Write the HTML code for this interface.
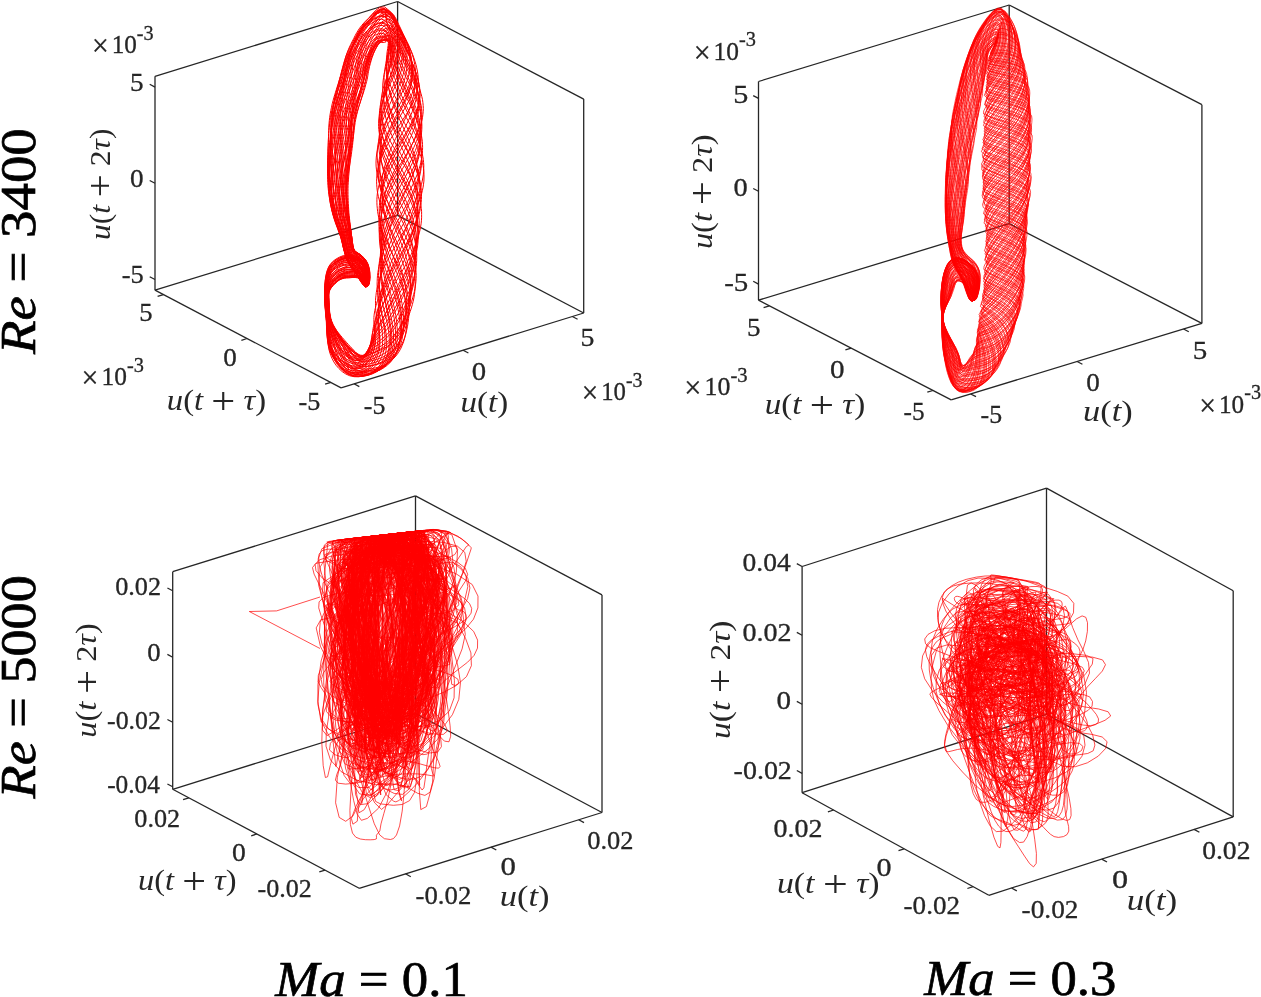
<!DOCTYPE html>
<html><head><meta charset="utf-8"><style>
html,body{margin:0;padding:0;background:#fff;}
svg{display:block;}
text{font-family:"Liberation Serif",serif;fill:#262626;}
.big text{fill:#000;stroke:#000;stroke-width:0.7px;}
.tk text{stroke:#262626;stroke-width:0.3px;}
</style></head><body>
<svg width="1261" height="997" viewBox="0 0 1261 997">
<rect width="1261" height="997" fill="#fff"/>
<g id="axes"><line x1="155.0" y1="76.3" x2="397.6" y2="1.5" stroke="#262626" stroke-width="1.3"/><line x1="397.6" y1="1.5" x2="583.7" y2="99.1" stroke="#262626" stroke-width="1.3"/><line x1="397.6" y1="1.5" x2="397.6" y2="215.4" stroke="#262626" stroke-width="1.3"/><line x1="155.0" y1="76.3" x2="155.0" y2="290.2" stroke="#262626" stroke-width="1.3"/><line x1="583.7" y1="99.1" x2="583.7" y2="313.0" stroke="#262626" stroke-width="1.3"/><line x1="155.0" y1="290.2" x2="397.6" y2="215.4" stroke="#262626" stroke-width="1.3"/><line x1="397.6" y1="215.4" x2="583.7" y2="313.0" stroke="#262626" stroke-width="1.3"/><line x1="155.0" y1="290.2" x2="341.1" y2="387.8" stroke="#262626" stroke-width="1.3"/><line x1="341.1" y1="387.8" x2="583.7" y2="313.0" stroke="#262626" stroke-width="1.3"/><line x1="155.0" y1="279.5" x2="149.7" y2="276.7" stroke="#262626" stroke-width="1.3"/><line x1="155.0" y1="183.3" x2="149.7" y2="180.5" stroke="#262626" stroke-width="1.3"/><line x1="155.0" y1="87.1" x2="149.7" y2="84.3" stroke="#262626" stroke-width="1.3"/><line x1="163.4" y1="294.6" x2="157.6" y2="296.4" stroke="#262626" stroke-width="1.3"/><line x1="247.1" y1="338.5" x2="241.4" y2="340.3" stroke="#262626" stroke-width="1.3"/><line x1="330.9" y1="382.4" x2="325.1" y2="384.2" stroke="#262626" stroke-width="1.3"/><line x1="354.0" y1="383.8" x2="359.3" y2="386.6" stroke="#262626" stroke-width="1.3"/><line x1="463.1" y1="350.2" x2="468.4" y2="353.0" stroke="#262626" stroke-width="1.3"/><line x1="572.3" y1="316.5" x2="577.6" y2="319.3" stroke="#262626" stroke-width="1.3"/><line x1="758.5" y1="81.5" x2="1009.2" y2="5.0" stroke="#262626" stroke-width="1.3"/><line x1="1009.2" y1="5.0" x2="1201.9" y2="104.7" stroke="#262626" stroke-width="1.3"/><line x1="1009.2" y1="5.0" x2="1009.2" y2="223.7" stroke="#262626" stroke-width="1.3"/><line x1="758.5" y1="81.5" x2="758.5" y2="300.2" stroke="#262626" stroke-width="1.3"/><line x1="1201.9" y1="104.7" x2="1201.9" y2="323.4" stroke="#262626" stroke-width="1.3"/><line x1="758.5" y1="300.2" x2="1009.2" y2="223.7" stroke="#262626" stroke-width="1.3"/><line x1="1009.2" y1="223.7" x2="1201.9" y2="323.4" stroke="#262626" stroke-width="1.3"/><line x1="758.5" y1="300.2" x2="951.2" y2="399.9" stroke="#262626" stroke-width="1.3"/><line x1="951.2" y1="399.9" x2="1201.9" y2="323.4" stroke="#262626" stroke-width="1.3"/><line x1="758.5" y1="284.1" x2="753.2" y2="281.3" stroke="#262626" stroke-width="1.3"/><line x1="758.5" y1="191.3" x2="753.2" y2="188.5" stroke="#262626" stroke-width="1.3"/><line x1="758.5" y1="98.4" x2="753.2" y2="95.6" stroke="#262626" stroke-width="1.3"/><line x1="769.4" y1="305.8" x2="763.6" y2="307.6" stroke="#262626" stroke-width="1.3"/><line x1="851.2" y1="348.2" x2="845.4" y2="349.9" stroke="#262626" stroke-width="1.3"/><line x1="933.0" y1="390.5" x2="927.3" y2="392.2" stroke="#262626" stroke-width="1.3"/><line x1="970.6" y1="394.0" x2="976.0" y2="396.7" stroke="#262626" stroke-width="1.3"/><line x1="1077.1" y1="361.5" x2="1082.4" y2="364.3" stroke="#262626" stroke-width="1.3"/><line x1="1183.5" y1="329.0" x2="1188.8" y2="331.8" stroke="#262626" stroke-width="1.3"/><line x1="172.7" y1="571.7" x2="415.5" y2="495.9" stroke="#262626" stroke-width="1.3"/><line x1="415.5" y1="495.9" x2="602.0" y2="594.9" stroke="#262626" stroke-width="1.3"/><line x1="415.5" y1="495.9" x2="415.5" y2="713.5" stroke="#262626" stroke-width="1.3"/><line x1="172.7" y1="571.7" x2="172.7" y2="789.3" stroke="#262626" stroke-width="1.3"/><line x1="602.0" y1="594.9" x2="602.0" y2="812.5" stroke="#262626" stroke-width="1.3"/><line x1="172.7" y1="789.3" x2="415.5" y2="713.5" stroke="#262626" stroke-width="1.3"/><line x1="415.5" y1="713.5" x2="602.0" y2="812.5" stroke="#262626" stroke-width="1.3"/><line x1="172.7" y1="789.3" x2="359.2" y2="888.3" stroke="#262626" stroke-width="1.3"/><line x1="359.2" y1="888.3" x2="602.0" y2="812.5" stroke="#262626" stroke-width="1.3"/><line x1="172.7" y1="786.8" x2="167.4" y2="784.0" stroke="#262626" stroke-width="1.3"/><line x1="172.7" y1="722.3" x2="167.4" y2="719.5" stroke="#262626" stroke-width="1.3"/><line x1="172.7" y1="657.2" x2="167.4" y2="654.4" stroke="#262626" stroke-width="1.3"/><line x1="172.7" y1="590.8" x2="167.4" y2="588.0" stroke="#262626" stroke-width="1.3"/><line x1="188.8" y1="797.9" x2="183.1" y2="799.7" stroke="#262626" stroke-width="1.3"/><line x1="256.9" y1="834.0" x2="251.2" y2="835.8" stroke="#262626" stroke-width="1.3"/><line x1="325.0" y1="870.1" x2="319.3" y2="871.9" stroke="#262626" stroke-width="1.3"/><line x1="405.5" y1="873.8" x2="410.8" y2="876.7" stroke="#262626" stroke-width="1.3"/><line x1="491.0" y1="847.1" x2="496.3" y2="850.0" stroke="#262626" stroke-width="1.3"/><line x1="578.7" y1="819.8" x2="584.0" y2="822.6" stroke="#262626" stroke-width="1.3"/><line x1="802.1" y1="566.5" x2="1046.5" y2="488.1" stroke="#262626" stroke-width="1.3"/><line x1="1046.5" y1="488.1" x2="1233.2" y2="590.7" stroke="#262626" stroke-width="1.3"/><line x1="1046.5" y1="488.1" x2="1046.5" y2="714.3" stroke="#262626" stroke-width="1.3"/><line x1="802.1" y1="566.5" x2="802.1" y2="792.7" stroke="#262626" stroke-width="1.3"/><line x1="1233.2" y1="590.7" x2="1233.2" y2="816.9" stroke="#262626" stroke-width="1.3"/><line x1="802.1" y1="792.7" x2="1046.5" y2="714.3" stroke="#262626" stroke-width="1.3"/><line x1="1046.5" y1="714.3" x2="1233.2" y2="816.9" stroke="#262626" stroke-width="1.3"/><line x1="802.1" y1="792.7" x2="988.8" y2="895.3" stroke="#262626" stroke-width="1.3"/><line x1="988.8" y1="895.3" x2="1233.2" y2="816.9" stroke="#262626" stroke-width="1.3"/><line x1="802.1" y1="773.4" x2="796.8" y2="770.5" stroke="#262626" stroke-width="1.3"/><line x1="802.1" y1="704.3" x2="796.8" y2="701.4" stroke="#262626" stroke-width="1.3"/><line x1="802.1" y1="635.3" x2="796.8" y2="632.4" stroke="#262626" stroke-width="1.3"/><line x1="802.1" y1="566.5" x2="796.8" y2="563.6" stroke="#262626" stroke-width="1.3"/><line x1="833.7" y1="810.0" x2="827.9" y2="811.9" stroke="#262626" stroke-width="1.3"/><line x1="904.2" y1="848.8" x2="898.5" y2="850.7" stroke="#262626" stroke-width="1.3"/><line x1="973.1" y1="886.7" x2="967.4" y2="888.5" stroke="#262626" stroke-width="1.3"/><line x1="1011.5" y1="888.0" x2="1016.8" y2="890.9" stroke="#262626" stroke-width="1.3"/><line x1="1101.7" y1="859.1" x2="1107.0" y2="862.0" stroke="#262626" stroke-width="1.3"/><line x1="1194.1" y1="829.4" x2="1199.4" y2="832.3" stroke="#262626" stroke-width="1.3"/></g>
<g id="traj"><path d="M384.6 8.4l-4.4.6-4 2.8-3.6 3.9-3.4 4-3.2 3.7-2.8 3.6-2.4 3.5-1.9 3.4-1.6 3.2-1.4 3.2-1.2 2.9-1.1 2.9-1.1 2.8-1 2.9-.9 3-.9 3.3-.8 3.5-.8 3.7-.7 3.7-.6 3.6-.6 3.5-.5 3.2-.5 3.1-.5 2.9-.4 2.8-.5 2.8-.4 2.9-.5 2.9-.4 3-.5 3-.4 3.1-.4 3.1-.3 3.1-.2 3.1-.1 3.2 0 3 0 3.1.1 3.1.2 3.1.2 3 .1 3.1.1 3 .1 3 .1 3 .1 3.1.1 3 0 3 0 3.1.1 3 0 3.1.1 3 0 3 .1 3.1 0 3 .2 3.1.1 3 .2 3.1.2 3 .3 3.1.3 3.1.4 3 .4 3.1.4 3 .5 3.1.5 3 .6 3 .6 3 .5 2.9.7 2.9.6 2.8.6 2.9.6 2.8.6 3 .6 3 .5 3.2.6 3.3.6 3.3.8 2.8 1.1 2.1 1.5 1.3 1.8 1.1 2 1.3 2.2 1.6 2.2 2.2 2 2.7 1.6 3.3 1.2 3.9.7 4.5.2 4.4-.3 3.9-.6 3-1 1.6-1.2-.2-1.5-1.5-1.8-2.2-1.8-2.2-2-1.6-2.1-1-2.2-.5-2.3-.2-2.3 0-2.2 0-2.3 0-2.4.3-2.3.5-2.5 1-2.4 1.6-2.3 1.8-2 2.1-1.6 2-1.2 1.9-.8 2-.5 2-.3 2.1 0 2.2 0 2.5 0 2.7.1 2.9.1 3 .1 3.1.3 3.2.4 3.2.5 3.1.6 3.1.9 3 .9 2.9 1 2.9 1 2.9 1 2.9 1 2.8.9 2.8 1 2.8 1 2.8 1 2.9 1.2 2.9 1.4 3 1.5 3 1.8 3 2.1 2.9 2.5 2.4 2.8 2 3.2 1.4 3.5.7 3.9.2 4-.3 4.2-.8 4.2-1.2 4-1.6 3.8-2 3.3-2.4 3-2.8 2.6-3.1 2.2-3.3 1.9-3.6 1.4-3.8 1.2-3.9.8-3.9.5-4 .4-4 .1-3.9-.1-3.9-.1-3.7-.3-3.6-.4-3.5-.5-3.5-.6-3.3-.6-3.3-.7-3.3-.8-3.1-.9-3.1-.9-3.1-.9-3.1-1-3-1.1-3.1-1-3-1-3-1.1-3-1-3-1-3-.9-3-1-3-.8-3.1-.8-3-.7-3.1-.6-3-.6-3.1-.4-3.1-.4-3-.3-3.1-.2-3-.1-3.1 0-3.1.1-3 .2-3.1.3-3 .4-3.1.5-3 .6-3.1.8-3 .8-3 1-3.1 1.1-3 1.1-3 1.3-3.1 1.3-3 1.4-3 1.5-3.1 1.6-3 1.5-3 1.7-3.1 1.6-3 1.7-3.1 1.7-3.1 1.6-3 1.7-3.1 1.6-3.1 1.6-3 1.5-3.1 1.4-3.1 1.4-3 1.2-3.1 1.2-3 1.1-3 .9-3 .9-3 .7-3 .6-3 .4-2.9.3-3 .1-2.9 0-3-.2-2.9-.4-3-.5-3-.6-3.1-.8-3-1-3.1-1-3.2-1.2-3.1-1.3-3.2-1.3-3.2-1.4-3.2-1.5-3.2-1.4-3.2-1.5-3.1-1.4-3-1.4-3.1-1.4-2.9-1.3-3-1.2-2.9-1.3-3-1.3-2.9-1.5-2.7-1.6-2.3-1.7-1.7-1.8-1.1-1.5-.7-1.4-.2-1.3.1-1.4 1.8-1.4 1.2-1.4 1.5-1.4 1.3-1 1.1-.8.8-.7 1-1 1.3-1 1.7-1.2 2.1-1.2 2.5-1.2 2.7-1.1 2.9-1.1 3-1 2.9-.8 2.8-.7 2.6-.5 2.1-.5 2-.4 1.9-.5 2-.5 2.2-.8 2.5-.8 2.8-1 3.1-1.1 3.1-1.1 3.3-1.1 3.2-1.1 3.1-1.1 2.9-1 2.9-1 2.7-1 2.7-.8 2.6-.8 2.7-.7 2.7-.7 2.8-.6 2.8-.5 2.9-.5 2.9-.6 2.9-.5 3-.6 3-.6 3.1-.7 3-.6 3-.7 3.1-.7 3-.7 3.1-.6 3-.7 3.1-.6 3-.6 3-.6 3.1-.5 3-.4 3.1-.4 3-.4 3.1-.3 3-.1 3.1-.2 3 0 3.1 0 3 .1 3 .1 3 .2 3.1.3 3 .4 2.9.4 3 .6 3 .6 3 .6 3 .7 3 .7 2.9.6 3 .5 2.9.5 2.8.4 2.9.6 3 .8 3.3 1.2 3.5 1.4 3.3 1.4 2.9 1.5 2.5 1.6 2.3 1.6 2.4 1.7 2.7 1.7 3.3 1.8 3.8 1.7 3.7 1.7 3 1.5 1.8 1.1-.1.7-2.2.2-3.9-.5-4.8-1.1-4.9-1.9-4.3-2.6-3.4-3.1-2.6-3.6-1.7-3.8-.9-3.8 0-3.9.6-3.6 1.3-3.3 1.7-2.9 2.1-2.3 2.2-1.9 2.6-1.5 2.9-1.2 3.3-.8 3.7-.6 4.1-.4 4.2-.2 4.3 0 4.2.1 4.1.1 3.8.2 3.5.3 3.2.2 2.9.3 2.8.3 2.7.3 2.8.2 2.9.3 3 .3 3 .3 3.1.5 3.1.6 3 .7 3 .9 3 1.2 2.9 1.4 2.8 1.7 2.8 2.1 2.8 2.4 2.7 2.7 2.5 3 2.3 3.2 1.8 3.3 1.3 3.4.6 3.3-.2 3.3-1.1 3.1-1.7 2.8-2.4 2.4-2.9 1.9-3.3 1.5-3.4 1-3.5.8-3.3.4-3.3.3-3.1.1-3 .1-2.8-.1-2.7 0-2.6.1-2.5 0-2.4.1-2.4.2-2.3.3-2.3.4-2.4.4-2.4.5-2.5.6-2.5.7-2.6.8-2.6.9-2.7.9-2.7 1.1-2.8 1.1-2.8 1.2-2.9 1.3-2.9 1.3-2.9 1.4-3 1.5-3 1.5-3 1.5-3 1.6-3 1.7-3.1 1.6-3 1.6-3 1.7-3.1 1.6-3 1.6-3.1 1.5-3 1.6-3.1 1.4-3 1.4-3 1.4-3.1 1.3-3 1.2-3 1.2-3.1 1-3 1-3.1.8-3 .8-3 .6-3.1.5-3 .4-3.1.2-3 .1-3.1 0-3-.2-3.1-.3-3.1-.5-3-.6-3.1-.8-3.1-.9-3-1-3.1-1.1-3.1-1.3-3-1.4-3.1-1.4-3-1.6-3-1.6-3.1-1.7-3-1.7-3-1.7-3-1.8-3.1-1.8-3-1.7-3-1.8-3.1-1.6-3-1.7-3.1-1.5-3.1-1.5-3.1-1.3-3.1-1.3-3.1-1.1-3.2-1-3.1-.8-3.2-.8-3.1-.5-3.2-.4-3.1-.3-3.1-.1-3 0-3 .2-2.9.3-2.9.4-2.8.5-2.7.5-2.7.7-2.7.7-2.7.7-2.8.8-3 .9-3 .9-3.2.9-3.3.8-3.2.7-2.9.5-2.7.1-2.2-.3-2.2-.6-2.3-.7-2.9-1.1-3.4-1.9-3.5-2.7-2.7-3.1-.8-3.2.6-3.2 1.5-3 2-2.9 2.2-2.7 2.5-2.3 2.6-2 2.9-1.8 2.8-1.7 2.8-1.6 2.7-1.5 2.6-1.4 2.6-1.4 2.6-1.4 2.8-1.2 3-1.3 3.2-1.2 3.5-1.1 3.6-1.1 3.5-1.1 3.5-1.1 3.2-.9 3-1 2.8-.9 2.7-.9 2.7-.9 2.6-.9 2.8-.9 2.8-.8 3-.9 3.1-.8 3.2-.8 3.2-.6 3.3-.6 3.3-.5 3.2-.3 3.2-.3 3.3-.2 3.1-.2 3.2-.2 3.1-.2 3.1-.2 3-.2 3.1-.2 3-.1 3-.2 3-.1 3-.1 3 0 3 0 3.1.1 3 .1 3.1.1 3 .2 3.1.2 3 .3 3.1.3 3 .4 3 .4 3 .5 3.1.6 3 .6 3 .7 3 .8 3 .8 3.1.9 3 1 3 1 3 1.1 3.1 1.1 3 1 2.9 1.1 3 .9 2.9.9 2.9.7 2.9.7 2.9.9 3 1.1 3.1 1.5 3.1 1.7 2.7 1.9 2.3 1.9 2.1 2 2 2 2.3 2 2.7 1.9 3.4 1.6 3.9 1.3 3.8 1 3.3.5 2.3 0 .8-.4-1.1-.8-2.5-1.2-3.2-1.7-3-2.1-2.3-2.4-1.5-2.6-.7-2.7-.2-2.7.2-2.7.5-2.5.6-2.5.8-2.4 1.2-2.4 1.5-2.2 2-2.2 2.3-1.9 2.5-1.4 2.3-1.1 2.3-.7 2.1-.4 2-.2 2 0 2 .1 2.2.2 2.4.1 2.7.2 2.9.2 3.1.3 3.2.5 3.3.7 3.2 1.1 3.1 1.3 2.9 1.6 2.9 1.7 2.6 1.9 2.6 2 2.4 2 2.4 2 2.3 2 2.3 1.9 2.1 1.9 2.1 1.9 2 1.7 1.9 1.7 1.7 1.6 1.7 1.6 1.3 1.4 1.1 1.4.7 1.4.1 1.4-.2 1.5-.6 1.6-.7 1.8-.9 2.1-.9 2.3-.8 2.5-.9 2.6-1 2.7-1.2 2.7-1.3 2.7-1.6 2.6-1.9 2.6-2.1 2.5-2.4 2.3-2.7 2.2-2.8 2-3.1 1.9-3.2 1.7-3.4 1.6-3.4 1.5-3.4 1.4-3.4 1.2-3.5 1.1-3.4 1-3.4.9-3.4.7-3.3.5-3.3.4-3.3.3-3.2.1-3.2 0-3.2-.1-3.1-.3-3.1-.5-3.1-.6-3.1-.7-3.1-.8-3-1-3.1-1-3-1.1-3-1.3-3.1-1.2-3-1.4-3-1.4-3.1-1.4-3-1.5-3.1-1.5-3-1.5-3.1-1.5-3-1.5-3.1-1.6-3-1.5-3.1-1.4-3-1.5-3.1-1.4-3-1.3-3.1-1.2-3-1.2-3.1-1.1-3-1-3-.9-3.1-.8-3-.6-3-.6-3-.3-3.1-.3-3-.1-3 0-3 .2-3 .4-3 .4-3.1.6-3 .8-3 .8-3.1 1-3 1.1-3.1 1.2-3.1 1.4-3 1.4-3.1 1.4-3.1 1.6-3.1 1.6-3.1 1.6-3.1 1.7-3 1.7-3.1 1.7-3 1.6-3.1 1.6-3 1.6-3 1.5-3 1.4-3 1.2-3 1.2-2.9 1-3 .8-3.1.7-3 .5-3.1.3-3.2.1-3.2 0-3.2-.3-3.3-.3-3.3-.5-3.3-.6-3.2-.8-3.1-.7-3-.9-3-1.1-3-1.3-3.1-1.6-3.5-2-3.9-2.4-4.3-2.4-4.3-2.4-4.2-2.6-3.6-3.5-2.5-4-2-3.7 1.6-3.2 3.3-2.7 3.9-2.4 3.6-2.2 3.1-1.9 2.9-1.7 2.9-1.5 2.9-1.2 3-1.2 3-1 2.9-.9 3.1-.8 3-.8 3-.6 3.1-.6 3.1-.4 3-.4 3-.3 2.9-.2 2.8-.3 2.9-.3 2.8-.4 3-.4 3-.5 3.1-.5 3.1-.5 3.2-.5 3.1-.5 3-.5 3-.4 2.9-.3 2.9-.3 2.8-.3 2.8-.1 2.8-.1 2.8 0 2.9 0 2.9.1 2.9 0 2.9 0 3 0 3-.1 3-.1 3.1-.1 3-.2 3.1-.2 3-.2 3.1-.3 3-.3 3.1-.3 3-.3 3-.2 3.1-.3 3-.2 3-.2 3.1-.2 3.1-.1 3 0 3.1 0 3.1.1 3.1.1 3.1.1 3 .2 3.1.2 3 .2 3 .3 2.9.3 2.9.3 2.8.3 2.9.4 2.8.4 2.9.3 2.9.4 3.1.4 3.2.3 3.3.4 3.3.7 2.8.9 2.1 1.3 1.4 1.7 1.3 1.8 1.5 2 1.9 1.9 2.3 1.8 2.7 1.5 3.4 1.1 4 .7 4.4.3 4.4 0 3.8-.1 2.8-.5 1.1-.8-.7-1-2.1-1.3-3-1.6-3.1-1.9-2.6-2.2-2-2.5-1.4-2.6-.9-2.8-.5-2.9-.3-2.9 0-2.9.4-2.8.9-2.7 1.2-2.5 1.7-2.2 2-1.8 2.2-1.4 2.5-1.1 2.7-.8 2.9-.4 3.1-.3 3.2-.1 3.3 0 3.4.1 3.4.1 3.3.1 3.1.2 3.1.2 3 .3 2.9.3 2.9.3 2.9.3 3.1.4 3 .3 3.1.4 3.1.3 3.1.5 3.1.5 3.1.6 3.1.8 3.1 1.1 3.2 1.3 3.2 1.7 3.3 2 3.4 2.5 3.2 2.9 2.9 3.3 2.5 3.7 1.9 4 1.1 4.4.3 4.4-.5 4.5-1.1 4.3-1.8 4-2.3 3.5-2.8 3-3.2 2.5-3.4 1.9-3.6 1.5-3.8 1-3.9.7-3.9.4-3.9.1-3.9-.2-3.8-.2-3.7-.5-3.5-.5-3.5-.5-3.3-.6-3.3-.6-3.1-.6-3.1-.6-3-.6-3-.6-2.9-.6-3-.5-2.9-.5-2.9-.5-2.9-.4-2.9-.4-2.9-.3-2.9-.3-3-.1-2.9-.1-3 0-3 .1-3 .1-3 .3-3 .3-3.1.4-3 .6-3.1.6-3 .6-3.1.8-3.1.8-3 .9-3.1.9-3 1-3.1 1.1-3 1.1-3.1 1.2-3 1.3-3.1 1.3-3 1.3-3 1.4-3.1 1.4-3 1.4-3.1 1.4-3 1.5-3 1.4-3.1 1.4-3 1.4-3.1 1.4-3 1.3-3.1 1.3-3 1.2-3.1 1.1-3.1 1.1-3.1.9-3 .9-3.1.8-3.1.7-3 .5-3.1.5-3.1.3-3 .2-3 0-3.1 0-3-.2-3-.3-3-.4-3-.5-3-.7-3-.7-3-.9-3-.9-3-1.1-3-1.1-3-1.2-3-1.3-3.1-1.3-3.1-1.4-3-1.4-3.1-1.4-3.2-1.4-3.1-1.4-3.1-1.4-3-1.3-3.1-1.2-3-1.2-2.9-1.1-2.9-1-2.9-.9-2.8-.7-2.9-.7-2.9-.6-3-.4-3.1-.4-3.1-.4-2.8-.5-2.3-.7-1.5-.8-.6-.8-.1-.8.1-.6 0-.5-.2-.7-.2-1.3-.1-1.6.1-1.6.3-1.5.3-1.3.5-1.2.9-1.3 1.3-1.5 1.8-1.4 2.1-1.5 2.4-1.5 2.6-1.4 2.7-1.4 2.7-1.2 2.8-1.2 2.6-1.1 2.6-.9 2.3-.9 2.4-.9 2.3-.8 2.4-1 2.6-1 2.7-1.2 2.8-1.2 3-1.2 3-1.3 2.9-1.2 3-1.3 2.9-1.2 2.9-1.2 2.8-1.1 2.9-1.1 2.8-1 2.9-1 2.9-.9 3-.8 3-.7 3-.6 3-.6 3.1-.6 3-.6 3.1-.6 3-.7 3.1-.6 3-.6 3-.6 3-.6 3.1-.6 3-.5 3-.5 3-.5 3.1-.4 3-.4 3.1-.3 3-.2 3.1-.2 3-.1 3.1-.1 3 .1 3 0 3 .2 3 .2 3.1.3 3 .4 3 .5 3 .6 3 .6 3.1.8 3 .8 3.1 1 3 1 3.1 1 3 .9 3 .9 2.9.8 2.7.6 2.7.5 2.7.7 3.1.9 3.7 1.2 4.3 1.4 4.1 1.5 3.2 1.4 2.6 1.6 2.2 1.7 2.2 1.9 2.4 2.1 3.1 2.2 3.5 2.2 3.4 2.1 2.8 1.9 1.5 1.4-.3.9-2.5.4-4.1-.4-5-1.1-5-2-4.3-2.7-3.3-3.2-2.4-3.7-1.5-3.8-.6-3.8.3-3.8.9-3.5 1.5-3.2 1.9-2.7 2.2-2.3 2.4-1.9 2.7-1.4 3-1.2 3.4-.8 3.6-.6 3.8-.3 3.9-.2 3.9 0 3.8.2 3.7.1 3.4.3 3.3.2 3 .3 3 .3 2.9.4 2.8.5 2.9.5 2.9.6 3 .8 2.9 1 2.9 1 2.9 1.3 2.8 1.4 2.7 1.6 2.6 1.7 2.5 2 2.5 2.1 2.3 2.4 2.2 2.4 2 2.7 1.9 2.7 1.5 2.6 1.1 2.6.6 2.4 0 2.2-.7 2-1.4 1.8-1.9 1.5-2.4 1.2-2.6 1-2.7.8-2.7.7-2.5.7-2.3.7-2.2.7-2 .8-1.9.8-1.9 1-1.8 1-1.9 1.1-1.9 1.2-2 1.3-2 1.3-2.2 1.3-2.3 1.5-2.4 1.4-2.4 1.5-2.6 1.6-2.7 1.6-2.8 1.5-2.8 1.7-2.8 1.6-3 1.6-2.9 1.6-3 1.7-3 1.6-3 1.5-3.1 1.6-3 1.5-3.1 1.4-3 1.4-3.1 1.3-3.1 1.2-3 1.1-3.1 1-3 .9-3 .8-3.1.7-3 .6-3 .5-3.1.4-3 .2-3 .2-3.1 0-3-.1-3-.2-3.1-.3-3-.5-3.1-.6-3-.6-3-.9-3.1-.9-3.1-1-3-1.1-3.1-1.2-3-1.4-3.1-1.4-3-1.4-3.1-1.6-3-1.6-3.1-1.6-3-1.6-3.1-1.7-3-1.7-3-1.6-3-1.6-3.1-1.6-3-1.5-3-1.5-3-1.4-3.1-1.3-3-1.2-3-1.1-3.1-1-3-.8-3.1-.7-3.1-.6-3-.4-3.2-.2-3.1-.1-3.1.1-3.2.2-3.2.4-3.1.5-3.2.6-3.1.8-3.1.9-3.1 1-3 1.1-3 1.2-3 1.1-3 1.3-2.9 1.2-2.9 1.2-2.9 1.1-2.8 1.1-2.9 1-2.9 1-3 .8-3.1.8-3.1.7-3.1.6-3.2.6-3.2.4-3.1.2-3.2-.3-3.2-.7-3.6-1.2-4-1.5-4.6-1.7-5-2.1-5.1-3.4-4.5-4.5-4.1-4.4-.3-4.1 2-3.8 3.2-3.8 3.6-3.6 3.6-3.2 3.6-2.6 3.5-2.2 3.5-1.8 3.3-1.5 3.1-1.5 2.8-1.3 2.7-1.3 2.7-1.2 2.8-1.1 2.9-1.2 3.3-1.1 3.7-1 3.9-1 4-1 4-.8 3.7-.8 3.4-.6 3.1-.6 2.8-.6 2.7-.5 2.7-.5 2.6-.5 2.8-.6 2.9-.5 3.1-.5 3.2-.5 3.2-.4 3.3-.3 3.3-.2 3.3-.1 3.2 0 3.2.1 3.2.1 3.2.2 3.1.1 3.1.1 3 .2 3.1.1 3 .1 3 .1 3 .1 3.1.2 3 .1 3 .2 3 .2 3.1.2 3 .2 3.1.2 3 .3 3.1.3 3 .3 3.1.4 3 .5 3.1.4 3 .6 3.1.5 3 .6 3 .7 3.1.7 3 .7 3 .8 3 .8 3 .8 2.9.8 2.9.9 2.9.8 2.9.8 2.9.7 3 .7 3.1.6 3.2.7 3.2.9 2.9 1.1 2.3 1.6 1.8 1.8 1.5 2.1 1.5 2.1 1.7 2.2 2.1 2.1 2.5 1.8 3.2 1.4 3.8.9 4.2.4 4.3 0 3.8-.4 2.9-.8 1.4-1.2-.3-1.4-1.6-1.7-2.2-1.9-2.3-2-1.6-2.2-.9-2.2-.3-2.3 0-2.3.1-2.2.2-2.3.2-2.2.3-2.3.6-2.3 1.1-2.4 1.7-2.3 1.9-2 2.1-1.7 2-1.1 1.9-.8 1.7-.5 1.8-.2 1.9-.1 1.9.1 2.2.1 2.5 0 2.7.1 3 .2 3.2.3 3.2.4 3.3.6 3.2.8 3.1 1.1 3 1.2 2.8 1.4 2.8 1.4 2.8 1.4 2.6 1.4 2.7 1.3 2.6 1.4 2.6 1.3 2.5 1.3 2.6 1.4 2.5 1.4 2.6 1.5 2.6 1.7 2.6 1.8 2.3 2 2 2.2 1.6 2.5 1 2.7.5 3 0 3.2-.4 3.4-.6 3.5-1 3.5-1.2 3.4-1.5 3.3-1.8 3-2.1 2.8-2.4 2.5-2.7 2.3-3 2-3.2 1.7-3.4 1.5-3.5 1.2-3.7 1-3.7.8-3.8.6-3.7.5-3.7.4-3.6.2-3.6.2-3.5 0-3.4-.1-3.4-.2-3.3-.3-3.3-.5-3.2-.5-3.2-.6-3.1-.7-3.1-.8-3.1-.8-3.1-.9-3-1-3.1-1.1-3-1-3-1.1-3.1-1.2-3-1.1-3-1.1-3.1-1.1-3-1.1-3-1.1-3.1-1-3.1-1-3-.9-3.1-.9-3-.9-3.1-.7-3-.7-3.1-.7-3.1-.5-3-.5-3.1-.3-3-.3-3.1-.1-3-.1-3 .1-3.1.2-3 .4-3 .4-3.1.6-3 .7-3 .8-3 .9-3.1 1.1-3 1.1-3 1.3-3.1 1.3-3 1.5-3 1.5-3.1 1.5-3 1.7-3.1 1.6-3.1 1.7-3 1.7-3.1 1.7-3.1 1.7-3 1.7-3.1 1.7-3 1.6-3.1 1.6-3 1.4-3 1.5-3 1.3-3 1.1-3 1.1-2.9.9-3 .8-2.9.6-3 .4-2.9.3-3 0-3.1-.1-3-.3-3.1-.5-3.2-.7-3.2-.8-3.2-1-3.3-1.1-3.3-1.2-3.3-1.3-3.3-1.4-3.2-1.4-3.2-1.4-3-1.4-2.9-1.5-2.9-1.6-3-1.6-3-1.9-3.1-2.2-3.1-2.3-2.9-2.4-2.4-2-1.9-2.1-1.3-2.3-.5-2.4.4-2.2 1.7-2.1 2.4-1.7 2.5-1.5 2.1-1.1 1.7-1.1 1.7-1.1 1.8-1.2 2.2-1.2 2.4-1.1 2.6-1.1 2.9-1 2.9-.9 3.1-.9 3-.7 2.9-.6 2.7-.5 2.4-.3 2.3-.3 2.2-.4 2.2-.4 2.4-.5 2.6-.7 2.8-.8 3.1-.8 3.2-.9 3.2-.9 3.2-.9 3.1-.9 3-.8 2.9-.8 2.8-.7 2.7-.7 2.7-.6 2.7-.5 2.7-.4 2.7-.4 2.9-.4 2.8-.3 2.9-.3 2.9-.4 3-.4 3-.4 3-.5 3.1-.5 3-.5 3.1-.6 3-.5 3.1-.5 3-.6 3.1-.5 3-.6 3-.4 3.1-.5 3-.4 3.1-.4 3-.3 3.1-.2 3-.2 3.1-.1 3.1 0 3 0 3.1 0 3 .2 3 .2 3 .2 3 .3 3 .4 3 .4 2.9.5 2.9.5 2.9.5 3 .5 2.9.5 3 .5 3 .4 3.1.4 3 .6 2.9.8 2.9 1.2 2.7 1.5 2.6 1.5 2.4 1.7 2.3 1.7 2.3 1.6 2.6 1.6 2.9 1.4 3.6 1.4 4.1 1.3 3.9 1.1 3.3.9 2.1.6.3.3-1.8-.3-3.3-.7-4.3-1.2-4.4-1.8-3.8-2.5-3.1-2.9-2.3-3.3-1.6-3.6-.9-3.6-.2-3.6.4-3.5 1-3.2 1.4-2.9 1.8-2.4 2-2 2.4-1.5 2.6-1.3 3.1-.9 3.5-.6 3.9-.4 4-.3 4.2 0 4.2 0 4 .1 3.8.2 3.5.2 3.2.2 3 .3 2.8.2 2.8.2 2.7.2 2.9.1 3 .1 3.1.1 3.2.2 3.1.2 3.2.4 3.2.6 3.1.7 3.1 1.1 3.1 1.4 3 1.7 3.1 2.2 3.2 2.6 3 3 2.8 3.3 2.4 3.6 1.9 3.9 1.2 4 .3 4-.6 4-1.4 3.8-2.1 3.3-2.8 2.8-3.2 2.3-3.6 1.6-3.8 1.2-3.8.7-3.9.3-3.7.1-3.7-.2-3.5-.4-3.4-.4-3.2-.5-3-.6-2.9-.5-2.8-.5-2.7-.4-2.6-.4-2.6-.3-2.5-.2-2.6-.1-2.5 0-2.6 0-2.6.2-2.7.3-2.6.3-2.8.5-2.7.6-2.8.7-2.9.8-2.9.9-2.9 1.1-2.9 1.1-3 1.2-3 1.4-3 1.4-3 1.5-3.1 1.6-3 1.6-3.1 1.7-3 1.7-3.1 1.7-3 1.8-3.1 1.8-3 1.7-3.1 1.8-3 1.8-3 1.7-3.1 1.7-3 1.7-3 1.7-3.1 1.5-3 1.6-3.1 1.4-3 1.3-3 1.3-3.1 1.1-3 1.1-3.1.9-3 .7-3.1.7-3.1.4-3 .4-3.1.1-3.1 0-3.1-.1-3-.3-3.1-.5-3.1-.6-3-.7-3.1-.9-3.1-1.1-3-1.1-3-1.3-3.1-1.4-3-1.4-3-1.6-3-1.6-3-1.7-3.1-1.7-3-1.7-3-1.7-3-1.7-3.1-1.7-3-1.7-3.1-1.6-3.1-1.6-3.1-1.5-3.2-1.3-3.1-1.3-3.1-1.2-3.2-1.1-3.1-.9-3-.8-3.1-.6-2.9-.6-3-.3-2.8-.3-2.8-.1-2.8-.1-2.7.1-2.7.2-2.7.3-2.9.4-3 .5-3.1.5-3.2.6-3.2.5-2.9.3-2.3.1-1.7-.2-1.2-.5-1-.5-1.4-.6-1.8-1-2.2-1.7-2.7-2.3-.9-2.6.1-2.6.7-2.5 1.1-2.4 1.5-2.2 1.7-2 2.2-1.9 2.3-1.7 2.6-1.7 2.6-1.6 2.6-1.6 2.6-1.5 2.6-1.4 2.6-1.4 2.7-1.3 2.7-1.2 3-1.2 3.1-1.2 3.1-1.2 3.2-1.2 3.2-1.1 3.1-1.2 3-1.1 2.8-1.1 2.8-1.2 2.7-1.1 2.6-1.1 2.8-1.1 2.8-1 2.9-1.1 3.1-1 3.1-1 3.1-.8 3.2-.8 3.2-.7 3.3-.5 3.2-.5 3.2-.5 3.1-.4 3.2-.4 3.1-.4 3.1-.4 3-.4 3.1-.4 3-.4 3-.3 3-.3 3-.2 3-.2 3-.1 3.1-.1 3-.1 3.1.1 3 0 3.1.1 3 .2 3.1.3 3 .3 3 .3 3 .5 3 .5 3 .5 3 .7 3 .7 3.1.8 3 .9 3 1 3.1 1.1 3.1 1.2 3 1.2 3.1 1.1 3 1.2 3 1 2.8.9 2.8.7 2.7.7 2.8.8 3.1 1.1 3.5 1.4 4 1.6 3.6 1.7 2.9 1.7 2.3 1.8 2.1 1.9 2.1 2 2.5 2.1 3.1 2.1 3.6 1.9 3.6 1.7 3 1.2 1.8.8.2.3-1.8-.2-3.4-.9-4-1.4-3.9-2.1-3.2-2.6-2.2-2.9-1.4-3.1-.7-3.2 0-3.2.4-3 .9-2.9 1.2-2.7 1.6-2.5 1.9-2.3 2.2-2 2.6-1.7 2.7-1.3 2.8-1 2.8-.6 2.7-.4 2.8-.1 2.7 0 2.6.1 2.7.2 2.7.2 2.9.2 2.9.2 3 .4 3.2.5 3.1.6 3.1.9 3.1 1.2 2.9 1.4 2.8 1.6 2.7 1.7 2.7 1.9 2.5 2 2.4 2 2.4 2.1 2.2 2.1 2.1 2.1 2 2.1 1.9 2.1 1.8 2.1 1.6 2 1.3 1.8 1.1 1.7.6 1.6.2 1.4-.4 1.2-.9 1.2-1.2 1.1-1.4 1.2-1.6 1.3-1.5 1.4-1.4 1.5-1.4 1.7-1.3 1.9-1.2 1.9-1.4 2-1.4 2.1-1.6 2.1-1.7 2.1-2 2-2.1 2.1-2.4 1.9-2.5 2-2.7 1.8-2.8 1.8-2.9 1.7-3.1 1.7-3.1 1.6-3.1 1.5-3.1 1.4-3.2 1.4-3.2 1.2-3.2 1.2-3.2 1.1-3.2.9-3.1.9-3.2.7-3.1.6-3.1.5-3.1.4-3.1.2-3.1.1-3.1 0-3-.1-3.1-.3-3-.4-3-.5-3.1-.6-3-.7-3-.7-3.1-.9-3-.9-3-1.1-3.1-1-3-1.2-3.1-1.2-3-1.3-3.1-1.3-3-1.3-3.1-1.4-3-1.4-3.1-1.4-3-1.4-3.1-1.4-3-1.4-3.1-1.4-3-1.4-3.1-1.2-3-1.3-3-1.1-3.1-1.1-3-1-3-.9-3-.8-3-.7-3-.6-3.1-.5-3-.3-3-.2-3-.1-3.1.1-3 .2-3.1.3-3 .5-3.1.6-3.1.7-3.1.8-3.1 1-3.1 1-3.1 1.2-3.1 1.3-3.1 1.3-3.1 1.4-3.1 1.4-3.1 1.4-3 1.5-3 1.5-3 1.4-3 1.4-3 1.3-3 1.2-3 1.2-3 1-3 .8-3.1.7-3.1.6-3.1.4-3.2.2-3.2.1-3.2 0-3.2-.1-3.2-.2-3.1-.3-3-.6-3-.8-3.2-1.1-3.6-1.7-4-2-4.6-2.3-5-2.3-5-2.6-4.7-3.9-3.6-4.6-3.5-4.3 1.1-3.7 3.2-3.4 4.1-3.1 4-2.9 3.7-2.5 3.5-2.1 3.3-1.8 3.3-1.5 3.2-1.2 3.1-1.1 3-1.1 3-.9 2.9-.9 2.9-.8 3.1-.7 3.2-.7 3.4-.6 3.5-.5 3.4-.5 3.4-.4 3.2-.5 3.1-.4 3.1-.4 2.9-.4 2.9-.4 3-.5 2.9-.4 3-.4 3-.5 3.1-.4 3-.3 3-.3 3-.2 3-.1 3 0 3 .1 3 .1 3 .1 3 .2 3 .1 3 .1 3.1 0 3 .1 3 0 3 0 3.1-.1 3 0 3.1-.1 3 0 3.1-.1 3-.1 3 0 3.1-.1 3 0 3 0 3.1.1 3.1.1 3 .2 3.1.2 3.1.2 3.1.3 3 .3 3.1.4 3 .4 3 .4 3 .5 3 .4 2.9.5 2.9.5 2.8.5 2.8.5 2.9.5 2.9.5 3.1.5 3.2.4 3.3.6 3.3.7 2.8 1.1 2.1 1.4 1.2 1.7 1.1 2 1.3 2.2 1.7 2.1 2.2 1.9 2.7 1.6 3.4 1.1 4 .6 4.4.2 4.5-.2 3.9-.6 3-.8 1.4-1.2-.3-1.4-1.6-1.6-2.4-1.8-2.5-1.9-1.9-2.1-1.3-2.3-.8-2.4-.4-2.4-.2-2.5-.1-2.4 0-2.6.2-2.5.6-2.5 1.1-2.4 1.6-2.3 1.8-2 2.1-1.5 2.2-1.2 2.2-.8 2.2-.5 2.4-.2 2.5-.1 2.6 0 2.8 0 2.9.1 3 .1 3.1.2 3.1.2 3.2.3 3 .5 3.1.5 3 .6 3 .7 3 .7 3 .7 3 .8 2.9.7 3 .7 2.9.8 2.9.9 3 1 3 1.2 3.1 1.4 3.2 1.7 3.2 2 3.2 2.5 3 2.7 2.5 3.2 2.1 3.6 1.4 4 .6 4.2.1 4.4-.6 4.4-1.1 4.3-1.6 3.9-2.1 3.6-2.5 3.1-2.8 2.7-3.2 2.2-3.4 1.8-3.7 1.4-3.8 1-3.9.7-4 .4-4 .1-4-.1-3.9-.2-3.8-.4-3.7-.4-3.6-.5-3.5-.7-3.4-.6-3.3-.7-3.2-.8-3.2-.8-3.1-.9-3-.8-3.1-.9-3-.9-3-.9-3-.9-2.9-.8-3-.8-3-.8-3-.8-3-.6-3-.6-3-.5-3-.5-3.1-.3-3-.3-3.1-.1-3-.1-3.1 0-3.1.1-3 .2-3.1.3-3 .4-3.1.5-3.1.6-3 .7-3.1.8-3 .9-3 .9-3.1 1.1-3 1.2-3.1 1.2-3 1.4-3 1.4-3.1 1.4-3 1.6-3 1.5-3.1 1.6-3 1.7-3.1 1.6-3 1.7-3.1 1.6-3 1.6-3.1 1.6-3.1 1.6-3 1.5-3.1 1.4-3.1 1.3-3 1.3-3.1 1.1-3.1 1.1-3 .9-3.1.8-3 .7-3 .6-3 .4-3 .3-3 .2-3 0-3-.1-2.9-.3-3-.4-2.9-.6-3-.7-3-.9-3-1-3-1.1-3.1-1.2-3.1-1.3-3.1-1.3-3.1-1.5-3.1-1.4-3.2-1.5-3.1-1.5-3.2-1.5-3.1-1.5-3-1.4-3.1-1.3-2.9-1.3-3-1.2-2.9-1.1-3-1-3-.9-3-1.1-2.8-1.1-2.5-1.2-1.9-1.4-1.1-1.4-.5-1.1 0-1 .1-.9.3-.9.3-1.3.7-1.4 1-1.4.8-1.1.7-.9.6-.9.9-1 1.3-1.1 1.7-1.3 2.1-1.3 2.4-1.2 2.7-1.3 2.8-1.1 3-1.1 2.8-.9 2.8-.8 2.5-.6 2.2-.6 2-.6 2-.6 2.1-.6 2.3-.9 2.5-.9 2.8-1.1 3.1-1.1 3.1-1.2 3.1-1.2 3.2-1.2 3-1.1 2.9-1.2 2.9-1 2.7-1 2.8-1 2.7-.9 2.7-.8 2.8-.7 2.8-.7 2.9-.6 2.9-.6 2.9-.6 3-.6 3-.6 3.1-.7 3-.7 3-.7 3.1-.7 3-.7 3-.7 3.1-.7 3-.7 3.1-.6 3-.6 3-.5 3.1-.5 3-.4 3.1-.4 3-.3 3.1-.3 3-.1 3-.1 3.1-.1 3 .1 3 .1 3 .2 3.1.3 3 .3 3 .5 3 .5 3 .7 3 .7 3.1.8 3 .8 3 .8 3 .7 2.9.6 2.8.5 2.7.5 2.8.5 3.1.9 3.6 1.1 4 1.3 3.9 1.4 3.2 1.4 2.6 1.5 2.3 1.6 2.3 1.8 2.6 1.9 3.1 2.1 3.6 2.1 3.5 2.1 2.8 1.8 1.5 1.6-.4 1-2.5.4-4.3-.2-5.2-1.1-5.3-1.9-4.6-2.7-3.7-3.3-2.7-3.7-1.8-4-.9-4.1.1-3.9.8-3.8 1.5-3.3 2-2.9 2.2-2.4 2.4-1.8 2.7-1.4 3.1-1.1 3.4-.8 4-.5 4.2-.4 4.3-.2 4.4 0 4.3.1 4.1.2 3.8.3 3.5.2 3.1.3 2.9.3 2.8.3 2.7.3 2.8.4 2.9.3 2.9.4 3.1.5 3 .7 3 .8 3 1 2.9 1.2 2.8 1.4 2.8 1.6 2.7 2 2.6 2.2 2.5 2.5 2.5 2.8 2.2 2.9 2 3.1 1.5 3.1.9 3.1.3 2.9-.5 2.8-1.3 2.6-1.9 2.2-2.5 1.8-2.9 1.5-3.2 1.1-3.2.8-3.1.6-3 .5-2.8.3-2.7.3-2.5.4-2.5.3-2.3.4-2.2.4-2.2.5-2.1.6-2.2.7-2.2.7-2.3.9-2.3.9-2.4.9-2.5 1.1-2.5 1.1-2.6 1.1-2.7 1.3-2.8 1.2-2.8 1.4-2.8 1.3-2.9 1.4-2.9 1.5-3 1.4-2.9 1.5-3 1.5-3 1.5-3.1 1.5-3 1.5-3 1.5-3.1 1.4-3 1.4-3.1 1.3-3 1.3-3.1 1.2-3 1.2-3 1.1-3.1.9-3 1-3 .8-3.1.8-3 .6-3 .6-3.1.4-3 .4-3.1.3-3 .1-3 0-3.1 0-3-.2-3.1-.4-3-.4-3.1-.6-3.1-.6-3-.8-3.1-.9-3-1-3.1-1.1-3-1.1-3.1-1.3-3.1-1.3-3-1.4-3-1.4-3.1-1.5-3-1.5-3-1.5-3.1-1.5-3-1.5-3-1.5-3.1-1.4-3-1.5-3-1.3-3.1-1.3-3-1.2-3.1-1.1-3.1-1-3.1-.9-3.1-.8-3.1-.6-3.2-.5-3.1-.4-3.2-.3-3.1-.1-3.2 0-3.1.1-3.1.3-3 .4-3 .5-3 .5-2.9.7-2.9.7-2.8.7-2.8.8-2.8.7-2.8.8-2.8.8-2.9.8-3 .8-3.1.8-3.2.7-3.2.7-3.2.5-3 .2-2.9-.2-2.8-.6-2.9-1-3.3-1.1-3.8-1.4-4.2-2.6-4-3.5-3.9-3.8-1-3.7.9-3.6 2.1-3.6 2.7-3.5 2.8-3.1 3.1-2.6 3.2-2.2 3.1-1.8 3.1-1.7 3-1.6 2.8-1.5 2.6-1.4 2.5-1.4 2.7-1.3 2.8-1.3 3.2-1.3 3.5-1.2 3.8-1.2 4-1.1 3.9-1 3.7-1 3.4-.8 3-.8 2.8-.8 2.7-.7 2.6-.7 2.6-.7 2.7-.7 2.9-.7 3-.7 3.2-.6 3.2-.6 3.3-.5 3.4-.4 3.3-.3 3.3-.1 3.3-.1 3.2-.1 3.2 0 3.2 0 3.1 0 3.1 0 3 0 3.1 0 3 0 3 .1 3 0 3 .1 3 .1 3 .2 3.1.1 3 .3 3.1.2 3 .3 3.1.3 3 .4 3.1.4 3 .4 3 .5 3.1.6 3 .6 3 .7 3 .7 3.1.8 3 .8 3 .9 3 .9 3 1 3 1 3 1 3 1 2.9.9 2.9.9 3 .8 3 .7 2.9.7 3.1.9 2.9 1.1 2.9 1.5 2.5 1.8 2.3 1.9 2 2.1 1.9 2 2.1 2.1 2.4 1.9 2.9 1.6 3.5 1.4 4 1 4 .6 3.5.1 2.6-.3 1-.6-.9-1-2.2-1.4-2.8-1.8-2.7-2.1-2.1-2.3-1.3-2.4-.7-2.6-.1-2.6.1-2.5.3-2.5.5-2.4.6-2.4 1-2.3 1.3-2.4 1.9-2.2 2.2-1.9 2.3-1.5 2.2-1.1 2.1-.8 2.1-.4 2-.2 2 0 2.1.1 2.3.1 2.4.1 2.8.1 2.9.2 3.1.3 3.2.5 3.3.7 3.2.9 3.1 1.2 2.9 1.3 2.9 1.6 2.7 1.6 2.7 1.7 2.5 1.7 2.6 1.7 2.4 1.7 2.4 1.7 2.4 1.6 2.3 1.7 2.2 1.6 2.2 1.7 2.2 1.6 2 1.7 1.8 1.7 1.5 1.9 1.1 1.9.5 2 0 2.2-.3 2.3-.6 2.6-.8 2.7-.9 2.8-1.1 2.9-1.1 2.9-1.4 2.8-1.6 2.8-1.8 2.6-2.1 2.5-2.3 2.4-2.6 2.2-2.8 1.9-3.1 1.8-3.2 1.7-3.3 1.4-3.5 1.4-3.5 1.1-3.5 1.1-3.6.9-3.5.8-3.4.7-3.5.6-3.4.4-3.3.3-3.4.2-3.2.1-3.3-.1-3.2-.2-3.1-.4-3.2-.4-3.1-.6-3.1-.7-3-.9-3.1-.9-3-1-3.1-1.1-3-1.2-3.1-1.3-3-1.3-3-1.3-3.1-1.4-3-1.4-3.1-1.4-3-1.5-3.1-1.4-3-1.4-3.1-1.4-3-1.4-3.1-1.4-3-1.3-3.1-1.3-3.1-1.2-3-1.2-3.1-1-3-1-3-.8-3.1-.8-3-.6-3.1-.5-3-.3-3-.2-3-.1-3 .1-3 .2-3.1.5-3 .5-3 .7-3 .9-3 1-3.1 1.1-3 1.3-3.1 1.4-3 1.5-3.1 1.6-3 1.8-3.1 1.7-3.1 1.9-3.1 1.9-3.1 1.9-3 2-3.1 2-3 1.9-3.1 2-3 1.9-3 1.8-3 1.7-3 1.6-2.9 1.5-3 1.3-3 1.1-2.9 1-3 .8-3 .5-3.1.4-3.1.1-3.2 0-3.2-.3-3.3-.5-3.4-.7-3.3-.8-3.4-1-3.3-1.1-3.3-1.1-3.1-1.3-3-1.3-2.8-1.5-2.9-1.7-3.2-2.1-3.5-2.3-3.9-2.7-4.1-2.7-4.1-2.5-3.6-2.7-2.9-3.4-1.7-3.6 1.2-3.1 1.7-2.7 2.9-2.4 3.4-2 3-1.8 2.5-1.6 2.4-1.4 2.5-1.3 2.6-1.3 2.8-1.1 2.8-1 2.9-1 3-.9 3.1-.7 3-.7 3-.6 2.9-.5 2.8-.3 2.7-.3 2.6-.3 2.6-.3 2.7-.4 2.7-.5 3-.6 3-.6 3.1-.7 3.2-.7 3.1-.6 3.2-.7 3-.6 2.9-.6 2.9-.5 2.8-.4 2.8-.4 2.7-.3 2.8-.2 2.8-.2 2.8-.1 2.9-.1 2.9-.1 2.9-.1 3-.2 3-.2 3-.3 3.1-.3 3-.3 3.1-.3 3-.4 3.1-.3 3-.4 3.1-.4 3-.4 3-.3 3.1-.4 3-.3 3-.2 3.1-.2 3.1-.2 3-.1 3.1 0 3.1 0 3.1.1 3 .1 3.1.2 3 .2 3 .2 3 .3 3 .3 2.9.4 2.9.4 2.8.4 2.9.4 2.9.4 2.9.5 3.1.4 3.1.3 3.2.4 3.2.7 2.9.9 2.4 1.2 1.9 1.6 1.8 1.7 1.9 1.9 2 1.8 2.3 1.7 2.7 1.5 3.2 1.2 3.8 1 4.3.7 4.2.4 3.6.3 2.5 0 .8-.4-1.1-.7-2.7-1-3.5-1.4-3.7-1.9-3.1-2.3-2.5-2.6-1.8-3-1.3-3.1-.7-3.2-.3-3.3.2-3.1.6-3.1 1-2.7 1.5-2.5 1.8-2.1 2.1-1.7 2.4-1.4 2.8-1 3.1-.7 3.3-.4 3.6-.3 3.7-.1 3.8 0 3.8.1 3.6.1 3.4.2 3.2.2 3 .2 2.9.2 2.8.3 2.9.1 2.9.2 3 .1 3.1.1 3.1.1 3.2.2 3.2.2 3.2.4 3.2.5 3.2.8 3.2 1.1 3.3 1.4 3.3 1.8 3.4 2.3 3.4 2.8 3.2 3.2 3 3.6 2.4 4 1.8 4.3.9 4.5.1 4.7-.8 4.5-1.5 4.3-2.2 3.8-2.8 3.2-3.3 2.6-3.6 2-3.8 1.4-4 .9-4.1.6-4 .1-4-.1-4-.3-3.8-.6-3.6-.6-3.5-.8-3.4-.7-3.2-.8-3.1-.8-3-.7-2.9-.7-2.9-.7-2.8-.6-2.8-.5-2.7-.5-2.8-.4-2.8-.3-2.8-.3-2.8-.1-2.8-.1-2.9.1-2.9.1-2.9.2-2.9.4-3 .5-3 .6-3 .7-3 .8-3 .9-3.1 1-3 1.1-3.1 1.2-3 1.2-3.1 1.4-3.1 1.3-3 1.5-3.1 1.5-3 1.5-3.1 1.5-3 1.6-3.1 1.7-3 1.6-3 1.7-3.1 1.6-3 1.6-3 1.7-3.1 1.6-3 1.5-3.1 1.5-3 1.5-3.1 1.3-3 1.3-3.1 1.2-3 1.1-3.1 1-3.1.9-3 .8-3.1.6-3.1.5-3.1.3-3 .3-3.1 0-3.1 0-3-.2-3.1-.3-3-.5-3.1-.6-3-.7-3-.8-3-.9-3-1-3-1.1-3-1.2-3-1.3-3-1.3-3-1.3-3-1.4-3.1-1.5-3-1.4-3.1-1.4-3.1-1.5-3.1-1.4-3.1-1.3-3.1-1.4-3.1-1.2-3.1-1.2-3-1.1-3.1-1-2.9-.9-2.9-.8-2.9-.7-2.8-.6-2.8-.4-2.8-.4-2.9-.3-2.9-.1-3.1 0-3.2-.1-3.1 0-2.8-.2-2.3-.3-1.6-.6-.8-.7-.5-.6-.5-.6-.8-.8-1-1.1.5-1.5-.5-1.9-.1-1.9.2-1.9.4-1.6.7-1.6 1.1-1.6 1.6-1.6 1.9-1.6 2.3-1.6 2.4-1.5 2.6-1.5 2.6-1.5 2.7-1.4 2.7-1.3 2.6-1.1 2.6-1.1 2.5-1.1 2.6-1 2.7-1 2.7-1.1 2.8-1.2 2.8-1.1 2.9-1.3 2.9-1.2 2.9-1.2 2.8-1.3 2.9-1.2 2.8-1.2 2.9-1.2 2.8-1.1 2.9-1.1 3-1.1 3-1 3-.8 3.1-.8 3.1-.7 3.1-.6 3.1-.6 3.1-.5 3.1-.6 3.1-.6 3-.5 3.1-.6 3-.5 3-.6 3.1-.5 3-.4 3-.5 3-.4 3-.3 3.1-.3 3-.2 3.1-.2 3-.1 3.1-.1 3 0 3.1.1 3 .1 3 .2 3 .3 3 .3 3 .5 3 .5 3 .6 3.1.7 3 .7 3 .9 3.1 1 3.1 1.1 3.1 1.1 3 1.1 3.1 1 2.9 1 2.9.8 2.7.7 2.7.6 2.7.7 3.1 1 3.7 1.3 4.3 1.4 4.1 1.5 3.2 1.6 2.5 1.6 2.1 1.8 2.2 1.9 2.4 2.2 3 2.2 3.5 2.2 3.5 2.1 2.7 1.7 1.6 1.3-.2.8-2.3.1-3.9-.4-4.8-1.3-4.7-2-3.9-2.7-3-3.1-2.1-3.5-1.2-3.6-.4-3.7.4-3.5.9-3.3 1.5-3.1 1.8-2.6 2.1-2.3 2.4-1.9 2.7-1.5 2.9-1.2 3.2-.9 3.4-.6 3.4-.3 3.6-.2 3.4 0 3.5.2 3.3.2 3.2.2 3.1.2 3 .3 2.9.3 3 .5 3 .5 2.9.7 3 .8 2.9 1 2.9 1.2 2.9 1.4 2.7 1.5 2.7 1.7 2.6 1.7 2.5 2 2.4 2 2.3 2.2 2.2 2.3 2 2.4 1.9 2.4 1.7 2.4 1.4 2.4 1 2.2.6 2.1-.1 1.8-.6 1.6-1.2 1.5-1.8 1.2-2 1.1-2.3 1-2.3.9-2.2 1-2 1-1.9 1.1-1.8 1.1-1.7 1.2-1.7 1.4-1.6 1.4-1.8 1.5-1.8 1.5-1.9 1.5-2 1.6-2.2 1.7-2.3 1.6-2.5 1.6-2.5 1.7-2.7 1.7-2.8 1.6-2.8 1.7-2.9 1.6-2.9 1.6-3 1.6-3.1 1.6-3 1.5-3.1 1.4-3 1.4-3.1 1.4-3.1 1.2-3.1 1.2-3.1 1.1-3 1-3.1.9-3.1.8-3 .6-3.1.6-3 .4-3 .4-3.1.2-3 0-3 0-3.1-.1-3-.3-3-.3-3.1-.5-3-.6-3-.7-3.1-.7-3-.9-3.1-1-3-1.1-3.1-1.2-3-1.2-3.1-1.3-3-1.4-3.1-1.5-3-1.5-3.1-1.5-3-1.6-3.1-1.6-3-1.5-3.1-1.6-3-1.6-3-1.5-3.1-1.5-3-1.4-3-1.4-3-1.2-3-1.2-3-1.1-3.1-.9-3-.9-3-.7-3.1-.6-3-.4-3.1-.3-3.1-.2-3 0-3.1.2-3.2.3-3.1.5-3.1.6-3.2.8-3.1.9-3.2 1-3.1 1.1-3.1 1.2-3.1 1.3-3 1.3-3 1.4-3 1.4-3 1.3-3 1.4-2.9 1.3-3 1.2-2.9 1.1-3 1.1-2.9.9-3.1.7-3.1.7-3.1.5-3.1.5-3.2.4-3.2.2-3.1.1-3.1-.2-3.2-.6-3.4-1.1-3.9-1.6-4.5-1.9-5.1-2-5.4-2.4-5.2-3.9-4.5-4.7-1.6-4.3.3-3.9 2.4-3.6 3.6-3.5 3.7-3.3 3.6-2.9 3.5-2.4 3.4-2 3.4-1.7 3.2-1.5 3.1-1.3 2.9-1.2 2.8-1.2 2.8-1 2.8-1.1 3-.9 3.3-1 3.5-.9 3.7-.8 3.8-.8 3.7-.6 3.6-.7 3.2-.5 3.1-.6 2.9-.5 2.7-.5 2.8-.5 2.8-.5 2.8-.5 3-.5 3.1-.4 3.1-.5 3.1-.3 3.2-.3 3.2-.2 3.1 0 3.2 0 3.1.1 3.1.1 3.1.2 3.1.1 3.1.2 3 .1 3 .1 3.1 0 3 .1 3 .1 3 .1 3.1.1 3 .1 3.1.1 3 .1 3 .1 3.1.2 3 .2 3.1.2 3 .2 3.1.3 3 .4 3.1.4 3 .4 3.1.5 3.1.5 3 .6 3.1.6 3 .6 3 .7 2.9.7 3 .7 2.9.7 2.8.7 2.9.7 2.9.6 2.9.7 3 .6 3.2.6 3.3.6 3.2.8 2.9 1.2 2.1 1.5 1.4 1.9 1 2.1 1.3 2.2 1.6 2.2 2.1 2.1 2.7 1.7 3.2 1.2 4 .7 4.4.2 4.4-.3 4-.7 3-1 1.6-1.4 0-1.6-1.4-1.8-2-1.9-2-2-1.5-2.1-.7-2.2-.3-2.1 0-2.2.1-2.2.1-2.1 0-2.2.2-2.3.5-2.3 1-2.5 1.5-2.3 1.9-2 2-1.7 1.9-1.2 1.7-.8 1.8-.5 1.7-.3 1.8 0 2 0 2.3.1 2.5 0 2.8.1 3 .1 3.1.3 3.3.4 3.2.5 3.2.8 3.1 1 3 1.1 2.9 1.1 2.8 1.2 2.8 1.2 2.8 1.1 2.8 1.1 2.7 1.1 2.7 1.1 2.7 1.1 2.8 1.2 2.8 1.3 2.8 1.5 3 1.6 2.8 1.9 2.7 2.3 2.4 2.5 2 2.9 1.3 3.3.8 3.6.2 3.8-.2 4-.6 4.1-1 4-1.4 3.8-1.7 3.4-2.2 3.2-2.5 2.8-2.8 2.4-3.2 2.1-3.4 1.7-3.6 1.4-3.8 1.1-3.9.8-4 .5-4 .4-3.9.1-3.9.1-3.8-.1-3.7-.2-3.6-.4-3.5-.4-3.4-.5-3.4-.6-3.2-.7-3.3-.8-3.1-.9-3.2-.9-3.1-.9-3-1-3.1-1.1-3-1.1-3.1-1.1-3-1-3-1.1-3-1.1-3-1-3.1-1-3-.9-3-.9-3.1-.8-3-.8-3.1-.7-3.1-.6-3-.5-3.1-.4-3-.4-3.1-.3-3.1-.1-3-.1-3.1 0-3 .1-3.1.2-3 .4-3.1.4-3 .6-3 .6-3.1.8-3 .9-3 .9-3.1 1.1-3 1.1-3 1.3-3.1 1.3-3 1.4-3 1.4-3.1 1.5-3 1.5-3.1 1.5-3 1.6-3.1 1.5-3 1.6-3.1 1.5-3.1 1.5-3 1.5-3.1 1.4-3.1 1.4-3 1.3-3 1.2-3.1 1.2-3 1-3 .9-3 .9-3 .7-3 .5-2.9.5-3 .3-2.9.1-3 0-3-.2-3-.3-3-.4-3-.6-3.1-.8-3.1-.9-3.2-1-3.2-1-3.2-1.2-3.2-1.3-3.2-1.3-3.2-1.3-3.2-1.4-3.1-1.3-3.1-1.3-3-1.3-2.9-1.2-3-1.3-2.9-1.4-3-1.6-2.8-1.7-2.6-2-2.2-1.9-1.7-1.7-1.2-1.6-.7-1.8-.2-1.7 2.4-1.6 1.7-1.6 1.9-1.4 1.8-1 1.4-.7 1.1-.8 1.1-.8 1.5-1 1.8-1.1 2.2-1.2 2.5-1 2.8-1.1 2.9-.9 3.1-.8 3-.8 2.9-.5 2.5-.5 2.2-.3 2-.3 1.8-.3 2-.4 2.1-.6 2.5-.8 2.8-.8 3.1-1 3.2-1 3.3-1.1 3.2-1 3.2-1 3-1 2.8-.9 2.7-.9 2.7-.7 2.6-.8 2.6-.6 2.6-.6 2.7-.5 2.8-.5 2.8-.5 2.9-.5 3-.5 2.9-.6 3-.6 3-.6 3.1-.7 3-.7 3.1-.6 3-.7 3.1-.7 3-.7 3.1-.7 3-.7 3-.6 3.1-.6 3-.5 3.1-.5 3-.4 3.1-.3 3-.3 3.1-.1 3-.2 3.1 0 3 0 3.1.1 3 .1 3 .2 3 .3 3 .4 2.9.4 3 .5 3 .6 2.9.6 3 .5 3 .6 2.9.5 3 .4 2.9.4 2.9.5 3 .8 3.1 1.2 3.3 1.4 3.1 1.4 2.8 1.6 2.4 1.5 2.3 1.6 2.5 1.6 2.8 1.7 3.4 1.6 3.9 1.6 3.7 1.6 3.1 1.3 1.8 1.1 0 .6-2.1 0-3.8-.5-4.6-1.1-4.9-1.9-4.2-2.5-3.4-3.1-2.5-3.5-1.7-3.8-.9-3.8-.1-3.8.6-3.6 1.2-3.3 1.7-2.9 2-2.4 2.2-1.9 2.5-1.5 2.9-1.1 3.3-.9 3.7-.6 4-.4 4.2-.2 4.3 0 4.2 0 4.1.2 3.9.2 3.4.2 3.2.3 2.9.3 2.8.3 2.8.2 2.7.2 2.9.3 3 .2 3 .3 3.1.4 3.2.5 3 .7 3.1.8 3 1.1 2.9 1.3 2.9 1.6 2.9 2 2.8 2.3 2.8 2.6 2.7 3 2.5 3.2 2 3.4 1.5 3.4.8 3.6 0 3.5-.8 3.3-1.6 3.1-2.2 2.8-2.8 2.3-3.2 1.8-3.3 1.3-3.5 1-3.4.7-3.3.4-3.3.3-3.1.1-3.1 0-2.9 0-2.8 0-2.7 0-2.6 0-2.6 0-2.5.1-2.5.2-2.5.2-2.5.3-2.6.4-2.6.5-2.6.5-2.7.6-2.7.7-2.7.7-2.8.9-2.9.8-2.8 1-2.9 1.1-3 1.1-2.9 1.1-3 1.3-3 1.3-3 1.3-3 1.4-3 1.4-3.1 1.4-3 1.5-3.1 1.4-3 1.5-3.1 1.4-3 1.4-3.1 1.5-3 1.3-3 1.4-3.1 1.3-3 1.3-3.1 1.2-3 1.2-3 1.1-3.1 1-3 1-3 .9-3.1.7-3 .7-3.1.6-3 .4-3.1.4-3 .2-3.1 0-3.1 0-3-.2-3.1-.3-3.1-.5-3-.6-3.1-.7-3.1-.8-3-1-3.1-1.1-3-1.2-3.1-1.2-3-1.4-3-1.4-3.1-1.5-3-1.6-3-1.6-3-1.6-3.1-1.6-3-1.7-3-1.6-3.1-1.6-3.1-1.5-3-1.5-3.1-1.4-3.2-1.4-3.1-1.2-3.1-1.2-3.2-1-3.1-.9-3.2-.8-3.1-.6-3.1-.5-3-.3-3-.3-3 0-2.9 0-2.8.1-2.7.3-2.7.4-2.7.4-2.7.5-2.8.6-2.8.7-3 .8-3.2.8-3.3.8-3.2.7-2.9.4-2.5.2-1.9-.2-1.7-.4-1.7-.6-2.2-.8-2.8-1.5-3-2.3-3.1-2.8-1-2.9.2-3.1 1.1-2.9 1.5-2.8 1.9-2.5 2.3-2.3 2.4-2 2.7-1.8 2.8-1.7 2.7-1.6 2.6-1.6 2.6-1.5 2.6-1.4 2.6-1.4 2.7-1.3 3-1.3 3.1-1.2 3.4-1.2 3.5-1.1 3.5-1.2 3.4-1 3.2-1.1 3-1 2.8-1 2.7-.9 2.6-.9 2.7-1 2.7-.9 2.9-.9 3-.9 3-.9 3.2-.8 3.2-.7 3.3-.6 3.3-.5 3.2-.4 3.2-.3 3.3-.3 3.1-.2 3.2-.2 3.1-.3 3.1-.2 3-.2 3.1-.2 3-.2 3-.2 3-.1 3-.1 3-.1 3 0 3.1 0 3 .1 3.1.1 3 .2 3.1.2 3 .3 3.1.3 3 .3 3 .5 3 .4 3 .6 3.1.6 3 .7 3 .7 3 .8 3 .9 3.1 1 3 1 3 1.1 3.1 1.1 3 1.1 3 1 2.9 1 2.9.8 2.9.8 2.8.7 2.9.8 3 1.1 3.3 1.4 3.3 1.7 3 1.8 2.5 1.9 2.1 1.9 2.1 2 2.3 1.9 2.6 1.9 3.3 1.8 3.8 1.5 3.8 1.1 3.2.8 2.1.3.6-.1-1.4-.6-2.8-1.1-3.5-1.6-3.4-2.1-2.6-2.5-1.8-2.7-1.1-2.8-.4-2.9.1-2.9.4-2.8.7-2.6 1-2.6 1.3-2.4 1.6-2.3 2.1-2.1 2.4-1.8 2.5-1.4 2.6-1 2.5-.7 2.4-.4 2.3-.2 2.4 0 2.3.2 2.5.1 2.5.2 2.8.1 2.9.3 3.1.3 3.2.5 3.2.7 3.1.9 3.1 1.3 2.9 1.4 2.9 1.7 2.7 1.8 2.6 1.9 2.5 1.9 2.4 2 2.3 2 2.3 2 2.2 2 2 1.9 2 2 1.9 1.9 1.7 1.7 1.5 1.7 1.3 1.7.9 1.5.4 1.4 0 1.4-.6 1.4-.8 1.5-1.1 1.6-1.2 1.7-1.1 2-1.2 2.1-1.1 2.2-1.1 2.3-1.2 2.4-1.4 2.4-1.5 2.5-1.8 2.4-1.9 2.3-2.2 2.3-2.5 2.1-2.6 2.1-2.8 1.9-3 1.9-3.2 1.8-3.2 1.6-3.2 1.6-3.3 1.5-3.4 1.3-3.3 1.3-3.3 1.1-3.3 1-3.3.9-3.3.8-3.2.6-3.2.5-3.2.4-3.2.2-3.1.1-3.1-.1-3.1-.2-3.1-.4-3.1-.5-3-.7-3.1-.7-3-.9-3-1-3.1-1.1-3-1.2-3-1.3-3.1-1.3-3-1.4-3-1.5-3.1-1.5-3-1.6-3.1-1.6-3-1.6-3.1-1.7-3-1.6-3.1-1.7-3.1-1.6-3-1.6-3.1-1.6-3-1.5-3.1-1.5-3-1.4-3-1.3-3.1-1.2-3-1.1-3-.9-3-.9-3.1-.7-3-.5-3-.4-3-.3-3-.1-3 .1-3 .2-3 .4-3.1.6-3 .7-3.1.8-3 1-3.1 1.2-3.1 1.2-3.1 1.4-3.1 1.5-3.1 1.6-3.1 1.7-3.1 1.8-3.1 1.8-3.1 1.8-3 1.9-3.1 1.8-3 1.9-3 1.7-3 1.7-3 1.7-3 1.4-3 1.4-3 1.2-3 1.1-3 .8-3.1.7-3.1.4-3.2.3-3.2 0-3.3-.1-3.3-.2-3.3-.5-3.2-.5-3.2-.6-3.1-.8-2.9-1-3-1.2-3.2-1.6-3.6-2-4.2-2.4-4.7-2.6-4.9-2.5-4.8-2.7-4.2-4-3-4.4-.8-3.9 1.4-3.4 3.3-2.9 3.9-2.7 3.8-2.5 3.3-2.1 3.2-1.9 3-1.6 3.1-1.3 3-1.2 3-1 3-1 3-.9 3-.8 3-.7 3.1-.6 3.1-.6 3.1-.4 3.2-.4 3.1-.4 3.1-.3 3-.4 2.9-.4 3-.4 3-.5 3-.4 3.1-.5 3-.5 3.1-.5 3-.5 3-.4 3-.4 2.9-.3 2.9-.2 2.9-.1 2.9-.1 2.9 0 2.9.1 2.9 0 3 .1 2.9.1 3 0 3 0 3-.1 3.1-.1 3-.1 3.1-.1 3-.2 3.1-.2 3-.2 3.1-.2 3-.2 3-.2 3.1-.1 3-.2 3-.1 3.1 0 3.1 0 3 0 3.1.1 3.1.2 3.1.1 3.1.3 3 .2 3.1.3 3 .4 2.9.3 3 .4 2.9.4 2.9.4 2.8.4 2.8.4 2.9.4 2.9.5 3.1.4 3.2.4 3.3.5 3.3.6 2.8 1 2.1 1.4 1.3 1.7 1.2 1.9 1.4 2 1.8 2.1 2.2 1.8 2.8 1.5 3.3 1.1 4 .7 4.5.2 4.4 0 3.9-.4 2.8-.6 1.3-1-.5-1.2-1.9-1.4-2.7-1.7-2.8-1.9-2.4-2.2-1.6-2.3-1.2-2.6-.7-2.6-.4-2.7-.2-2.7 0-2.8.3-2.7.8-2.6 1.1-2.4 1.6-2.3 2-1.9 2.2-1.5 2.3-1 2.5-.8 2.6-.5 2.8-.3 2.9-.1 3 0 3.2.1 3.2.1 3.2.1 3.1.2 3.1.2 3 .3 3 .3 3 .4 3 .4 3 .5 3 .4 3.1.5 3 .4 3.1.5 3.1.6 3 .6 3.1.8 3.1.9 3.1 1.3 3.2 1.5 3.4 1.9 3.4 2.3 3.2 2.7 3.1 3.2 2.6 3.6 2 3.9 1.3 4.3.5 4.5-.2 4.6-.8 4.5-1.5 4.3-2.1 3.8-2.5 3.3-2.9 2.8-3.3 2.2-3.6 1.8-3.7 1.3-3.9.9-4 .6-4 .2-4.1 0-3.9-.2-3.9-.4-3.8-.5-3.6-.6-3.6-.7-3.4-.7-3.3-.7-3.2-.8-3.1-.8-3.1-.7-3-.8-3-.8-2.9-.7-3-.8-2.9-.7-2.9-.6-3-.6-2.9-.6-3-.4-2.9-.5-3-.3-3-.2-3-.1-3-.1-3 .1-3.1.1-3 .3-3.1.3-3 .5-3.1.5-3.1.6-3 .8-3.1.7-3 .9-3.1 1-3 1-3.1 1.2-3 1.1-3.1 1.3-3 1.3-3.1 1.4-3 1.5-3 1.5-3.1 1.5-3 1.5-3.1 1.6-3 1.6-3 1.6-3.1 1.6-3 1.5-3.1 1.5-3 1.5-3.1 1.4-3.1 1.3-3 1.3-3.1 1.2-3.1 1-3.1 1-3 .9-3.1.7-3 .7-3.1.5-3.1.3-3 .3-3 .1-3 0-3-.2-3-.3-3-.4-3-.5-3-.7-2.9-.8-3-.9-3-1-3-1.1-3-1.2-3.1-1.2-3-1.4-3.1-1.4-3.1-1.4-3.1-1.4-3.1-1.5-3.1-1.4-3.1-1.4-3.1-1.4-3.1-1.3-3-1.3-2.9-1.1-2.9-1.1-2.9-.9-2.9-.9-3-.7-3-.7-3-.6-3.1-.6-2.8-.7-2.4-.9-1.6-1-.8-1-.2-.9.1-.8 0-.6-.1-.8-.6-1.3.2-1.6.5-1.6.5-1.4.5-1.2.6-1.2 1-1.2 1.3-1.3 1.8-1.4 2.1-1.5 2.4-1.4 2.7-1.3 2.7-1.3 2.8-1.2 2.8-1.1 2.7-.9 2.5-.9 2.4-.8 2.2-.7 2.3-.8 2.3-.8 2.5-1 2.7-1.1 2.8-1.1 3-1.2 3-1.2 3-1.2 3.1-1.2 2.9-1.2 2.9-1.1 2.9-1.1 2.8-1.1 2.8-.9 2.8-1 2.9-.8 2.9-.7 2.9-.7 3-.6 3-.6 3-.6 3-.6 3.1-.6 3-.6 3-.6 3.1-.7 3-.6 3-.6 3.1-.6 3-.6 3-.6 3-.5 3.1-.4 3-.5 3.1-.3 3-.3 3.1-.3 3-.2 3.1-.1 3 0 3 0 3 .1 3.1.1 3 .3 3 .3 3 .4 3 .4 3 .6 3.1.7 3 .8 3.1.8 3 .9 3.1.9 3 .9 2.9.8 2.9.7 2.8.6 2.7.5 2.7.6 3.1.9 3.7 1.2 4.2 1.3 4 1.4 3.3 1.5 2.6 1.5 2.2 1.6 2.3 1.8 2.5 2.1 3.1 2.1 3.5 2.3 3.5 2.1 2.7 1.9 1.5 1.5-.4 1-2.5.4-4.3-.3-5.1-1.1-5.2-1.9-4.4-2.7-3.6-3.3-2.6-3.7-1.6-3.9-.8-4 .2-3.9.9-3.6 1.5-3.3 2-2.8 2.2-2.3 2.4-1.9 2.7-1.4 3.1-1.1 3.4-.8 3.8-.6 4-.3 4.2-.2 4.1 0 4.1.1 3.9.2 3.6.3 3.4.2 3 .3 3 .3 2.8.4 2.8.4 2.9.4 2.8.5 3 .7 3 .7 2.9.9 3 1.1 2.8 1.3 2.8 1.4 2.7 1.7 2.6 1.9 2.5 2.1 2.4 2.3 2.3 2.6 2.2 2.7 1.9 2.9 1.6 2.9 1.2 2.8.6 2.6 0 2.5-.8 2.2-1.4 2-2.1 1.6-2.6 1.3-2.8.9-3 .8-3 .5-2.8.5-2.6.4-2.4.4-2.3.5-2.1.6-2 .6-1.9.8-1.8.8-1.9.9-1.9 1.1-2 1.1-2.1 1.2-2.1 1.3-2.3 1.3-2.4 1.4-2.4 1.5-2.6 1.5-2.7 1.6-2.7 1.6-2.8 1.6-2.8 1.7-2.9 1.7-3 1.6-2.9 1.8-3 1.6-3 1.7-3.1 1.7-3 1.6-3 1.6-3.1 1.5-3 1.4-3.1 1.4-3 1.3-3.1 1.2-3 1.1-3.1.9-3 .9-3 .8-3.1.7-3 .5-3 .4-3.1.3-3 .2-3 .1-3.1 0-3-.2-3-.3-3.1-.4-3-.6-3.1-.7-3-.8-3.1-.9-3-1-3.1-1.1-3.1-1.3-3-1.3-3.1-1.4-3-1.5-3.1-1.5-3-1.6-3.1-1.6-3-1.7-3.1-1.6-3-1.7-3-1.6-3-1.6-3.1-1.6-3-1.5-3-1.4-3-1.4-3.1-1.3-3-1.2-3-1-3.1-1-3.1-.8-3.1-.7-3.1-.5-3.1-.4-3.1-.2-3.2-.1-3.1.1-3.2.2-3.1.3-3.2.5-3.1.6-3.1.7-3 .8-3.1.9-3 1-2.9 1-2.9 1-2.9 1-2.9 1-2.8 1-2.9.9-2.9.9-2.9.9-3 .7-3 .8-3.1.6-3.2.7-3.2.5-3.2.3-3.1-.1-3.1-.6-3.2-1-3.6-1.3-4-1.4-4.5-1.9-4.7-3-4.3-4.1-3.8-4.1-.6-3.9 1.5-3.8 2.8-3.7 3.2-3.5 3.2-3.1 3.3-2.7 3.4-2.2 3.3-1.8 3.2-1.7 3-1.5 2.8-1.4 2.7-1.4 2.6-1.3 2.6-1.3 2.9-1.2 3.2-1.2 3.7-1.2 3.8-1.1 4-1.1 4-.9 3.8-.9 3.3-.8 3.1-.7 2.8-.7 2.7-.6 2.6-.6 2.6-.7 2.7-.6 2.9-.6 3.1-.6 3.1-.6 3.3-.5 3.3-.4 3.4-.3 3.3-.2 3.3-.1 3.2 0 3.3.1 3.1.1 3.2 0 3.1.1 3.1.1 3 .1 3 .1 3.1.1 3 .1 3 .1 3 .2 3 .2 3 .2 3.1.2 3 .3 3.1.2 3 .4 3.1.3 3 .4 3.1.5 3 .5 3 .5 3.1.6 3 .6 3.1.7 3 .7 3 .8 3.1.8 3 .9 3 .9 3 .9 2.9.9 2.9 1 2.9.9 3 .9 2.9.8 3 .8 3 .6 3.2.8 3.1.9 2.9 1.2 2.5 1.5 1.9 1.9 1.7 2 1.6 2.2 1.7 2.2 2 2.1 2.5 1.9 3.1 1.5 3.7 1 4.2.6 4.2 0 3.8-.4 2.8-.7 1.5-1.2-.4-1.4-1.6-1.7-2.2-1.9-2.2-2.1-1.5-2.2-.8-2.2-.3-2.2.1-2.3.3-2.2.2-2.2.2-2.1.4-2.3.7-2.3 1.1-2.3 1.6-2.3 2-2.1 2.1-1.6 2-1.2 1.7-.8 1.7-.4 1.6-.3 1.7 0 1.8 0 2 .1 2.4.1 2.7.1 2.9.2 3.2.2 3.3.5 3.3.6 3.2 1 3.1 1.1 3 1.4 2.8 1.5 2.8 1.5 2.7 1.6 2.6 1.5 2.6 1.6 2.5 1.4 2.5 1.5 2.4 1.4 2.5 1.4 2.4 1.4 2.5 1.5 2.4 1.6 2.3 1.6 2.2 1.9 1.9 2 1.4 2.2.9 2.4.3 2.7 0 2.8-.4 3.1-.6 3.3-.9 3.3-1.1 3.3-1.3 3.1-1.6 3-1.9 2.8-2.2 2.6-2.5 2.3-2.8 2.2-3 1.8-3.2 1.6-3.4 1.4-3.6 1.2-3.6 1-3.7.8-3.6.7-3.7.6-3.6.4-3.5.4-3.5.2-3.5.1-3.3-.1-3.4-.1-3.3-.2-3.2-.4-3.2-.4-3.1-.5-3.2-.6-3.1-.7-3-.8-3.1-.8-3.1-.9-3-1-3-1-3.1-1-3-1-3-1.1-3.1-1.1-3-1-3.1-1.1-3-1-3.1-1-3-1-3.1-.9-3-.9-3.1-.9-3-.8-3.1-.8-3-.7-3.1-.6-3.1-.6-3-.4-3-.4-3.1-.3-3-.2-3.1-.1-3 0-3 .2-3.1.2-3 .3-3 .5-3 .6-3.1.7-3 .7-3 .9-3 1-3.1 1.1-3 1.2-3.1 1.2-3 1.3-3.1 1.4-3 1.4-3.1 1.5-3.1 1.5-3 1.5-3.1 1.5-3.1 1.6-3 1.5-3.1 1.5-3 1.5-3 1.4-3 1.4-3 1.3-3 1.2-3 1.1-3 1-2.9.8-3 .7-3 .5-3 .4-3 .2-3 0-3.1-.1-3.1-.3-3.2-.5-3.2-.6-3.3-.8-3.3-.9-3.3-1-3.3-1.1-3.2-1.2-3.2-1.2-3.1-1.3-2.9-1.3-2.9-1.4-3-1.6-3-1.9-3.3-2.1-3.3-2.4-3.4-2.4-3-2.2-2.5-2.2-2-2.7-1-2.9.5-2.5 2-2.2 2.9-1.9 3-1.5 2.5-1.3 2-1.1 2-1.2 2-1.1 2.3-1.1 2.5-1.1 2.7-1 2.9-.9 3-.9 3.1-.7 3.1-.7 3-.5 2.7-.3 2.6-.3 2.3-.3 2.2-.2 2.2-.3 2.4-.4 2.6-.6 2.9-.7 3.1-.7 3.1-.8 3.3-.9 3.3-.8 3.1-.8 3-.7 2.9-.7 2.8-.6 2.7-.6 2.7-.5 2.6-.5 2.7-.4 2.7-.3 2.8-.3 2.9-.2 2.8-.3 3-.3 2.9-.4 3-.4 3-.4 3-.5 3.1-.5 3.1-.5 3-.5 3.1-.6 3-.5 3.1-.6 3-.5 3-.5 3.1-.5 3-.5 3-.3 3.1-.4 3.1-.2 3-.2 3.1-.2 3.1 0 3-.1 3.1.1 3 .1 3.1.1 3 .2 3 .3 2.9.3 3 .3 2.9.5 2.9.4 2.9.5 2.9.4 3 .5 3 .4 3 .4 3.1.4 3.1.5 2.9.9 2.7 1.2 2.5 1.5 2.3 1.6 2.2 1.7 2.2 1.8 2.3 1.6 2.6 1.6 3 1.3 3.7 1.3 4.1 1 4.1.9 3.4.7 2.2.4.5 0-1.6-.3-3-.9-4-1.3-4.2-1.8-3.6-2.4-2.8-2.9-2.1-3.2-1.4-3.3-.8-3.5-.2-3.4.3-3.4.9-3.1 1.3-2.8 1.7-2.4 2-2.1 2.2-1.6 2.6-1.3 3-.9 3.3-.7 3.6-.4 3.8-.2 4-.1 3.9 0 3.9.1 3.7.2 3.4.2 3.2.2 3 .2 2.9.3 2.8.2 2.8.2 2.9.2 3 .2 3 .2 3.2.3 3.1.3 3.2.4 3.1.6 3.1.7 3.1 1 3.1 1.3 3 1.7 3.2 2 3.1 2.5 3.1 2.8 2.9 3.2 2.5 3.5 2.1 3.7 1.3 4 .5 4.1-.3 4.1-1.1 3.9-1.8 3.6-2.5 3.1-3 2.6-3.3 2-3.6 1.5-3.7 1.1-3.7.7-3.8.3-3.7.1-3.6-.1-3.5-.3-3.3-.4-3.3-.5-3.1-.5-3-.5-2.9-.5-2.9-.4-2.7-.4-2.7-.4-2.7-.2-2.7-.3-2.7-.1-2.7-.1-2.8 0-2.7.1-2.8.1-2.8.3-2.8.3-2.9.5-2.9.5-2.9.7-2.9.7-3 .9-3 1-3 1-3 1.2-3 1.2-3.1 1.3-3 1.4-3.1 1.4-3.1 1.5-3 1.5-3.1 1.6-3 1.6-3.1 1.6-3 1.6-3 1.7-3.1 1.7-3 1.7-3.1 1.6-3 1.7-3 1.6-3.1 1.5-3 1.6-3.1 1.4-3 1.4-3 1.3-3.1 1.3-3 1.1-3.1 1-3.1.9-3 .7-3.1.6-3.1.5-3.1.3-3 .1-3.1.1-3.1-.2-3.1-.3-3-.5-3.1-.6-3-.7-3.1-.9-3-1-3-1.2-3.1-1.3-3-1.3-3-1.5-3-1.5-3-1.6-3-1.7-3-1.7-3.1-1.7-3-1.8-3-1.7-3.1-1.7-3.1-1.7-3.1-1.6-3.2-1.6-3.1-1.5-3.1-1.3-3.1-1.3-3.1-1.2-3.1-1-3-.9-2.9-.8-2.9-.6-2.8-.5-2.8-.3-2.7-.2-2.7-.1-2.7 0-2.8.2-3 .3-3.1.4-3.2.5-3.2.4-2.8.2-2.2.1-1.4-.2-.7-.3-.4-.4-.7-.4-1.1-.6-1.6-1.3-3.2-1.9-.9-2.3-.1-2.4.5-2.3.7-2.1 1.2-2 1.5-1.8 1.9-1.8 2.2-1.7 2.4-1.7 2.5-1.6 2.6-1.5 2.6-1.5 2.6-1.5 2.6-1.3 2.7-1.3 2.7-1.2 2.8-1.1 2.9-1.1 3-1.2 3-1.1 3.1-1.2 3-1.1 2.9-1.2 2.9-1.2 2.8-1.1 2.7-1.2 2.8-1.1 2.7-1.1 2.9-1.1 2.9-1.1 3-1 3-1 3.1-.9 3.1-.8 3.2-.7 3.2-.6 3.2-.5 3.1-.5 3.2-.5 3.1-.4 3.1-.5 3.1-.4 3-.5 3-.4 3.1-.4 3-.4 3-.3 3-.3 3-.3 3-.2 3.1-.1 3-.1 3.1-.1 3 0 3.1.1 3 .1 3.1.2 3 .2 3 .3 3 .4 3 .4 3 .5 3 .6 3 .7 3.1.8 3 .8 3 1 3.1 1 3.1 1.1 3 1.1 3.1 1.2 3 1.1 3 1 2.9.8 2.7.7 2.7.7 2.7.7 3.1 1.1 3.7 1.3 4 1.6 3.8 1.6 3 1.6 2.4 1.8 2.1 1.8 2.1 2 2.5 2.1 3.1 2.1 3.6 2.1 3.5 1.7 2.9 1.4 1.7 1 .1.5-2-.1-3.6-.7-4.3-1.4-4.2-2-3.5-2.6-2.5-3-1.7-3.3-.9-3.3-.2-3.4.4-3.3.9-3 1.3-2.9 1.7-2.5 2-2.3 2.3-1.9 2.6-1.7 2.8-1.2 2.9-1 3-.6 3.1-.4 3-.1 3 0 3 .2 2.9.2 3 .2 2.9.2 3 .2 3 .4 3 .4 3.1.6 3.1.9 3 1 2.9 1.3 2.9 1.4 2.7 1.6 2.7 1.8 2.6 1.8 2.5 2 2.4 2 2.2 2.1 2.2 2.2 2.1 2.2 1.9 2.3 1.8 2.2 1.6 2.2 1.3 2 1 1.9.5 1.7.1 1.5-.5 1.4-1.1 1.2-1.5 1.1-1.7 1.1-1.8 1-1.9 1.2-1.7 1.3-1.6 1.4-1.5 1.5-1.4 1.6-1.4 1.7-1.5 1.8-1.6 1.9-1.7 1.9-1.8 1.9-2 1.9-2.1 1.9-2.4 1.9-2.5 1.8-2.6 1.9-2.8 1.8-2.9 1.7-2.9 1.8-3 1.6-3.1 1.6-3.1 1.6-3.1 1.5-3.2 1.4-3.1 1.3-3.1 1.3-3.2 1.1-3.1 1.1-3.1.9-3.1.9-3.1.7-3.1.5-3.1.5-3.1.3-3 .2-3.1 0-3 0-3.1-.2-3-.4-3-.4-3-.6-3.1-.6-3-.8-3-.8-3.1-1-3-1-3.1-1.1-3-1.3-3-1.2-3.1-1.4-3-1.4-3.1-1.5-3.1-1.5-3-1.6-3.1-1.5-3-1.6-3.1-1.6-3-1.6-3.1-1.6-3-1.5-3-1.5-3.1-1.4-3-1.4-3-1.2-3-1.2-3-1.1-3-.9-3.1-.9-3-.7-3-.6-3-.4-3-.3-3.1-.1-3 0-3.1.1-3.1.3-3 .5-3.1.6-3.1.7-3.2.9-3.1 1-3.1 1.2-3.2 1.2-3.1 1.4-3.1 1.4-3.1 1.5-3 1.5-3.1 1.5-3 1.6-3 1.5-3 1.5-3 1.4-3 1.4-2.9 1.2-3 1.1-3 .9-3.1.8-3.1.7-3.1.5-3.2.3-3.2.2-3.2.1-3.1 0-3.2-.1-3-.3-3.1-.6-3.2-1-3.5-1.5-4.1-1.9-4.7-2.2-5.2-2.2-5.3-2.7-5-3.9-4-4.8-2.6-4.4.8-3.8 2.9-3.5 4-3.3 4.1-3.1 3.7-2.7 3.5-2.2 3.4-1.9 3.4-1.5 3.3-1.3 3.1-1.2 3-1.1 2.8-1 2.9-.9 2.9-.9 3.1-.8 3.2-.8 3.5-.7 3.5-.6 3.6-.6 3.5-.5 3.4-.5 3.2-.4 3-.5 3-.4 2.8-.5 2.9-.4 2.9-.5 2.9-.5 3-.4 3.1-.4 3-.4 3.1-.3 3.1-.2 3-.2 3.1 0 3.1 0 3 .1 3 .2 3.1.1 3 .1 3 .1 3.1.1 3 0 3 0 3.1.1 3 0 3-.1 3.1 0 3 0 3.1 0 3 0 3 0 3.1 0 3 .1 3.1 0 3 .2 3.1.1 3 .3 3.1.2 3.1.4 3 .3 3.1.4 3.1.5 3 .4 3 .5 3 .6 3 .5 2.9.6 2.9.6 2.8.6 2.9.6 2.8.5 3 .6 3 .5 3.2.5 3.3.6 3.2.8 2.9 1 2.1 1.5 1.4 1.8 1.1 2 1.3 2.2 1.7 2.1 2.2 2 2.7 1.6 3.3 1.2 3.9.7 4.4.2 4.5-.2 3.9-.5 2.9-.9 1.5-1.2-.2-1.4-1.6-1.7-2.3-1.8-2.4-2-1.8-2.1-1.1-2.3-.6-2.3-.3-2.3 0-2.4-.1-2.4 0-2.4.3-2.4.6-2.5 1-2.4 1.6-2.3 1.9-2 2.1-1.6 2.1-1.1 2-.8 2.1-.5 2.1-.3 2.3-.1 2.4 0 2.6.1 2.7.1 3 .1 3 .1 3.2.3 3.1.3 3.2.5 3.1.6 3 .8 3 .8 3 .9 2.9.9 2.9.9 2.9.8 2.9.9 2.9.9 2.8.9 2.9 1 2.9 1.2 3 1.3 3.1 1.6 3.2 1.9 3.1 2.2 2.9 2.6 2.6 2.9 2.1 3.4 1.4 3.8.8 4 .1 4.3-.3 4.3-.9 4.3-1.3 4.2-1.7 3.7-2.2 3.4-2.6 2.9-2.9 2.5-3.2 2.1-3.6 1.7-3.7 1.3-3.9 1-4 .6-4 .4-4 .1-4.1 0-3.9-.2-3.8-.4-3.8-.4-3.6-.6-3.5-.6-3.4-.7-3.3-.8-3.3-.8-3.2-.9-3.1-1-3.1-1-3-1-3.1-1.1-3-1.1-3-1-3-1.1-3-1-3-1.1-3-.9-3-.9-3-.9-3-.7-3.1-.7-3-.6-3.1-.5-3-.4-3.1-.3-3.1-.2-3-.1-3.1 0-3 .1-3.1.2-3.1.3-3 .4-3.1.5-3 .7-3.1.8-3 .9-3 .9-3.1 1.1-3 1.3-3.1 1.3-3 1.3-3 1.5-3.1 1.6-3 1.6-3 1.7-3.1 1.7-3 1.7-3.1 1.8-3 1.7-3.1 1.8-3 1.7-3.1 1.7-3.1 1.7-3 1.6-3.1 1.5-3.1 1.4-3 1.4-3.1 1.2-3 1.2-3.1 1-3 .9-3 .8-3 .6-3 .5-3 .3-3 .2-2.9 0-2.9-.1-3-.3-3-.4-2.9-.6-3-.8-3-.9-3.1-1-3.1-1.2-3.1-1.2-3.1-1.3-3.1-1.5-3.2-1.4-3.2-1.5-3.2-1.5-3.2-1.6-3.1-1.4-3.1-1.5-3-1.3-3-1.3-3-1.3-2.9-1.1-3-1.2-2.9-1.2-2.9-1.3-2.7-1.5-2.1-1.6-1.4-1.6-.9-1.4-.4-1.2-.1-1.2.2-1.2-.8-1.6 1-1.6 1.3-1.5 1.3-1.2 1.1-1 1-1 1.1-1 1.5-1.2 1.8-1.2 2.2-1.2 2.5-1.2 2.7-1.2 2.9-1.1 3-.9 2.9-.9 2.8-.7 2.6-.6 2.3-.5 2.1-.5 2-.5 2.2-.5 2.2-.7 2.6-.9 2.9-1 3-1 3.1-1.1 3.2-1 3.2-1.1 3.1-1.1 2.9-1 2.9-.9 2.7-.9 2.7-.9 2.7-.8 2.8-.7 2.7-.6 2.8-.6 2.8-.5 2.9-.5 3-.5 2.9-.6 3-.6 3-.6 3.1-.6 3-.6 3-.7 3.1-.7 3-.6 3.1-.7 3-.7 3.1-.6 3-.6 3-.5 3.1-.6 3-.4 3.1-.4 3-.4 3.1-.2 3-.2 3.1-.2 3 0 3 0 3.1 0 3 .2 3 .2 3 .3 3 .3 3 .5 3 .6 3 .6 3 .7 3 .7 3 .7 3 .6 2.9.6 2.9.4 2.8.4 2.8.5 3 .9 3.5 1.1 3.8 1.3 3.8 1.3 3.1 1.5 2.6 1.4 2.3 1.6 2.3 1.6 2.7 1.9 3.2 1.9 3.7 2 3.6 2 2.8 1.8 1.6 1.5-.4 1-2.5.4-4.3-.3-5.2-1-5.3-1.8-4.7-2.7-3.8-3.3-2.9-3.8-1.9-4-1-4.1-.1-4 .8-3.9 1.5-3.4 1.9-3 2.2-2.3 2.4-1.8 2.6-1.4 3.1-1.1 3.5-.8 4-.6 4.4-.3 4.5-.2 4.6 0 4.5.1 4.4.2 3.9.2 3.5.3 3.2.3 2.9.2 2.7.3 2.7.3 2.8.2 2.8.2 3 .2 3 .4 3.1.4 3.1.6 3.1.8 3 1 2.9 1.2 2.9 1.6 2.8 1.8 2.7 2.2 2.7 2.6 2.6 2.8 2.4 3.2 2.1 3.2 1.6 3.4 1.1 3.3.4 3.3-.4 3.1-1.3 2.9-2 2.5-2.6 2.1-3.1 1.7-3.3 1.1-3.5.8-3.4.5-3.3.3-3.2.2-2.9.1-2.8.1-2.6 0-2.5.1-2.3.2-2.3.2-2.2.4-2.2.4-2.2.5-2.2.6-2.3.7-2.3.8-2.4.9-2.5.9-2.6 1.1-2.6 1.1-2.7 1.1-2.7 1.3-2.8 1.3-2.8 1.3-2.9 1.5-2.9 1.4-3 1.5-3 1.6-3 1.5-3 1.6-3 1.6-3 1.5-3.1 1.6-3 1.5-3.1 1.4-3 1.5-3 1.3-3.1 1.4-3 1.2-3.1 1.2-3 1.1-3 1.1-3.1.9-3 .9-3 .8-3.1.7-3 .6-3.1.4-3 .4-3 .3-3.1.2-3 0-3.1-.1-3-.2-3.1-.3-3.1-.4-3-.5-3.1-.7-3-.7-3.1-.9-3.1-.9-3-1.1-3.1-1.1-3-1.2-3.1-1.2-3-1.3-3.1-1.4-3-1.3-3-1.4-3-1.5-3.1-1.4-3-1.4-3-1.3-3.1-1.4-3-1.2-3.1-1.3-3-1.1-3.1-1.1-3.1-1-3.1-.9-3.1-.8-3.1-.7-3.1-.6-3.2-.5-3.1-.3-3.2-.3-3.1-.1-3.1 0-3 .1-3 .2-3 .2-3 .4-2.9.4-2.8.5-2.8.5-2.8.5-2.8.6-2.8.6-2.9.6-2.9.6-3.1.7-3.1.6-3.3.6-3.2.5-3 .2-2.7-.3-2.6-.6-2.4-.8-2.8-1-3.2-1.3-3.5-2.1-3.5-3.1-3.6-3.4-1.2-3.5.5-3.5 1.7-3.4 2.1-3.3 2.5-3 2.8-2.6 2.9-2.2 3-1.9 3-1.7 2.8-1.7 2.7-1.6 2.6-1.5 2.5-1.5 2.6-1.4 2.8-1.4 3.1-1.3 3.4-1.3 3.7-1.3 3.9-1.2 3.8-1.2 3.7-1.1 3.4-1 3-.9 2.8-.9 2.6-.8 2.6-.8 2.5-.8 2.7-.9 2.9-.8 3-.8 3.1-.7 3.3-.7 3.3-.6 3.4-.5 3.4-.4 3.3-.3 3.3-.2 3.3-.1 3.2-.1 3.2-.1 3.1-.1 3.1 0 3-.1 3.1-.1 3 0 3 0 3 .1 3 0 3 .1 3 .2 3.1.2 3 .2 3.1.3 3 .3 3.1.3 3 .4 3.1.5 3 .5 3 .5 3 .6 3.1.7 3 .7 3 .7 3 .9 3 .9 3.1.9 3 1 3 1.1 3 1.1 3 1.1 3 1.1 3 1 2.9 1 3 .9 2.9.7 2.9.7 2.9.9 3 1.2 3.1 1.5 2.8 1.8 2.6 1.9 2.1 2 2 2 2.1 2 2.3 2 2.8 1.8 3.4 1.5 3.9 1.2 3.9.8 3.4.3 2.5-.1.8-.5-.9-.9-2.4-1.4-3-1.7-2.9-2.1-2.2-2.3-1.4-2.6-.7-2.6-.2-2.6.1-2.6.4-2.6.5-2.4.7-2.5 1.1-2.3 1.4-2.3 1.9-2.2 2.2-1.9 2.4-1.5 2.3-1.1 2.2-.7 2.1-.5 2.1-.2 2 0 2.2.1 2.3.2 2.5.1 2.7.1 2.9.2 3.2.3 3.2.5 3.2.7 3.2.9 3.1 1.2 2.9 1.4 2.9 1.5 2.7 1.7 2.6 1.7 2.6 1.8 2.5 1.8 2.4 1.7 2.4 1.8 2.3 1.7 2.2 1.7 2.2 1.7 2.2 1.8 2 1.7 1.9 1.7 1.6 1.7 1.4 1.8.8 1.8.4 1.8-.2 2-.5 2.1-.8 2.2-.9 2.4-1.1 2.6-1.2 2.5-1.2 2.7-1.4 2.5-1.5 2.6-1.8 2.4-2 2.4-2.2 2.2-2.4 2.1-2.6 2-2.9 1.8-3 1.6-3.2 1.5-3.2 1.4-3.4 1.3-3.4 1.2-3.4 1-3.4 1-3.3.9-3.4.7-3.3.7-3.4.5-3.2.4-3.3.3-3.2.2-3.2 0-3.1 0-3.2-.2-3.1-.3-3.1-.4-3-.5-3.1-.6-3-.7-3.1-.8-3-.9-3.1-.9-3-1.1-3-1.1-3.1-1.1-3-1.2-3.1-1.2-3-1.2-3.1-1.3-3-1.3-3.1-1.3-3-1.3-3.1-1.3-3-1.3-3.1-1.3-3-1.2-3.1-1.3-3-1.1-3.1-1.1-3-1-3.1-1-3-.8-3-.8-3.1-.7-3-.5-3-.4-3-.3-3.1-.1-3-.1-3 .2-3 .2-3 .4-3 .6-3.1.7-3 .8-3 .9-3.1 1.1-3 1.2-3.1 1.3-3.1 1.4-3.1 1.6-3 1.6-3.1 1.6-3.1 1.8-3.1 1.7-3.1 1.8-3 1.9-3.1 1.8-3 1.8-3 1.7-3 1.7-3 1.6-3 1.5-2.9 1.4-3 1.2-3 1-3 .9-3 .7-3.1.5-3.1.2-3.2.1-3.3-.2-3.3-.3-3.4-.5-3.3-.6-3.3-.8-3.3-.9-3.1-1-3.1-1.1-2.8-1.3-3-1.5-3.2-1.9-3.6-2.3-4.1-2.6-4.5-2.8-4.5-2.5-4.3-2.8-3.5-3.8-2.3-4 .7-3.4 1.8-3 3.2-2.6 3.7-2.3 3.4-2 3-1.7 2.7-1.6 2.7-1.4 2.8-1.2 2.9-1.1 2.9-1 3-1 3-.8 3-.8 3.1-.6 3-.6 3-.4 2.9-.4 2.9-.3 2.7-.3 2.8-.3 2.7-.3 2.9-.5 2.9-.5 3-.5 3.1-.6 3.2-.6 3.1-.6 3.1-.6 3.1-.5 2.9-.5 2.9-.5 2.8-.4 2.8-.3 2.8-.2 2.8-.2 2.8-.1 2.9-.1 2.9 0 2.9-.1 2.9 0 3-.2 3-.1 3-.2 3.1-.3 3-.2 3.1-.3 3-.3 3.1-.3 3-.4 3.1-.3 3-.3 3-.4 3.1-.3 3-.2 3-.3 3.1-.1 3.1-.1 3-.1 3.1 0 3.1 0 3.1.1 3 .2 3.1.2 3 .2 3 .2 3 .3 3 .4 2.9.3 2.9.4 2.8.4 2.9.4 2.8.4 3 .5 3 .4 3.2.3 3.3.5 3.2.6 2.8.9 2.3 1.3 1.7 1.6 1.6 1.8 1.7 2 2 1.8 2.2 1.8 2.7 1.5 3.3 1.2 3.9.8 4.3.6 4.3.3 3.7 0 2.6-.2 1-.6-.9-.9-2.4-1.1-3.2-1.6-3.4-1.8-2.8-2.3-2.2-2.5-1.5-2.8-1.1-3-.6-3-.2-3 .1-3 .5-2.9 1-2.8 1.3-2.4 1.8-2.2 2-1.7 2.4-1.4 2.6-1.1 2.8-.7 3.1-.5 3.2-.2 3.4-.1 3.5 0 3.5 0 3.5.2 3.3.1 3.1.2 3.1.2 2.9.3 2.9.2 2.9.3 3 .3 3 .3 3 .2 3.1.3 3.2.3 3.1.4 3.1.4 3.2.6 3.1.8 3.1 1 3.2 1.4 3.3 1.7 3.4 2.1 3.4 2.6 3.2 3 3 3.4 2.5 3.8 1.8 4.1 1.1 4.4.3 4.6-.6 4.5-1.2 4.3-1.9 4-2.5 3.5-3 2.9-3.3 2.3-3.6 1.7-3.7 1.3-3.9.9-4 .5-4 .1-4-.1-3.9-.3-3.8-.5-3.6-.6-3.6-.7-3.4-.7-3.2-.8-3.2-.7-3.1-.7-3-.8-2.9-.7-2.9-.6-2.9-.7-2.8-.6-2.9-.5-2.8-.5-2.9-.4-2.9-.4-2.9-.3-2.9-.1-2.9-.1-2.9 0-3 .1-3 .2-3 .4-3 .4-3 .6-3.1.6-3 .8-3.1.8-3 1-3.1 1-3.1 1.1-3 1.2-3.1 1.2-3 1.4-3.1 1.4-3 1.4-3.1 1.5-3 1.6-3.1 1.6-3 1.6-3 1.6-3.1 1.7-3 1.7-3 1.7-3.1 1.6-3 1.7-3.1 1.6-3 1.5-3.1 1.5-3 1.4-3.1 1.3-3.1 1.3-3 1.1-3.1 1-3.1.9-3.1.8-3 .6-3.1.5-3.1.4-3 .2-3.1.1-3-.1-3.1-.2-3-.4-3-.5-3-.6-3-.7-3-.9-3-1-3-1.1-3-1.2-3-1.3-3-1.3-3-1.4-3-1.5-3.1-1.5-3-1.6-3.1-1.5-3.1-1.6-3.1-1.5-3.1-1.5-3.1-1.4-3.1-1.4-3.1-1.3-3-1.2-2.9-1.1-2.9-1-2.9-.8-2.8-.8-2.8-.6-2.9-.5-2.9-.4-3.1-.3-3.1-.2-3.1-.2-2.8-.3-2.2-.5-1.5-.7-.6-.7 0-.6-.1-.5-.2-.5-.5-.8.2-1.3-.3-1.6-.1-1.8.1-1.6.3-1.4.5-1.3.9-1.4 1.4-1.5 1.8-1.6 2.1-1.5 2.4-1.5 2.6-1.5 2.6-1.4 2.8-1.3 2.7-1.3 2.6-1.1 2.5-1 2.5-.9 2.4-1 2.4-.9 2.5-1.1 2.7-1.1 2.7-1.1 2.9-1.2 2.9-1.3 2.9-1.3 3-1.2 2.9-1.3 2.9-1.2 2.8-1.2 2.9-1.1 2.8-1.1 2.9-1.1 3-.9 2.9-.9 3-.8 3.1-.7 3-.6 3.1-.6 3-.6 3.1-.6 3.1-.6 3-.5 3.1-.6 3-.6 3-.6 3.1-.6 3-.5 3-.5 3-.4 3-.4 3.1-.4 3-.3 3.1-.2 3-.2 3.1-.1 3-.1 3.1 0 3 .1 3 .1 3 .2 3 .3 3 .4 3.1.4 3 .6 3 .6 3 .7 3 .8 3.1.9 3.1 1 3 1 3.1 1 3 1 3 .9 2.9.8 2.7.6 2.7.6 2.7.7 3.1 1 3.7 1.2 4.2 1.5 4 1.4 3.2 1.6 2.6 1.6 2.1 1.7 2.2 1.9 2.5 2.1 3 2.2 3.6 2.2 3.4 2 2.8 1.7 1.6 1.3-.2.9-2.4.2-4-.4-4.9-1.2-4.8-2-4.1-2.7-3.1-3.2-2.3-3.5-1.3-3.7-.5-3.8.2-3.6 1-3.4 1.4-3.1 1.9-2.7 2.1-2.3 2.4-1.9 2.7-1.5 2.9-1.2 3.3-.8 3.5-.6 3.6-.4 3.7-.1 3.7 0 3.7.1 3.5.2 3.3.2 3.2.3 3 .3 3 .3 2.9.4 2.9.5 3 .5 2.9.8 2.9.8 3 1.1 2.9 1.2 2.8 1.3 2.7 1.5 2.7 1.7 2.6 1.8 2.5 1.9 2.3 2.2 2.3 2.3 2.1 2.4 2.1 2.6 1.8 2.6 1.4 2.5 1.1 2.5.6 2.2 0 2.1-.7 1.9-1.3 1.6-1.9 1.4-2.2 1.2-2.5 1-2.6.9-2.5.8-2.3.8-2.2.8-2 .9-1.9.9-1.9 1.1-1.8 1.1-1.8 1.2-1.8 1.2-1.9 1.4-2 1.4-2.1 1.4-2.2 1.5-2.4 1.5-2.4 1.6-2.6 1.5-2.6 1.6-2.7 1.7-2.9 1.6-2.8 1.7-2.9 1.6-3 1.6-3 1.7-3 1.6-3 1.5-3.1 1.6-3 1.4-3.1 1.5-3.1 1.3-3 1.3-3.1 1.2-3.1 1.1-3 1-3.1.9-3 .7-3 .7-3.1.5-3 .5-3 .3-3.1.1-3 .1-3 0-3.1-.2-3-.3-3-.4-3.1-.5-3-.7-3.1-.7-3-.9-3.1-1-3-1.1-3.1-1.2-3-1.4-3.1-1.4-3-1.4-3.1-1.6-3-1.6-3.1-1.7-3-1.6-3.1-1.8-3-1.7-3-1.7-3.1-1.7-3-1.7-3-1.6-3-1.6-3.1-1.5-3-1.4-3-1.3-3-1.2-3-1.1-3.1-1-3-.8-3.1-.7-3.1-.5-3-.4-3.1-.2-3.2 0-3.1.1-3.2.4-3.1.4-3.2.6-3.1.8-3.2.9-3.1 1-3.1 1.1-3.1 1.3-3 1.3-3 1.3-3 1.4-2.9 1.3-2.9 1.4-3 1.3-2.8 1.2-2.9 1.2-3 1-2.9 1-3 .8-3.1.8-3.1.7-3.2.5-3.2.5-3.1.3-3.2.1-3.2-.4-3.3-.8-3.8-1.4-4.3-1.7-4.9-1.8-5.2-2.2-5.3-3.7-4.7-4.6-.4-4.2.1-3.8 2.1-3.6 3.2-3.5 3.5-3.2 3.4-2.9 3.3-2.5 3.4-2 3.3-1.7 3.2-1.4 3-1.4 2.9-1.3 2.8-1.2 2.7-1.1 2.8-1.1 2.9-1 3.3-1 3.5-1 3.7-.9 3.7-.8 3.8-.8 3.5-.7 3.3-.6 3-.7 2.9-.5 2.8-.6 2.7-.6 2.7-.5 2.9-.6 2.9-.6 3-.5 3.2-.5 3.1-.4 3.2-.4 3.2-.2 3.2-.2 3.2 0 3.2 0 3.1.1 3.1 0 3.1.1 3.1.1 3 0 3.1.1 3 0 3 0 3 .1 3.1 0 3 .1 3 .1 3 .1 3.1.1 3 .1 3.1.2 3 .2 3.1.2 3 .3 3.1.3 3 .4 3.1.4 3 .5 3.1.5 3 .6 3.1.6 3 .6 3 .7 3 .7 3 .8 3 .8 2.9.8 2.9.8 2.9.7 2.9.8 2.9.7 3 .7 3.1.6 3.2.7 3.2.8 2.9 1.2 2.3 1.5 1.6 1.9 1.4 2.1 1.4 2.2 1.7 2.2 2 2.1 2.6 1.8 3.2 1.3 3.8.9 4.3.3 4.3-.1 3.9-.5 3-1 1.5-1.2-.2-1.6-1.5-1.7-2.1-2-2-2-1.4-2.2-.8-2.1-.2-2.2.1-2.2.2-2.2.2-2.1.1-2.1.3-2.3.6-2.3 1-2.4 1.6-2.3 1.9-2 2-1.7 2-1.2 1.7-.8 1.6-.5 1.7-.2 1.6-.1 1.9.1 2.1 0 2.3.1 2.8.1 2.9.1 3.2.3 3.3.4 3.3.7 3.2.8 3.1 1.1 3 1.3 2.9 1.3 2.8 1.4 2.7 1.4 2.7 1.3 2.6 1.3 2.7 1.3 2.6 1.2 2.6 1.2 2.6 1.2 2.6 1.3 2.8 1.4 2.7 1.5 2.7 1.7 2.6 2 2.2 2.2 1.9 2.6 1.3 3 .7 3.2.4 3.6-.1 3.8-.4 3.9-.7 4-1.1 3.8-1.4 3.6-1.8 3.4-2.2 3-2.5 2.7-2.9 2.4-3.2 2.1-3.5 1.7-3.7 1.5-3.8 1.1-3.9.9-4 .6-4 .4-4 .3-3.9.1-3.8 0-3.6-.2-3.6-.3-3.6-.4-3.4-.5-3.4-.7-3.3-.7-3.2-.9-3.2-.9-3.1-1.1-3.1-1.1-3.1-1.1-3.1-1.2-3-1.3-3.1-1.3-3-1.3-3-1.3-3-1.3-3.1-1.3-3-1.2-3-1.2-3.1-1.1-3-1.1-3.1-1-3.1-.9-3-.9-3.1-.8-3-.7-3.1-.6-3.1-.5-3-.4-3.1-.3-3-.2-3.1 0-3 0-3.1.2-3 .3-3 .4-3.1.5-3 .7-3 .8-3.1.9-3 1-3 1.1-3 1.3-3.1 1.3-3 1.4-3 1.4-3.1 1.6-3 1.5-3.1 1.6-3 1.7-3.1 1.6-3 1.7-3.1 1.7-3.1 1.6-3 1.6-3.1 1.5-3.1 1.5-3 1.5-3.1 1.4-3 1.2-3 1.2-3 1.1-3 1-3 .8-2.9.7-3 .6-3 .4-2.9.3-3 .1-3-.1-3-.2-3-.4-3.1-.5-3.1-.7-3.2-.8-3.1-1-3.3-1-3.2-1.2-3.3-1.2-3.2-1.2-3.2-1.3-3.2-1.3-3.1-1.3-3-1.3-2.9-1.3-3-1.3-2.9-1.5-3-1.6-3-1.9-2.9-2.1-2.6-2-2.1-1.9-1.8-1.8-1.2-2.2-.6-2.1 1.4-2 1.7-1.9 2.2-1.6 2.3-1.3 1.9-1 1.5-.9 1.5-.9 1.7-1.1 2.1-1.1 2.3-1.1 2.6-1 2.9-1 3-.9 3-.7 3.1-.7 2.9-.5 2.7-.4 2.3-.2 2.1-.3 2.1-.2 2-.3 2.2-.5 2.6-.6 2.8-.8 3.1-.8 3.2-.9 3.3-.9 3.3-1 3.2-.8 3-.9 2.8-.7 2.8-.7 2.6-.7 2.7-.6 2.6-.5 2.6-.5 2.7-.4 2.8-.4 2.8-.3 2.8-.4 3-.4 2.9-.5 3-.5 3-.5 3-.6 3.1-.6 3.1-.6 3-.7 3.1-.6 3-.6 3.1-.7 3-.6 3-.6 3.1-.6 3-.5 3-.5 3.1-.4 3.1-.3 3-.3 3.1-.2 3.1-.2 3 0 3.1-.1 3 .1 3 .1 3 .1 3 .3 3 .2 3 .4 2.9.4 2.9.5 3 .5 2.9.5 3 .4 2.9.5 3 .3 3.1.4 2.9.5 3 .8 2.9 1.1 3 1.4 2.9 1.5 2.6 1.6 2.3 1.5 2.4 1.6 2.5 1.6 2.9 1.5 3.5 1.5 4 1.4 3.9 1.3 3.2 1.2 1.9.9.1.5-2 0-3.7-.6-4.5-1.1-4.8-1.8-4.2-2.6-3.3-3-2.6-3.5-1.7-3.7-1-3.8-.2-3.8.5-3.6 1.2-3.3 1.5-2.9 2-2.4 2.1-2 2.5-1.5 2.8-1.1 3.2-.9 3.8-.6 4-.4 4.3-.2 4.4-.1 4.3.1 4.2.1 3.9.2 3.5.3 3.2.2 2.9.3 2.8.2 2.7.2 2.8.2 2.8.1 3 .2 3.1.1 3.1.3 3.2.3 3.2.5 3.1.7 3 .9 3 1.2 3.1 1.6 2.9 1.8 3 2.3 3 2.7 2.9 3 2.6 3.3 2.2 3.5 1.7 3.7 1 3.8.1 3.9-.7 3.7-1.5 3.4-2.2 3.1-2.7 2.6-3.2 2-3.5 1.6-3.5 1.1-3.6.7-3.6.5-3.5.2-3.3.1-3.3-.1-3.1-.1-3-.2-2.8-.2-2.8-.2-2.7-.1-2.6-.1-2.6 0-2.6.1-2.5.1-2.6.2-2.6.3-2.7.4-2.7.4-2.7.5-2.7.6-2.8.6-2.8.7-2.9.8-2.9.9-2.9.9-2.9 1.1-3 1-3 1.2-3 1.2-3 1.2-3 1.3-3.1 1.3-3 1.4-3.1 1.3-3 1.4-3.1 1.4-3 1.3-3.1 1.4-3 1.3-3.1 1.4-3 1.3-3 1.3-3.1 1.2-3 1.2-3 1.2-3.1 1.1-3 1-3.1 1-3 .9-3 .8-3.1.8-3 .6-3.1.6-3.1.4-3 .3-3.1.3-3 .1-3.1-.1-3.1-.1-3-.3-3.1-.3-3.1-.5-3-.6-3.1-.7-3-.9-3.1-.9-3-1-3.1-1.1-3-1.1-3-1.3-3.1-1.2-3-1.4-3-1.3-3-1.4-3.1-1.4-3-1.4-3-1.4-3.1-1.4-3.1-1.3-3.1-1.3-3.1-1.3-3.1-1.2-3.1-1.1-3.1-1-3.2-.9-3.1-.8-3.1-.7-3-.6-3.1-.5-2.9-.4-3-.3-2.8-.1-2.8-.1-2.8 0-2.7.1-2.7.3-2.8.3-2.9.4-2.9.4-3.2.6-3.2.5-3.2.5-2.9.3-2.4 0-1.8-.3-1.4-.5-1.3-.5-1.6-.7-2.2-1.2-2.4-2-2.1-2.4-1.2-2.7-.1-2.8.7-2.7 1.2-2.6 1.5-2.4 1.9-2.1 2.2-2 2.5-1.8 2.6-1.7 2.7-1.7 2.6-1.6 2.5-1.5 2.6-1.5 2.6-1.4 2.7-1.4 2.8-1.3 3-1.2 3.3-1.3 3.3-1.2 3.3-1.1 3.4-1.2 3.1-1.1 3-1.1 2.8-1.1 2.7-1.1 2.7-1 2.6-1 2.7-1.1 2.9-1 2.9-1 3.1-.9 3.1-.9 3.2-.8 3.3-.7 3.2-.6 3.3-.5 3.2-.4 3.2-.4 3.2-.3 3.2-.3 3.1-.3 3.1-.3 3-.3 3.1-.3 3-.2 3-.3 3-.2 3-.1 3-.1 3-.1 3.1 0 3 .1 3.1.1 3 .1 3.1.2 3 .3 3.1.2 3 .4 3 .4 3 .5 3 .5 3 .6 3 .7 3.1.8 3 .8 3 .9 3.1 1 3 1.1 3.1 1.1 3 1.2 3.1 1.1 3 1.1 2.9 1 2.9.9 2.8.7 2.8.7 2.8.9 3 1.1 3.5 1.4 3.6 1.6 3.3 1.7 2.7 1.8 2.2 1.9 2.1 1.9 2.2 2 2.6 2 3.2 1.9 3.7 1.8 3.6 1.3 3.1 1 2 .6.4.1-1.6-.4-3.1-1-3.8-1.5-3.7-2.1-2.9-2.5-2.1-2.8-1.2-3-.6-3.1 0-3 .4-3 .7-2.8 1.1-2.6 1.5-2.5 1.7-2.3 2.2-2 2.4-1.7 2.7-1.4 2.7-1 2.6-.7 2.7-.4 2.6-.1 2.6 0 2.5.1 2.7.2 2.7.2 2.8.1 3 .3 3 .3 3.1.5 3.2.6 3.1.9 3.1 1.2 2.9 1.3 2.8 1.6 2.8 1.7 2.6 1.8 2.6 1.9 2.4 1.9 2.4 2 2.3 2 2.2 2 2.1 2.1 1.9 2 1.9 2 1.7 2 1.5 1.8 1.2 1.8.8 1.6.3 1.5-.2 1.5-.7 1.4-1.1 1.4-1.3 1.4-1.4 1.6-1.5 1.6-1.4 1.8-1.3 1.9-1.4 2-1.3 2.1-1.5 2.1-1.5 2.1-1.8 2.2-1.9 2.1-2.1 2.1-2.2 2-2.5 1.9-2.7 1.9-2.8 1.8-3 1.7-3 1.7-3.1 1.6-3.2 1.5-3.1 1.5-3.3 1.3-3.2 1.3-3.2 1.2-3.2 1.1-3.2 1-3.2.8-3.2.8-3.2.6-3.1.6-3.1.3-3.1.3-3.1.1-3.1 0-3.1-.2-3-.2-3.1-.4-3-.6-3-.6-3.1-.7-3-.9-3-.9-3.1-1.1-3-1.1-3-1.2-3.1-1.2-3-1.4-3.1-1.3-3-1.5-3.1-1.5-3-1.5-3.1-1.6-3-1.5-3.1-1.6-3-1.6-3.1-1.6-3-1.5-3.1-1.5-3-1.5-3.1-1.4-3-1.3-3-1.2-3-1.2-3.1-1-3-.9-3-.8-3-.6-3-.5-3-.3-3-.2-3.1-.1-3 .1-3 .3-3.1.4-3 .6-3.1.7-3.1.9-3.1 1-3.1 1.2-3.1 1.3-3.1 1.4-3.1 1.5-3.1 1.6-3.1 1.7-3.1 1.7-3.1 1.8-3 1.7-3.1 1.8-3 1.8-3 1.7-3 1.6-2.9 1.5-3 1.4-3 1.3-3 1.1-3.1.9-3 .7-3.2.6-3.2.4-3.2.1-3.3 0-3.3-.1-3.2-.3-3.2-.3-3.1-.5-3-.8-3-1-3.2-1.4-3.7-1.9-4.2-2.3-5-2.5-5.2-2.4-5.3-2.9-4.7-4.1-3.6-4.8-1.5-4.2 1.3-3.6 3.3-3.3 4.2-3 4-2.7 3.7-2.4 3.4-2 3.2-1.7 3.3-1.4 3.2-1.3 3.1-1 3-1 2.9-.9 3-.9 3-.7 3-.7 3.2-.6 3.4-.5 3.3-.5 3.3-.4 3.3-.4 3.2-.3 3-.4 3-.4 3-.4 3-.4 2.9-.5 3.1-.4 3-.5 3-.4 3-.4 3-.3 3-.3 3-.2 2.9-.1 3 0 2.9.1 3 .1 3 .1 2.9.1 3 .1 3 .1 3 0 3.1 0 3 0 3-.1 3.1 0 3-.1 3.1-.1 3-.2 3.1-.1 3-.1 3-.1 3.1-.1 3-.1 3 0 3.1 0 3.1 0 3 .1 3.1.2 3.1.2 3.1.2 3 .3 3.1.3 3 .4 3.1.4 2.9.3 3 .5 2.9.4 2.9.5 2.8.4 2.8.5 2.9.4 2.9.5 3.1.4 3.2.5 3.3.5 3.3.7 2.8 1 2.1 1.4 1.3 1.7 1.1 2 1.3 2.1 1.8 2 2.2 1.9 2.7 1.5 3.4 1.2 4 .6 4.4.2 4.5-.2 3.9-.4 2.9-.8 1.4-1-.4-1.3-1.8-1.6-2.5-1.7-2.6-1.9-2.1-2.2-1.5-2.3-.9-2.4-.6-2.6-.3-2.5-.1-2.6 0-2.6.3-2.6.6-2.6 1.2-2.4 1.5-2.3 2-1.9 2.1-1.5 2.2-1.2 2.3-.7 2.4-.5 2.6-.3 2.6-.1 2.8 0 3 .1 3 .1 3.1.1 3.1.1 3.1.3 3.1.3 3 .4 3 .4 3.1.6 3 .6 3 .6 3 .7 3 .6 3 .7 3 .6 2.9.8 3 .8 3 1 3.1 1.3 3.1 1.5 3.2 1.8 3.3 2.1 3.1 2.5 3 2.9 2.6 3.3 2 3.8 1.3 4 .6 4.3-.1 4.4-.7 4.4-1.3 4.2-1.8 3.9-2.2 3.4-2.6 2.9-3 2.5-3.3 2.1-3.6 1.6-3.7 1.2-3.8.8-4 .6-3.9.2-4 0-3.9-.1-3.8-.4-3.8-.4-3.6-.5-3.5-.6-3.4-.6-3.3-.7-3.2-.7-3.2-.7-3.1-.8-3.1-.8-3-.8-3-.8-3-.8-2.9-.8-3-.8-3-.7-2.9-.7-3-.7-3-.5-3-.6-3-.4-3-.3-3-.3-3.1-.2-3 0-3.1 0-3 .1-3.1.2-3.1.3-3 .4-3.1.5-3 .5-3.1.7-3 .7-3.1.9-3 .9-3.1 1.1-3 1.1-3.1 1.2-3 1.3-3.1 1.4-3 1.4-3 1.5-3.1 1.5-3 1.6-3 1.6-3.1 1.6-3 1.7-3.1 1.6-3 1.6-3.1 1.6-3 1.6-3.1 1.5-3.1 1.5-3.1 1.3-3 1.3-3.1 1.3-3.1 1.1-3 1-3.1.8-3 .8-3.1.6-3 .5-3 .4-3.1.2-2.9.1-3-.1-3-.2-3-.3-2.9-.5-3-.7-2.9-.7-3-.9-3-1.1-3-1.1-3.1-1.3-3-1.3-3.1-1.4-3.1-1.5-3.2-1.5-3.1-1.5-3.1-1.6-3.2-1.5-3.1-1.5-3-1.4-3.1-1.4-2.9-1.3-3-1.2-2.9-1.1-2.9-1-3-.9-3-.8-3-.9-2.9-1-2.4-1.1-1.7-1.2-.8-1.2-.2-1 .1-.9.3-.6.2-.8-.7-1.3.5-1.5.7-1.5.6-1.2.6-1 .6-1.1.9-1.1 1.2-1.3 1.8-1.3 2-1.4 2.4-1.4 2.7-1.3 2.8-1.2 2.8-1.2 2.8-1 2.7-.9 2.5-.8 2.3-.7 2.2-.7 2.1-.7 2.2-.8 2.4-.9 2.7-1 2.8-1.1 3-1.2 3-1.2 3.1-1.2 3.1-1.1 3-1.2 2.9-1.1 2.8-1.1 2.8-1 2.8-.9 2.8-.9 2.8-.8 2.9-.7 2.8-.7 3-.5 2.9-.6 3-.6 3-.5 3-.6 3.1-.6 3-.6 3-.7 3.1-.6 3-.6 3-.6 3.1-.6 3-.6 3.1-.5 3-.5 3-.4 3.1-.4 3-.4 3.1-.2 3-.2 3.1-.2 3-.1 3 0 3.1.1 3 .1 3 .2 3 .3 3.1.3 3 .4 3 .6 3 .6 3 .7 3 .7 3.1.9 3 .8 3 .8 3 .8 2.9.6 2.8.5 2.8.5 2.7.6 3.1.9 3.5 1.2 4 1.3 3.7 1.5 3.1 1.4 2.6 1.6 2.2 1.6 2.3 1.8 2.6 1.9 3.2 2 3.6 2 3.6 2 2.8 1.7 1.6 1.3-.2.9-2.5.3-4.1-.3-4.9-1.1-5.1-1.9-4.4-2.7-3.5-3.2-2.6-3.7-1.7-3.8-.8-4 .1-3.8.8-3.7 1.4-3.3 1.8-2.8 2.2-2.4 2.4-1.8 2.6-1.5 3-1.1 3.4-.8 3.7-.6 4.1-.4 4.2-.1 4.2 0 4.2.1 4 .1 3.7.3 3.4.2 3.1.3 2.9.3 2.8.3 2.8.4 2.8.3 2.9.4 2.9.5 3 .6 3.1.8 3 .9 2.9 1 2.9 1.3 2.7 1.5 2.7 1.7 2.7 2 2.5 2.3 2.5 2.6 2.3 2.8 2.1 2.9 1.8 3 1.3 3 .8 3 .1 2.8-.6 2.5-1.5 2.3-2 1.9-2.7 1.6-3 1.1-3.2.9-3.2.5-3.2.4-2.9.3-2.7.2-2.6.2-2.3.3-2.3.3-2.1.4-2 .6-2 .6-2 .7-2 .8-2 .9-2.2 1-2.2 1.1-2.3 1.2-2.4 1.3-2.5 1.3-2.6 1.4-2.6 1.5-2.7 1.6-2.8 1.6-2.9 1.6-2.8 1.8-3 1.7-2.9 1.8-3 1.8-3 1.8-3 1.8-3.1 1.7-3 1.8-3 1.7-3.1 1.6-3 1.6-3.1 1.5-3 1.5-3.1 1.3-3 1.3-3 1.1-3.1 1.1-3 .9-3 .8-3.1.7-3 .6-3 .5-3.1.3-3 .2-3 0-3.1 0-3-.3-3.1-.4-3-.5-3.1-.6-3-.8-3.1-1-3-1-3.1-1.2-3.1-1.3-3-1.5-3.1-1.5-3-1.6-3.1-1.7-3-1.7-3.1-1.8-3-1.8-3.1-1.8-3-1.8-3-1.9-3-1.8-3.1-1.7-3-1.7-3-1.6-3-1.5-3.1-1.5-3-1.3-3.1-1.2-3.1-1.1-3.1-.9-3.1-.8-3.1-.6-3.2-.4-3.1-.3-3.2-.2-3.2.1-3.1.1-3.2.4-3.1.4-3 .6-3.1.7-3 .8-2.9.9-2.9 1-2.9 1-2.8 1-2.8.9-2.8 1-2.8 1-2.9.9-2.9.9-3 .9-3.1.8-3.2.8-3.2.7-3.2.5-3.1.1-3-.3-3-.8-3.2-1.1-3.6-1.2-4.1-1.6-4.4-2.8-4.2-3.7-2.3-3.7-.6-3.7 1.2-3.5 2.4-3.4 2.7-3.3 2.9-3 3-2.5 3.1-2.1 3.1-1.9 3-1.6 3-1.6 2.7-1.4 2.7-1.4 2.6-1.4 2.6-1.3 2.9-1.2 3.1-1.3 3.5-1.2 3.7-1.1 3.8-1.1 3.8-1 3.7-1 3.3-.9 3-.8 2.9-.8 2.6-.7 2.6-.7 2.7-.8 2.7-.7 2.9-.8 3-.7 3.1-.7 3.3-.6 3.3-.5 3.3-.4 3.3-.3 3.3-.2 3.2-.1 3.2-.1 3.2 0 3.2-.1 3.1 0 3.1 0 3 0 3-.1 3.1.1 3 0 3 0 3 .1 3 .1 3 .2 3.1.1 3 .3 3.1.2 3 .3 3.1.3 3 .4 3.1.4 3 .5 3 .5 3.1.6 3 .6 3 .7 3.1.8 3 .7 3 .9 3 .9 3 .9 3 1 3 1 3 1.1 2.9 1 3 .9 2.9.9 2.9.8 3 .7 3.1.8 3.1.9 2.9 1.2 2.7 1.5 2.3 1.9 1.9 2 1.8 2.1 1.8 2.2 2 2.1 2.4 1.9 3 1.7 3.6 1.2 4.1.8 4.1.3 3.7-.2 2.7-.6 1.2-1-.5-1.3-1.8-1.6-2.4-1.9-2.3-2.1-1.6-2.2-.8-2.3-.3-2.4.1-2.3.4-2.2.3-2.2.4-2.2.5-2.2.7-2.3 1.2-2.3 1.8-2.3 2-2 2.2-1.6 2-1.2 1.8-.8 1.7-.4 1.5-.2 1.6 0 1.7 0 2 .1 2.2.1 2.6.1 3 .2 3.1.3 3.3.5 3.3.7 3.3 1 3.2 1.3 2.9 1.5 2.8 1.6 2.7 1.8 2.7 1.8 2.5 1.7 2.5 1.7 2.4 1.7 2.4 1.6 2.3 1.5 2.3 1.5 2.3 1.5 2.2 1.4 2.3 1.5 2.1 1.5 1.9 1.6 1.7 1.7 1.2 1.9.8 2 .3 2.3-.1 2.5-.4 2.7-.5 3-.7 3.1-.9 3.2-1 3.1-1.3 3.1-1.6 3-1.9 2.7-2.2 2.6-2.5 2.4-2.8 2.1-3 2-3.2 1.6-3.4 1.5-3.6 1.3-3.6 1.1-3.7 1-3.6.8-3.7.7-3.5.5-3.6.4-3.5.3-3.4.2-3.4 0-3.3-.1-3.3-.2-3.2-.4-3.2-.4-3.2-.6-3.1-.6-3.1-.8-3.1-.8-3-1-3.1-1-3-1-3.1-1.1-3-1.2-3-1.2-3.1-1.2-3-1.2-3.1-1.2-3-1.2-3.1-1.2-3-1.1-3.1-1.2-3-1.1-3.1-1.1-3-1-3.1-1-3-.9-3.1-.8-3-.8-3.1-.7-3-.6-3.1-.6-3-.4-3.1-.3-3-.2-3-.2-3.1 0-3 .2-3 .2-3 .4-3.1.4-3 .6-3 .7-3 .8-3.1.9-3 1-3 1-3.1 1.2-3 1.2-3.1 1.3-3 1.4-3.1 1.4-3.1 1.4-3 1.5-3.1 1.5-3.1 1.5-3 1.5-3.1 1.4-3 1.5-3.1 1.4-3 1.4-3 1.3-3 1.2-3 1.1-3 .9-2.9.9-3 .7-3 .6-3 .4-3.1.3-3 .1-3.1-.1-3.2-.2-3.2-.4-3.2-.6-3.3-.7-3.3-.8-3.2-.8-3.3-1-3.2-1-3-1.1-3-1.1-3-1.3-2.9-1.5-3.1-1.7-3.3-2.1-3.5-2.3-3.7-2.4-3.4-2.2-3.1-2.4-2.5-2.9-1.6-3.3-.4-2.9 1.9-2.5 3.1-2.1 3.3-1.8 3-1.6 2.4-1.3 2.3-1.3 2.3-1.2 2.5-1.1 2.6-1.1 2.9-1 2.9-.9 3-.8 3.1-.7 3.1-.6 3-.5 2.9-.3 2.7-.3 2.5-.2 2.4-.2 2.4-.2 2.5-.4 2.6-.4 2.9-.6 3.1-.6 3.2-.7 3.2-.7 3.3-.7 3.1-.7 3.1-.6 2.9-.6 2.8-.6 2.7-.4 2.7-.4 2.7-.4 2.7-.2 2.7-.2 2.8-.2 2.9-.2 2.8-.1 3-.2 2.9-.3 3-.3 3-.3 3-.4 3.1-.4 3-.4 3.1-.5 3.1-.5 3-.5 3.1-.4 3-.5 3-.5 3.1-.4 3-.4 3-.4 3.1-.3 3.1-.2 3-.2 3.1-.1 3.1-.1 3.1 0 3 0 3.1.1 3 .1 3 .2 3 .2 3 .3 2.9.3 2.9.4 2.8.3 2.9.4 2.9.4 3 .4 3 .4 3.1.4 3.2.4 3.1.5 2.9.9 2.5 1.2 2.1 1.5 2 1.7 2 1.8 2.1 1.8 2.3 1.6 2.7 1.5 3.1 1.3 3.8 1 4.3.9 4.1.6 3.5.5 2.4.1.7-.2-1.3-.5-2.9-1-3.7-1.4-3.9-1.8-3.3-2.4-2.7-2.7-1.9-3-1.3-3.3-.8-3.3-.3-3.3.3-3.3.7-3 1.2-2.8 1.6-2.5 1.9-2 2.2-1.7 2.5-1.3 2.8-1 3.2-.7 3.5-.4 3.6-.3 3.8-.1 3.9.1 3.8.1 3.6.1 3.4.2 3.2.2 3 .2 2.9.3 2.8.2 2.8.2 2.9.2 3 .2 3.1.2 3.1.3 3.2.3 3.2.3 3.1.6 3.1.7 3.1.9 3.1 1.2 3.1 1.6 3.2 1.9 3.2 2.4 3.2 2.7 3.1 3.2 2.7 3.5 2.1 3.8 1.6 4 .7 4.2-.2 4.3-.9 4.1-1.6 3.9-2.3 3.4-2.8 2.9-3.2 2.3-3.5 1.8-3.7 1.3-3.7.9-3.8.6-3.8.2-3.7 0-3.7-.2-3.5-.3-3.4-.4-3.4-.5-3.1-.6-3.1-.5-3-.5-2.9-.5-2.9-.4-2.8-.4-2.8-.3-2.7-.3-2.8-.3-2.8-.1-2.8-.2-2.8 0-2.8 0-2.9.1-2.8.2-3 .3-2.9.4-2.9.5-3 .6-3 .6-3 .8-3 .9-3 .9-3.1 1-3 1.1-3.1 1.2-3 1.2-3.1 1.3-3.1 1.3-3 1.3-3.1 1.4-3 1.5-3.1 1.5-3 1.5-3 1.5-3.1 1.5-3 1.6-3.1 1.5-3 1.5-3 1.5-3.1 1.5-3 1.4-3.1 1.4-3 1.3-3.1 1.3-3 1.1-3.1 1.1-3 1-3.1.8-3.1.8-3 .6-3.1.5-3.1.4-3.1.2-3 .1-3.1 0-3.1-.2-3-.4-3.1-.4-3-.6-3.1-.7-3-.9-3-.9-3-1.1-3-1.2-3-1.2-3-1.4-3-1.4-3-1.4-3-1.5-3.1-1.6-3-1.5-3.1-1.6-3.1-1.6-3.1-1.5-3.1-1.5-3.1-1.4-3.1-1.4-3.1-1.3-3.1-1.2-3-1.1-3-1-3-.9-2.8-.8-2.8-.6-2.8-.5-2.7-.4-2.8-.2-2.8-.1-3 0-3 .1-3.3.2-3.1.1-2.8 0-2.2-.1-1.4-.4-.5-.4-.2-.5-.3-.4-.7-.5-1.1-1-1.9-1.6-.7-2.1-.2-2.1.2-2 .5-1.8.9-1.7 1.2-1.7 1.7-1.7 2-1.6 2.3-1.7 2.4-1.6 2.6-1.5 2.6-1.5 2.7-1.4 2.6-1.3 2.6-1.2 2.7-1.2 2.6-1.1 2.7-1.1 2.8-1.1 2.8-1.1 2.9-1.2 2.9-1.2 2.9-1.2 2.9-1.2 2.9-1.2 2.8-1.3 2.8-1.2 2.8-1.2 2.8-1.1 2.9-1.2 2.9-1.1 3-1 3.1-1 3-.8 3.2-.8 3.1-.7 3.1-.6 3.2-.5 3.1-.5 3.1-.6 3.1-.5 3.1-.5 3-.5 3-.6 3.1-.4 3-.5 3-.4 3-.4 3-.4 3-.2 3.1-.3 3-.1 3.1-.2 3 0 3.1 0 3 0 3.1.2 3 .1 3 .3 3 .3 3 .4 3 .5 3 .5 3 .7 3.1.7 3 .8 3 .9 3.1 1 3.1 1.1 3.1 1.2 3 1.1 3.1 1.1 2.9 1 2.9.8 2.7.7 2.7.7 2.7.7 3.1 1 3.7 1.3 4.3 1.5 3.9 1.6 3.2 1.6 2.5 1.6 2.1 1.9 2.1 1.9 2.5 2.2 3 2.2 3.5 2.2 3.4 1.9 2.9 1.6 1.6 1.2-.1.7-2.2.1-3.9-.6-4.5-1.3-4.6-2-3.7-2.6-2.9-3.1-1.9-3.4-1.1-3.6-.3-3.5.4-3.4.9-3.3 1.4-2.9 1.8-2.6 2.1-2.3 2.4-1.9 2.6-1.6 2.9-1.2 3.1-.9 3.2-.6 3.3-.4 3.4-.1 3.3 0 3.2.1 3.2.2 3.1.2 3 .3 3 .2 3 .4 3 .4 3 .6 3 .7 3 .9 2.9 1.1 2.9 1.3 2.8 1.5 2.7 1.6 2.7 1.7 2.5 1.8 2.5 2 2.4 2.1 2.2 2.1 2.2 2.3 2 2.3 1.8 2.4 1.7 2.3 1.4 2.2 1 2.1.6 1.9 0 1.8-.6 1.5-1.2 1.4-1.6 1.2-1.9 1.1-2.1 1.1-2.1 1-2 1.1-1.9 1.2-1.7 1.2-1.7 1.4-1.6 1.4-1.6 1.5-1.7 1.6-1.7 1.6-1.8 1.6-2 1.7-2.1 1.7-2.3 1.7-2.4 1.7-2.5 1.7-2.7 1.7-2.7 1.7-2.8 1.6-2.9 1.6-3 1.6-3 1.6-3.1 1.5-3 1.5-3.1 1.4-3.1 1.4-3.1 1.3-3.1 1.2-3.1 1.1-3.1 1-3.1 1-3 .8-3.1.7-3.1.6-3 .5-3.1.3-3 .3-3 .1-3.1 0-3-.1-3-.2-3.1-.3-3-.4-3-.6-3.1-.6-3-.7-3.1-.9-3-.9-3-1-3.1-1.1-3-1.2-3.1-1.3-3-1.3-3.1-1.4-3-1.4-3.1-1.5-3-1.5-3.1-1.6-3-1.5-3.1-1.6-3-1.5-3.1-1.5-3-1.5-3-1.4-3-1.4-3.1-1.3-3-1.2-3-1.1-3-1-3-.9-3-.8-3.1-.6-3-.5-3.1-.4-3-.2-3.1-.1-3 .1-3.1.2-3.1.4-3.2.5-3.1.7-3.1.8-3.2.9-3.1 1.1-3.1 1.1-3.1 1.3-3.1 1.3-3.1 1.4-3 1.5-3.1 1.4-3 1.5-2.9 1.4-3 1.3-2.9 1.3-3 1.2-3 1.1-3 1-3 .8-3.1.7-3.1.6-3.1.4-3.2.3-3.2.3-3.1.1-3.1-.1-3.1-.3-3.2-.8-3.5-1.2-4.1-1.8-4.6-2-5.2-2.1-5.4-2.5-5.3-4-4.4-4.8-3.9-4.6.5-4.1 2.8-3.8 4-3.5 4.2-3.4 3.9-2.9 3.7-2.4 3.6-2 3.5-1.6 3.4-1.4 3.1-1.2 3-1.1 2.9-1.1 2.8-1 2.9-.9 3-.9 3.3-.8 3.6-.8 3.8-.7 3.8-.7 3.7-.6 3.5-.5 3.3-.5 3-.4 2.9-.4 2.9-.5 2.8-.4 2.8-.4 2.9-.4 3-.5 3-.4 3.1-.3 3.2-.3 3.1-.2 3.1-.2 3.2 0 3.1.1 3.1.1 3.1.1 3 .2 3.1.1 3.1.2 3 .1 3 .1 3.1 0 3 .1 3 0 3 .1 3.1 0 3 0 3.1.1 3 0 3 .1 3.1 0 3 .2 3.1.1 3 .2 3.1.2 3 .3 3.1.3 3 .4 3.1.4 3.1.4 3 .5 3.1.5 3 .6 3 .6 2.9.6 3 .6 2.9.7 2.8.6 2.9.7 2.9.6 2.9.6 3 .6 3.2.5 3.3.6 3.2.8 2.8 1.1 2.3 1.5 1.5 1.7 1.3 2.1 1.4 2.1 1.7 2.1 2.1 2 2.7 1.7 3.2 1.2 3.9.8 4.4.3 4.3-.1 3.9-.4 2.9-.8 1.5-1.2-.4-1.4-1.6-1.6-2.4-1.8-2.3-2-1.8-2.2-1.1-2.2-.6-2.4-.2-2.3-.1-2.4 0-2.4.1-2.4.3-2.4.7-2.4 1.1-2.4 1.6-2.3 1.9-2 2.1-1.6 2.1-1.1 2.1-.8 2-.5 2-.2 2.2-.1 2.3 0 2.5.1 2.7.1 2.9.1 3 .1 3.2.3 3.1.4 3.2.5 3.1.7 3.1.8 3 1 2.9 1 2.9 1.1 2.9 1.1 2.8 1 2.8 1 2.7 1.1 2.8 1 2.8 1.2 2.8 1.2 2.8 1.4 2.9 1.6 3 1.8 2.9 2.1 2.7 2.3 2.4 2.8 1.9 3 1.3 3.4.7 3.7.1 3.9-.3 4.1-.8 4-1.2 3.9-1.5 3.7-1.9 3.3-2.3 3-2.6 2.7-3 2.3-3.2 1.9-3.4 1.6-3.7 1.2-3.8 1-3.9.7-3.9.4-3.9.3-3.9.1-3.8-.1-3.8-.1-3.6-.3-3.6-.4-3.4-.5-3.4-.6-3.3-.7-3.2-.7-3.2-.9-3.2-.9-3.1-.9-3.1-1.1-3-1-3-1.1-3.1-1.2-3-1.1-3-1.1-3-1.1-3-1.1-3-1.1-3.1-1-3-.9-3-.9-3.1-.8-3-.8-3.1-.6-3.1-.6-3-.5-3.1-.4-3-.3-3.1-.1-3.1-.1-3 0-3.1.2-3 .3-3.1.4-3 .5-3.1.6-3 .8-3 .9-3.1 1.1-3 1.1-3 1.3-3.1 1.4-3 1.4-3 1.6-3.1 1.7-3 1.7-3 1.7-3.1 1.9-3 1.8-3.1 1.9-3 1.9-3.1 1.8-3.1 1.9-3 1.8-3.1 1.7-3.1 1.7-3.1 1.7-3 1.5-3.1 1.4-3 1.3-3 1.2-3 1.1-3 .9-3 .8-3 .6-2.9.4-2.9.3-3 .1-2.9-.1-3-.3-2.9-.4-3-.7-3.1-.8-3-.9-3.1-1.1-3.1-1.3-3.2-1.3-3.2-1.5-3.2-1.5-3.3-1.6-3.2-1.6-3.2-1.6-3.2-1.6-3.1-1.5-3-1.5-3-1.5-2.9-1.4-3-1.4-2.9-1.5-2.9-1.6-2.8-1.8-2.3-1.9-1.8-1.8-1.1-1.6-.6-1.4-.1-1.4.2-1.5-1.7-1.7 1.2-1.8 1.6-1.6 1.6-1.3 1.4-1.1 1.2-1 1.3-1.1 1.6-1.2 1.9-1.2 2.3-1.2 2.5-1.2 2.7-1.1 2.9-1.1 3-.9 3-.9 2.8-.7 2.6-.5 2.4-.5 2.1-.4 2.2-.5 2.1-.5 2.4-.7 2.6-.8 2.8-.9 3-1 3.2-1 3.2-1 3.1-1 3.1-1 3-.9 2.9-.9 2.7-.9 2.8-.7 2.7-.8 2.7-.6 2.7-.5 2.8-.5 2.9-.5 2.9-.4 2.9-.5 2.9-.4 3-.5 3-.5 3.1-.6 3-.6 3-.6 3.1-.6 3-.6 3.1-.6 3-.6 3.1-.6 3-.5 3-.5 3.1-.5 3-.4 3.1-.4 3-.3 3.1-.3 3-.2 3.1-.1 3 0 3.1 0 3 .1 3 .1 3.1.2 3 .3 3 .3 3 .4 2.9.6 3 .5 3 .6 3 .7 2.9.6 3 .6 3 .5 2.9.4 2.9.4 2.8.6 3 .8 3.3 1.1 3.5 1.4 3.3 1.4 2.9 1.5 2.4 1.5 2.4 1.6 2.4 1.6 2.8 1.7 3.3 1.7 3.8 1.8 3.7 1.6 3 1.6 1.8 1.2-.2.7-2.3.3-4-.4-4.9-1-5.1-1.9-4.5-2.6-3.6-3.2-2.8-3.6-1.9-3.9-1-4-.2-4 .7-3.7 1.3-3.5 1.7-2.9 2.1-2.4 2.3-1.9 2.5-1.4 3-1.1 3.4-.8 3.9-.6 4.2-.4 4.5-.2 4.6 0 4.5 0 4.4.2 4 .2 3.5.3 3.2.2 2.9.3 2.8.3 2.7.2 2.7.1 2.8.1 3 .2 3.1.1 3.1.3 3.2.4 3.1.6 3.1.8 3 1.1 2.9 1.4 3 1.7 2.9 2.1 2.8 2.4 2.8 2.9 2.6 3.2 2.4 3.4 1.8 3.5 1.3 3.6.6 3.6-.3 3.5-1.1 3.3-1.9 2.9-2.6 2.4-3.2 2-3.5 1.4-3.7.9-3.7.5-3.6.2-3.5 0-3.3-.1-3.1-.2-2.9-.2-2.7-.2-2.6-.2-2.4-.1-2.4 0-2.3 0-2.2.2-2.3.3-2.2.4-2.3.5-2.4.6-2.4.7-2.5.8-2.6.9-2.6 1-2.7 1.1-2.7 1.2-2.8 1.2-2.9 1.4-2.8 1.4-3 1.5-2.9 1.6-3 1.6-3 1.7-3 1.7-3 1.7-3.1 1.8-3 1.7-3 1.7-3.1 1.7-3 1.7-3.1 1.6-3 1.6-3.1 1.5-3 1.4-3 1.4-3.1 1.3-3 1.3-3 1.1-3.1 1.1-3 .9-3.1.9-3 .8-3 .6-3.1.5-3 .4-3.1.2-3 .1-3.1 0-3-.1-3.1-.3-3.1-.5-3-.5-3.1-.7-3.1-.8-3-1-3.1-1-3.1-1.1-3-1.3-3.1-1.3-3-1.3-3-1.5-3.1-1.5-3-1.5-3-1.5-3.1-1.6-3-1.5-3-1.5-3-1.5-3.1-1.5-3-1.4-3.1-1.3-3.1-1.3-3.1-1.2-3.1-1-3.1-1-3.1-.9-3.1-.7-3.2-.7-3.1-.5-3.1-.4-3.1-.2-3.1-.2-3 0-3 .1-3 .1-2.9.3-2.8.3-2.8.4-2.8.4-2.7.5-2.8.5-2.9.6-2.9.6-3 .6-3.2.7-3.2.6-3.2.5-3 .2-2.6-.1-2.3-.5-2.1-.8-2.3-.8-2.6-1.1-3.1-1.9-3.1-2.6-2.6-3-1.1-3.2.4-3.2 1.2-3.1 1.8-3 2.1-2.7 2.4-2.4 2.7-2.1 2.7-1.9 2.9-1.7 2.7-1.7 2.7-1.6 2.5-1.5 2.6-1.5 2.6-1.4 2.7-1.4 3-1.3 3.2-1.3 3.5-1.3 3.7-1.2 3.6-1.2 3.6-1.2 3.2-1 3-1.1 2.8-.9 2.7-1 2.6-.9 2.6-.9 2.6-1 2.9-.9 3-.9 3.1-.9 3.2-.8 3.3-.7 3.3-.6 3.3-.5 3.4-.4 3.2-.3 3.3-.3 3.2-.2 3.2-.2 3.1-.2 3.1-.2 3-.1 3.1-.2 3-.1 3-.1 3-.1 3 0 3 0 3 0 3.1.2 3 .1 3.1.2 3 .3 3.1.3 3 .3 3.1.4 3 .4 3 .5 3 .6 3 .6 3 .7 3.1.8 3 .8 3 .9 3 1 3.1 1 3 1.1 3.1 1.2 3 1.1 3 1.2 3 1.1 2.9 1 2.9.9 2.9.7 2.8.8 2.9.8 3 1.2 3.3 1.5 3.2 1.7 2.9 1.9 2.3 1.9 2.1 2 2.1 2 2.2 2 2.7 1.9 3.3 1.7 3.8 1.4 3.8 1.1 3.3.5 2.2.2.7-.3-1.2-.8-2.6-1.2-3.2-1.6-3.2-2.1-2.4-2.5-1.5-2.6-.9-2.7-.2-2.8.1-2.7.4-2.6.7-2.6.8-2.4 1.2-2.4 1.6-2.3 2-2.1 2.3-1.9 2.5-1.5 2.4-1 2.3-.7 2.2-.4 2.2-.2 2.1 0 2.2.1 2.3.1 2.5.2 2.7.1 2.9.2 3.1.4 3.2.4 3.3.7 3.2 1 3 1.2 3 1.5 2.8 1.6 2.7 1.8 2.6 1.9 2.5 1.9 2.5 1.9 2.4 1.8 2.2 1.9 2.3 1.9 2.1 1.8 2.1 1.8 1.9 1.8 1.9 1.7 1.7 1.7 1.4 1.6 1.1 1.6.7 1.6.1 1.6-.3 1.6-.7 1.7-.9 1.9-1.1 2.1-1.1 2.2-1.1 2.3-1.2 2.4-1.2 2.4-1.4 2.5-1.5 2.4-1.8 2.3-2 2.3-2.2 2.2-2.4 2.1-2.6 1.9-2.9 1.8-2.9 1.7-3.2 1.6-3.2 1.4-3.3 1.4-3.3 1.3-3.3 1.1-3.4 1.1-3.3 1-3.3.8-3.3.7-3.3.7-3.2.5-3.2.4-3.2.2-3.2.2-3.1 0-3.2-.1-3.1-.2-3-.3-3.1-.5-3.1-.6-3-.6-3-.8-3.1-.8-3-.9-3.1-1-3-1-3-1.1-3.1-1.2-3-1.2-3.1-1.2-3-1.3-3-1.2-3.1-1.4-3.1-1.3-3-1.3-3.1-1.3-3-1.3-3.1-1.3-3-1.2-3.1-1.2-3-1.2-3.1-1.1-3-1-3-1-3.1-.8-3-.8-3-.6-3-.6-3.1-.4-3-.3-3-.2-3 0-3 .1-3 .2-3.1.4-3 .4-3 .7-3.1.7-3 .9-3.1 1-3.1 1.1-3 1.2-3.1 1.3-3.1 1.4-3.1 1.5-3.1 1.5-3.1 1.6-3 1.6-3.1 1.7-3.1 1.7-3 1.6-3 1.6-3 1.6-3 1.5-3 1.4-3 1.3-3 1.1-3 1-3 .9-3.1.7-3 .5-3.2.3-3.2.1-3.2-.1-3.3-.2-3.3-.4-3.3-.5-3.3-.6-3.1-.8-3.1-.8-2.9-1-3-1.3-3.2-1.6-3.6-2.1-4.1-2.5-4.6-2.5-4.7-2.5-4.6-2.8-4-3.8-2.8-4.3-.4-3.7 1.6-3.2 3.2-2.8 4-2.6 3.6-2.2 3.2-2.1 3-1.7 2.9-1.5 2.9-1.3 3-1.1 3-1.1 3-.9 3-.9 3-.7 3.1-.7 3-.6 3.1-.5 3.1-.4 3-.4 3-.3 2.9-.3 2.9-.3 2.9-.4 3-.5 3-.4 3-.6 3.1-.5 3.1-.5 3.1-.5 3.1-.5 2.9-.4 3-.4 2.9-.3 2.8-.3 2.9-.2 2.8 0 2.9-.1 2.8.1 3 0 2.9 0 2.9.1 3-.1 3 0 3-.2 3.1-.1 3-.2 3.1-.1 3-.3 3.1-.2 3-.2 3.1-.3 3-.2 3-.3 3.1-.2 3-.2 3-.2 3.1-.1 3.1 0 3 0 3.1 0 3.1.1 3.1.2 3.1.2 3 .2 3.1.2 3 .3 2.9.3 3 .4 2.9.3 2.9.4 2.8.4 2.8.4 2.9.4 2.9.4 3.1.4 3.2.4 3.3.5 3.3.6 2.8 1 2.1 1.3 1.5 1.7 1.3 1.9 1.4 2 1.9 1.9 2.3 1.8 2.7 1.5 3.3 1.2 4 .7 4.4.3 4.4 0 3.8-.2 2.8-.5 1.2-.8-.7-1.1-2-1.4-2.9-1.6-3-1.9-2.6-2.1-1.8-2.5-1.3-2.6-.9-2.8-.5-2.8-.2-2.8 0-2.9.4-2.7.8-2.7 1.2-2.5 1.7-2.2 2-1.8 2.2-1.5 2.4-1 2.7-.8 2.8-.5 2.9-.2 3.1-.2 3.3 0 3.3.1 3.3.1 3.2.2 3.2.1 3 .2 3 .3 3 .3 2.9.4 3 .3 3 .4 3 .4 3.1.3 3.1.4 3.1.4 3.1.5 3.1.7 3.1.7 3.1 1 3.2 1.3 3.2 1.6 3.4 2 3.4 2.4 3.3 2.9 3 3.2 2.5 3.7 2 4 1.2 4.4.4 4.5-.3 4.6-1 4.5-1.7 4.1-2.2 3.7-2.7 3.1-3.1 2.6-3.4 2.1-3.7 1.6-3.8 1.1-3.9.7-4 .4-4 .1-4-.1-3.9-.3-3.8-.5-3.7-.6-3.5-.6-3.4-.7-3.4-.7-3.2-.7-3.1-.8-3-.7-3-.7-3-.7-3-.7-2.9-.7-2.9-.6-2.9-.6-2.9-.5-2.9-.5-2.9-.4-3-.3-2.9-.2-3-.2-3 0-3 0-3 .2-3 .2-3.1.4-3 .4-3.1.6-3 .6-3.1.7-3.1.8-3 .9-3.1 1-3 1-3.1 1.1-3 1.2-3.1 1.2-3 1.4-3.1 1.3-3 1.4-3 1.5-3.1 1.5-3 1.6-3.1 1.5-3 1.6-3 1.6-3.1 1.5-3 1.6-3.1 1.5-3 1.5-3.1 1.4-3 1.4-3.1 1.2-3.1 1.3-3.1 1.1-3 1-3.1.9-3.1.8-3 .7-3.1.5-3.1.4-3 .3-3.1.2-3 0-3-.1-3-.3-3-.3-3-.5-3-.6-3-.8-3-.8-3-1-2.9-1-3-1.2-3-1.2-3.1-1.3-3-1.4-3.1-1.4-3.1-1.4-3.1-1.5-3.1-1.4-3.1-1.5-3.1-1.4-3.1-1.3-3-1.4-3.1-1.2-2.9-1.1-2.9-1.1-2.9-.9-2.9-.9-2.9-.7-2.9-.6-3-.5-3.1-.5-3.1-.5-2.8-.5-2.3-.8-1.5-.8-.7-.9-.1-.8 0-.7 0-.5-.2-.8 2-1 0-1.4.1-1.5.1-1.3.1-1.1.3-1.1.7-1.2 1.2-1.4 1.7-1.4 2-1.5 2.4-1.4 2.5-1.4 2.7-1.4 2.8-1.2 2.8-1.2 2.6-1 2.5-1 2.3-.8 2.1-.8 2.2-.9 2.3-1 2.5-1 2.7-1.2 2.8-1.2 3-1.3 3-1.3 3-1.3 2.9-1.3 3-1.3 2.8-1.2 2.9-1.2 2.8-1.1 2.8-1.1 2.9-1 2.8-.9 3-.8 2.9-.8 3-.6 3-.7 3.1-.6 3-.7 3.1-.6 3-.7 3-.7 3.1-.6 3-.7 3-.6 3.1-.6 3-.6 3-.5 3-.5 3.1-.5 3-.4 3.1-.3 3-.3 3.1-.2 3-.1 3.1-.1 3 0 3 .1 3 .1 3 .3 3.1.2 3 .4 3 .5 3 .6 3 .6 3.1.8 3 .8 3.1 1 3 .9 3.1 1 3 1 3 .9 2.9.7 2.7.6 2.7.6 2.7.6 3.1 1 3.7 1.2 4.3 1.4 4 1.4 3.3 1.5 2.5 1.6 2.2 1.7 2.2 1.9 2.5 2 3 2.2 3.6 2.3 3.4 2.1 2.8 1.8 1.5 1.4-.3.9-2.5.3-4.1-.3-4.9-1.2-5-1.9-4.3-2.7-3.3-3.3-2.4-3.6-1.4-3.8-.6-3.8.2-3.7.9-3.6 1.5-3.1 1.9-2.8 2.2-2.3 2.4-1.9 2.7-1.4 2.9-1.2 3.4-.8 3.6-.6 3.8-.4 3.9-.1 3.9 0 3.8.1 3.7.2 3.5.2 3.2.3 3.1.3 2.9.3 2.9.4 2.9.4 2.8.5 3 .6 2.9.8 3 .8 2.9 1.1 2.9 1.1 2.8 1.4 2.7 1.5 2.7 1.6 2.6 1.9 2.5 2 2.3 2.3 2.3 2.4 2.2 2.6 2 2.7 1.6 2.7 1.3 2.6.7 2.6.1 2.3-.6 2.2-1.2 2-1.8 1.7-2.3 1.4-2.6 1.3-2.7 1-2.7.8-2.6.8-2.4.8-2.3.7-2.2.8-2.1.8-2 .9-2 .9-2 1-2.1 1.1-2.1 1.1-2.1 1.1-2.3 1.2-2.3 1.3-2.5 1.3-2.5 1.3-2.6 1.4-2.7 1.4-2.8 1.4-2.8 1.5-2.8 1.5-2.9 1.5-3 1.5-3 1.5-3 1.5-3 1.5-3 1.4-3 1.5-3.1 1.4-3 1.3-3.1 1.3-3 1.2-3.1 1.2-3 1-3.1 1-3 .9-3.1.8-3 .7-3 .6-3.1.5-3 .4-3 .3-3.1.2-3 0-3 0-3.1-.2-3-.2-3.1-.4-3-.5-3-.7-3.1-.7-3-.9-3.1-1-3.1-1-3-1.2-3.1-1.3-3-1.4-3.1-1.4-3-1.5-3.1-1.6-3-1.6-3.1-1.7-3-1.6-3-1.7-3.1-1.7-3-1.6-3-1.7-3-1.5-3-1.5-3.1-1.5-3-1.3-3-1.3-3.1-1.1-3-1-3.1-.9-3.1-.8-3-.6-3.2-.4-3.1-.3-3.1-.1-3.2 0-3.2.2-3.1.4-3.2.5-3.1.7-3.2.8-3 .9-3.1 1-3 1.1-3 1.2-2.9 1.2-3 1.3-2.8 1.2-2.9 1.2-2.8 1.2-2.9 1.1-2.9 1-2.9 1-3 .9-3.1.8-3.2.8-3.2.7-3.2.5-3.1.3-3.2-.1-3.2-.6-3.6-1.1-4-1.4-4.6-1.5-5.1-2.1-5.3-3.5-4.8-4.4-1.3-4.2-.3-3.9 1.9-3.7 3-3.5 3.4-3.4 3.4-3 3.3-2.5 3.4-2.1 3.4-1.8 3.2-1.5 3.1-1.4 2.8-1.3 2.8-1.2 2.6-1.2 2.8-1.1 3-1.1 3.2-1.1 3.5-1 3.8-1 3.9-.9 3.8-.8 3.6-.7 3.3-.7 3.1-.6 2.8-.6 2.8-.6 2.6-.6 2.8-.6 2.8-.6 2.9-.5 3-.6 3.2-.5 3.2-.5 3.2-.4 3.2-.2 3.3-.2 3.2-.1 3.2 0 3.1.1 3.2 0 3.1.1 3.1 0 3 .1 3.1 0 3 0 3 0 3 .1 3.1 0 3 .1 3 0 3 .1 3.1.2 3 .1 3.1.2 3 .2 3.1.2 3 .3 3.1.3 3 .4 3 .5 3.1.4 3 .6 3.1.5 3 .7 3.1.6 3 .8 3 .7 3 .8 3 .8 2.9.9 2.9.9 2.9.8 2.9.8 3 .8 3 .7 3 .6 3.2.7 3.1.8 2.9 1.2 2.5 1.5 2 1.8 1.7 2.1 1.6 2.1 1.8 2.2 2 2 2.5 1.8 3.1 1.5 3.7 1 4.2.6 4.2.2 3.8-.3 2.8-.7 1.3-1-.4-1.4-1.8-1.6-2.4-1.9-2.3-2-1.7-2.2-.9-2.3-.4-2.3 0-2.3.2-2.3.3-2.3.2-2.3.5-2.2.7-2.4 1.2-2.3 1.6-2.3 2.1-2 2.1-1.6 2.1-1.2 1.8-.7 1.8-.5 1.8-.2 1.7-.1 2 .1 2.1.1 2.4.1 2.7.1 3 .1 3.1.3 3.3.5 3.2.6 3.3.9 3.1 1.2 2.9 1.3 2.9 1.4 2.8 1.6 2.7 1.5 2.6 1.5 2.6 1.5 2.5 1.4 2.5 1.4 2.5 1.3 2.5 1.4 2.5 1.4 2.6 1.4 2.5 1.5 2.5 1.7 2.3 1.8 2 2.1 1.6 2.3 1.1 2.6.5 2.9.2 3.1-.2 3.4-.4 3.6-.7 3.6-.9 3.6-1.2 3.5-1.6 3.3-1.9 3.1-2.2 2.9-2.6 2.5-2.9 2.3-3.2 2-3.4 1.7-3.6 1.5-3.7 1.2-3.8.9-3.9.8-3.9.6-3.8.5-3.8.3-3.7.1-3.6.1-3.5-.2-3.5-.2-3.4-.4-3.3-.6-3.3-.6-3.2-.8-3.2-.9-3.2-1-3.1-1.1-3-1.1-3.1-1.3-3.1-1.3-3-1.4-3-1.4-3.1-1.4-3-1.5-3-1.4-3.1-1.4-3-1.4-3-1.4-3.1-1.3-3.1-1.3-3-1.2-3.1-1.2-3-1.1-3.1-1-3.1-.9-3-.8-3.1-.8-3-.6-3.1-.5-3-.3-3.1-.3-3-.1-3.1 0-3 .2-3 .3-3.1.5-3 .6-3 .8-3 .9-3 1-3.1 1.2-3 1.3-3 1.3-3 1.5-3.1 1.6-3 1.7-3.1 1.7-3 1.8-3.1 1.8-3 1.9-3.1 1.9-3.1 1.8-3.1 1.9-3 1.8-3.1 1.8-3 1.8-3.1 1.6-3 1.6-3 1.5-3 1.4-3 1.3-3 1.1-2.9 1-3 .8-2.9.7-3 .4-2.9.3-3 .1-3.1-.1-3-.3-3.1-.5-3.2-.6-3.2-.8-3.2-1-3.3-1.1-3.3-1.2-3.3-1.3-3.3-1.3-3.2-1.4-3.2-1.4-3-1.4-3-1.4-2.8-1.5-3-1.6-3-1.9-3.1-2.1-3.2-2.3-3-2.3-2.7-2.1-2.2-2.1-1.6-2.5-.7-3-18.5" fill="none" stroke="#ff0000" stroke-width="1.0" stroke-opacity="1" stroke-linejoin="round"/>
<path d="M996 42l-.4-.1-1.1.9-1.7 1.4-1.7 1.7-1.5 1.6-1.3 1.6-1 1.6-.8 1.6-.7 1.7-.6 1.8-.5 1.9-.6 2.1-.7 2.4-.7 2.5-.8 2.7-.8 2.7-.8 2.9-.9 2.8-.9 2.9-.8 2.8-.9 2.8-.8 2.7-.9 2.8-.9 2.8-.8 2.8-.9 2.9-.9 2.9-.9 2.9-.9 3-.9 3.1-1 3-.9 3.1-.9 3.1-.9 3.1-.9 3-.9 3.1-.9 3.1-.8 3.1-.8 3.1-.8 3.1-.8 3-.7 3.1-.8 3-.6 3.1-.7 3-.6 3.1-.6 3.1-.6 3-.6 3.1-.5 3.1-.5 3.1-.5 3-.5 3.1-.4 3.1-.4 3.1-.4 3.2-.3 3.1-.4 3.1-.3 3.2-.3 3.1-.2 3.1-.2 3.2-.2 3.1-.2 3.1-.1 3.1-.1 3.1 0 3 .1 3 .1 2.9.1 2.9.2 3 .4 3 .4 3.1.4 3.3.6 3.4.7 3.7.8 3.7.9 3.6 1.1 3.4 1.3 3 1.4 2.8 1.5 2.7 1.5 2.8 1.5 3 1.4 3.2 1.3 3.7 1.3 3.9 1.2 3.9 1.2 3.4 1.2 2.8 1.4 1.9 1.5.6 1.8-.9 1.8-2.6 1.7-3.8 1.3-4.8.5-5.2-.5-5.2-1.7-4.8-2.7-4.4-3.4-3.6-3.8-2.8-3.9-1.8-3.8-.8-3.5.3-2.9 1.5-2.3 2.5-1.9 3.5-1.4 4.2-.9 4.6-.7 4.7-.4 4.7-.3 4.4-.3 4.1-.3 3.7-.3 3.4-.4 3.2-.3 3-.4 2.9-.2 2.8-.1 2.7 0 2.7.4 2.7.7 2.7.9 2.8 1.2 2.8 1.4 2.9 1.7 2.9 1.7 2.9 1.8 2.9 1.6 2.9 1.4 2.8 1.2 2.9 1 2.9.7 2.8.5 2.9.4 2.9.4 2.6.5 2.3.8 1.9 1.1 1.2 1.6.3 2-.4 2.3-.9 2.5-.9 2.4-.8 2.4-.6 2.2-.5 2.3-.5 2.2-.6 2.3-.7 2.4-.9 2.4-1.1 2.4-1.4 2.6-1.8 2.5-2.1 2.6-2.5 2.6-2.9 2.4-3.2 2.3-3.6 2.2-3.8 1.9-4.1 1.6-4.1 1-4.5-.9-4.8-2.6-4.9-4.2-4.7-5.3-4.3-5.9-3.8-5.8-3.5-4.7-3.1-1-2.8 1.4-2.7 1.7-2.9 2-2.9 2.2-3.1 2.3-3 2.4-3.1 2.4-3.1 2.5-3.1 2.4-3 2.5-3.1 2.4-3.1 2.3-3.1 2.2-3.1 2.1-3 2-3.1 1.8-3.1 1.7-3.1 1.6-3.1 1.3-3.1 1.2-3.1 1.1-3.1.8-3.1.7-3.1.4-3.2 0-3.1-1.9-3.1-3.9-3.1-5.6-3.1-6.9-3.1-7.7-3.1-7.6-3.1-6.6-3.1-3.1-3.1 1-3.2 1.6-3.1 2-3.1 2.2-3.2 2.4-3.1 2.7-3.1 2.7-3 2.8-3.1 2.8-3.1 2.9-3 2.8-3.1 2.7-3.1 2.6-3.1 2.5-3.1 2.4-3.1 2.1-3.2 2-3.2 1.7-3.2 1.6-3.3 1.3-3.3 1-3.3.8-3.3.5-3.3.2-3.3 0-3.3-1.5-3.2-3.5-2.9-5.3-2.7-6.7-2.5-7.6-2.3-7.8-2.3-7.1-2.3-5-2.6.7-3.2 1.7-3.4 2.1-3.3 2.2-3.4 2.4-3.4 2.4-3.4 2.4-3.4 2.3-3.4 2.1-3.5 1.9-3.5 1.6-3.6 1.4-3.7 1.1-3.7.7-4 .4-4 0-4.4-.4-4.5-.8-4.8-1.4-5.1-2-5.3-2.6-4.6-3-3.6-3.5-.2-3.6 1.8-3.6 3.2-3.4 4-3.1 4.2-2.7 4.1-2.5 4-2.2 3.9-1.9 3.8-1.7 3.8-1.5 3.6-1.4 3.5-1.3 3.5-1.1 3.4-.9 3.4-.8 3.4-.7 3.4-.6 3.5-.5 3.5-.3 3.5-.2 3.6-.2 3.6 0 3.5 0 3.5.1 3.4.3 3.3.2 3.2.4 3.1.4 3 .5 3 .4 2.9.5 3 .6 2.9.5 3 .5 2.9.5 3 .5 3.1.4 3 .4 3.1.4 3.2.3 3.2.3 3.2.2 3.1.1 3.2.1 3.2-.3 3.2-.5 3.1-.5 3.2-.5 3.1-.6 3.1-.5 3-.5 3.1-.6 3.1-.5 3-.5 3-.5 3.1-.6 3-.5 3-.5 3.1-.6 3-.5 3-.6 3.1-.5 3-.5 3.1-.5 3.1-.6 3.2-.5 3.2-.5 3.2-.5 3.2-.4 3.2-.2 3.2-.2 3.1.1 3.1.3 2.9.6 2.9.9 2.7 1 2.7 1.3 2.5 1.5 2.4 1.6 2.3 1.6 2.3 1.6 2.4 1.4 2.6 1.3 3.1 1 3.5.7 4 .4 4.4.3 4.5.1 4.2.1 3.5.1 2.6.3 1.4.3-.1.5-1.7.4-3 .2-3.9-.1-4.3-.8-4.5-1.4-4.2-2.1-3.9-2.6-3.4-2.9-2.8-3.1-2.1-3.1-1.3-3-.2-2.6.8-2.3 1.8-1.9 2.5-1.6 3.2-1.4 3.7-1.1 4-1 4.1-.8 4.1-.6 4-.4 3.7-.4 3.7-.2 3.5-.1 3.3 0 3.2.1 3.1.1 3 .1 2.8.1 2.8.1 2.7.1 2.6.1 2.7.1 2.7.2 2.8.2 3 .2 3.1.3 3.3.4 3.6.5 3.9.6 4.3.9 4.7 1 5 1.2 5.1 1.6 5.1 1.9 4.6 2.2 4 2.7 2.9 3.1 1.6 3.5-.1 3.7-2 3.6-4.1 3.1-6 2.2-7.4 1.3-8.2.5-8.4-.2-7.7-.3-5.4.7-1.8.8-1.2.9-1 1.3-.8 1.5-.6 1.8-.6 2-.8 2.3-.9 2.5-1.2 2.6-1.5 2.8-1.8 2.8-2.2 2.8-2.4 2.8-2.7 2.6-3 2.6-3.1 2.4-3.3 2.2-3.3 2-3.4 1.7-3.3 1.5-3.4 1.3-3.3.9-3.2.7-3.3.5-3.1-.9-3.2-2.7-3.1-4.5-3.1-5.7-3.2-6.5-3.1-6.7-3.2-6.1-3.2-4.4-3.1.3-3.1 1.3-3.1 1.7-3.1 1.9-3 2.1-3.1 2.2-3.1 2.2-3.1 2.4-3 2.3-3.1 2.4-3.1 2.4-3.1 2.4-3.1 2.4-3.1 2.3-3.1 2.3-3.1 2.3-3.1 2.1-3.1 1.9-3.1 1.9-3.1 1.6-3.1 1.4-3.1 1.1-3 .9-3.1.7-3.1.3-3-.8-3.1-3.2-3.1-5.4-3.2-7.1-3.1-8.3-3.2-8.6-3.2-8-3.2-6.1-3.1-.5-3.1 1.6-3 2.1-2.9 2.3-3 2.5-3 2.7-3 2.7-3.1 2.8-3.1 2.9-3.1 2.8-3.2 2.7-3.2 2.7-3.3 2.6-3.4 2.5-3.3 2.3-3.4 2.1-3.5 1.9-3.4 1.7-3.4 1.5-3.4 1.2-3.4.8-3.3.6-3.3.3-3.3-.1-3.3-.5-3.2-1.8-3.1-4.2-2.7-6.2-2.3-7.3-1.9-7.4-1.5-6.6-1-4.8-1-1.1-1.6 1.1-2.3 1.4-2.3 1.4-2.5 1.4-2.7 1.4-3.1 1.3-3.4 1.3-3.9 1-4.3.4-4.2-.4-3.4-1.5-.6-2.2.8-2.4 1.7-2.5 2.2-2.3 2.3-2.1 2.5-1.7 2.5-1.6 2.6-1.3 2.6-1.3 2.6-1.1 2.7-1.1 2.7-1.1 2.9-1.1 2.9-1.1 2.9-1 3-1.1 3.1-1 3.1-1.1 3.1-1 3.1-1 3.2-1 3.2-.9 3.2-1 3.3-.9 3.3-1 3.2-.9 3.3-.9 3.2-.8 3.2-.9 3.2-.8 3.1-.8 3.1-.8 3.1-.7 3.1-.7 3-.7 3-.7 3-.6 3-.7 2.9-.5 3-.6 2.9-.5 3-.5 2.9-.5 3-.4 3-.4 3-.4 3.1-.4 3-.3 3.1-.3 3-.3 3.1-.3 3.1-.2 3.2-.2 3.1-.2 3.1-.1 3.2-.1 3.1-.1 3.2-.1 3.1-.1 3.2 0 3.2 0 3.1.1 3.2.1 3.1.1 3.1.2 3 .3 3 .4 2.9.5 3 .5 2.9.6 2.9.7 3.1.8 3.2.8 3.3 1 3.3 1.2 3.5 1.4 3.4 1.6 3.1 1.9 2.7 2.1 2.3 2.2 2.2 2.3 2.1 2.3 2.2 2.3 2.5 2 2.9 1.8 3.3 1.5 3.8 1 4 .6 3.9.2 3.6-.3 3-.7 1.9-.9.7-.9-.9-1.2-2-1.4-2.5-1.7-2.8-1.9-2.6-1.6-2.4-1.6-2.1-1.5-1.7-1.5-1.3-1.5-.9-1.3-.4-1.3.2-1.1.7-1 1.2-.9 1.6-.8 2-.9 2.2-.9 2.4-1 2.5-1 2.6-1.1 2.6-1.2 2.6-1.1 2.5-1 2.6-.9 2.6-.7 2.6-.5 2.6-.2 2.6 0 2.7.3 2.7.5 2.7.7 2.8.9 2.7.9 2.9 1 2.8 1 2.9.9 3 1 3.1.8 3.1.7 3.3.7 3.5.5 3.8.5 4 .5 4.1.8 4.1 1 3.9 1.4 3.3 1.9 2.7 2.3 1.7 2.8.8 3.1.2 3.3-.1 3.3-.3 3.2-.4 3.1-.7 2.9-1 2.9-1.3 2.8-1.7 2.7-2.1 2.6-2.5 2.4-3 2.3-3.4 1.9-4 .8-5.7-.8-7-2.3-7.7-3.7-7.8-4.5-7.1-5-6-4.4-4.7-1.6-2.6 1.3-1.4 1.8-1.6 2-1.7 2.3-2.1 2.5-2.3 2.6-2.5 2.7-2.7 2.8-2.8 2.7-2.9 2.8-3 2.7-3.1 2.6-3.1 2.5-3.1 2.3-3.1 2.2-3 2-3.1 1.9-3.1 1.7-3.1 1.4-3.1 1.3-3.1 1-3.1.8-3 .6-3.1.3-3.2 0-3.1-1.7-3.1-3.6-3.1-5.2-3.2-6.4-3.1-7.2-3.1-7.2-3.1-6.4-3.1-3.8-3.1.8-3.1 1.2-3.1 1.7-3.1 1.9-3.1 2.1-3.1 2.4-3.1 2.5-3.1 2.6-3.1 2.7-3.1 2.8-3.1 2.7-3.1 2.8-3.1 2.6-3.1 2.6-3 2.4-3.1 2.2-3.1 2.1-3 1.8-3.1 1.6-3.1 1.4-3.1 1.1-3.2.9-3.1.6-3.2.3-3.2 0-3.3-1.6-3.2-3.7-3.1-5.4-3-6.7-2.9-7.4-2.7-7.5-2.6-6.8-2.5-5.1-2.6-.2-2.9 1.4-3.1 1.8-3.2 2.1-3.3 2.2-3.3 2.3-3.4 2.5-3.5 2.4-3.4 2.5-3.5 2.4-3.5 2.3-3.5 2.2-3.5 2-3.5 1.7-3.5 1.5-3.5 1.2-3.5.9-3.7.6-3.6.3-3.7 0-3.8-.2-3.9-.5-3.9-.8-4.1-1.1-4.1-1.5-4.3-2.1-4.1-2.7-3.6-3.2-2.9-3.3-1.4-2.8-.3-2.9 2-2.8 4.1-2.5 5.9-2 6.3-1.4 5.4-.9 4.3-.5 3.5-.3 2.8 0 2.6.1 2.3.2 2.2.1 2.3 0 2.5-.3 2.4-.5 2.7-.5 2.7-.6 2.8-.6 2.8-.6 2.7-.6 2.7-.7 2.6-.6 2.5-.6 2.5-.7 2.5-.7 2.5-.7 2.6-.7 2.7-.8 2.8-.8 2.8-.8 2.9-.9 3-.9 3-.8 3.1-.9 3.1-.9 3.2-1 3.1-.8 3.2-.9 3.2-.9 3.1-.9 3.2-.8 3.2-.8 3.1-.8 3.1-.8 3.2-.7 3.1-.8 3.1-.7 3.1-.6 3.1-.7 3-.6 3.1-.6 3.1-.6 3.1-.6 3-.6 3.1-.5 3.1-.5 3.1-.5 3.1-.5 3.1-.5 3.1-.4 3.1-.4 3.1-.4 3.1-.4 3.1-.4 3.1-.3 3.1-.3 3.1-.2 3.1-.2 3-.2 3 0 3.1 0 3 .1 3 .3 3.1.4 3.2.5 3.3.7 3.4.8 3.4 1 3.3 1.1 3.1 1.3 2.9 1.5 2.7 1.4 2.7 1.4 2.8 1.4 3 1.3 3.4 1.1 3.8 1 4 .9 4 .9 3.7 1 2.9 1.2 2 1.3.8 1.5-.8 1.7-2.5 1.5-3.7 1.2-4.6.5-5.2-.5-5.2-1.5-5-2.5-4.6-3.2-4-3.7-3.3-4-2.4-3.9-1.5-3.7-.2-3.3 1-2.7 2.2-2.3 3.1-1.9 3.9-1.4 4.4-1.2 4.7-.8 4.8-.6 4.7-.4 4.5-.2 4.2 0 4 .1 3.8.1 3.5.2 3.4.3 3.2.1 3 .2 2.9.1 2.8.1 2.7.2 2.6.2 2.7.4 2.7.5 2.9.8 2.9 1 3.1 1.2 3.2 1.5 3.4 1.8 3.3 1.9 3.4 2.1 3.2 2.1 2.8 2 2.3 1.8 1.5 1.5.7 1.3.1 1.1-.1 1.4-.5 1.7-1.4 1.9-1.7 2.1-1.9 1.9-1.6 1.8-1.2 1.7-1.1 1.7-.8 1.7-.8 1.7-.6 1.8-.6 2-.7 2-.9 2.3-1 2.4-1.2 2.5-1.6 2.6-1.9 2.7-2.3 2.6-2.6 2.6-2.9 2.4-3.3 2.4-3.5 2.1-3.7 1.9-3.8 1.6-3.8 1.4-3.9 1-3.7.1-3.8-1.8-3.8-3.4-3.7-4.8-3.5-5.8-3.4-6-3.2-5.7-3.1-4.4-3.1-.3-3.1 1.3-3 1.7-3.1 1.9-3.1 2-3.1 2.2-3.1 2.2-3.1 2.2-3.1 2.3-3.1 2.3-3 2.2-3.1 2.2-3.1 2.1-3.1 2.1-3.1 2-3.1 1.8-3.1 1.8-3 1.6-3.2 1.5-3.1 1.4-3.1 1.2-3.1 1-3.1.9-3.1.6-3.1.5-3.1-.3-3.1-2.2-3.1-4.2-3.1-5.8-3.1-7.1-3.1-7.5-3.1-7.4-3.2-6.1-3.2-1.8-3.1 1.3-3.2 1.7-3.1 2-3.1 2.3-3 2.4-3.1 2.6-3 2.6-3.1 2.7-3 2.7-3.1 2.7-3.1 2.6-3.1 2.5-3.1 2.4-3.2 2.3-3.2 2.2-3.2 1.9-3.3 1.8-3.3 1.6-3.3 1.3-3.4 1.2-3.3.8-3.4.7-3.3.3-3.3.1-3.3-.2-3.2-1.8-3-3.9-2.8-5.8-2.5-7.2-2.4-7.9-2.2-7.6-2.2-6-2.3-1-2.8 1.5-3.1 1.8-3.2 2-3.1 2-3.2 2-3.2 1.9-3.2 1.8-3.3 1.5-3.3 1.3-3.5 1-3.7.7-3.9.5-4.1 0-4.6-.4-4.9-1-5.2-1.6-4.7-2.3-3.1-2.8-.5-3.2 1.4-3.3 2.5-3.1 3.2-3 3.5-2.6 3.5-2.3 3.6-2.1 3.5-1.9 3.5-1.6 3.4-1.5 3.4-1.5 3.3-1.3 3.3-1.3 3.2-1.2 3.3-1.1 3.2-1.1 3.2-1.1 3.3-1 3.3-1 3.4-1 3.5-.9 3.5-.9 3.6-.9 3.6-.8 3.6-.8 3.5-.8 3.4-.7 3.4-.7 3.3-.7 3.2-.6 3.2-.5 3.1-.5 3.1-.4 3-.3 2.9-.1 3-.1 2.9 0 2.9.1 2.9.1 2.9.2 2.9.3 3 .4 2.9.4 3 .5 3.1.5 3.1.5 3 .6 3.1.7 3.2.6 3.1.7 3.1.7 3.1.6 3.2.7 3.1.7 3.1.6 3.1.7 3.1.5 3 .6 3.1.4 3 .4 3 .4 3 .2 3.1.1 3 0 3.1-.1 3.2-.5 3.2-.5 3.3-.6 3.4-.4 3.3-.4 3.3-.2 3.1.1 3.1.3 2.8.7 2.6 1 2.4 1.3 2.1 1.5 2.1 1.7 1.9 1.8 1.9 1.8 2 1.8 2.2 1.5 2.6 1.2 3 1 3.5.5 4.2.1 4.6-.2 4.7-.4 4.5-.5 4-.5 3-.5 1.9-.5.4-.4-1.2-.5-2.4-.5-3.3-.7-3.8-1-3.8-1.4-3.6-1.8-3.2-2.1-2.9-2.3-2.3-2.4-1.7-2.5-1-2.3-.2-2.1.7-1.8 1.5-1.6 2.2-1.3 2.7-1.3 3.1-1.1 3.4-.9 3.5-.9 3.5-.9 3.5-.7 3.3-.6 3.3-.4 3.2-.4 3.1-.2 3-.1 2.9-.1 2.9.1 2.8.2 2.7.2 2.7.3 2.7.3 2.7.3 2.8.4 2.8.3 2.9.4 3.1.4 3.3.5 3.5.5 3.7.5 4.1.7 4.6.8 4.8 1 5.1 1.3 4.9 1.7 4.7 2.1 4.1 2.4 3.3 3 2.2 3.3 1 3.7.1 3.7-.6 3.7-1.2 3.4-1.6 3.1-2.5 2.4-4.4 1.7-6.1.7-7.5-.3-8.6-1.3-9-2.1-8.7-2.3-7.5-1.4-4.9.7-1.1 1.2-.8 1.5-.8 1.8-.7 2.1-.9 2.3-1.2 2.5-1.4 2.6-1.7 2.7-2 2.8-2.3 2.8-2.6 2.7-2.8 2.7-2.9 2.5-3 2.4-3.2 2.3-3.1 2-3.2 1.9-3.2 1.7-3.2 1.4-3.2 1.1-3.1 1-3.1.7-3.1.4-3.1.2-3.1-1.3-3.1-3.1-3.1-4.7-3.1-5.8-3.2-6.6-3.1-6.6-3.2-5.9-3.1-4-3.2.7-3 1.3-3.1 1.6-3.1 1.8-3.1 2-3 2.1-3.1 2.2-3.1 2.3-3.1 2.3-3.1 2.4-3.1 2.5-3.1 2.5-3.1 2.4-3.1 2.4-3.1 2.4-3.1 2.2-3.1 2.1-3.1 1.9-3 1.7-3.1 1.5-3.1 1.3-3 1-3.1.8-3 .5-3.1.2-3.1-1.3-3.2-3.6-3.1-5.6-3.2-7.1-3.2-7.9-3.1-8.1-3.1-7.3-2.9-5.3-2.9.3-2.9 1.5-2.9 2-3 2.1-3 2.4-3.1 2.4-3.1 2.6-3.2 2.6-3.2 2.6-3.3 2.5-3.3 2.6-3.4 2.4-3.4 2.4-3.5 2.2-3.4 2.1-3.5 1.9-3.4 1.6-3.4 1.5-3.4 1.1-3.4.8-3.4.5-3.4.1-3.4-.2-3.4-.5-3.5-1.2-3.3-3-2.9-4.5-2.3-5.1-1.7-5.1-1-4.7-.5-3.9-.1-2.8 0-1.6-.2.4-1.5 1.4-2.8 1.6-3.3 1.3-3.3.3-1.7-.6-.5-1.4.6-1.9 1.3-2 1.6-1.8 1.7-1.5 1.7-1.3 1.8-1.1 1.9-.9 1.9-.8 2.1-.8 2.1-.8 2.4-.9 2.4-.9 2.7-.9 2.7-1 2.9-.9 2.9-1 2.9-1 2.9-1 3-1 2.9-.9 2.9-1 3-.9 3-1 3-.9 3-1 3.1-.9 3.1-1 3-.9 3.1-1 3.1-.9 3.1-.9 3.1-.9 3.1-.8 3.1-.9 3-.8 3.1-.8 3-.8 3-.7 3-.7 3-.7 3-.6 3-.7 3.1-.6 3-.5 3-.6 3-.5 3.1-.4 3.1-.5 3-.4 3.1-.4 3.1-.4 3.1-.3 3.1-.3 3.2-.3 3.1-.3 3.1-.2 3.2-.2 3.1-.2 3.2-.1 3.2-.1 3.1-.1 3.2 0 3.1 0 3.1.1 3 .1 3 .1 2.9.3 2.9.3 2.9.3 3 .4 3 .5 3.1.5 3.3.7 3.5.7 3.8.8 3.8.9 3.7 1.1 3.4 1.4 3.1 1.4 2.8 1.6 2.7 1.6 2.7 1.5 3 1.6 3.2 1.4 3.5 1.5 3.8 1.4 3.7 1.5 3.3 1.4 2.8 1.3 1.9 1.4.7 1.4-.7 1.4-2.4 1.2-3.5.7-4.2-.2-4.5-1.2-4.2-2.2-3.8-2.8-3-3.1-2.3-3.1-1.5-3-.7-2.8.1-2.3.9-1.9 1.6-1.5 2.4-1 3-.8 3.5-.6 3.6-.4 3.7-.4 3.5-.6 3.3-.7 3-.9 2.8-.9 2.6-1 2.6-1 2.4-.9 2.5-.6 2.5-.3 2.5 0 2.7.4 2.6.6 2.8 1 2.8 1.1 2.8 1.2 2.9 1.3 2.8 1.4 2.9 1.4 2.9 1.2 3 1.2 3 1 3 .9 3.1.6 3.2.5 3.4.4 3.3.5 3.2.7 2.9 1 2.4 1.4 1.8 1.9.9 2.3 0 2.7-.5 2.7-.6 2.8-.6 2.6-.5 2.6-.6 2.6-.7 2.4-.9 2.5-1.1 2.5-1.3 2.5-1.7 2.4-2 2.4-2.4 2.4-2.7 2.4-3.1 2.2-3.5 2.1-3.8 1.8-4 1.3-4.4-.2-5.3-1.8-5.7-3.4-5.6-4.4-5.2-5.1-4.5-5.1-4-4.2-3.2-.9-2.6 1.4-2.5 1.6-2.5 2-2.7 2-2.9 2.3-2.9 2.3-3 2.4-3 2.4-3.1 2.4-3 2.4-3.1 2.3-3.1 2.3-3.1 2.2-3.1 2.1-3.1 1.9-3 1.8-3.1 1.7-3.1 1.5-3.1 1.3-3.1 1.2-3.1.9-3.1.8-3.1.6-3.1.4-3.1 0-3.1-1.8-3.2-3.7-3.1-5.2-3.1-6.5-3.1-7.2-3.1-7.2-3.1-6.4-3.1-3-3.1.8-3.1 1.4-3.1 1.7-3.1 2.1-3.2 2.3-3.1 2.4-3.1 2.7-3.1 2.7-3.1 2.8-3.1 2.8-3 2.7-3.1 2.8-3.1 2.6-3 2.5-3.1 2.4-3.1 2.3-3.1 2-3.1 1.8-3.2 1.6-3.2 1.4-3.2 1.1-3.3.9-3.3.6-3.3.3-3.3 0-3.3-1.6-3.2-3.7-3-5.5-2.8-6.8-2.6-7.6-2.4-7.8-2.3-7.1-2.3-5.4-2.5 0-3.1 1.6-3.4 2-3.3 2.3-3.5 2.4-3.4 2.6-3.5 2.6-3.5 2.5-3.4 2.5-3.5 2.4-3.5 2.1-3.6 1.9-3.6 1.6-3.6 1.2-3.8 1-3.8.7-4 .3-4.1 0-4.3-.5-4.4-.9-4.7-1.3-4.9-2-5.1-2.5-5.2-3.1-4.4-3.5-1.9-3.6 0-3.7 2.1-3.6 3.6-3.3 4.5-2.9 4.9-2.4 4.8-2 4.5-1.6 4.3-1.3 4-1 3.8-.9 3.6-.6 3.6-.5 3.4-.3 3.5-.2 3.4-.1 3.5 0 3.4 0 3.4.2 3.4.2 3.4.3 3.2.3 3.2.4 3 .4 3 .4 2.8.4 2.8.4 2.8.3 2.7.3 2.8.2 2.9.1 2.8 0 3-.2 3-.5 3-.7 3.2-.8 3.2-.7 3.2-.8 3.2-.7 3.2-.8 3.2-.7 3.2-.8 3.3-.7 3.1-.7 3.2-.6 3.2-.7 3.1-.6 3.1-.6 3.1-.7 3.1-.5 3.1-.6 3.1-.6 3.1-.6 3-.5 3.1-.5 3.1-.6 3-.5 3.1-.5 3-.5 3.1-.5 3-.5 3.1-.5 3-.4 3.1-.5 3.1-.5 3.1-.4 3.2-.4 3.1-.4 3.2-.3 3.1-.3 3.2-.1 3.1-.1 3.1.2 3 .3 3.1.6 3 .8 3 1 2.9 1.1 2.8 1.4 2.7 1.5 2.5 1.5 2.5 1.5 2.5 1.5 2.7 1.3 3 1.1 3.5.8 3.9.6 4.3.5 4.3.5 4 .4 3.3.5 2.4.7 1.1.8-.4.9-2 .9-3.3.6-4.1.1-4.7-.6-4.8-1.5-4.6-2.2-4.1-2.8-3.7-3.3-3.1-3.4-2.3-3.5-1.3-3.3-.4-2.9.9-2.5 1.9-2.1 2.8-1.7 3.5-1.5 4-1.1 4.3-1 4.4-.7 4.4-.5 4.2-.3 4-.2 3.8-.1 3.6.1 3.5.1 3.3.1 3.1.2 3 .1 2.9.1 2.8 0 2.7 0 2.6 0 2.7.1 2.7 0 2.8.1 2.9.2 3.2.3 3.3.3 3.7.6 3.9.7 4.4 1 4.7 1.4 4.8 1.8 4.8 2.1 4.1 2.4 3.3 2.7 2.2 2.7.8 3-.5 3.1-2.5 3.2-4.7 2.8-6.6 2.1-7.7 1.3-7.5.9-4.5 1-2 1-1.4 1-1.1 1.1-.9 1.3-.6 1.5-.5 1.7-.5 2.1-.5 2.2-.7 2.5-.9 2.7-1.2 2.8-1.6 2.9-1.9 2.9-2.3 2.9-2.7 2.8-2.9 2.8-3.2 2.5-3.4 2.3-3.5 2.1-3.5 1.8-3.6 1.6-3.5 1.2-3.5.9-3.4.6-3.4-.7-3.3-2.8-3.3-4.6-3.2-6-3.2-6.9-3.1-7.1-3.2-6.5-3.1-4.7-3.2.3-3.1 1.5-3.1 1.8-3.1 2.1-3.1 2.3-3 2.3-3.1 2.5-3.1 2.5-3.1 2.5-3 2.5-3.1 2.5-3.1 2.5-3.1 2.4-3.1 2.4-3.1 2.3-3.1 2.2-3.1 2.1-3.1 2-3.1 1.8-3.1 1.7-3.1 1.4-3.1 1.2-3.1.9-3.1.7-3.1.4-3-.7-3.1-3.2-3.1-5.4-3.1-7.2-3.1-8.4-3.2-8.8-3.2-8.3-3.3-6.4-3.1-.7-3.1 1.7-3.1 2.1-3 2.4-3 2.6-3 2.8-3 2.9-3.1 2.9-3 2.9-3.1 2.9-3.1 2.9-3.2 2.7-3.2 2.7-3.3 2.5-3.3 2.3-3.3 2.2-3.4 2-3.4 1.7-3.4 1.5-3.4 1.3-3.3 1-3.4.7-3.3.3-3.3.1-3.2-.3-3.2-.9-3.2-3.4-2.8-5.6-2.5-7.2-2.3-8-1.9-7.6-1.8-6.2-1.6-2.3-2.1 1.3-2.7 1.6-2.7 1.7-2.7 1.6-2.8 1.5-2.8 1.4-3.1 1.3-3.2 1.1-3.6.9-3.9.6-4.3.2-4.8-.3-4.5-1.3-2.9-2-.6-2.5 1-2.8 1.9-2.8 2.5-2.6 2.8-2.3 2.9-2 2.9-1.8 2.9-1.6 3-1.4 2.9-1.3 3-1.3 3-1.2 3-1.2 3-1.2 3.1-1.1 3.1-1.2 3.1-1.1 3.1-1 3.2-1.1 3.3-1 3.3-1 3.4-1 3.4-1 3.4-.9 3.4-1 3.4-.9 3.4-.8 3.3-.9 3.3-.8 3.2-.8 3.1-.7 3.1-.7 3.1-.7 3.1-.7 3-.6 2.9-.6 3-.5 2.9-.5 2.9-.5 3-.5 2.9-.4 2.9-.4 2.9-.4 3-.4 3-.3 3-.3 3-.3 3-.2 3.1-.2 3.1-.2 3.1-.2 3.1-.1 3.1 0 3.1.1 3.2.2 3.2.2 3.1.3 3.2.3 3.1.5 3.2.4 3.2.6 3.1.5 3.1.6 3.1.7 3.1.6 3 .7 3.1.6 3 .7 3.1.7 3.1.7 3.1.8 3.2.8 3.1 1.1 3.1 1.3 3 1.6 2.7 1.8 2.4 2.2 2.2 2.4 1.8 2.5 1.6 2.5 1.7 2.5 1.7 2.3 2.1 2 2.6 1.5 3.1.9 3.9.1 4.7-.4 4.9-.7 4.7-1 4.2-1.1 3.5-1.2 2.3-1.3.9-1.3-.7-1.2-1.9-1.3-2.7-1.3-3.1-1.3-3.1-1.4-2.9-1.6-2.4-1.6-2.2-1.7-1.6-1.7-1.2-1.7-.7-1.6 0-1.4.6-1.3 1.3-1.1 1.7-1 2.2-1 2.4-1 2.7-1 2.9-1 2.9-1.1 2.8-1 2.9-.9 2.8-.9 2.8-.6 2.8-.6 2.7-.3 2.7-.2 2.8.1 2.7.2 2.7.4 2.7.5 2.7.6 2.8.7 2.8.7 2.8.8 2.9.7 3.1.6 3.1.7 3.3.6 3.5.6 3.8.5 4.1.6 4.4.8 4.6.9 4.5 1.3 4.3 1.7 3.8 2.2 3 2.6 2 3.1 1 3.4.3 3.5-.3 3.5-.5 3.3-.8 3.2-1.2 3-1.5 2.8-2 2.7-2.3 2.5-2.8 2.2-3.5 1.2-5.4 0-6.9-1.2-8-2.5-8.4-3.3-8.2-3.8-7.2-3.6-5.7-1.4-3.1 1.2-1.1 1.6-1.1 1.9-1.3 2.2-1.5 2.3-1.7 2.5-2.1 2.6-2.3 2.7-2.5 2.7-2.8 2.6-2.8 2.7-3 2.5-3 2.4-3.1 2.3-3.1 2.2-3.1 2-3.1 1.8-3.1 1.6-3.1 1.4-3.1 1.2-3.1 1-3.1.8-3.1.5-3.1.4-3.1 0-3.1-1.6-3.1-3.3-3.1-4.8-3.1-5.9-3.2-6.5-3.1-6.5-3.2-5.8-3.1-3.4-3.1.8-3 1.2-3.1 1.5-3.1 1.7-3.1 1.9-3.1 2.1-3.1 2.2-3.1 2.3-3.1 2.5-3.1 2.4-3.1 2.5-3.1 2.5-3.1 2.5-3.1 2.4-3.1 2.2-3 2.2-3.1 1.9-3.1 1.8-3 1.6-3.1 1.3-3.1 1.1-3.1.9-3.1.6-3.1.4-3.2.1-3.1-1.6-3.2-3.7-3.2-5.3-3.1-6.6-3-7.3-2.9-7.2-2.8-6.6-2.7-4.7-2.6.2-2.9 1.5-3.1 1.7-3 2-3.2 2.1-3.2 2.3-3.3 2.3-3.3 2.4-3.4 2.4-3.5 2.4-3.4 2.3-3.5 2.2-3.5 2.1-3.4 2-3.5 1.7-3.4 1.5-3.5 1.2-3.5.9-3.5.6-3.5.2-3.6.1-3.6-.3-3.7-.5-3.7-.7-3.7-1.2-3.6-2.2-3.2-2.8-2.6-3.2-2-3.2-1.6-3.1-1-2.5-.3-1.8.6-1.3 1.9-1.3 2-1.5 3.5-1.5 4.2-1.5 3.2-1.4 1.8-1.1 1.6-.8 1.5-.7 1.5-.5 1.5-.4 1.6-.4 1.8-.5 2-.5 2.3-.6 2.4-.7 2.7-.7 2.7-.8 2.8-.7 2.8-.8 2.8-.8 2.8-.8 2.7-.8 2.6-.8 2.7-.8 2.6-.8 2.7-.8 2.8-.9 2.8-.8 2.9-.9 2.9-.9 3-1 3-.9 3.1-.9 3.1-.9 3.1-.9 3.1-.9 3.1-.9 3.1-.9 3.1-.8 3.2-.9 3.1-.8 3.1-.8 3.1-.7 3-.7 3.1-.7 3.1-.7 3.1-.7 3-.6 3.1-.6 3.1-.6 3.1-.5 3-.5 3.1-.5 3.1-.5 3.1-.5 3.1-.4 3.1-.4 3.1-.4 3.1-.4 3.2-.3 3.1-.3 3.1-.3 3.1-.3 3.2-.2 3.1-.2 3.1-.1 3-.1 3.1-.1 3 0 2.9.1 3 .2 3 .2 3 .4 3.1.4 3.3.6 3.3.6 3.6.8 3.6 1 3.6 1.1 3.2 1.3 3 1.4 2.8 1.5 2.7 1.4 2.8 1.5 3 1.4 3.3 1.2 3.7 1.1 3.9 1.1 3.9 1.2 3.6 1.1 2.8 1.4 1.9 1.4.7 1.7-.9 1.8-2.6 1.6-3.8 1.3-4.7.5-5.2-.4-5.2-1.7-5-2.5-4.6-3.3-4-3.8-3.2-4-2.4-3.9-1.3-3.7-.2-3.3 1.2-2.6 2.3-2.2 3.4-1.7 4.1-1.3 4.6-.9 4.9-.6 5-.4 4.7-.2 4.5-.1 4.1-.1 3.8 0 3.6-.1 3.3 0 3.2 0 3 0 2.8.2 2.8.2 2.7.5 2.7.6 2.7.8 2.8 1.1 2.8 1.3 2.9 1.6 3 1.7 2.9 1.9 3 2 2.9 2 2.9 1.8 2.7 1.2 2.7.6 2.7.5 2.5.4 2.4.5 2 .7 1.4 1 .9 1.4 0 1.9-.8 2.2-1.2 2.2-1.2 2.3-1 2.1-.8 2-.7 2.1-.6 2-.6 2.1-.6 2.2-.7 2.2-.9 2.4-1.2 2.4-1.4 2.6-1.7 2.6-2.1 2.6-2.5 2.6-2.9 2.5-3.2 2.4-3.5 2.1-3.8 2-3.9 1.7-4.1 1.5-4.1.4-4.2-1.4-4.5-3.2-4.3-4.6-4.1-5.7-3.8-6.1-3.5-5.8-3.2-4.5-3-.4-2.9 1.4-3 1.8-3 2-3 2.1-3.1 2.3-3.1 2.4-3.1 2.4-3.1 2.4-3.1 2.4-3 2.4-3.1 2.4-3.1 2.2-3.1 2.2-3.1 2.1-3 1.9-3.1 1.8-3.1 1.7-3.1 1.6-3.1 1.3-3.1 1.2-3.1 1.1-3.1.8-3.2.7-3.1.5-3.1-.3-3.1-2.2-3.1-4.2-3.1-6-3.1-7.2-3.1-7.8-3.1-7.6-3.1-6.4-3.2-2.2-3.1 1.2-3.2 1.7-3.1 2.1-3.1 2.3-3.1 2.5-3.1 2.7-3.1 2.8-3 2.8-3.1 2.8-3.1 2.9-3 2.8-3.1 2.7-3.1 2.6-3.1 2.4-3.1 2.3-3.2 2.1-3.2 1.9-3.3 1.7-3.3 1.5-3.3 1.2-3.3 1-3.3.7-3.4.4-3.3.2-3.3-.1-3.3-1.7-3.1-3.9-2.8-5.6-2.6-7-2.4-7.9-2.3-7.9-2.2-6.9-2.4-3.3-2.7 1.3-3.2 1.8-3.4 2.2-3.3 2.2-3.3 2.4-3.3 2.3-3.3 2.2-3.4 2-3.4 1.9-3.5 1.5-3.5 1.3-3.7 1-3.8.7-3.9.3-4.2 0-4.5-.6-4.8-1-5-1.6-5.4-2.3-4.7-2.8-2.9-3.3-.3-3.4 1.6-3.5 2.9-3.4 3.7-3 3.9-2.7 3.8-2.4 3.9-2.2 3.7-1.9 3.7-1.7 3.6-1.6 3.6-1.4 3.4-1.4 3.4-1.2 3.3-1.2 3.3-1.1 3.3-1.1 3.3-1 3.3-1 3.4-.9 3.4-.8 3.6-.7 3.6-.6 3.6-.5 3.6-.4 3.6-.3 3.5-.2 3.4-.1 3.3 0 3.2.1 3.1.2 3.1.3 3 .3 2.9.4 3 .5 2.9.5 2.9.5 3 .5 3 .6 3 .6 3 .6 3 .6 3.1.6 3.1.7 3.2.6 3.1.5 3.2.6 3.1.5 3.2.5 3.1.4 3.1.3 3.1.2 3.1.1 3.1-.2 3.1-.4 3-.4 3-.5 3-.5 3.1-.5 3-.5 3-.5 3-.6 3-.5 3.1-.6 3.1-.6 3.1-.5 3.1-.6 3.2-.6 3.3-.5 3.3-.5 3.3-.4 3.2-.1 3.2 0 3 .3 2.9.6 2.7.9 2.5 1.2 2.5 1.3 2.3 1.6 2.1 1.6 2.2 1.7 2.2 1.6 2.3 1.5 2.6 1.2 3 1 3.6.6 4.1.2 4.5 0 4.6-.1 4.3-.1 3.7-.1 2.8-.1 1.6 0 .1.1-1.5.1-2.8 0-3.7-.3-4.1-.8-4.3-1.5-4-1.9-3.6-2.4-3.3-2.7-2.7-2.9-2-2.9-1.1-2.8-.3-2.4.7-2.2 1.7-1.8 2.4-1.5 3.1-1.4 3.4-1.1 3.8-1 4-.8 3.9-.7 3.8-.5 3.6-.4 3.6-.3 3.4-.2 3.2 0 3.2 0 3 .1 3 .1 2.8.1 2.8.1 2.7.1 2.6.2 2.7.2 2.7.1 2.8.3 3 .2 3.1.3 3.3.4 3.6.5 3.9.6 4.2.8 4.7.9 5 1.2 5.2 1.5 5 1.8 4.7 2.2 4.1 2.7 3.3 3 2.1 3.5.9 3.7-.3 3.8-1.8 3.4-3.7 2.9-5.5 2-6.9 1.1-8.1.2-8.7-.6-8.5-1.1-7.7-.7-5 .6-1.5.9-1 1.2-.8 1.5-.6 1.8-.7 2-.8 2.3-1 2.4-1.2 2.6-1.6 2.7-1.9 2.7-2.1 2.8-2.5 2.7-2.7 2.6-2.9 2.5-3.1 2.4-3.2 2.1-3.2 2-3.3 1.7-3.3 1.5-3.2 1.3-3.3 1-3.2.8-3.1.5-3.2.3-3.1-1.2-3.1-2.9-3.1-4.4-3.1-5.6-3.2-6.2-3.1-6.2-3.2-5.6-3.2-3.7-3.1.7-3.1 1.3-3 1.6-3.1 1.8-3.1 1.9-3.1 2-3.1 2.1-3 2.2-3.1 2.2-3.1 2.2-3.1 2.3-3.1 2.2-3.1 2.3-3.1 2.2-3.1 2.1-3.1 2.1-3.1 2-3.1 1.8-3.1 1.6-3.1 1.5-3 1.2-3.1 1-3.1.8-3 .5-3.1.3-3.1-1.1-3.1-3.3-3.1-5.3-3.2-6.7-3.2-7.7-3.1-7.8-3.2-7.1-3.1-5.1-3.1.2-2.9 1.6-3 1.8-3 2.2-2.9 2.3-3 2.4-3.1 2.5-3.1 2.5-3.1 2.6-3.2 2.5-3.3 2.5-3.3 2.5-3.3 2.3-3.4 2.2-3.3 2.1-3.5 1.9-3.4 1.7-3.4 1.5-3.4 1.2-3.4 1-3.3.7-3.3.4-3.4.1-3.3-.3-3.3-.7-3.3-2.5-3-4.6-2.5-5.8-2.1-6.4-1.6-6.2-1.1-5.1-.7-3.6-.5-.8-1.3 1-2.1 1.2-2.4 1.3-2.7 1.3-3 1.4-3.5 1.3-4 .7-3.8-.2-2.1-1.1-.7-1.8.6-2.2 1.3-2.3 1.8-2.1 2-1.9 2.1-1.6 2.2-1.4 2.3-1.2 2.3-1.1 2.4-1.1 2.5-1 2.6-1 2.7-1.1 2.8-1 2.9-1.1 2.9-1.1 3-1 3-1.1 3-1 3.1-1 3.1-1 3.1-1 3.2-1 3.2-1 3.2-.9 3.2-1 3.2-.9 3.2-.9 3.1-.9 3.2-.9 3.1-.8 3.1-.9 3.1-.8 3.1-.7 3-.8 3-.7 3-.7 3-.7 3-.6 2.9-.6 3-.5 3-.6 2.9-.5 3-.5 3-.4 3-.4 3.1-.4 3-.4 3.1-.3 3.1-.3 3.1-.3 3.1-.3 3.1-.2 3.1-.2 3.1-.2 3.2-.1 3.1-.1 3.2-.1 3.1-.1 3.2 0 3.2 0 3.1 0 3.2.1 3.1.1 3.1.1 3 .2 3 .2 2.9.3 2.9.4 2.9.4 3 .5 3 .5 3.1.7 3.3.7 3.5.9 3.7 1 3.7 1.3 3.5 1.5 3.1 1.7 2.8 1.9 2.5 2 2.4 2 2.4 2 2.6 2 3 1.8 3.3 1.6 3.7 1.5 3.7 1.1 3.6.8 3.2.4 2.4.3 1.5.1-1.5-.2-2.6-.6-3.2-1.3-3.3-1.7-3.1-2.2-2.5-2.2-1.9-2.2-1.4-2.1-.8-1.8-.2-1.6.1-1.3.6-1.1 1-1 1.3-.9 1.7-.8 2-.8 2.3-.8 2.5-.9 2.5-1.1 2.6-1.1 2.5-1.1 2.6-1.2 2.5-1 2.5-.9 2.6-.8 2.5-.5 2.6-.3 2.6 0 2.7.4 2.7.5 2.7.8 2.8 1 2.8 1 2.8 1.1 2.9 1.1 2.9 1.1 2.9 1.1 3 1 3.1.8 3.2.8 3.4.6 3.5.5 3.8.5 3.8.7 3.7.9 3.4 1.2 3 1.7 2.2 2.2 1.4 2.6.4 2.9-.1 3.1-.4 3-.4 3-.6 2.8-.7 2.8-.9 2.7-1.2 2.6-1.4 2.6-1.8 2.5-2.2 2.4-2.5 2.3-3 2.2-3.3 2.1-3.7 1.7-4.3.3-5.5-1.3-6.5-2.6-6.7-3.9-6.5-4.7-5.8-4.8-4.9-4.1-3.8-.8-2.4 1.3-1.9 1.7-2 1.9-2.3 2.2-2.5 2.3-2.6 2.5-2.8 2.5-2.9 2.6-2.9 2.5-3.1 2.6-3 2.5-3.1 2.4-3.1 2.4-3.1 2.2-3.1 2.1-3 1.9-3.1 1.8-3.1 1.6-3.1 1.4-3.1 1.3-3.1 1-3.1.8-3.1.6-3.1.4-3.1-.1-3.1-1.9-3.1-3.7-3.1-5.5-3.2-6.6-3.1-7.4-3.1-7.4-3.1-6.5-3.1-3.2-3.1.8-3.1 1.3-3.1 1.7-3.1 2.1-3.1 2.3-3.1 2.5-3.1 2.6-3.1 2.8-3.1 2.9-3.1 3-3.1 2.9-3.1 2.9-3.1 2.8-3 2.7-3.1 2.5-3.1 2.4-3 2.2-3.1 1.9-3.1 1.8-3.2 1.4-3.1 1.2-3.2 1-3.3.6-3.2.4-3.3 0-3.3-2-3.2-4.1-3.1-6-2.9-7.3-2.7-8.1-2.5-8.2-2.4-7.4-2.4-5.5-2.4.1-3 1.6-3.2 2.1-3.3 2.3-3.4 2.5-3.5 2.6-3.5 2.8-3.5 2.8-3.5 2.7-3.5 2.7-3.5 2.5-3.6 2.4-3.5 2-3.6 1.8-3.6 1.4-3.7 1.1-3.7.8-3.9.4-3.9.2-4.1-.2-4.1-.6-4.3-.9-4.4-1.4-4.6-1.8-4.7-2.4-4.9-2.9-4.9-3.5-3.4-4 .7-3.3 1.1-3.4 3.4-3.1 5.4-2.6 6.1-2 5.7-1.5 4.9-1.1 4.2-.7 3.6-.4 3.3-.3 3.1-.1 2.9.1 2.9 0 3 .1 3 .1 3.1.1 3.2.1 3.2.1 3.1 0 3 0 2.9-.2 2.7-.4 2.6-.6 2.5-.5 2.5-.6 2.5-.6 2.5-.6 2.7-.7 2.7-.7 2.8-.8 2.9-.7 3-.8 3-.8 3.1-.9 3.1-.8 3.1-.8 3.2-.9 3.2-.8 3.1-.8 3.2-.8 3.2-.8 3.2-.8 3.2-.8 3.1-.7 3.2-.7 3.1-.7 3.1-.6 3.1-.7 3.1-.6 3.1-.6 3.1-.6 3.1-.6 3.1-.5 3-.6 3.1-.5 3.1-.5 3-.5 3.1-.5 3.1-.5 3.1-.4 3-.5 3.1-.4 3.1-.4 3.1-.4 3.1-.4 3.1-.3 3.1-.4 3.1-.2 3.1-.3 3.1-.1 3.1-.1 3 .1 3.1.2 3.1.4 3.1.5 3.2.7 3.2.9 3.2 1.1 3.2 1.2 2.9 1.3 2.7 1.5 2.6 1.4 2.7 1.5 2.7 1.3 3.1 1.2 3.4 1 3.8.8 4.2.8 4.1.7 3.8.8 3.1.9 2.1 1.1.9 1.3-.6 1.4-2.3 1.3-3.6 1-4.5.4-5-.5-5.1-1.5-4.9-2.4-4.5-3.1-3.9-3.5-3.3-3.9-2.5-3.8-1.4-3.6-.3-3.2.9-2.7 2.1-2.2 3-1.9 3.7-1.5 4.3-1.1 4.6-.9 4.8-.6 4.6-.4 4.4-.3 4.2 0 4 0 3.7.2 3.6.2 3.4.2 3.2.2 3 .1 2.9.1 2.8 0 2.7 0 2.6 0 2.7 0 2.7.1 2.8.3 2.9.4 3.2.7 3.3 1 3.6 1.3 3.7 1.6 3.9 1.9 3.8 2.2 3.7 2.3 3.1 2.3 2.2 2.2 1.2 2.1.1 2-1 2.1-2.1 2.2-3.5 2.1-4.4 1.9-2.8 1.8-2.1 1.5-1.7 1.4-1.3 1.4-1 1.4-.8 1.5-.6 1.6-.4 1.8-.5 1.9-.4 2.2-.7 2.4-.8 2.5-1 2.8-1.5 2.8-1.7 2.8-2.2 2.9-2.6 2.8-2.9 2.7-3.2 2.5-3.4 2.3-3.7 2.1-3.7 1.8-3.8 1.5-3.8 1.2-3.7.8-3.6-.5-3.7-2.5-3.5-4.3-3.5-5.7-3.3-6.6-3.3-6.9-3.1-6.3-3.1-4.6-3.2.3-3.1 1.5-3.1 1.9-3.1 2.1-3.1 2.2-3 2.3-3.1 2.5-3.1 2.4-3.1 2.5-3.1 2.5-3 2.4-3.1 2.4-3.1 2.3-3.1 2.2-3.1 2.2-3.1 2-3.1 1.9-3.1 1.8-3.1 1.7-3.1 1.4-3.1 1.3-3.1 1.2-3.1.8-3.1.7-3.1.4-3.1-.6-3.1-2.9-3.1-4.9-3.1-6.6-3.1-7.8-3.1-8.2-3.2-7.7-3.2-6.1-3.2-1-3.1 1.5-3.1 2-3.1 2.2-3 2.5-3.1 2.6-3 2.8-3.1 2.7-3 2.8-3.1 2.8-3 2.8-3.1 2.6-3.2 2.6-3.2 2.4-3.2 2.3-3.2 2.1-3.3 1.9-3.4 1.7-3.3 1.5-3.3 1.2-3.4 1-3.4.8-3.3.4-3.3.2-3.3 0-3.2-.6-3.2-2.4-2.9-4.6-2.7-6.3-2.4-7.5-2.3-7.7-2.1-6.9-2.1-4.6-2.3.9-2.9 1.5-3 1.8-3.1 1.9-3 1.8-3 1.7-3.1 1.5-3.1 1.4-3.3 1.1-3.4.9-3.6.7-4 .3-4.2-.1-4.7-.5-5-1.1-4.6-1.8-3.3-2.6-.6-2.9 1.2-3.1 2.3-3.1 2.9-2.8 3.2-2.5 3.3-2.3 3.3-2 3.3-1.8 3.3-1.6 3.3-1.5 3.2-1.3 3.3-1.4 3.2-1.2 3.1-1.3 3.2-1.1 3.2-1.2 3.2-1 3.2-1.1 3.3-1 3.4-1 3.4-1 3.5-1 3.5-.9 3.6-.9 3.5-.9 3.5-.8 3.4-.8 3.4-.7 3.3-.7 3.2-.7 3.2-.7 3.1-.6 3.1-.5 3-.6 3-.5 2.9-.4 3-.5 2.9-.4 2.9-.3 2.9-.3 2.9-.2 2.9-.1 2.9 0 3 .1 3 .2 3 .2 3.1.3 3 .3 3.1.5 3.1.4 3.1.6 3.2.6 3.1.6 3.1.6 3.2.7 3.1.7 3.1.7 3.2.7 3.1.6 3 .7 3.1.6 3.1.6 3 .6 3.1.5 3.1.4 3.1.4 3.2.3 3.2.1 3.3.2 3.3.2 3.3.3 3.3.4 3 .6 2.8.7 2.6 1.1 2.3 1.4 2 1.7 1.9 1.8 1.7 1.9 1.8 1.9 1.9 1.8 2.2 1.5 2.5 1.3 2.9.9 3.5.5 4.2 0 4.7-.3 4.8-.5 4.7-.8 4-.7 3.2-.8 2.1-.8.6-.8-1-.8-2.2-.8-3.1-.9-3.5-1.1-3.6-1.4-3.3-1.7-2.9-1.9-2.6-2.1-2.1-2.1-1.5-2.2-.9-2.1-.1-1.8.6-1.6 1.4-1.4 2-1.3 2.5-1.1 2.9-1.1 3.1-.9 3.3-1 3.3-.9 3.2-.8 3.2-.7 3.1-.6 3.1-.5 2.9-.4 3-.2 2.8 0 2.8 0 2.8.2 2.7.3 2.7.4 2.7.4 2.8.4 2.7.5 2.9.5 2.9.5 3 .5 3.2.6 3.5.5 3.7.5 4 .7 4.3.7 4.7.9 4.9 1.2 4.8 1.5 4.6 2 4 2.3 3.2 2.8 2.1 3.3 1.1 3.6.1 3.7-.4 3.6-.9 3.3-1.3 3.2-1.7 3-2.1 2.5-3.1 1.9-4.8.9-6.6-.2-7.9-1.2-8.6-2.2-8.8-2.7-8.2-2.8-6.7-1.2-3.8.9-1 1.4-.9 1.7-.8 2-1.1 2.2-1.2 2.4-1.5 2.6-1.8 2.6-2.1 2.7-2.4 2.7-2.6 2.7-2.8 2.7-2.9 2.5-3 2.4-3.1 2.3-3.1 2.1-3.2 1.9-3.1 1.7-3.2 1.6-3.1 1.2-3.1 1.1-3.1.9-3.1.6-3.1.4-3.1 0-3.1-1.5-3.1-3.3-3.1-4.8-3.1-5.9-3.2-6.5-3.1-6.5-3.2-5.7-3.1-3.4-3.1.9-3.1 1.3-3.1 1.5-3.1 1.8-3 1.9-3.1 2-3.1 2.2-3.1 2.3-3.1 2.4-3.1 2.4-3.1 2.5-3.1 2.5-3.1 2.5-3.1 2.4-3.1 2.3-3.1 2.2-3 2-3.1 1.9-3.1 1.7-3 1.4-3.1 1.2-3.1 1-3 .7-3.1.4-3.1.1-3.2-1.6-3.1-3.9-3.2-5.7-3.2-7-3.1-7.8-3-7.9-3-6.9-2.8-4.8-2.8.7-2.9 1.5-3 1.9-3 2.1-3 2.3-3.1 2.4-3.2 2.5-3.2 2.5-3.3 2.6-3.4 2.5-3.4 2.5-3.4 2.4-3.5 2.3-3.5 2.1-3.4 2-3.5 1.8-3.4 1.5-3.5 1.2-3.4 1-3.4.6-3.5.2-3.4 0-3.5-.3-3.6-.7-3.5-1.5-3.3-3.1-2.8-3.9-2.2-4.2-1.5-4.2-.9-3.8-.4-3.2-.1-2.3.1-1.2 0 0-.6 1.2-2.3.7-2.5-.5-.3-1.3.8-1.7 1.4-1.9 1.7-1.6 1.7-1.4 1.7-1.1 1.7-1 1.8-.7 1.8-.7 1.9-.7 2-.6 2.2-.8 2.4-.7 2.6-.9 2.7-.8 2.8-.9 2.9-.9 2.9-.9 2.9-.9 2.8-.9 2.9-.9 2.8-.9 2.9-.9 2.8-.9 2.9-.8 2.9-1 3-.9 3-.9 3-.9 3.1-.9 3.1-1 3-.9 3.1-.9 3.1-.8 3.1-.9 3.1-.9 3-.8 3.1-.8 3.1-.8 3-.7 3.1-.7 3-.7 3-.7 3.1-.6 3-.7 3.1-.5 3-.6 3.1-.5 3-.6 3.1-.4 3.1-.5 3.1-.4 3.1-.4 3.1-.4 3.1-.4 3.1-.3 3.2-.3 3.1-.3 3.1-.2 3.2-.3 3.2-.2 3.1-.1 3.1-.1 3.1-.1 3.1 0 3.1 0 3 .1 3 .1 2.9.2 2.9.3 2.9.4 3 .4 3.2.5 3.2.6 3.5.6 3.8.8 3.8.9 3.7 1.1 3.3 1.3 3.1 1.4 2.8 1.5 2.8 1.5 2.8 1.5 2.9 1.5 3.3 1.3 3.6 1.3 3.9 1.3 3.8 1.3 3.4 1.3 2.8 1.5 1.8 1.6.6 1.7-1 1.9-2.6 1.8-3.9 1.2-4.7.4-5.1-.7-5-1.9-4.5-2.9-4-3.4-3.1-3.7-2.4-3.7-1.4-3.6-.4-3.1.6-2.6 1.7-2 2.6-1.6 3.5-1.1 4-.8 4.4-.5 4.5-.3 4.3-.3 4.1-.4 3.7-.5 3.4-.5 3.1-.7 2.9-.6 2.8-.5 2.7-.5 2.6-.2 2.6.1 2.7.4 2.6.7 2.8 1.1 2.8 1.3 2.8 1.4 2.9 1.5 2.9 1.5 2.9 1.5 2.9 1.5 2.9 1.3 2.8 1.2 2.9.9 3 .7 2.9.4 3.1.4 2.9.3 2.9.6 2.5.8 2 1.2 1.4 1.7.6 2.1-.2 2.4-.7 2.6-.7 2.5-.6 2.5-.5 2.4-.4 2.4-.5 2.4-.6 2.4-.8 2.4-1 2.5-1.3 2.5-1.6 2.6-1.9 2.5-2.4 2.6-2.7 2.4-3.2 2.4-3.4 2.2-3.8 1.9-4.1 1.8-4.2.8-4.6-.9-5.2-2.7-5.2-4.1-5-5.3-4.6-5.8-4-5.5-3.6-4.4-3.1-.3-2.6 1.4-2.7 1.8-2.8 2.1-2.9 2.2-2.9 2.3-3 2.4-3.1 2.4-3.1 2.5-3.1 2.5-3 2.4-3.1 2.4-3.1 2.2-3.1 2.2-3.1 2.1-3 1.9-3.1 1.8-3.1 1.6-3.1 1.5-3.1 1.3-3.1 1.1-3.1 1-3.1.7-3.1.6-3.1.4-3.1-.3-3.2-2.1-3.1-4-3.1-5.5-3.1-6.8-3.1-7.3-3.1-7.2-3.1-6.2-3.1-2.2-3.1 1.1-3.1 1.5-3.2 1.9-3.1 2.2-3.1 2.3-3.1 2.5-3.1 2.7-3.1 2.7-3.1 2.7-3.1 2.7-3 2.7-3.1 2.6-3.1 2.5-3 2.4-3.1 2.3-3.2 2-3.1 1.9-3.2 1.7-3.2 1.4-3.2 1.2-3.3 1-3.3.7-3.3.5-3.3.2-3.3-.1-3.3-1.7-3.1-3.6-2.9-5.3-2.8-6.5-2.5-7.3-2.4-7.3-2.3-6.7-2.4-4.4-2.6.8-3.3 1.6-3.3 2-3.4 2.2-3.4 2.3-3.4 2.3-3.4 2.3-3.4 2.3-3.5 2.1-3.4 1.9-3.5 1.7-3.5 1.4-3.7 1.2-3.7.8-3.8.6-3.9.2-4.1-.1-4.3-.6-4.5-1-4.8-1.6-5-2.1-5.2-2.7-4.5-2.9-4.4-3.6-.2-3.7 1.9-3.6 3.3-3.5 4.2-3.1 4.3-2.8 4.2-2.5 4.1-2.1 4-1.9 4-1.6 3.9-1.3 3.8-1.2 3.6-1 3.6-.8 3.5-.6 3.5-.6 3.5-.3 3.5-.3 3.5-.1 3.5 0 3.6 0 3.5.2 3.5.2 3.4.4 3.3.4 3.2.5 3.1.5 3 .5 3 .6 2.9.5 2.9.6 2.9.6 2.9.5 3 .5 2.9.4 3 .4 3.1.3 3.1.2 3.1.2 3.2 0 3.2-.2 3.3-.6 3.2-.6 3.2-.7 3.3-.6 3.1-.6 3.2-.7 3.1-.6 3.2-.6 3.1-.6 3.1-.6 3-.6 3.1-.5 3-.6 3.1-.6 3-.6 3.1-.5 3-.6 3-.6 3.1-.5 3-.6 3-.6 3.1-.5 3.1-.6 3-.5 3.2-.5 3.1-.5 3.2-.5 3.2-.5 3.2-.4 3.2-.2 3.2-.1 3.1 0 3 .4 3 .5 2.9.8 2.8 1.1 2.7 1.2 2.7 1.4 2.5 1.5 2.4 1.6 2.3 1.5 2.5 1.5 2.7 1.2 3 1.1 3.5.7 4 .5 4.4.3 4.4.3 4.1.2 3.4.3 2.6.4 1.3.6-.3.6-1.8.6-3.1.4-4 0-4.5-.7-4.6-1.4-4.4-2.2-4-2.7-3.5-3-3-3.3-2.1-3.3-1.3-3.1-.3-2.7.8-2.4 1.9-2 2.6-1.6 3.4-1.4 3.8-1.2 4.1-.9 4.3-.8 4.2-.5 4-.4 3.9-.3 3.7-.1 3.5-.1 3.4 0 3.3.1 3.1.1 3 .2 2.8.1 2.8 0 2.7.1 2.6.1 2.7.1 2.7.2 2.8.1 3 .3 3.1.3 3.3.4 3.6.6 3.9.6 4.3.9 4.6 1.1 5 1.3 5.1 1.6 4.9 2 4.3 2.4 3.4 2.8 2.2 3.1.8 3.4-1 3.6-3 3.3-5.1 2.7-6.8 1.9-7.7 1-7.8.4-7.1.3-4.4.8-1.8.9-1.4 1-1 1.2-.9 1.4-.8 1.7-.8 1.9-.8 2.2-.9 2.3-1.2 2.5-1.4 2.6-1.8 2.6-2 2.7-2.4 2.7-2.7 2.6-2.9 2.5-3.1 2.3-3.3 2.2-3.3 1.9-3.4 1.7-3.4 1.5-3.3 1.2-3.4 1-3.3.7-3.3.4-3.2-.9-3.2-2.8-3.1-4.2-3.2-5.5-3.1-6.1-3.1-6.2-3.2-5.5-3.2-3.8-3.1.7-3.1 1.4-3.1 1.6-3.1 1.8-3 2-3.1 2-3.1 2.2-3.1 2.2-3 2.2-3.1 2.3-3.1 2.2-3.1 2.3-3.1 2.2-3.1 2.1-3.1 2.2-3.1 2-3.1 2-3.1 1.8-3.1 1.7-3.1 1.5-3.1 1.3-3.1 1.1-3.1.9-3 .6-3.1.3-3.1-.9-3-3.3-3.1-5.3-3.2-6.9-3.2-8-3.2-8.2-3.2-7.5-3.1-5.6-3.2.2-3 1.5-3 2-3 2.3-3 2.4-3 2.6-3 2.7-3.1 2.7-3.1 2.8-3.1 2.8-3.2 2.7-3.2 2.6-3.2 2.5-3.3 2.4-3.4 2.3-3.4 2.1-3.4 1.9-3.4 1.7-3.4 1.5-3.4 1.2-3.4.9-3.3.6-3.3.3-3.3 0-3.2-.4-3.3-1.7-3-4.3-2.8-6.2-2.3-7.5-2-7.7-1.6-7-1.4-5.1-1.2-.8-1.9 1.3-2.5 1.5-2.4 1.5-2.5 1.4-2.7 1.5-3 1.3-3.2 1.2-3.6 1.1-4.1.7-4.5.2-4.4-.7-3.1-1.7-.6-2.3.8-2.6 1.6-2.6 2.3-2.4 2.5-2.2 2.6-1.8 2.6-1.7 2.7-1.5 2.8-1.3 2.7-1.2 2.8-1.2 2.9-1.1 2.9-1.2 2.9-1.1 3-1.1 3.1-1.1 3.1-1.1 3.1-1 3.1-1.1 3.2-1 3.2-1 3.3-.9 3.3-1 3.4-.9 3.3-.9 3.3-.9 3.3-.9 3.3-.9 3.2-.8 3.2-.8 3.2-.7 3.1-.8 3-.7 3.1-.7 3-.6 3-.6 3-.6 2.9-.6 3-.5 2.9-.5 2.9-.5 3-.4 2.9-.4 3-.4 3-.4 3-.3 3-.3 3.1-.3 3.1-.3 3-.2 3.1-.2 3.1-.2 3.1-.1 3.2-.1 3.1-.1 3.2-.1 3.1-.1 3.2 0 3.1 0 3.2.1 3.2.1 3.1.2 3.2.3 3.1.4 3.1.4 3 .5 3 .5 3 .6 2.9.6 3 .6 3 .8 3.1.8 3.2 1 3.2 1.1 3.3 1.3 3.2 1.6 3 1.8 2.8 2.1 2.3 2.3 2.1 2.3 2 2.4 2 2.4 2.1 2.1 2.5 2 2.9 1.5 3.5 1.2 4 .6 4.3.2 4.2-.3 3.8-.8 3.2-1 2.2-1.2.9-1.2-.7-1.4-1.9-1.3-2.7-1.3-3-1.5-3-1.5-2.7-1.5-2.3-1.6-1.9-1.7-1.5-1.6-1.1-1.6-.5-1.4.1-1.3.7-1.1 1.3-1 1.7-1 2.1-.9 2.3-.9 2.6-1 2.7-1 2.8-1.1 2.7-1.1 2.7-1 2.7-.9 2.7-.8 2.7-.6 2.6-.5 2.7-.2 2.7.1 2.7.3 2.7.4 2.7.7 2.8.7 2.7.8 2.8.9 2.9.9 2.9.9 3 .8 3.1.8 3.2.7 3.4.6 3.6.6 3.9.5 4.2.6 4.2.9 4.3 1.1 4 1.5 3.5 2 2.7 2.4 1.8 2.9.9 3.2.2 3.4-.2 3.4-.4 3.2-.6 3.1-.8 3-1.2 2.8-1.6 2.8-1.9 2.6-2.3 2.5-2.8 2.3-3.2 1.9-4 .7-5.7-.6-7.1-2-7.9-3.3-7.9-4.2-7.5-4.5-6.3-3.9-4.8-1-2.4 1.3-1.3 1.7-1.4 2-1.6 2.3-1.9 2.4-2.1 2.6-2.4 2.7-2.6 2.7-2.7 2.8-2.9 2.7-3 2.7-3 2.7-3.1 2.5-3.1 2.3-3.1 2.3-3 2-3.1 1.9-3.1 1.7-3.1 1.5-3.1 1.2-3.1 1.1-3.1.8-3 .6-3.1.3-3.1-.1-3.2-2-3.1-3.8-3.1-5.5-3.2-6.7-3.1-7.3-3.1-7.2-3.1-6.3-3.1-3.1-3.1.9-3.1 1.3-3.1 1.7-3.1 1.9-3.1 2.2-3.1 2.4-3.1 2.5-3.1 2.7-3.1 2.8-3.1 2.9-3.1 2.8-3.1 2.8-3.1 2.8-3.1 2.7-3 2.5-3.1 2.3-3 2.2-3.1 1.9-3.1 1.7-3.1 1.5-3.1 1.1-3.1.9-3.2.7-3.1.3-3.2-.1-3.3-2.1-3.2-4.2-3.1-6.1-3.1-7.3-2.8-8.1-2.8-7.9-2.6-7.1-2.5-4.9-2.6.5-2.9 1.6-3.1 2-3.1 2.2-3.3 2.4-3.3 2.5-3.4 2.6-3.4 2.7-3.5 2.6-3.5 2.7-3.5 2.5-3.5 2.4-3.5 2.2-3.6 1.9-3.5 1.7-3.5 1.4-3.5 1-3.6.8-3.7.4-3.7.1-3.7-.2-3.9-.5-3.9-.7-3.9-.9-4.1-1.5-4-2.2-3.6-2.9-3.1-3.3-2.5-3.4-1.7-3-.2-2.5 1.1-2.2 2.2-2.4 4.1-2.1 5.6-1.7 5.7-1.1 4.6-.8 3.5-.4 2.7-.3 2.1-.3 1.7-.3 1.6-.3 1.7-.3 2-.4 2.2-.5 2.5-.5 2.6-.7 2.7-.6 2.8-.7 2.8-.7 2.8-.7 2.7-.7 2.6-.7 2.6-.7 2.6-.7 2.6-.7 2.6-.8 2.6-.8 2.7-.8 2.9-.8 2.8-.9 3-.9 3-.9 3-.9 3.1-.9 3.1-.9 3.1-.9 3.2-.9 3.1-.8 3.2-.9 3.1-.8 3.2-.8 3.1-.8 3.1-.8 3.1-.8 3.1-.7 3.1-.7 3.1-.6 3.1-.7 3.1-.6 3.1-.6 3.1-.6 3-.6 3.1-.5 3.1-.5 3.1-.5 3.1-.5 3.1-.5 3-.4 3.1-.4 3.2-.4 3.1-.4 3.1-.4 3.1-.3 3.1-.3 3.1-.3 3.1-.2 3.1-.2 3.1-.1 3-.1 3 0 3 .1 3 .1 3 .3 3.1.4 3.2.6 3.3.6 3.5.9 3.5.9 3.4 1.2 3.2 1.3 2.9 1.4 2.7 1.4 2.7 1.5 2.8 1.4 3 1.3 3.4 1.1 3.7 1.1 4.1 1 3.9 1 3.6 1 3 1.3 1.9 1.3.7 1.6-.8 1.7-2.5 1.6-3.8 1.2-4.7.5-5.1-.4-5.3-1.6-5-2.5-4.5-3.3-4.1-3.7-3.3-4-2.4-3.9-1.4-3.8-.3-3.2 1-2.8 2.2-2.2 3.2-1.9 3.9-1.5 4.4-1.1 4.8-.8 4.8-.6 4.8-.3 4.5-.1 4.2 0 4.1.1 3.7.2 3.6.1 3.3.2 3.2.2 3 .1 2.8.2 2.8.2 2.6.3 2.7.5 2.7.6 2.8.8 2.9 1.1 2.9 1.3 3.1 1.5 3.1 1.8 3.2 2 3.1 2.1 3 2 2.9 1.9 2.4 1.7 1.9 1.2 1.5.6 1.4.7 1.1.9.5 1.3-.4 1.8-1.1 2-1.5 2.1-1.6 2-1.4 1.9-1 1.8-.8 1.8-.7 1.8-.6 1.9-.6 2-.6 2.1-.6 2.2-.9 2.4-1.1 2.5-1.4 2.6-1.7 2.7-2.1 2.7-2.5 2.7-2.8 2.5-3.2 2.5-3.4 2.2-3.7 2-3.9 1.8-3.9 1.5-4 1.2-4-.1-4-2-4-3.7-3.9-5.1-3.7-6.1-3.4-6.3-3.3-5.8-3.1-4.4-3.1.3-3 1.4-3.1 1.8-3 2-3.1 2.2-3.1 2.3-3.1 2.3-3.1 2.4-3.1 2.5-3.1 2.3-3 2.4-3.1 2.3-3.1 2.3-3.1 2.1-3.1 2-3 2-3.1 1.8-3.1 1.6-3.1 1.6-3.1 1.3-3.2 1.3-3.1 1-3.1.8-3.1.7-3.1.4-3.1-.5-3.1-2.5-3.1-4.6-3.1-6.2-3.1-7.4-3.1-7.9-3.1-7.5-3.2-6.1-3.2-1.1-3.1 1.3-3.1 1.8-3.1 2.1-3.1 2.4-3.1 2.6-3.1 2.6-3.1 2.8-3 2.8-3.1 2.8-3 2.7-3.1 2.7-3.1 2.6-3.1 2.5-3.2 2.4-3.1 2.2-3.3 2-3.2 1.8-3.3 1.5-3.3 1.4-3.4 1.1-3.3.9-3.4.6-3.3.4-3.3 0-3.3-.3-3.2-2-3-4.1-2.8-6-2.5-7.2-2.3-7.9-2.3-7.6-2.2-6.1-2.4-1.1-2.9 1.5-3.2 1.9-3.2 2.1-3.2 2.1-3.2 2.1-3.3 2.1-3.3 1.9-3.3 1.6-3.4 1.5-3.4 1.2-3.6.9-3.8.5-4 .2-4.3-.1-4.6-.7-4.9-1.2-5.3-1.8-4.7-2.6-2.8-3-.4-3.2 1.5-3.3 2.7-3.2 3.4-3 3.6-2.6 3.7-2.4 3.6-2 3.6-1.9 3.5-1.6 3.5-1.6 3.4-1.3 3.4-1.4 3.3-1.2 3.2-1.2 3.3-1.1 3.2-1.1 3.2-1 3.3-1 3.4-.9 3.4-1 3.5-.9 3.5-.8 3.6-.9 3.5-.8 3.6-.7 3.5-.8 3.4-.6 3.4-.5 3.3-.5 3.2-.3 3.1-.3 3.1-.1 3-.1 3 0 2.9.1 2.9.2 3 .2 2.9.3 2.9.4 2.9.4 3 .4 3 .5 3 .5 3.1.6 3.1.6 3.1.6 3.1.6 3.1.6 3.1.7 3.1.6 3.2.6 3.1.6 3.1.6 3.1.5 3.1.5 3.1.4 3 .3 3 .3 3.1.1 3 0 3-.3 3-.5 3.1-.4 3-.5 3.2-.6 3.1-.5 3.2-.5 3.3-.6 3.3-.5 3.4-.3 3.2-.2 3.2.1 3 .3 2.8.6 2.7 1 2.4 1.3 2.3 1.5 2.1 1.6 2.1 1.8 1.9 1.7 2.1 1.7 2.3 1.5 2.6 1.3 2.9.9 3.6.5 4.1.2 4.6-.1 4.7-.3 4.4-.4 3.9-.3 3-.4 1.7-.3.3-.2-1.3-.3-2.6-.3-3.4-.5-3.9-1-4-1.4-3.7-1.8-3.4-2.2-3-2.5-2.5-2.6-1.8-2.6-1.1-2.5-.2-2.3.7-1.9 1.6-1.6 2.2-1.5 2.8-1.3 3.3-1.1 3.5-.9 3.7-.9 3.7-.8 3.5-.6 3.5-.6 3.4-.4 3.3-.2 3.1-.2 3.1-.1 3 .1 2.9 0 2.8.2 2.7.2 2.7.2 2.7.2 2.7.2 2.8.3 2.8.3 2.9.3 3.1.3 3.3.4 3.5.5 3.9.6 4.2.6 4.6.9 5 1.1 5.1 1.4 5.1 1.7 4.8 2.1 4.2 2.6 3.4 3 2.3 3.5 1 3.7.1 3.8-.7 3.7-1.3 3.4-2.6 2.7-4.5 2-6.3 1-7.8 0-8.8-1-9.3-1.7-8.9-2.1-7.7-1-4.4.7-1.1 1.1-.7 1.5-.6 1.8-.6 2-.7 2.3-.9 2.5-1.2 2.7-1.5 2.8-1.8 2.9-2.2 2.9-2.4 2.8-2.7 2.8-2.9 2.6-3 2.5-3.1 2.4-3.2 2.1-3.2 2-3.3 1.7-3.2 1.4-3.2 1.2-3.1 1-3.2.7-3.1.4-3.1.1-3.1-1.6-3.1-3.4-3.1-5-3.1-6.1-3.2-6.8-3.2-6.6-3.1-5.9-3.2-3.4-3.1 1-3.1 1.4-3 1.7-3.1 1.9-3.1 2-3.1 2.2-3 2.3-3.1 2.3-3.1 2.4-3.1 2.4-3.1 2.4-3.1 2.5-3.1 2.4-3.1 2.4-3.1 2.3-3.1 2.2-3.1 2-3.1 1.9-3 1.7-3.1 1.5-3.1 1.2-3 1-3.1.7-3.1.4-3 .1-3.1-1.5-3.1-3.9-3.2-5.7-3.2-7.3-3.2-7.9-3.1-8-3.1-7.1-3-4.7-3 .8-2.9 1.7-2.9 2-3 2.2-3 2.3-3.1 2.5-3 2.5-3.2 2.6-3.2 2.6-3.2 2.5-3.4 2.5-3.3 2.4-3.4 2.3-3.4 2.2-3.4 2-3.5 1.8-3.4 1.6-3.4 1.4-3.4 1.1-3.4.8-3.3.5-3.4.2-3.3-.2-3.4-.5-3.4-1.2-3.2-3.1-2.9-4.6-2.4-5.5-1.7-5.5-1.2-5-.7-4-.3-2.8-.2-1.2-.7 1-2.2 1.3-2.7 1.4-3.2 1.4-3.6 1.1-3.5.1-1.8-.9-.6-1.5.7-2 1.3-2.2 1.7-1.9 1.9-1.7 1.9-1.4 2-1.2 2-1 2.1-1 2.2-.8 2.3-.9 2.4-.9 2.6-1 2.7-1 2.8-1 2.9-1 2.9-1 3-1 2.9-1 3-1 3-1 3-1 3-.9 3.1-1 3.1-1 3.1-.9 3.1-1 3.1-.9 3.2-1 3.1-.9 3.1-.9 3.1-.9 3.1-.9 3.1-.9 3-.8 3.1-.8 3-.8 3-.7 3-.7 3-.7 3-.7 2.9-.6 3-.6 3-.6 3-.5 3.1-.6 3-.4 3.1-.5 3-.4 3.1-.4 3.1-.4 3.1-.3 3.1-.4 3.1-.3 3.1-.2 3.2-.2 3.1-.2 3.2-.2 3.1-.1 3.2-.2 3.2 0 3.2-.1 3.1.1 3.1 0 3.1.1 3 .2 3 .2 2.9.3 2.9.3 2.9.4 2.9.5 3 .5 3.1.5 3.4.7 3.5.6 3.8.8 3.9 1 3.8 1.1 3.5 1.3 3 1.5 2.8 1.6 2.7 1.8 2.7 1.7 2.8 1.8 3.1 1.8 3.4 1.7 3.6 1.6 3.6 1.5 3.3 1.4 2.8 1.2 1.9 1 1 1.1-.6 1-2 .8-3.3.2-3.8-.6-4.1-1.5-3.7-2.3-3.2-2.7-2.4-2.8-1.8-2.8-1-2.5-.3-2.2.4-1.8 1-1.4 1.6-1.1 2.2-.8 2.6-.6 3-.5 3.1-.5 3.1-.5 2.9-.8 2.7-1.2 2.5-1.2 2.3-1.2 2.4-1.2 2.4-1 2.4-.9 2.5-.6 2.5-.3 2.5 0 2.7.3 2.6.7 2.8.9 2.8 1 2.8 1.2 2.8 1.3 2.9 1.3 2.9 1.3 2.9 1.2 3 1.1 3 .9 3.1.8 3.2.6 3.3.4 3.5.5 3.5.5 3.4.8 3.1 1.1 2.6 1.5 2 2 1.1 2.4.2 2.7-.3 2.9-.5 2.9-.5 2.8-.5 2.7-.6 2.6-.8 2.6-1 2.5-1.2 2.5-1.6 2.5-1.8 2.4-2.3 2.4-2.6 2.3-3 2.2-3.4 2.1-3.6 1.9-4 1.3-4.6-.3-5.5-1.8-5.9-3.2-6-4.2-5.5-4.9-4.9-4.7-4-3.9-3.3-.2-2.4 1.4-2.3 1.8-2.5 1.9-2.6 2.1-2.7 2.2-2.9 2.3-2.9 2.4-3 2.4-3.1 2.3-3 2.3-3.1 2.3-3.1 2.2-3.1 2.1-3.1 2-3.1 1.9-3 1.7-3.1 1.5-3.1 1.4-3.1 1.3-3.1 1-3.1.9-3.1.7-3.1.5-3.1.4-3.1-.3-3.1-1.9-3.1-3.7-3.2-5-3.1-6.2-3.1-6.7-3.1-6.7-3.1-5.7-3.1-2.1-3.1.8-3.1 1.3-3.1 1.7-3.1 1.9-3.1 2.1-3.1 2.3-3.2 2.5-3.1 2.5-3.1 2.6-3 2.6-3.1 2.6-3.1 2.6-3.1 2.4-3 2.4-3.1 2.2-3.1 2.1-3.1 1.9-3.1 1.7-3.1 1.4-3.2 1.3-3.2 1-3.2.8-3.3.6-3.3.3-3.2-.1-3.3-1.9-3.2-3.7-3-5.4-2.8-6.5-2.7-7.2-2.5-7.2-2.4-6.6-2.4-4.6-2.5.5-3.2 1.5-3.2 1.9-3.4 2.1-3.4 2.3-3.5 2.4-3.4 2.4-3.5 2.5-3.5 2.4-3.4 2.2-3.5 2.1-3.5 1.9-3.6 1.6-3.6 1.4-3.6 1-3.8.7-3.8.5-4 .1-4-.2-4.3-.6-4.4-1-4.5-1.5-4.8-2-5-2.6-5.1-3.1-4.3-3.3-3.3-3.7.1-3.7 2.4-3.6 4.4-3.1 5.5-2.6 5.6-2.2 5.2-1.6 4.7-1.3 4.3-.9 4-.7 3.6-.5 3.5-.3 3.4-.2 3.4 0 3.4 0 3.3.1 3.4.2 3.4.3 3.4.3 3.3.4 3.2.3 3.1.5 2.9.4 2.8.3 2.7.4 2.7.3 2.5.1 2.7 0 2.6-.3 2.8-.7 2.8-.7 3-.7 3-.8 3-.8 3.1-.8 3.2-.8 3.2-.8 3.2-.9 3.2-.8 3.2-.8 3.2-.8 3.2-.8 3.3-.8 3.1-.7 3.2-.8 3.2-.7 3.1-.6 3.1-.7 3.1-.6 3.1-.7 3.1-.6 3.1-.6 3-.6 3.1-.6 3.1-.5 3-.6 3.1-.5 3-.5 3.1-.5 3.1-.5 3-.5 3.1-.5 3.1-.5 3.1-.4 3.1-.5 3.1-.4 3.1-.3 3.1-.4 3.1-.3 3.2-.2 3.1-.2 3.1 0 3.1.2 3 .4 3.1.5 3.1.8 3 .9 3.1 1.2 3 1.3 2.7 1.4 2.6 1.5 2.5 1.5 2.6 1.5 2.7 1.3 3 1.1 3.4.9 4 .7 4.2.6 4.2.6 3.9.5 3.3.7 2.3.8 1 1-.5 1-2 1-3.4.8-4.3.2-4.8-.6-4.8-1.5-4.7-2.3-4.2-2.9-3.8-3.3-3.1-3.6-2.3-3.6-1.3-3.3-.3-3 .9-2.5 2-2.1 2.8-1.8 3.6-1.4 4.1-1.2 4.3-.9 4.5-.7 4.5-.5 4.2-.3 4-.1 3.8-.1 3.7.1 3.5.1 3.3.1 3.1.2 3 .1 2.9.1 2.8 0 2.7.1 2.6 0 2.7.1 2.7.1 2.8.1 2.9.2 3.2.4 3.3.5 3.6.7 3.9 1 4.2 1.4 4.4 1.7 4.5 2 4.1 2.2 3.5 2.4 2.5 2.4 1.4 2.5.1 2.7-1.1 2.8-3 2.8-4.8 2.5-6.3 1.8-6.4 1.5-3.5 1.3-2 1.1-1.6 1.2-1.2 1.2-1 1.3-.8 1.5-.7 1.6-.7 1.9-.7 2.1-.7 2.3-1 2.5-1.2 2.6-1.5 2.7-1.9 2.8-2.2 2.8-2.6 2.7-2.8 2.7-3.1 2.4-3.4 2.3-3.5 2.1-3.5 1.8-3.6 1.6-3.6 1.2-3.6 1-3.5.7-3.4-.9-3.4-2.7-3.3-4.5-3.3-5.7-3.2-6.5-3.1-6.7-3.2-6-3.1-4-3.2.7-3.1 1.5-3.1 1.8-3.1 2-3.1 2.1-3 2.3-3.1 2.3-3.1 2.4-3.1 2.5-3 2.4-3.1 2.4-3.1 2.4-3.1 2.3-3.1 2.3-3.1 2.2-3.1 2.1-3.1 2-3.1 1.9-3.1 1.7-3.1 1.6-3.1 1.4-3.1 1.2-3.1.9-3.1.7-3.1.4-3.1-1-3-3.3-3.1-5.5-3.1-7.2-3.2-8.3-3.1-8.7-3.2-8-3.3-6-3.1-.1-3.1 1.6-3.1 2.1-3.1 2.4-3 2.6-3 2.8-3 2.9-3.1 2.9-3 3-3.1 3-3.1 2.9-3.1 2.8-3.2 2.7-3.3 2.5-3.2 2.5-3.4 2.2-3.3 2-3.4 1.8-3.4 1.6-3.4 1.3-3.4 1-3.3.8-3.4.4-3.3.2-3.2-.2-3.2-1-3.2-3.5-2.8-5.8-2.5-7.5-2.2-8.4-2-8.1-1.9-6.7-1.7-2.6-2.2 1.5-2.9 1.7-2.8 1.9-2.9 1.8-2.8 1.8-2.9 1.6-3 1.5-3.2 1.2-3.5 1-3.7.8-4.2.4-4.5 0-5-.6-4.6-1.6-2.8-2.2-.7-2.7 1.1-2.9 2-2.9 2.7-2.7 2.9-2.3 3-2.2 3.1-1.8 3.1-1.7 3.1-1.5 3.1-1.4 3-1.3 3.1-1.3 3.1-1.2 3.1-1.2 3.1-1.1 3.1-1.1 3.2-1.1 3.2-1.1 3.2-1 3.3-1 3.4-1 3.4-1 3.4-1 3.5-.9 3.5-.9 3.4-.8 3.4-.9 3.3-.8 3.3-.7 3.2-.8 3.2-.7 3.1-.6 3.1-.7 3-.6 3-.5 3-.6 2.9-.5 2.9-.4 2.9-.5 3-.4 2.9-.4 2.9-.3 2.9-.3 3-.4 3-.2 3-.3 3-.2 3.1-.1 3 0 3.1 0 3.1.2 3.1.2 3.2.2 3.1.4 3.1.4 3.2.4 3.2.5 3.1.5 3.1.6 3.2.6 3.1.6 3.1.7 3.1.6 3.1.6 3.1.7 3 .6 3.1.5 3.1.6 3.2.5 3.2.6 3.2.6 3.2.8 3.1.9 3 1.3 2.8 1.5 2.5 1.9 2.1 2.2 1.9 2.3 1.6 2.4 1.6 2.3 1.7 2 1.9 1.7 2.4 1.4 2.9 1 3.5.4 4.2.1 4.7-.4 4.8-.6 4.7-.9 4.2-1 3.3-1 2.2-1 .8-1.1-.9-1.1-2-1-2.8-1.1-3.3-1.3-3.3-1.4-3-1.6-2.7-1.7-2.3-1.9-1.9-1.9-1.3-1.9-.8-1.8 0-1.6.7-1.4 1.3-1.2 1.8-1.2 2.3-1 2.6-1 2.9-1 3.1-1 3-1 3-.9 3-.9 2.9-.7 2.9-.6 2.9-.5 2.8-.3 2.8-.1 2.7.1 2.8.2 2.7.3 2.7.5 2.7.5 2.8.6 2.8.7 2.8.6 2.9.6 3 .6 3.2.6 3.4.6 3.6.6 3.8.5 4.2.7 4.6.8 4.7 1 4.6 1.4 4.4 1.8 3.9 2.2 3.1 2.7 2.1 3.2 1.1 3.5.2 3.6-.3 3.5-.6 3.4-1 3.2-1.3 3-1.8 2.8-2.1 2.6-2.6 2.3-3.5 1.3-5.4.1-7.1-1-8.1-2.2-8.7-3-8.5-3.5-7.5-3.3-5.9-.9-2.9 1.1-1 1.6-.9 1.9-1.1 2.1-1.3 2.4-1.6 2.5-1.9 2.7-2.1 2.7-2.4 2.7-2.6 2.8-2.8 2.6-3 2.7-3 2.5-3 2.4-3.2 2.2-3.1 2.1-3.1 1.8-3.1 1.7-3.1 1.5-3.1 1.2-3.1 1-3.1.8-3.1.6-3.1.3-3-.1-3.1-1.8-3.2-3.7-3.1-5.1-3.1-6.3-3.2-6.7-3.1-6.7-3.2-5.8-3.1-2.7-3.1.9-3.1 1.3-3 1.6-3.1 1.8-3.1 2-3.1 2.1-3.1 2.3-3.1 2.5-3.1 2.5-3.1 2.5-3.1 2.6-3.1 2.6-3.1 2.6-3.1 2.4-3.1 2.4-3 2.2-3.1 2.1-3.1 1.8-3 1.7-3.1 1.4-3.1 1.1-3 .9-3.1.6-3.2.4-3.1-.1-3.2-2-3.1-4.1-3.2-5.9-3.1-7.2-3.1-7.8-2.9-7.6-2.8-6.8-2.7-4.4-2.7.9-3 1.6-3 2-3 2.1-3.1 2.3-3.2 2.4-3.3 2.4-3.3 2.6-3.4 2.5-3.4 2.5-3.5 2.4-3.4 2.4-3.5 2.2-3.5 2.1-3.5 1.8-3.4 1.6-3.5 1.3-3.4 1.1-3.5.6-3.5.4-3.6.1-3.5-.3-3.6-.5-3.7-.7-3.7-1.6-3.3-2.6-2.9-3.3-2.2-3.5-1.7-3.5-1.2-3.2-.6-2.7-.2-1.8.1-.9.8-.5 1.2-.6 1.4-1.2 1.9-1.6 1.6-1.7 1.7-1.5 1.7-1.2 1.6-.9 1.5-.8 1.6-.6 1.6-.5 1.7-.5 1.9-.6 2.1-.6 2.3-.7 2.5-.7 2.7-.8 2.7-.8 2.8-.9 2.9-.8 2.8-.9 2.8-.8 2.8-.8 2.7-.8 2.7-.9 2.8-.8 2.7-.9 2.9-.8 2.8-.9 3-.9 3-.9 3-1 3-.9 3.1-.9 3.1-.9 3.1-.9 3-.9 3.2-.8 3.1-.9 3-.8 3.1-.8 3.1-.8 3.1-.7 3.1-.7 3-.7 3.1-.7 3.1-.6 3-.6 3.1-.6 3.1-.6 3-.5 3.1-.5 3.1-.5 3.1-.5 3.1-.4 3.1-.5 3.1-.4 3.1-.3 3.1-.4 3.1-.3 3.2-.3 3.1-.3 3.1-.2 3.2-.2 3.1-.2 3.1-.2 3.1-.1 3.1 0 3 0 3 0 2.9.2 3 .2 2.9.2 3.1.4 3.1.5 3.2.6 3.4.6 3.7.8 3.6 1 3.6 1.1 3.3 1.3 2.9 1.4 2.8 1.5 2.7 1.5 2.8 1.5 3 1.4 3.3 1.2 3.7 1.2 3.9 1.2 3.9 1.1 3.5 1.2 2.8 1.3 1.9 1.5.7 1.7-.9 1.8-2.6 1.6-3.8 1.3-4.7.5-5.2-.5-5.2-1.6-4.9-2.6-4.6-3.3-3.8-3.8-3.1-4-2.1-3.9-1-3.6.1-3 1.4-2.5 2.5-2 3.4-1.5 4.2-1.1 4.6-.8 4.9-.5 4.8-.3 4.6-.2 4.2-.2 3.9-.2 3.6-.3 3.4-.2 3.1-.2 3-.2 2.9 0 2.8.1 2.7.3 2.7.6 2.7.8 2.8 1.1 2.8 1.3 2.8 1.6 2.9 1.7 2.9 1.9 3 1.9 2.9 1.9 2.8 1.3 2.8 1.1 2.9.8 2.8.5 2.8.4 2.7.3 2.5.5 2.2.8 1.6 1 1.1 1.6.2 1.9-.6 2.2-1 2.4-1 2.4-.9 2.2-.6 2.2-.5 2.2-.6 2.1-.5 2.3-.6 2.3-.8 2.4-.9 2.4-1.3 2.6-1.5 2.6-2 2.6-2.3 2.7-2.7 2.5-3.1 2.5-3.4 2.2-3.8 2.1-3.9 1.8-4.1 1.6-4.3.4-4.5-1.6-4.8-3.3-4.7-4.9-4.4-5.8-4-6.2-3.6-5.9-3.3-4.4-3 .2-2.8 1.5-2.8 1.9-3 2.1-3 2.2-3 2.4-3.1 2.5-3.1 2.5-3.1 2.6-3.1 2.5-3 2.5-3.1 2.4-3.1 2.4-3.1 2.2-3.1 2.2-3 2-3.1 1.9-3.1 1.7-3.1 1.5-3.1 1.4-3.1 1.2-3.1 1-3.1.9-3.1.6-3.2.4-3.1-.4-3.1-2.6-3.1-4.6-3.1-6.3-3.1-7.4-3.1-8.1-3.1-7.8-3.1-6.3-3.1-1.4-3.2 1.3-3.1 1.7-3.2 2.2-3.1 2.4-3.1 2.6-3.1 2.7-3.1 2.9-3 2.9-3.1 2.9-3.1 2.9-3 2.9-3.1 2.8-3.1 2.6-3.1 2.5-3.1 2.3-3.2 2.2-3.2 1.9-3.2 1.7-3.3 1.5-3.3 1.2-3.3 1-3.3.7-3.3.4-3.4.2-3.3-.3-3.2-2.1-3.1-4.1-2.9-5.8-2.6-7.2-2.3-7.9-2.3-7.9-2.3-6.8-2.3-3.2-2.8 1.4-3.3 1.9-3.4 2.2-3.3 2.3-3.4 2.4-3.3 2.4-3.4 2.3-3.4 2.2-3.4 2-3.5 1.7-3.6 1.5-3.6 1.1-3.7.9-3.9.5-4 .1-4.3-.3-4.5-.7-4.8-1.3-5.1-1.8-5.3-2.5-4.6-3.1-2.1-3.3-.3-3.4 1.8-3.5 3-3.3 3.8-3 4-2.7 3.9-2.4 3.8-2.1 3.8-1.9 3.7-1.6 3.6-1.6 3.5-1.3 3.4-1.3 3.4-1.3 3.3-1.1 3.3-1 3.3-.9 3.3-.8 3.4-.7 3.4-.6 3.5-.5 3.6-.4 3.5-.3 3.6-.2 3.5-.1 3.5 0 3.3.1 3.3.2 3.2.2 3.1.3 3 .4 3 .4 3 .4 2.9.5 3 .5 2.9.5 3 .6 3 .5 3 .5 3.1.5 3.1.5 3.1.5 3.2.4 3.1.4 3.2.4 3.2.3 3.2.2 3.1.1 3.2-.1 3.1-.4 3.1-.5 3.1-.4 3-.5 3.1-.5 3-.5 3.1-.5 3-.5 3-.5 3.1-.5 3-.5 3-.6 3-.5 3-.5 3.1-.6 3.1-.5 3.1-.6 3.2-.5 3.2-.6 3.2-.5 3.3-.5 3.2-.3 3.2-.1 3.2 0 3 .3 2.9.6 2.8.9 2.6 1.1 2.6 1.3 2.4 1.5 2.3 1.6 2.2 1.7 2.2 1.5 2.4 1.5 2.7 1.2 3 1 3.5.6 4.1.3 4.5.2 4.5 0 4.3 0 3.6 0 2.7.1 1.5.3-.1.3-1.6.3-3 .1-3.8-.1-4.3-.8-4.4-1.4-4.2-2-3.8-2.5-3.4-2.9-2.9-3.1-2.1-3.1-1.3-2.9-.3-2.6.8-2.2 1.7-2 2.6-1.6 3.1-1.4 3.7-1.1 3.9-1 4.1-.8 4.1-.6 3.9-.5 3.8-.3 3.6-.2 3.5-.1 3.4 0 3.2.1 3.1.1 3 .1 2.8.1 2.8 0 2.7.1 2.6.1 2.7.1 2.7.1 2.8.1 3 .2 3.1.3 3.3.3 3.6.5 4 .6 4.3.7 4.8 1 5.1 1.3 5.3 1.6 5.1 1.9 4.8 2.3 4.2 2.7 3.3 3.1 2.1 3.6.4 3.8-1.3 3.8-3.3 3.3-5.5 2.4-7.1 1.6-8.2.6-8.9-.2-8.7-.8-7.7-.3-4.3.6-1.4.9-1 1.1-.7 1.4-.5 1.8-.5 2-.6 2.2-.8 2.5-1 2.6-1.3 2.8-1.7 2.8-2 2.8-2.3 2.9-2.6 2.7-2.9 2.6-3.1 2.5-3.2 2.2-3.2 2.1-3.3 1.8-3.4 1.6-3.3 1.3-3.3 1.1-3.2.8-3.3.5-3.1.1-3.2-1.4-3.1-3.2-3.1-4.7-3.2-5.9-3.1-6.4-3.2-6.3-3.1-5.5-3.2-3.2-3.1 1-3.1 1.4-3.1 1.7-3 1.9-3.1 2-3.1 2.1-3.1 2.2-3 2.2-3.1 2.2-3.1 2.2-3.1 2.3-3.1 2.2-3.1 2.2-3.1 2.1-3.1 2.1-3.1 2-3.1 1.9-3.1 1.7-3.1 1.6-3.1 1.4-3.1 1.2-3 .9-3.1.7-3.1.5-3 .1-3.1-1.3-3.1-3.5-3.1-5.3-3.2-6.7-3.2-7.6-3.2-7.5-3.1-6.8-3.2-4.5-3 .8-3.1 1.6-2.9 1.9-3 2.1-3 2.3-3 2.4-3 2.4-3.1 2.5-3.1 2.5-3.2 2.4-3.2 2.4-3.3 2.3-3.3 2.3-3.3 2.1-3.4 1.9-3.4 1.8-3.3 1.6-3.4 1.4-3.4 1.2-3.4.9-3.3.7-3.3.4-3.3 0-3.3-.2-3.3-.6-3.2-2.4-3-4.4-2.6-5.8-2.3-6.4-1.7-6.2-1.4-5.1-1.1-3.5-1-.1-1.9 1-2.2 1.1-2.4 1.2-2.7 1.2-2.9 1.2-3.2 1.1-3.8 1-4.1.4-4-.6-1.8-1.3-.7-1.9.6-2.4 1.4-2.4 2-2.3 2.1-1.9 2.3-1.8 2.3-1.5 2.5-1.3 2.4-1.2 2.6-1.2 2.6-1.1 2.7-1.1 2.7-1.1 2.9-1.1 2.9-1.1 3-1.1 3-1.1 3.1-1.1 3-1 3.2-1.1 3.1-1 3.2-1 3.2-1 3.3-1 3.3-1 3.2-1 3.3-.9 3.2-.9 3.3-.9 3.1-.9 3.2-.9 3.1-.8 3.1-.8 3-.7 3.1-.8 3-.7 2.9-.6 3-.7 2.9-.6 3-.5 2.9-.6 3-.5 2.9-.5 3-.4 3-.4 3-.4 3-.4 3.1-.3 3-.4 3.1-.2 3.1-.3 3.1-.2 3.1-.2 3.2-.2 3.1-.1 3.1-.1 3.2-.1 3.2-.1 3.1 0 3.2 0 3.2.1 3.2 0 3.1.2 3.1.1 3.1.2 3 .3 3 .3 2.9.4 2.9.4 2.9.6 3 .6 3 .8 3.2.8 3.3.9 3.4 1.1 3.6 1.2 3.6 1.5 3.3 1.8 2.9 1.9 2.5 2.2 2.3 2.2 2.2 2.2 2.3 2.2 2.5 2.1 2.9 1.8 3.4 1.6 3.7 1.2 3.8.9 3.8.4 3.4 0 2.7-.3 1.8-.5.4-.5-1.1-.8-2.2-1.2-2.8-1.5-3-1.9-2.7-2-2.2-1.9-1.8-1.8-1.5-1.5-1.3-1.5-.9-1.4-.3-1.3.1-1.2.7-1 1.3-.9 1.6-.8 2-.9 2.2-.9 2.5-.9 2.6-1 2.6-1.2 2.6-1.1 2.5-1.1 2.6-1 2.6-.9 2.6-.7 2.6-.5 2.6-.2 2.6 0 2.7.3 2.7.5 2.7.7 2.8.9 2.8 1 2.8 1 2.8 1 2.9 1 3 1 3 .9 3.2.8 3.3.7 3.4.6 3.7.5 3.9.6 4 .7 3.9 1 3.6 1.4 3.1 1.8 2.4 2.3 1.5 2.7.5 3 0 3.2-.4 3.1-.6 3-.6 2.9-.9 2.8-1.1 2.7-1.4 2.6-1.7 2.5-2 2.4-2.4 2.3-2.8 2.2-3.2 2.1-3.5 1.5-4.3.4-5.7-1.1-6.5-2.4-6.9-3.4-6.7-4.2-6.1-4.2-5-3.5-3.9-.3-2.2 1.4-1.7 1.7-2 1.9-2.1 2.1-2.4 2.3-2.5 2.3-2.7 2.4-2.9 2.5-2.9 2.5-3 2.4-3 2.4-3.1 2.3-3.1 2.2-3.1 2.1-3.1 1.9-3 1.8-3.1 1.7-3.1 1.5-3.1 1.3-3.1 1.1-3.1 1-3.1.7-3.1.5-3.1.4-3.1-.3-3.1-2-3.1-3.7-3.1-5.1-3.2-6.3-3.1-6.8-3.1-6.7-3.1-5.7-3.1-2.3-3.1.8-3.1 1.3-3.1 1.6-3.1 1.8-3.1 2.1-3.1 2.3-3.1 2.5-3.1 2.6-3.1 2.7-3.1 2.7-3.1 2.7-3.1 2.7-3.1 2.6-3 2.5-3.1 2.4-3.1 2.2-3 2.1-3.1 1.8-3.1 1.7-3.1 1.4-3.2 1.1-3.1.9-3.2.6-3.2.4-3.3-.2-3.2-2.2-3.2-4.2-3.1-6-3-7.2-2.8-7.8-2.6-7.8-2.4-6.9-2.5-4.6-2.5.7-3 1.6-3.2 1.9-3.3 2.3-3.3 2.4-3.4 2.5-3.5 2.6-3.4 2.7-3.6 2.7-3.5 2.6-3.5 2.5-3.5 2.3-3.5 2.1-3.6 1.8-3.5 1.6-3.7 1.2-3.6.8-3.8.6-3.8.2-4-.1-4-.3-4.1-.7-4.2-1.1-4.4-1.5-4.5-1.9-4.6-2.6-4.5-3.4-3.7-3.7-2-3.5.7-3.2 1.7-3 4-2.8 5.8-2.2 6.4-1.7 5.6-1.1 4.6-.7 3.9-.4 3.2-.2 2.9.1 2.6.1 2.5.1 2.6.2 2.7.1 2.8 0 2.9-.2 2.9-.4 2.9-.6 2.8-.6 2.8-.6 2.6-.6 2.6-.6 2.5-.6 2.5-.6 2.5-.7 2.6-.6 2.5-.8 2.7-.7 2.8-.8 2.8-.8 2.9-.8 3-.9 3-.9 3.1-.8 3.1-.9 3.1-.9 3.2-.9 3.1-.8 3.2-.9 3.2-.8 3.2-.8 3.1-.8 3.2-.8 3.1-.8 3.2-.7 3.1-.7 3.1-.7 3.1-.6 3.1-.6 3.1-.7 3.1-.5 3-.6 3.1-.6 3.1-.5 3.1-.5 3-.6 3.1-.4 3.1-.5 3.1-.5 3.1-.4 3-.4 3.1-.4 3.1-.4 3.1-.4 3.2-.3 3.1-.3 3.1-.3 3-.2 3.1-.2 3.1-.1 3 0 3.1.1 3 .3 3.1.4 3.1.5 3.3.7 3.3.9 3.3 1 3.3 1.2 3 1.3 2.7 1.5 2.7 1.5 2.6 1.4 2.8 1.4 3 1.2 3.4 1.1 3.8.9 4.1.8 4.1.8 3.7.9 3.1 1 2.1 1.2.8 1.4-.7 1.4-2.4 1.4-3.6 1.1-4.6.4-5-.5-5.1-1.5-4.9-2.5-4.5-3.1-4-3.6-3.2-3.8-2.4-3.9-1.5-3.6-.2-3.2.9-2.7 2.2-2.2 3-1.8 3.8-1.5 4.3-1.2 4.6-.8 4.8-.6 4.6-.4 4.4-.2 4.2-.1 3.9 0 3.8.2 3.5.1 3.4.2 3.2.2 3 .2 2.9 0 2.8.1 2.7.1 2.6.1 2.7.3 2.7.3 2.8.6 3 .7 3.1 1.1 3.3 1.3 3.4 1.5 3.5 1.9 3.5 2 3.5 2.2 3.2 2.2 2.5 2 1.7 1.8.8 1.7-.1 1.6-1 1.6-1.6 1.7-1.8 1.9-2 2-2 1.9-1.8 1.7-1.5 1.6-1.1 1.5-.9 1.6-.7 1.6-.6 1.7-.6 1.9-.5 2.1-.7 2.2-.8 2.4-1.1 2.6-1.3 2.7-1.7 2.8-2 2.8-2.5 2.7-2.8 2.7-3.1 2.5-3.4 2.3-3.6 2.1-3.8 1.9-3.8 1.6-3.8 1.2-3.8.9-3.8-.6-3.7-2.5-3.7-4.3-3.6-5.6-3.4-6.4-3.3-6.6-3.2-6-3.1-4.1-3.1.7-3.1 1.5-3 1.9-3.1 2.1-3.1 2.2-3.1 2.3-3.1 2.4-3.1 2.5-3.1 2.4-3.1 2.5-3 2.4-3.1 2.4-3.1 2.3-3.1 2.2-3.1 2.1-3.1 2-3.1 1.9-3.1 1.7-3.1 1.7-3.1 1.4-3.1 1.3-3.1 1.1-3.1.9-3.1.6-3.1.5-3.1-.9-3.1-3-3.1-5.2-3.1-6.8-3.1-8-3.1-8.3-3.2-7.7-3.2-5.9-3.2-.3-3.1 1.5-3.1 2-3.1 2.3-3.1 2.5-3 2.7-3.1 2.8-3 2.9-3.1 2.9-3 2.9-3.1 2.8-3.1 2.8-3.1 2.6-3.2 2.5-3.2 2.4-3.2 2.2-3.3 2-3.3 1.8-3.3 1.5-3.4 1.3-3.3 1.1-3.4.8-3.4.5-3.3.3-3.3-.1-3.2-.6-3.2-2.6-2.9-4.8-2.7-6.7-2.4-7.8-2.2-8.1-2.2-7.4-2.1-5-2.3.8-3 1.7-3.1 2-3.1 2-3.1 2.1-3.2 1.9-3.1 1.8-3.2 1.7-3.3 1.3-3.4 1.1-3.6.9-3.8.5-4.1.2-4.5-.3-4.8-.8-5.2-1.4-4.7-2.1-3.2-2.8-.6-3.1 1.3-3.2 2.4-3.1 3.2-3 3.3-2.5 3.5-2.4 3.5-2 3.4-1.9 3.5-1.6 3.3-1.5 3.4-1.4 3.3-1.4 3.2-1.2 3.3-1.3 3.2-1.1 3.2-1.1 3.2-1.1 3.3-1 3.3-1 3.4-1 3.4-1 3.6-.9 3.5-.9 3.6-.8 3.6-.9 3.5-.7 3.4-.8 3.4-.7 3.3-.6 3.2-.7 3.2-.6 3.1-.5 3.1-.5 3-.5 3-.4 2.9-.3 2.9-.2 2.9-.1 2.9 0 2.9 0 2.9.2 3 .2 2.9.2 3 .4 3 .4 3.1.4 3.1.5 3.1.6 3.1.6 3.1.6 3.1.6 3.1.7 3.2.7 3.1.6 3.1.7 3.1.7 3.1.6 3.1.6 3.1.6 3 .5 3.1.5 3 .4 3 .3 3.1.3 3.1.1 3.1.1 3.2-.1 3.3-.2 3.4-.4 3.3-.4 3.3-.1 3.2.1 3 .3 2.8.7 2.6 1 2.3 1.4 2.2 1.5 1.9 1.8 1.9 1.8 1.9 1.8 2 1.8 2.2 1.5 2.5 1.3 3 .9 3.5.5 4.2.1 4.6-.2 4.8-.4 4.5-.6 4-.6 3.1-.6 1.9-.6.5-.5-1.1-.6-2.4-.6-3.2-.7-3.7-1.1-3.7-1.4-3.5-1.7-3.1-2.1-2.8-2.2-2.2-2.4-1.6-2.3-1-2.3-.2-2 .7-1.7 1.5-1.5 2.1-1.3 2.6-1.2 3.1-1.1 3.3-1 3.4-.9 3.4-.8 3.4-.8 3.3-.6 3.2-.5 3.1-.4 3.1-.3 3-.2 2.9 0 2.8.1 2.8.1 2.7.3 2.7.3 2.7.4 2.7.3 2.8.4 2.8.5 3 .4 3 .5 3.3.5 3.4.5 3.8.5 4 .7 4.5.8 4.8.9 4.9 1.3 4.9 1.6 4.6 2 4.1 2.4 3.2 2.9 2.2 3.3 1 3.6.1 3.8-.5 3.6-1.1 3.4-1.5 3.1-1.8 2.8-3.1 2-5 1.2-6.5.1-8-.9-8.7-1.8-8.9-2.4-8.3-2.5-6.8-.8-3.4 1-1 1.3-.8 1.6-.8 2-.9 2.2-1.1 2.3-1.3 2.6-1.7 2.7-1.9 2.7-2.2 2.8-2.5 2.7-2.7 2.7-2.9 2.6-3 2.5-3.1 2.4-3.1 2.1-3.2 2-3.1 1.8-3.2 1.6-3.2 1.3-3.1 1.1-3.1.9-3.1.6-3.1.4-3.1-.1-3.1-1.8-3.1-3.6-3.1-5.1-3.1-6.1-3.2-6.7-3.2-6.6-3.1-5.7-3.1-2.7-3.1 1-3.1 1.4-3.1 1.6-3.1 1.9-3 2-3.1 2.1-3.1 2.3-3.1 2.3-3.1 2.5-3.1 2.5-3.1 2.5-3.1 2.5-3.1 2.6-3.1 2.4-3.1 2.4-3.1 2.3-3.1 2.1-3 1.9-3.1 1.7-3.1 1.5-3 1.2-3.1 1-3 .7-3.1.4-3.1 0-3.1-2-3.2-4.3-3.2-6.1-3.1-7.6-3.2-8.2-3.1-8.2-3-7-2.8-4.3-2.9 1.1-2.9 1.7-2.9 2.1-3 2.2-3.1 2.4-3 2.6-3.2 2.6-3.2 2.6-3.3 2.7-3.3 2.6-3.4 2.6-3.4 2.5-3.5 2.4-3.4 2.2-3.5 2.1-3.5 1.8-3.4 1.6-3.4 1.4-3.4 1-3.5.7-3.4.3-3.4 0-3.5-.3-3.4-.6-3.5-1.9-3.3-3.5-2.7-4.5-2-4.9-1.4-4.8-.8-4.3-.3-3.5.1-2.4.1-1.2-.1.6-1.6 1.7-3.1 1.3-3.1.8-3.4-.7-.4-1.4.7-1.9 1.4-2 1.7-1.7 1.8-1.5 1.9-1.3 1.8-1 1.9-.9 2-.8 2-.8 2.2-.7 2.3-.8 2.5-.9 2.6-.8 2.8-1 2.8-.9 2.9-.9 2.9-.9 3-1 2.9-.9 2.9-.9 2.9-.9 2.9-.9 3-.9 2.9-.9 3-.9 3-.9 3.1-.9 3.1-.9 3-.9 3.1-.9 3.1-.9 3.1-.8 3.1-.9 3-.8 3.1-.8 3.1-.8 3-.7 3-.8 3.1-.7 3-.7 3-.6 3-.7 3.1-.6 3-.5 3-.6 3.1-.5 3.1-.5 3-.5 3.1-.4 3.1-.4 3.1-.4 3.1-.4 3.1-.3 3.1-.4 3.1-.2 3.2-.3 3.1-.3 3.1-.2 3.2-.2 3.2-.1 3.1-.1 3.1-.1 3.2 0 3 0 3.1 0 3 .1 3 .2 2.9.2 2.9.3 2.9.4 3 .4 3.1.5 3.3.6 3.5.7 3.8.8 3.8.9 3.7 1.1 3.3 1.3 3.1 1.4 2.8 1.5 2.7 1.6 2.8 1.5 3 1.5 3.2 1.4 3.6 1.3 3.9 1.3 3.8 1.3 3.3 1.4 2.8 1.5 1.8 1.5.6 1.6-.8 1.7-2.5 1.5-3.7.9-4.5.1-4.7-1-4.6-2.1-4.1-2.8-3.4-3.3-2.6-3.4-1.8-3.4-1-3 0-2.7.8-2.2 1.7-1.6 2.6-1.3 3.2-.9 3.7-.6 4-.4 4.1-.3 3.9-.4 3.6-.6 3.2-.7 3-.8 2.8-.9 2.7-.8 2.5-.8 2.5-.6 2.5-.3 2.6 0 2.6.4 2.6.7 2.8 1 2.8 1.2 2.8 1.4 2.9 1.4 2.9 1.5 2.9 1.5 2.9 1.3 2.9 1.3 2.9 1.1 2.9.8 3 .7 3.1.4 3.1.3 3.2.4 3 .6 2.7.9 2.3 1.3 1.6 1.7.8 2.3-.1 2.5-.4 2.6-.5 2.7-.4 2.6-.4 2.6-.3 2.5-.4 2.6-.6 2.5-.8 2.6-1.1 2.6-1.4 2.6-1.7 2.6-2.2 2.6-2.5 2.6-3 2.4-3.4 2.3-3.8 2.1-4 1.8-4.3.8-4.8-1-5.6-2.9-5.8-4.4-5.5-5.5-5-6-4.4-5.7-3.6-4.3-3.1.3-2.5 1.5-2.5 2-2.7 2.1-2.7 2.4-2.9 2.5-3 2.5-3 2.6-3.1 2.7-3 2.6-3.1 2.5-3.1 2.5-3.1 2.5-3.1 2.3-3.1 2.1-3 2.1-3.1 1.8-3.1 1.7-3.1 1.5-3.1 1.4-3.1 1.1-3.1.9-3.1.8-3.1.5-3.1.3-3.1-.5-3.1-2.4-3.2-4.4-3.1-6-3.1-7.1-3.1-7.6-3.1-7.4-3.1-6.1-3.1-1.5-3.1 1.1-3.1 1.6-3.1 2-3.2 2.2-3.1 2.5-3.1 2.6-3.1 2.7-3.1 2.8-3.1 2.9-3.1 2.8-3 2.7-3.1 2.7-3.1 2.6-3 2.4-3.1 2.3-3.1 2.1-3.2 1.9-3.1 1.7-3.2 1.4-3.2 1.2-3.3.9-3.2.7-3.3.5-3.3.2-3.3-.3-3.3-2.2-3.1-4-3-5.5-2.7-6.7-2.5-7.3-2.4-7.3-2.4-6.4-2.4-4-2.6 1.1-3.3 1.6-3.4 2-3.4 2.2-3.4 2.3-3.4 2.4-3.4 2.3-3.5 2.4-3.4 2.1-3.5 2-3.4 1.8-3.6 1.5-3.5 1.2-3.7 1-3.7.7-3.8.3-4 .1-4.1-.4-4.3-.7-4.5-1.2-4.7-1.7-4.9-2.3-5.1-2.8-4.4-2.9-3.9-3.6-.1-3.7 2-3.6 3.4-3.4 4.2-3 4.4-2.7 4.5-2.2 4.4-1.8 4.3-1.6 4-1.3 3.9-1 3.7-.8 3.6-.7 3.6-.5 3.5-.4 3.5-.3 3.4-.1 3.5 0 3.5.1 3.5.2 3.4.3 3.4.3 3.3.5 3.2.4 3.1.5 3 .6 2.9.5 2.8.6 2.8.5 2.9.5 2.8.4 2.8.3 2.9.3 3 .2 3 .1 3.1-.1 3.1-.5 3.2-.7 3.2-.7 3.3-.7 3.2-.8 3.3-.7 3.2-.7 3.2-.7 3.2-.7 3.2-.6 3.2-.7 3.1-.6 3.1-.7 3.1-.6 3.1-.6 3.1-.6 3.1-.6 3-.6 3.1-.6 3-.6 3-.5 3.1-.6 3-.6 3.1-.5 3-.6 3.1-.5 3-.6 3.1-.5 3.1-.5 3.1-.5 3.1-.5 3.2-.5 3.2-.4 3.2-.3 3.1-.3 3.2 0 3.1.1 3 .3 3 .5 3 .8 2.9 1 2.9 1.1 2.7 1.4 2.6 1.5 2.5 1.5 2.4 1.5 2.5 1.4 2.8 1.3 3 1 3.5.8 4 .6 4.3.4 4.3.4 4 .4 3.4.4 2.4.7 1.2.7-.4.9-1.9.8-3.3.6-4.2.1-4.6-.6-4.8-1.4-4.6-2.3-4.1-2.8-3.7-3.2-3.1-3.4-2.3-3.5-1.4-3.3-.3-2.9.9-2.5 1.9-2.1 2.8-1.7 3.5-1.4 3.9-1.2 4.3-.9 4.5-.7 4.3-.6 4.2-.3 4-.2 3.8-.1 3.6.1 3.5.1 3.3.1 3.1.2 3 .1 2.9.1 2.8 0 2.7.1 2.6 0 2.7 0 2.7.1 2.8.1 2.9.2 3.2.3 3.3.4 3.7.6 3.9.7 4.3.9 4.7 1.1 5 1.6 5 2 4.5 2.3 3.7 2.6 2.7 2.8 1.4 3 0 3.3-1.9 3.3-4 3-6.1 2.4-7.4 1.5-7.7.8-6.8.8-3.6 1-1.7.9-1.4 1.1-1 1.2-.9 1.3-.7 1.6-.7 1.9-.7 2.1-.8 2.3-1 2.4-1.3 2.6-1.6 2.7-1.9 2.7-2.2 2.7-2.6 2.6-2.8 2.5-3.1 2.4-3.3 2.2-3.3 2-3.5 1.8-3.4 1.5-3.5 1.2-3.4 1-3.4.7-3.3.4-3.3-1.2-3.2-2.9-3.2-4.4-3.2-5.4-3.1-6.1-3.1-6-3.2-5.3-3.1-3.1-3.2 1-3.1 1.4-3.1 1.7-3.1 1.8-3 2-3.1 2-3.1 2.1-3.1 2.2-3 2.2-3.1 2.1-3.1 2.2-3.1 2.1-3.1 2.1-3.1 2.1-3.1 1.9-3.1 1.9-3.1 1.8-3.1 1.7-3.1 1.6-3.1 1.4-3.1 1.2-3.1 1-3.1.7-3.1.6-3 .2-3.1-1.1-3.1-3.4-3.1-5.1-3.1-6.7-3.2-7.5-3.2-7.6-3.2-7-3.2-4.7-3.1.6-3.1 1.6-3 1.9-3 2.1-3 2.4-3 2.4-3.1 2.6-3 2.6-3.1 2.6-3.1 2.5-3.1 2.6-3.2 2.5-3.2 2.3-3.3 2.3-3.3 2.1-3.4 1.9-3.3 1.8-3.4 1.6-3.4 1.3-3.4 1.2-3.3.8-3.4.6-3.3.3-3.2 0-3.3-.3-3.2-1.6-3-3.9-2.8-5.9-2.5-7.2-2.1-7.5-1.8-6.8-1.7-5-1.5-.5-2.3 1.3-2.6 1.4-2.7 1.5-2.6 1.4-2.7 1.4-2.9 1.3-3.1 1.1-3.4 1-3.8.7-4.2.5-4.7-.2-4.4-1.1-2.9-1.9-.7-2.4.9-2.7 1.7-2.8 2.4-2.5 2.6-2.3 2.8-2 2.8-1.7 2.8-1.6 2.9-1.4 2.9-1.3 2.9-1.3 3-1.2 3-1.2 3-1.2 3-1.1 3.1-1.1 3.1-1.1 3.2-1.1 3.1-1.1 3.3-1 3.3-1 3.3-1 3.4-1 3.4-.9 3.4-1 3.4-.9 3.4-.8 3.3-.9 3.2-.8 3.2-.8 3.2-.7 3.1-.7 3.1-.7 3-.7 3-.6 3-.6 3-.5 2.9-.5 2.9-.5 2.9-.5 3-.4 2.9-.4 2.9-.4 3-.4 3-.3 3-.3 3-.2 3.1-.3 3-.2 3.1-.2 3.1-.2 3.1-.1 3.1-.1 3.2-.1 3.1 0 3.1.1 3.2.1 3.2.2 3.1.3 3.2.3 3.2.4 3.1.5 3.1.5 3.1.5 3.1.6 3.1.6 3 .6 3 .6 3 .7 3.1.7 3 .8 3.2.8 3.1 1.1 3.2 1.2 3.1 1.5 2.9 1.7 2.7 2.1 2.4 2.2 2.1 2.4 1.8 2.5 1.8 2.4 1.8 2.4 2.1 2 2.5 1.8 3 1.2 3.8.8 4.2.1 4.5-.5 4.7-.9 4.2-1 3.4-1.2 2.2-1.2.9-1.2-.8-1.2-1.9-1.3-2.7-1.3-3.1-1.3-3.1-1.4-2.8-1.6-2.5-1.7-2.1-1.7-1.7-1.7-1.1-1.7-.6-1.6 0-1.4.7-1.2 1.3-1.1 1.7-1.1 2.2-.9 2.5-1 2.7-1 2.8-1 2.9-1 2.8-1 2.8-1 2.8-.8 2.8-.7 2.7-.6 2.7-.4 2.8-.1 2.7 0 2.7.3 2.7.4 2.7.5 2.8.7 2.7.8 2.8.7 2.9.8 2.9.8 3 .8 3.1.7 3.3.6 3.4.6 3.7.6 4 .6 4.3.7 4.5.9 4.3 1.3 4.1 1.6 3.6 2 2.9 2.6 1.9 3 .9 3.3.1 3.4-.2 3.4-.6 3.3-.8 3.1-1.1 2.9-1.4 2.8-1.8 2.7-2.2 2.5-2.6 2.3-3 1.9-4 .8-5.7-.5-7.1-1.7-7.9-2.8-8-3.6-7.6-3.9-6.4-3.4-4.9-.4-2.2 1.3-1.2 1.7-1.3 2-1.5 2.2-1.8 2.3-2 2.5-2.2 2.6-2.5 2.7-2.7 2.6-2.8 2.7-3 2.5-3 2.6-3 2.4-3.1 2.3-3.1 2.1-3.1 2-3.1 1.8-3.1 1.6-3.1 1.4-3.1 1.2-3.1.9-3.1.8-3.1.6-3 .3-3.1-.3-3.2-2.1-3.1-3.9-3.1-5.3-3.2-6.4-3.1-7-3.1-6.7-3.2-5.8-3.1-2.1-3 .9-3.1 1.3-3.1 1.6-3.1 1.9-3.1 2-3.1 2.3-3.1 2.4-3.1 2.6-3.1 2.6-3.1 2.7-3.1 2.7-3.1 2.7-3.1 2.7-3.1 2.5-3 2.5-3.1 2.2-3.1 2.1-3 1.9-3.1 1.7-3.1 1.4-3.1 1.1-3.1.9-3.1.6-3.2.4-3.1-.2-3.2-2.4-3.2-4.5-3.2-6.2-3.1-7.4-2.9-8.1-2.8-7.8-2.6-6.8-2.6-4.2-2.7 1.1-2.9 1.6-3.1 2-3.1 2.2-3.2 2.4-3.3 2.5-3.3 2.6-3.4 2.6-3.5 2.7-3.5 2.6-3.5 2.6-3.5 2.4-3.5 2.2-3.5 2.1-3.5 1.8-3.5 1.5-3.5 1.1-3.6.9-3.6.5-3.6.1-3.7-.1-3.8-.4-3.8-.6-3.8-.8-3.9-1.6-3.8-2.5-3.1-3-2.7-3.4-2-3.4-1.4-3.1-.6-2.5.7-1.7 1.5-1.6 2.3-1.8 3.9-1.8 5.1-1.4 4.7-1.1 3.3-1 1.7-.7 1.5-.6 1.5-.4 1.5-.4 1.6-.3 1.7-.4 2-.5 2.2-.5 2.4-.7 2.6-.7 2.8-.7 2.8-.7 2.8-.8 2.7-.8 2.8-.7 2.6-.8 2.6-.7 2.6-.8 2.6-.8 2.7-.8 2.7-.8 2.8-.9 2.8-.9 2.9-.9 3-.9 3-.9 3.1-.9 3.1-1 3.1-.9 3.1-.9 3.1-.9 3.1-.9 3.2-.8 3.1-.9 3.1-.8 3.1-.8 3.1-.8 3.1-.7 3.1-.7 3.1-.7 3.1-.7 3.1-.6 3-.6 3.1-.6 3.1-.6 3.1-.5 3.1-.6 3-.5 3.1-.4 3.1-.5 3.1-.4 3.1-.4 3.1-.4 3.2-.4 3.1-.3 3.1-.3 3.1-.3 3.1-.3 3.1-.2 3.1-.2 3.1-.1 3.1-.1 3 0 3 0 2.9.2 3 .2 3.1.3 3.1.5 3.2.5 3.3.7 3.6.8 3.6.9 3.4 1.2 3.3 1.3 2.9 1.4 2.7 1.5 2.8 1.4 2.7 1.5 3 1.3 3.3 1.2 3.8 1.1 4 1.1 3.9 1.1 3.5 1.1 2.9 1.3 2 1.4.6 1.6-.8 1.7-2.5 1.6-3.8 1.3-4.7.5-5.2-.5-5.2-1.6-5-2.5-4.5-3.3-4-3.7-3.3-4-2.3-3.9-1.4-3.7-.2-3.3 1-2.7 2.3-2.2 3.1-1.8 4-1.4 4.5-1 4.9-.7 4.9-.4 4.8-.2 4.5-.2 4.2 0 3.9 0 3.7.1 3.4 0 3.2.1 3.1.1 2.9.1 2.8.2 2.7.4 2.7.5 2.7.7 2.8.9 2.8 1.1 2.9 1.4 2.9 1.5 3 1.8 3 2 3.1 2 2.9 1.9 2.8 1.8 2.7 1.4 2.4.5 2.4.5 2.2.5 1.9.7 1.4 1 .7 1.4-.1 1.8-.9 2.1-1.3 2.2-1.4 2.2-1.2 2.1-.9 1.9-.8 2-.7 1.9-.6 2-.6 2.1-.7 2.2-.9 2.2-1 2.5-1.4 2.5-1.6 2.6-2 2.6-2.3 2.6-2.7 2.5-3.1 2.4-3.3 2.3-3.7 2.1-3.8 1.8-4 1.6-4 1.2-4-.1-4.2-2-4.2-3.7-4.1-5-3.9-5.8-3.6-6.1-3.3-5.6-3.1-3.8-3 .7-3 1.5-3 1.8-3 2-3.1 2.1-3.1 2.3-3.1 2.3-3.1 2.4-3.1 2.4-3.1 2.4-3 2.4-3.1 2.2-3.1 2.3-3.1 2.1-3.1 2-3 1.9-3.1 1.8-3.1 1.7-3.1 1.5-3.1 1.3-3.1 1.2-3.2 1-3.1.8-3.1.7-3.1.4-3.1-.7-3.1-2.8-3.1-4.8-3.1-6.4-3.1-7.4-3.1-7.9-3.1-7.5-3.2-5.8-3.1-.6-3.2 1.4-3.1 1.8-3.1 2.2-3.1 2.4-3.1 2.5-3.1 2.8-3.1 2.8-3 2.8-3.1 2.9-3 2.8-3.1 2.8-3.1 2.7-3.1 2.5-3.1 2.4-3.2 2.3-3.2 2-3.3 1.9-3.2 1.6-3.3 1.4-3.4 1.2-3.3.9-3.4.6-3.3.4-3.3.1-3.3-.4-3.2-2.3-3.1-4.4-2.7-6.2-2.5-7.5-2.3-8.1-2.2-7.9-2.3-6.2-2.4-1.2-2.9 1.6-3.3 1.9-3.2 2.2-3.3 2.3-3.3 2.4-3.3 2.2-3.3 2.1-3.4 1.9-3.4 1.7-3.5 1.4-3.6 1.1-3.8.8-3.9.5-4.1 0-4.5-.4-4.7-.9-5.1-1.5-5.3-2.1-4.8-2.8-2.5-3.2-.4-3.3 1.6-3.4 2.8-3.3 3.6-3 3.8-2.7 3.8-2.4 3.8-2.1 3.7-1.8 3.6-1.7 3.6-1.5 3.5-1.4 3.4-1.3 3.3-1.2 3.3-1.2 3.3-1.1 3.3-1 3.3-1 3.3-.9 3.3-.9 3.4-.9 3.5-.9 3.6-.8 3.6-.7 3.6-.6 3.5-.5 3.5-.4 3.4-.3 3.3-.2 3.2-.1 3.2 0 3.1 0 3 .2 3 .2 3 .2 2.9.3 2.9.4 3 .4 2.9.4 3 .5 3 .4 3 .5 3.1.6 3 .5 3.1.5 3.2.6 3.1.5 3.1.6 3.1.5 3.2.4 3.1.5 3.1.4 3.1.3 3.1.3 3.1.2 3.1.1 3-.2 3-.4 3.1-.5 3-.4 3-.5 3-.4 3-.5 3.1-.5 3.1-.5 3.1-.6 3.1-.5 3.3-.5 3.2-.5 3.3-.5 3.3-.3 3.2-.1 3.1.1 3.1.3 2.9.6 2.7.9 2.5 1.2 2.4 1.5 2.3 1.6 2.2 1.7 2.1 1.7 2.1 1.6 2.3 1.5 2.6 1.3 3 1 3.5.5 4.1.3 4.6 0 4.6-.1 4.3-.2 3.8-.2 2.8-.2 1.7 0 .1 0-1.4-.1-2.7-.1-3.6-.4-4.1-.9-4.1-1.4-3.9-1.9-3.6-2.4-3.1-2.6-2.6-2.8-1.9-2.8-1.1-2.6-.2-2.4.7-2 1.6-1.7 2.4-1.6 2.9-1.3 3.4-1.1 3.7-1 3.8-.8 3.8-.7 3.7-.6 3.6-.5 3.5-.3 3.3-.2 3.2-.1 3.1 0 3.1 0 2.9.1 2.8.1 2.8.2 2.6.1 2.7.2 2.7.2 2.7.2 2.9.3 2.9.2 3.1.3 3.3.4 3.6.5 3.8.5 4.3.8 4.6.8 5.1 1.2 5.2 1.4 5.1 1.8 4.8 2.2 4.2 2.6 3.4 3.1 2.2 3.5 1 3.7 0 3.8-.9 3.7-2.6 3.1-4.5 2.3-6.3 1.4-7.7.4-8.8-.5-9.2-1.3-8.9-1.7-7.6-.5-3.8.6-1.2 1.1-.7 1.3-.6 1.7-.5 2-.6 2.2-.8 2.5-1 2.7-1.3 2.8-1.6 2.9-2 2.9-2.3 3-2.6 2.8-2.8 2.8-3 2.6-3.1 2.5-3.2 2.2-3.3 2.1-3.2 1.8-3.3 1.5-3.2 1.3-3.3 1-3.1.8-3.2.4-3.1 0-3.1-1.8-3.1-3.8-3.1-5.4-3.1-6.5-3.2-7.1-3.2-6.9-3.1-6-3.2-2.8-3.1 1.2-3.1 1.5-3 1.8-3.1 2.1-3.1 2.1-3.1 2.3-3 2.4-3.1 2.5-3.1 2.4-3.1 2.6-3.1 2.5-3.1 2.6-3.1 2.5-3.1 2.5-3.1 2.4-3.1 2.3-3.1 2.1-3.1 2-3.1 1.8-3 1.5-3.1 1.3-3.1 1-3 .7-3.1.5-3.1 0-3-2-3.1-4.3-3.2-6.4-3.2-7.8-3.2-8.5-3.2-8.4-3.1-7.4-3-4.2-3 1.2-3 1.8-2.9 2.2-3 2.3-3 2.6-3 2.6-3.1 2.8-3.1 2.7-3.2 2.7-3.2 2.7-3.3 2.7-3.3 2.5-3.4 2.4-3.4 2.3-3.4 2.1-3.5 2-3.4 1.7-3.4 1.4-3.4 1.2-3.4.8-3.3.6-3.4.2-3.3-.1-3.3-.5-3.4-1.2-3.2-3.4-2.9-5.1-2.3-6.1-1.8-6.2-1.3-5.7-.7-4.5-.4-2.9-.4-.2-1.4 1.1-2.3 1.3-2.5 1.4-2.9 1.4-3.4 1.4-3.9.9-3.7.1-3-1.1-.6-1.8.8-2.1 1.4-2.3 1.9-2.1 2.1-1.7 2.1-1.6 2.2-1.3 2.2-1.1 2.3-1.1 2.3-.9 2.4-1 2.6-1 2.6-1 2.8-1 2.9-1 2.9-1 3-1.1 3-1 3-1 3-1 3.1-.9 3-1 3.1-1 3.2-.9 3.1-1 3.2-.9 3.1-1 3.2-.9 3.2-.9 3.1-.9 3.1-.9 3.1-.9 3.1-.8 3.1-.8 3-.8 3-.8 3-.7 3-.7 3-.7 3-.6 3-.7 3-.6 2.9-.5 3-.6 3-.5 3.1-.4 3-.5 3-.4 3.1-.4 3.1-.4 3.1-.3 3.1-.4 3.1-.2 3.1-.3 3.1-.2 3.2-.2 3.1-.2 3.2-.2 3.1-.1 3.2-.1 3.2 0 3.2 0 3.1 0 3.1.1 3.1.1 3 .2 3 .2 2.9.3 2.9.4 2.9.4 2.9.4 3 .6 3.1.5 3.4.7 3.5.7 3.8.9 3.9 1 3.7 1.3 3.4 1.6 2.9 1.7 2.7 1.8 2.5 2 2.5 2 2.7 1.9 2.9 1.9 3.3 1.8 3.6 1.6 3.6 1.4 3.4 1.2 3 .8 2.2.6 1.2.4-.2.5-1.7.2-2.8-.4-3.5-1.1-3.5-1.8-3.2-2.2-2.6-2.5-1.9-2.5-1.3-2.2-.6-2-.1-1.7.5-1.3.9-1.1 1.4-.8 1.9-.6 2.1-.6 2.3-.7 2.2-.8 2.2-.9 2.4-1 2.3-1.2 2.4-1.3 2.4-1.2 2.4-1.2 2.4-1 2.4-.8 2.4-.6 2.6-.4 2.5 0 2.7.4 2.6.6 2.8.9 2.8 1 2.8 1.2 2.8 1.2 2.9 1.2 2.9 1.2 2.9 1.1 3 1 3.1.9 3.1.7 3.3.6 3.4.4 3.6.5 3.7.5 3.6.9 3.3 1.1 2.9 1.6 2.2 2.1 1.3 2.5.4 2.9-.1 3-.3 3-.3 2.9-.4 2.8-.6 2.8-.7 2.7-1 2.7-1.3 2.6-1.7 2.6-2 2.5-2.4 2.4-2.9 2.3-3.2 2.2-3.7 2-3.9 1.2-4.8-.4-6-1.9-6.5-3.4-6.6-4.4-6.1-5-5.3-5-4.4-3.7-3.3.3-2.2 1.5-2 1.8-2.3 2.1-2.4 2.3-2.6 2.3-2.8 2.5-2.8 2.5-3 2.6-3 2.5-3 2.4-3.1 2.4-3.1 2.3-3.1 2.2-3.1 2.1-3.1 1.9-3 1.8-3.1 1.6-3.1 1.4-3.1 1.3-3.1 1-3.1.9-3.1.6-3.1.5-3.1.3-3.1-.5-3.1-2.3-3.1-4-3.2-5.3-3.1-6.4-3.1-6.8-3.1-6.6-3.1-5.5-3.1-1.4-3.1.9-3.1 1.4-3.1 1.6-3.1 2-3.1 2.1-3.1 2.4-3.1 2.4-3.1 2.6-3.1 2.6-3.1 2.6-3.1 2.5-3.1 2.6-3.1 2.4-3 2.3-3.1 2.2-3.1 2-3.1 1.8-3.1 1.6-3.1 1.5-3.1 1.1-3.2 1-3.2.7-3.2.5-3.3.3-3.3-.4-3.2-2.1-3.2-4-3-5.4-2.9-6.5-2.7-7-2.5-6.9-2.5-6.1-2.4-3.9-2.6 1-3.2 1.5-3.2 1.8-3.4 2-3.4 2.2-3.4 2.3-3.4 2.4-3.5 2.3-3.5 2.3-3.4 2.2-3.5 2-3.5 1.9-3.5 1.6-3.5 1.3-3.6 1.1-3.6.8-3.8.5-3.8.2-3.8-.1-4-.4-4.2-.7-4.2-1.2-4.5-1.5-4.6-2.1-4.8-2.5-4.9-3.1-4.1-3.1-3.4-3.7.8-3.6 3.2-3.3 5.1-2.8 6.2-2.3 5.9-1.7 5.2-1.3 4.5-.9 4-.6 3.7-.3 3.3-.2 3.2 0 3.1 0 3.2.2 3.2.1 3.2.3 3.3.2 3.3.3 3.2.3 3.2.2 3 .3 2.9.2 2.7.1 2.5-.1 2.5-.4 2.5-.6 2.5-.6 2.5-.6 2.7-.7 2.8-.7 2.9-.8 2.9-.8 3-.8 3.1-.9 3.1-.8 3.2-.9 3.1-.8 3.2-.9 3.2-.9 3.3-.8 3.2-.8 3.2-.8 3.2-.8 3.1-.8 3.2-.7 3.1-.7 3.2-.7 3.1-.7 3.1-.7 3.1-.6 3.1-.6 3-.6 3.1-.6 3.1-.6 3-.6 3.1-.5 3.1-.6 3-.5 3.1-.5 3.1-.5 3-.5 3.1-.5 3.1-.4 3.1-.4 3.1-.4 3.1-.4 3.1-.4 3.1-.3 3.1-.3 3.1-.2 3.1 0 3.1 0 3.1.2 3 .4 3.1.5 3.2.7 3.1.9 3.2 1.1 3.1 1.2 2.9 1.4 2.6 1.5 2.6 1.5 2.6 1.4 2.8 1.3 3 1.2 3.4 1 3.9.8 4.2.6 4.1.7 3.8.7 3.2.9 2.2 1 1 1.1-.6 1.3-2.3 1.2-3.5.9-4.4.3-4.9-.5-5-1.6-4.8-2.3-4.3-3-3.9-3.5-3.2-3.7-2.4-3.7-1.4-3.5-.2-3.1.9-2.6 2-2.2 3-1.8 3.7-1.5 4.2-1.1 4.5-.9 4.6-.6 4.5-.5 4.4-.2 4.1-.2 3.9 0 3.7.1 3.5.2 3.3.2 3.2.1 3 .2 2.9 0 2.8.1 2.7 0 2.6 0 2.7.1 2.7.1 2.8.2 2.9.3 3.2.5 3.3.8 3.6 1.1 3.8 1.3 4 1.7 4.1 2 4 2.1 3.5 2.3 2.8 2.3 1.8 2.2.6 2.2-.4 2.3-1.7 2.5-3.2 2.4-4.7 2.2-5.2 1.8-2.7 1.6-2 1.4-1.6 1.3-1.3 1.4-1 1.3-.9 1.5-.7 1.6-.6 1.8-.7 2-.8 2.2-.9 2.4-1.1 2.5-1.5 2.7-1.7 2.7-2.1 2.7-2.5 2.7-2.7 2.6-3.1 2.4-3.3 2.3-3.5 2.1-3.6 1.9-3.7 1.5-3.6 1.3-3.6 1-3.6.6-3.5-.9-3.5-2.8-3.4-4.4-3.3-5.6-3.3-6.2-3.2-6.3-3.1-5.6-3.1-3.4-3.2 1.1-3.1 1.5-3.1 1.7-3.1 2-3 2.1-3.1 2.2-3.1 2.3-3.1 2.3-3.1 2.3-3 2.4-3.1 2.2-3.1 2.3-3.1 2.2-3.1 2.1-3.1 2.1-3.1 1.9-3.1 1.9-3.1 1.7-3.1 1.6-3.1 1.5-3.1 1.2-3.1 1.1-3.1.9-3.1.6-3.1.3-3.1-1.1-3.1-3.4-3-5.3-3.1-7-3.2-7.9-3.1-8.1-3.2-7.5-3.2-5.2-3.2.4-3.1 1.6-3.1 2-3.1 2.3-3 2.5-3.1 2.7-3 2.7-3 2.8-3.1 2.9-3 2.8-3.1 2.7-3.1 2.7-3.2 2.6-3.2 2.5-3.3 2.3-3.3 2.1-3.3 1.9-3.3 1.8-3.4 1.5-3.4 1.2-3.4 1-3.3.8-3.4.4-3.3.2-3.2-.2-3.2-1-3.2-3.3-2.8-5.5-2.5-7.3-2.4-8.1-2.1-8-1.9-6.7-2-2.6-2.4 1.4-2.9 1.7-3 1.9-2.9 1.9-3 1.9-3 1.7-3 1.5-3.2 1.3-3.4 1.1-3.6.8-3.9.6-4.2.1-4.7-.3-5.1-.9-4.6-1.8-3-2.5-.5-2.8 1-3.1 2.2-3 2.8-2.7 3.1-2.5 3.2-2.2 3.2-2 3.3-1.7 3.2-1.6 3.2-1.5 3.2-1.3 3.2-1.3 3.1-1.3 3.2-1.2 3.1-1.2 3.2-1.1 3.1-1.1 3.3-1.1 3.2-1 3.4-1.1 3.4-1 3.5-.9 3.5-1 3.5-.9 3.5-.9 3.5-.8 3.4-.8 3.4-.8 3.3-.8 3.2-.7 3.2-.6 3.1-.7 3.1-.6 3-.5 3-.5 2.9-.5 3-.5 2.9-.4 2.9-.4 2.9-.4 2.9-.3 2.9-.3 2.9-.3 3-.1 3 0 3 0 3 .2 3.1.2 3.1.2 3.1.4 3.1.4 3.1.4 3.1.6 3.2.5 3.1.6 3.2.7 3.1.6 3.1.7 3.2.7 3.1.7 3.1.6 3 .7 3.1.6 3.1.6 3.1.6 3.1.5 3.1.4 3.2.4 3.2.3 3.3.4 3.3.4 3.2.6 3.1.9 2.9 1.1 2.6 1.4 2.2 1.7 2 1.7 1.8 1.8 1.8 2 1.7 1.9 1.9 1.8 2.1 1.6 2.5 1.3 2.9 1 3.5.4 4.2 0 4.7-.3 4.9-.6 4.6-.8 4.1-.9 3.3-.9 2.1-.9.7-.9-.9-.9-2.2-.9-3-1-3.4-1.1-3.4-1.4-3.2-1.7-2.9-1.8-2.4-2-2-2.1-1.5-2.1-.8-1.9-.1-1.7.6-1.6 1.4-1.3 1.9-1.2 2.4-1.1 2.8-1.1 3-1 3.2-.9 3.2-.9 3.2-.9 3.1-.8 3-.6 3-.6 2.9-.3 2.9-.3 2.8-.1 2.8.1 2.8.2 2.7.3 2.7.4 2.7.5 2.8.5 2.7.5 2.9.6 2.9.5 3 .6 3.2.5 3.4.6 3.7.5 3.9.6 4.3.7 4.7.9 4.8 1.2 4.7 1.4 4.5 1.9 3.9 2.3 3.2 2.8 2.1 3.2 1 3.5.2 3.7-.5 3.5-.8 3.4-1.2 3.2-1.5 2.9-2 2.8-2.4 2.2-3.6 1.5-5.4.4-7-.8-8.2-1.7-8.6-2.6-8.5-3-7.6-2.8-5.9-.4-2.5 1.1-1 1.6-1 1.8-1 2.1-1.2 2.3-1.4 2.4-1.8 2.6-2 2.6-2.3 2.7-2.5 2.7-2.7 2.6-2.9 2.6-3 2.5-3.1 2.3-3.1 2.2-3.1 2-3.2 1.8-3.1 1.6-3.1 1.5-3.1 1.2-3.1 1-3.1.7-3.1.6-3.1.3-3.1-.3-3.1-2-3.1-3.7-3.1-5.1-3.2-6.1-3.1-6.5-3.2-6.4-3.1-5.3-3.1-1.9-3.1 1-3.1 1.3-3.1 1.6-3 1.8-3.1 1.9-3.1 2.1-3.1 2.2-3.1 2.3-3.1 2.4-3.1 2.5-3.1 2.5-3.1 2.5-3.1 2.4-3.1 2.4-3.1 2.3-3.1 2.2-3 2-3.1 1.8-3.1 1.6-3 1.3-3.1 1.2-3.1.9-3 .6-3.1.3-3.2-.2-3.1-2.2-3.2-4.4-3.1-6-3.2-7.3-3.1-7.8-3-7.6-2.8-6.5-2.8-3.5-2.8 1.1-2.9 1.7-3 1.9-3 2.2-3.1 2.3-3.2 2.4-3.2 2.5-3.3 2.5-3.3 2.5-3.4 2.5-3.4 2.5-3.5 2.4-3.5 2.2-3.4 2.1-3.5 1.9-3.4 1.7-3.5 1.4-3.4 1.1-3.5.8-3.5.4-3.5.1-3.5-.1-3.5-.5-3.6-.8-3.6-1.9-3.2-3.1-2.6-3.8-2.1-3.9-1.4-3.9-.8-3.5-.4-2.8 0-1.9.1-.8.1.2-.1.4-.4-.3-.3-1.1.8-1.6 1.3-1.8 1.5-1.5 1.6-1.3 1.5-1 1.6-.9 1.6-.7 1.6-.6 1.8-.6 1.9-.6 2.1-.6 2.3-.8 2.6-.8 2.6-.9 2.8-.8 2.8-.9 2.9-.9 2.9-.9 2.8-.9 2.8-.9 2.7-.9 2.8-.8 2.8-.9 2.9-.9 2.9-.9 2.9-.9 3-1 3-.9 3-.9 3.1-1 3-.9 3.1-.9 3.1-.9 3.1-.9 3.1-.8 3.1-.9 3-.8 3.1-.8 3.1-.7 3-.7 3.1-.7 3-.7 3.1-.7 3-.6 3.1-.6 3.1-.5 3-.6 3.1-.5 3.1-.4 3-.5 3.1-.4 3.1-.4 3.1-.4 3.1-.4 3.2-.3 3.1-.3 3.1-.3 3.1-.3 3.2-.2 3.1-.2 3.2-.1 3.1-.2 3.1-.1 3.1 0 3.1 0 3 0 3 .2 2.9.1 2.9.3 3 .3 3 .4 3.1.5 3.3.6 3.4.7 3.7.8 3.7.9 3.6 1.2 3.2 1.3 3 1.4 2.8 1.6 2.7 1.5 2.8 1.5 2.9 1.4 3.3 1.4 3.7 1.2 3.9 1.1 3.8 1.2 3.5 1.2 2.9 1.3 1.9 1.5.6 1.6-.8 1.7-2.5 1.6-3.8 1.2-4.7.5-5-.7-5.1-1.8-4.7-2.7-4.1-3.3-3.5-3.7-2.6-3.8-1.6-3.6-.7-3.3.4-2.7 1.5-2.3 2.5-1.7 3.4-1.3 4-.9 4.5-.6 4.6-.4 4.5-.4 4.2-.3 3.9-.4 3.6-.4 3.3-.5 3.1-.4 3-.4 2.8-.3 2.7-.2 2.7.1 2.7.4 2.7.6 2.7 1 2.8 1.2 2.8 1.4 2.9 1.6 2.9 1.7 2.9 1.5 2.9 1.5 2.9 1.3 2.9 1.2 2.9 1 2.9.7 2.9.6 3 .4 3 .4 2.7.6 2.4.8 2 1.2 1.2 1.6.4 2.1-.3 2.4-.9 2.5-.9 2.5-.7 2.4-.7 2.3-.5 2.2-.6 2.3-.7 2.3-.8 2.4-.9 2.4-1.2 2.5-1.5 2.5-1.8 2.5-2.2 2.6-2.6 2.5-2.9 2.4-3.3 2.3-3.6 2.1-3.9 1.9-4.1 1.6-4.2.3-4.7-1.5-5-3.2-4.9-4.6-4.7-5.6-4.2-5.9-3.7-5.5-3.4-3.9-3 .7-2.7 1.5-2.7 1.9-2.9 2-2.9 2.3-3 2.3-3.1 2.5-3.1 2.5-3.1 2.5-3.1 2.5-3 2.5-3.1 2.4-3.1 2.4-3.1 2.2-3.1 2.2-3 2-3.1 1.8-3.1 1.8-3.1 1.5-3.1 1.4-3.1 1.2-3.1 1-3.1.8-3.1.6-3.1.4-3.2-.7-3.1-2.8-3.1-4.8-3.1-6.5-3.1-7.6-3.1-8.1-3.1-7.7-3.1-6.2-3.1-.8-3.1 1.3-3.2 1.8-3.1 2.2-3.1 2.4-3.2 2.7-3.1 2.8-3 2.9-3.1 3-3.1 3-3.1 3-3 3-3.1 2.8-3.1 2.8-3 2.6-3.2 2.4-3.1 2.2-3.2 2.1-3.2 1.7-3.3 1.6-3.2 1.3-3.4 1-3.3.7-3.3.4-3.3.2-3.4-.4-3.2-2.5-3.1-4.6-2.8-6.3-2.6-7.6-2.4-8.3-2.2-8.1-2.3-6.9-2.3-3-2.8 1.4-3.3 2-3.4 2.3-3.4 2.5-3.4 2.6-3.4 2.6-3.5 2.6-3.4 2.4-3.5 2.2-3.5 2-3.5 1.7-3.7 1.4-3.7 1.1-3.9.7-4 .4-4.2 0-4.4-.5-4.6-1-4.9-1.5-5.2-2.1-5.3-2.8-4.7-3.5-1-3.4-.1-3.4 1.8-3.5 3.2-3.3 3.9-3 4.1-2.7 4-2.3 3.9-2.1 3.8-1.8 3.7-1.7 3.7-1.4 3.5-1.2 3.5-1.1 3.4-1 3.4-.9 3.4-.7 3.4-.6 3.4-.5 3.4-.4 3.5-.3 3.5-.2 3.5-.1 3.5 0 3.4 0 3.4.2 3.3.2 3.2.2 3.1.4 3.1.3 3 .4 2.9.4 3 .4 2.9.5 3 .4 2.9.4 3 .4 3 .4 3.1.3 3.1.3 3.1.3 3.2.1 3.1.2 3.2 0 3.2-.1 3.2-.5 3.2-.5 3.2-.5 3.1-.5 3.1-.6 3.1-.5 3.1-.5 3.1-.5 3.1-.5 3-.5 3.1-.5 3-.5 3.1-.5 3-.5 3-.5 3.1-.5 3-.5 3-.6 3.1-.5 3-.5 3.1-.5 3.1-.5 3.2-.5 3.2-.5 3.2-.4 3.2-.4 3.2-.3 3.2-.1 3.1.1 3.1.3 2.9.6 2.9.8 2.7 1.1 2.7 1.3 2.6 1.4 2.4 1.6 2.3 1.6 2.3 1.6 2.5 1.4 2.6 1.3 3.1 1 3.5.7 4 .4 4.4.3 4.5.1 4.1.2 3.5.2 2.6.3 1.4.4-.2.6-1.7.4-3.1.3-3.9 0-4.5-.7-4.5-1.4-4.4-2.1-3.9-2.6-3.6-3-2.9-3.3-2.2-3.2-1.3-3.1-.3-2.7.8-2.3 1.8-2 2.6-1.7 3.2-1.4 3.8-1.2 4.1-1 4.2-.7 4.2-.6 4-.4 3.9-.3 3.7-.1 3.6-.1 3.4.1 3.2.1 3.2.1 3 .1 2.8.1 2.8.1 2.7 0 2.6 0 2.7.1 2.7 0 2.8.1 2.9.1 3.2.3 3.3.3 3.7.4 4 .7 4.3.8 4.8 1 5.2 1.3 5.3 1.7 5.2 1.9 4.8 2.5 4 2.8 2.8 3.3 1.4 3.6-.4 3.8-2.6 3.5-4.8 3-6.9 2-8.3 1.1-8.9.2-8.7-.3-7.6.1-3.5.7-1.4.8-1 1.1-.7 1.3-.4 1.6-.4 2-.5 2.2-.5 2.5-.8 2.6-1.1 2.8-1.4 2.9-1.8 3-2.2 2.9-2.4 2.9-2.8 2.8-3 2.6-3.2 2.5-3.4 2.2-3.3 2-3.4 1.7-3.4 1.5-3.4 1.1-3.3.9-3.3.6-3.2 0-3.2-1.7-3.2-3.7-3.1-5.2-3.2-6.4-3.1-6.9-3.2-6.8-3.1-5.7-3.2-2.7-3.1 1.1-3.1 1.7-3.1 1.8-3.1 2.1-3 2.2-3.1 2.2-3.1 2.4-3.1 2.4-3 2.4-3.1 2.4-3.1 2.4-3.1 2.3-3.1 2.4-3.1 2.2-3.1 2.2-3.1 2.1-3.1 2-3.1 1.8-3.1 1.7-3.1 1.4-3.1 1.2-3.1 1-3 .7-3.1.4-3.1.1-3-1.7-3.1-4-3.1-5.9-3.2-7.2-3.2-8.1-3.2-8-3.2-7-3.1-4.1-3.1 1.2-3.1 1.7-2.9 2.1-3 2.3-3 2.4-3 2.6-3.1 2.6-3 2.6-3.1 2.6-3.2 2.6-3.2 2.6-3.2 2.4-3.3 2.3-3.3 2.2-3.4 2-3.3 1.8-3.4 1.7-3.4 1.4-3.4 1.2-3.4.9-3.3.7-3.3.4-3.3.1-3.2-.3-3.3-.6-3.2-2.4-3-4.6-2.6-6-2.3-6.8-1.9-6.5-1.6-5.6-1.3-3.5-1.3.4-2.2 1.1-2.4 1.3-2.5 1.2-2.6 1.3-2.8 1.1-3.1 1.1-3.5 1-3.9.7-4.3.2-4.1-.8-2.4-1.5-.7-2.2.7-2.5 1.6-2.5 2.2-2.4 2.3-2.1 2.5-1.8 2.5-1.6 2.6-1.4 2.7-1.3 2.6-1.2 2.8-1.1 2.7-1.2 2.9-1.1 2.9-1.2 3-1.1 3-1.1 3.1-1.1 3-1.1 3.2-1 3.1-1.1 3.2-1 3.3-1 3.3-1 3.3-1 3.3-1 3.3-.9 3.3-.9 3.3-.9 3.2-.9 3.2-.9 3.2-.8 3.1-.8 3.1-.7 3-.8 3-.7 3-.6 3-.7 2.9-.6 3-.6 2.9-.5 2.9-.5 3-.5 2.9-.5 3-.4 3-.4 3-.3 3-.4 3.1-.3 3-.3 3.1-.2 3.1-.3 3.1-.2 3.1-.1 3.1-.2 3.2-.1 3.1-.1 3.2-.1 3.2 0 3.1 0 3.2 0 3.2.1 3.2.1 3.1.2 3.1.2 3.1.4 3 .4 3 .5 2.9.6 3 .6 2.9.7 3 .8 3 .8 3.2 1 3.3 1 3.3 1.3 3.5 1.5 3.2 1.7 3 2 2.6 2.2 2.3 2.4 2 2.3 2.1 2.4 2.1 2.3 2.5 2 2.8 1.8 3.4 1.4 3.9.9 4 .5 4-.1 3.7-.5 3.1-.9 2.1-1 .8-1.2-.8-1.3-1.9-1.5-2.5-1.7-2.7-1.5-2.9-1.5-2.5-1.5-2.2-1.6-1.8-1.5-1.4-1.5-.9-1.4-.5-1.3.1-1.2.7-1.1 1.2-.9 1.6-.9 2-.9 2.3-.9 2.4-1 2.6-1 2.7-1.1 2.6-1.1 2.6-1.1 2.6-1 2.7-.8 2.6-.7 2.6-.5 2.6-.2 2.7 0 2.7.3 2.7.5 2.7.7 2.8.8 2.7.9 2.9.9 2.8 1 2.9.9 3 .9 3.1.8 3.2.7 3.3.7 3.5.5 3.8.6 4.1.6 4.2.8 4.1 1.1 3.8 1.4 3.3 1.9 2.6 2.4 1.7 2.8.7 3.1.1 3.3-.3 3.3-.5 3.1-.6 3-.9 2.9-1.2 2.8-1.5 2.7-1.9 2.5-2.3 2.4-2.6 2.3-3.1 2.1-3.4 1.5-4.4.3-6-1-7-2.4-7.4-3.4-7.2-4.1-6.5-4.2-5.4-3.2-4 .2-1.9 1.4-1.5 1.8-1.7 2-2 2.2-2.2 2.3-2.4 2.4-2.5 2.5-2.8 2.5-2.8 2.6-3 2.5-3 2.4-3.1 2.3-3.1 2.3-3.1 2.1-3.1 1.9-3.1 1.8-3 1.7-3.1 1.5-3.1 1.2-3.1 1.1-3.1.9-3.1.7-3.1.5-3.1.3-3.1-.5-3.1-2.2-3.1-3.9-3.1-5.3-3.2-6.2-3.1-6.6-3.1-6.5-3.1-5.3-3.1-1.4-3.1.9-3.1 1.3-3.1 1.5-3.1 1.9-3.1 2-3.1 2.2-3.1 2.4-3.1 2.5-3.1 2.5-3.1 2.6-3.1 2.7-3.1 2.5-3.1 2.5-3 2.4-3.1 2.3-3.1 2.1-3 2-3.1 1.7-3.1 1.5-3.1 1.3-3.1 1.1-3.2.8-3.1.5-3.2.3-3.2-.4-3.3-2.4-3.2-4.3-3.1-6-2.9-7-2.9-7.5-2.6-7.3-2.6-6.3-2.5-3.6-2.7 1.1-3 1.6-3.1 1.8-3.2 2.2-3.3 2.2-3.4 2.4-3.4 2.5-3.4 2.5-3.5 2.6-3.5 2.4-3.5 2.4-3.5 2.2-3.5 2-3.5 1.8-3.5 1.5-3.6 1.2-3.6.9-3.6.6-3.7.3-3.8 0-3.8-.3-4-.5-4-.9-4.1-1.1-4.2-1.7-4.2-2.4-3.9-3.1-3.2-3.4-2.4-3.4-.9-2.9.8-2.6 2-2.6 4.2-2.4 5.8-1.9 6.1-1.3 5.1-.9 4-.4 3.3-.3 2.6 0 2.3 0 2.1.1 2.1-.2 2-.3 2.3-.5 2.4-.5 2.6-.5 2.8-.7 2.8-.6 2.8-.7 2.7-.6 2.7-.7 2.6-.6 2.6-.7 2.5-.7 2.5-.7 2.6-.7 2.6-.8 2.7-.7 2.8-.9 2.9-.8 2.9-.9 3-.9 3-.8 3.1-.9 3.1-.9 3.1-.9 3.2-.9 3.1-.9 3.2-.8 3.2-.9 3.1-.8 3.2-.8 3.1-.8 3.1-.7 3.2-.8 3.1-.7 3.1-.7 3.1-.6 3-.6 3.1-.7 3.1-.5 3.1-.6 3-.6 3.1-.5 3.1-.5 3.1-.5 3.1-.5 3.1-.5 3.1-.4 3.1-.4 3.1-.4 3.1-.4 3.1-.4 3.1-.3 3.1-.3 3.1-.2 3.1-.3 3.1-.1 3-.2 3 0 3 0 3.1.2 3 .3 3.1.4 3.2.5 3.3.7 3.4.8 3.4 1 3.4 1.1 3.1 1.3 2.8 1.5 2.7 1.4 2.7 1.5 2.8 1.4 3 1.2 3.4 1.1 3.8 1 4 1 4 .9 3.7 1 2.9 1.2 2 1.3.8 1.5-.8 1.7-2.5 1.5-3.7 1.2-4.6.5-5.2-.5-5.2-1.6-5-2.5-4.5-3.2-4-3.7-3.3-3.9-2.5-3.9-1.4-3.7-.3-3.3 1-2.7 2.2-2.3 3.1-1.8 3.9-1.5 4.4-1.2 4.7-.8 4.8-.6 4.7-.4 4.5-.1 4.2-.1 4 .1 3.8.2 3.6.2 3.3.2 3.2.2 3 .1 2.9.2 2.8.1 2.7.2 2.6.3 2.7.5 2.8.6 2.8.9 3 1 3 1.4 3.2 1.6 3.3 1.9 3.3 2 3.2 2.1 3.1 2.1 2.7 1.9 2 1.6 1.4 1.3.7 1 .5 1 .3 1.3-.5 1.7-1.3 1.9-1.7 2.1-1.7 2-1.5 1.8-1.2 1.7-.9 1.7-.8 1.7-.6 1.8-.6 1.9-.6 2-.6 2.2-.8 2.3-1 2.5-1.3 2.6-1.5 2.6-2 2.8-2.3 2.6-2.7 2.7-3 2.5-3.3 2.3-3.6 2.1-3.8 1.9-3.9 1.7-3.9 1.3-3.9.9-3.8-.7-3.9-2.6-3.9-4.2-3.7-5.5-3.5-6.2-3.4-6.3-3.2-5.6-3.1-3.4-3 1-3.1 1.6-3 1.8-3.1 2.1-3.1 2.2-3.1 2.3-3.1 2.3-3.1 2.4-3.1 2.4-3.1 2.4-3 2.3-3.1 2.3-3.1 2.2-3.1 2.1-3.1 2-3 1.9-3.1 1.8-3.1 1.7-3.1 1.5-3.2 1.3-3.1 1.2-3.1 1-3.1.8-3.1.6-3.1.4-3.1-1.1-3.1-3.1-3.1-5.1-3.1-6.7-3.1-7.6-3.1-7.9-3.2-7.3-3.1-5.3-3.2.2-3.1 1.6-3.2 1.9-3.1 2.2-3 2.4-3.1 2.6-3.1 2.7-3 2.8-3.1 2.8-3 2.8-3.1 2.7-3.1 2.7-3.1 2.6-3.1 2.4-3.2 2.3-3.2 2.1-3.3 2-3.3 1.7-3.3 1.5-3.3 1.3-3.4 1-3.3.8-3.3.5-3.4.3-3.3 0-3.2-.7-3.2-2.7-2.9-4.7-2.7-6.5-2.4-7.6-2.3-7.9-2.2-7.3-2.2-5-2.5.8-3 1.6-3.2 2-3.2 2-3.2 2.1-3.2 2.1-3.2 1.9-3.2 1.7-3.4 1.5-3.3 1.3-3.6.9-3.7.7-3.9.3-4.2 0-4.6-.5-4.9-1-5.2-1.7-4.7-2.3-3.8-2.9-.5-3.3 1.4-3.3 2.5-3.3 3.4-3 3.5-2.7 3.6-2.4 3.7-2.1 3.6-1.9 3.5-1.8 3.5-1.5 3.5-1.5 3.4-1.4 3.3-1.3 3.3-1.2 3.2-1.2 3.3-1.1 3.2-1.1 3.3-1 3.4-1 3.4-1 3.5-.9 3.6-.9 3.6-.9 3.6-.9 3.6-.8 3.6-.7 3.5-.7 3.4-.7 3.3-.6 3.2-.6 3.2-.4 3.1-.3 3-.3 3-.1 3 0 2.9 0 2.9.2 2.9.2 2.9.3 2.9.3 2.9.5 2.9.4 3 .6 3.1.5 3 .6 3.1.7 3.1.7 3.1.6 3.1.8 3.1.7 3.2.7 3.1.7 3.1.7 3.1.6 3.1.7 3.1.6 3.1.5 3 .4 3.1.4 3 .3 3 .2 3 .1 3.1-.1 3-.3 3.1-.5 3.2-.6 3.2-.6 3.3-.5 3.4-.5 3.3-.4 3.3-.2 3.1.1 3 .3 2.9.6 2.6 1 2.4 1.3 2.2 1.5 2 1.7 2 1.7 2 1.8 2 1.7 2.2 1.5 2.6 1.3 3 .9 3.5.5 4.2.1 4.6-.1 4.7-.4 4.5-.4 3.9-.5 3-.4 1.9-.4.3-.4-1.3-.3-2.4-.5-3.4-.6-3.8-1-3.9-1.4-3.6-1.8-3.3-2.1-2.9-2.4-2.4-2.6-1.7-2.5-1.1-2.4-.1-2.1.7-1.8 1.5-1.6 2.2-1.4 2.8-1.3 3.1-1 3.5-1 3.6-.9 3.5-.8 3.5-.7 3.4-.6 3.3-.4 3.2-.3 3.2-.3 3-.1 2.9 0 2.9.1 2.8.2 2.7.2 2.7.2 2.7.3 2.7.4 2.8.3 2.8.4 2.9.4 3.1.5 3.3.4 3.5.5 3.7.6 4.1.7 4.5.9 4.8 1 5 1.3 4.9 1.7 4.6 2 4 2.5 3.2 2.9 2.1 3.3.9 3.7 0 3.7-.7 3.5-1.3 3.4-1.8 2.9-3.1 2.3-4.9 1.4-6.4.5-7.7-.4-8.4-1.3-8.6-1.8-8-1.9-6.6-.3-3 .9-1.1 1.2-.9 1.6-.9 1.8-.9 2.1-1 2.3-1.3 2.4-1.6 2.6-1.8 2.6-2.1 2.7-2.4 2.7-2.6 2.6-2.9 2.5-2.9 2.4-3.1 2.3-3.2 2.1-3.1 2-3.2 1.7-3.2 1.5-3.2 1.3-3.2 1.1-3.1.8-3.1.7-3.1.3-3.1-.1-3.1-1.9-3.1-3.6-3.1-5-3.2-6-3.1-6.4-3.2-6.2-3.1-5.2-3.1-1.9-3.2 1.1-3 1.3-3.1 1.7-3.1 1.8-3.1 1.9-3 2.1-3.1 2.2-3.1 2.2-3.1 2.3-3.1 2.4-3.1 2.4-3.1 2.4-3.1 2.5-3.1 2.3-3.1 2.3-3.1 2.2-3.1 2-3.1 1.9-3 1.6-3.1 1.5-3 1.2-3.1.9-3.1.7-3 .5-3.1-.1-3.1-2.2-3.2-4.5-3.1-6.3-3.2-7.6-3.2-8.2-3.1-8-3-6.8-3-3.4-2.9 1.3-2.9 1.7-2.9 2.1-3 2.2-3 2.5-3.1 2.5-3.1 2.7-3.2 2.6-3.3 2.7-3.3 2.6-3.3 2.6-3.4 2.6-3.4 2.4-3.5 2.2-3.4 2.1-3.5 1.9-3.4 1.7-3.5 1.4-3.4 1.1-3.4.8-3.4.4-3.4.1-3.4-.3-3.4-.6-3.4-1.9-3.2-3.9-2.7-5.1-2.1-5.7-1.3-5.4-.8-4.9-.2-3.8.1-2.5.1-.9-.5 1.2-2.3 1.7-2.9 1.7-3.4 1.3-3.3.6-3.4-.7-.5-1.5.6-2 1.3-2 1.7-1.9 1.9-1.6 1.8-1.4 2-1.1 1.9-1 2.1-.9 2.1-.8 2.2-.9 2.4-.8 2.6-.9 2.6-1 2.8-.9 2.9-1 2.9-1 3-.9 2.9-1 3-.9 2.9-1 3-.9 3-.9 3-.9 3.1-1 3-.9 3.1-.9 3.1-.9 3.1-.9 3.1-.9 3.1-.9 3-.8 3.1-.9 3.1-.8 3.1-.8 3-.8 3.1-.7 3-.7 3-.7 3-.7 3-.6 3-.7 3-.5 3.1-.6 3-.5 3-.5 3.1-.5 3-.5 3.1-.4 3.1-.4 3-.3 3.1-.4 3.1-.3 3.2-.3 3.1-.3 3.1-.2 3.1-.2 3.2-.2 3.1-.2 3.2-.1 3.2-.1 3.1-.1 3.1-.1 3.2 0 3 .1 3.1.1 3 .1 3 .2 2.9.3 2.9.3 2.9.4 3 .5 3.2.5 3.3.6 3.4.7 3.7.8 3.8 1 3.6 1.2 3.4 1.3 3 1.5 2.8 1.5 2.7 1.6 2.7 1.6 2.9 1.6 3.2 1.5 3.5 1.4 3.8 1.5 3.7 1.4 3.4 1.3 2.8 1.2 2 1.2.8 1.2-.6 1.3-2.3 1-3.4.5-4.1-.4-4.3-1.3-4.1-2.1-3.5-2.7-2.9-3-2.1-3-1.4-2.9-.5-2.5.1-2.2.9-1.8 1.7-1.3 2.3-1 2.9-.7 3.3-.5 3.5-.4 3.5-.5 3.4-.6 3.1-.8 2.9-.9 2.6-1.1 2.5-1.2 2.4-1 2.4-.8 2.5-.7 2.5-.3 2.5 0 2.7.4 2.6.7 2.8.9 2.8 1.1 2.8 1.3 2.9 1.3 2.8 1.4 2.9 1.3 2.9 1.3 3 1.2 3 1 3 .8 3.1.6 3.2.5 3.4.4 3.3.4 3.3.7 2.9 1 2.5 1.5 1.9 1.8.9 2.4.2 2.6-.3 2.8-.5 2.8-.4 2.8-.3 2.6-.4 2.7-.6 2.6-.7 2.6-.9 2.6-1.3 2.6-1.6 2.6-2 2.6-2.3 2.5-2.9 2.5-3.2 2.3-3.6 2.2-3.9 1.9-4.2.7-5-1-5.9-2.8-6.2-4.2-5.9-5.4-5.4-5.9-4.6-5.5-3.8-3.9-3.1.7-2.2 1.6-2.4 2-2.5 2.2-2.7 2.4-2.8 2.5-2.9 2.6-3 2.7-3 2.7-3.1 2.6-3 2.7-3.1 2.5-3.1 2.5-3.1 2.4-3.1 2.3-3 2.1-3.1 1.9-3.1 1.7-3.1 1.6-3.1 1.4-3.1 1.1-3.1 1-3.1.8-3.1.5-3.1.3-3.1-.7-3.1-2.9-3.2-4.8-3.1-6.3-3.1-7.5-3.1-7.9-3.1-7.7-3.1-6-3.1-.9-3.1 1.2-3.1 1.7-3.1 2-3.1 2.4-3.2 2.5-3.1 2.8-3.1 2.9-3.1 2.9-3.1 3-3.1 3-3 2.9-3.1 2.9-3 2.7-3.1 2.6-3.1 2.4-3.1 2.3-3.1 2-3.1 1.7-3.2 1.6-3.2 1.2-3.3 1-3.2.8-3.3.4-3.3.2-3.3-.6-3.3-2.6-3.1-4.6-2.9-6.2-2.8-7.4-2.5-7.8-2.4-7.8-2.3-6.6-2.3-3.5-2.7 1.3-3.3 1.8-3.3 2.1-3.4 2.4-3.5 2.5-3.5 2.6-3.4 2.6-3.5 2.5-3.5 2.4-3.5 2.3-3.5 2-3.5 1.8-3.6 1.4-3.7 1.2-3.7.8-3.8.6-3.9.2-4.1-.2-4.2-.5-4.4-1-4.5-1.4-4.8-1.9-4.9-2.5-5.1-3-4.3-3.4-2.3-3.5 0-3.7 2.1-3.5 3.7-3.3 4.7-2.8 5.1-2.3 4.8-1.8 4.6-1.6 4.2-1.2 4-.9 3.7-.7 3.6-.5 3.4-.4 3.5-.3 3.4-.1 3.4-.1 3.4.1 3.4.2 3.5.2 3.3.3 3.3.3 3.2.4 3.1.4 3 .5 2.8.4 2.8.4 2.7.4 2.7.3 2.7.2 2.8.2 2.8-.1 2.9-.3 2.9-.7 3.1-.7 3.1-.7 3.1-.7 3.2-.8 3.2-.8 3.2-.7 3.3-.8 3.2-.8 3.2-.7 3.2-.7 3.2-.7 3.2-.7 3.2-.7 3.1-.7 3.2-.6 3.1-.6 3.1-.7 3-.6 3.1-.5 3.1-.6 3-.6 3.1-.6 3.1-.5 3-.6 3.1-.5 3-.5 3.1-.6 3-.5 3.1-.5 3-.5 3.1-.5 3.1-.5 3.1-.4 3.2-.4 3.1-.4 3.2-.4 3.1-.3 3.1-.1 3.2-.1 3 .2 3.1.3 3 .5 3.1.8 3 .9 3 1.2 2.9 1.3 2.7 1.4 2.5 1.5 2.5 1.5 2.6 1.4 2.7 1.3 3.1 1.1 3.4.8 4 .7 4.2.5 4.3.5 3.9.5 3.3.7 2.3.7 1.1 1-.5 1-2 1-3.4.8-4.3.2-4.8-.6-4.9-1.4-4.7-2.3-4.3-2.9-3.8-3.4-3.1-3.5-2.4-3.7-1.4-3.4-.3-3 .8-2.5 2-2.2 2.9-1.8 3.5-1.5 4.1-1.1 4.4-1 4.6-.6 4.5-.5 4.2-.3 4.1-.1 3.9-.1 3.7.1 3.5.2 3.3.1 3.2.2 3 .1 2.9.1 2.8 0 2.7 0 2.6 0 2.7 0 2.7.1 2.8 0 2.9.2 3.2.3 3.3.4 3.7.5 4 .8 4.3 1.2 4.6 1.5 4.8 2 4.5 2.2 3.9 2.5 3 2.6 1.8 2.7.6 2.9-.8 3-2.7 3-4.9 2.7-6.6 2-7.5 1.3-6.6 1.1-2.7 1.1-1.8 1-1.3 1.1-1 1.2-.8 1.4-.6 1.6-.6 1.7-.5 2.1-.6 2.3-.9 2.4-1 2.7-1.4 2.7-1.7 2.8-2 2.8-2.5 2.8-2.7 2.6-3 2.6-3.3 2.3-3.4 2.2-3.5 1.9-3.5 1.6-3.6 1.4-3.5 1-3.5.8-3.4.3-3.4-1.4-3.3-3.3-3.2-4.8-3.2-5.9-3.2-6.4-3.2-6.4-3.1-5.4-3.1-2.6-3.2 1.1-3.1 1.6-3.1 1.8-3.1 2-3 2.1-3.1 2.2-3.1 2.3-3.1 2.3-3 2.2-3.1 2.3-3.1 2.3-3.1 2.2-3.1 2.2-3.1 2.1-3.1 2-3.1 1.9-3.1 1.8-3.1 1.7-3.1 1.6-3.1 1.4-3.1 1.2-3.1.9-3.1.8-3.1.5-3.1.2-3-1.5-3.1-3.7-3.1-5.5-3.1-6.9-3.2-7.7-3.2-7.8-3.2-6.9-3.2-4.3-3.1 1-3.1 1.7-3 2-3.1 2.2-3 2.4-3 2.6-3.1 2.6-3 2.6-3 2.7-3.1 2.6-3.2 2.5-3.1 2.5-3.2 2.4-3.3 2.2-3.3 2.1-3.3 1.9-3.3 1.8-3.4 1.5-3.4 1.3-3.3 1.1-3.4.9-3.3.5-3.3.3-3.3 0-3.2-.3-3.2-1.6-3.1-3.9-2.8-5.8-2.4-7.1-2.3-7.4-2-6.9-1.8-5.1-1.8-.4-2.5 1.3-2.8 1.6-2.7 1.5-2.8 1.6-2.8 1.4-2.9 1.3-3.1 1.1-3.3 1-3.5.8-4 .4-4.4.2-4.7-.5-4.5-1.4-2.9-2.1-.7-2.6 1-2.8 1.9-2.8 2.6-2.7 2.8-2.3 2.9-2.1 3-1.8 3-1.6 3-1.5 3-1.3 3-1.3 3.1-1.3 3-1.2 3.1-1.2 3.1-1.1 3.1-1.2 3.1-1 3.2-1.1 3.2-1.1 3.2-1 3.4-1 3.4-1 3.4-.9 3.4-1 3.5-.9 3.4-.9 3.4-.8 3.3-.8 3.3-.8 3.2-.8 3.2-.7 3.1-.7 3.1-.6 3-.7 3-.6 3-.5 2.9-.5 2.9-.5 2.9-.5 3-.4 2.9-.4 2.9-.4 2.9-.4 3-.3 3-.3 3-.3 3-.2 3.1-.2 3-.2 3.1-.2 3.1 0 3.1 0 3.1.1 3.2.2 3.1.3 3.2.3 3.1.3 3.2.5 3.1.4 3.2.6 3.1.5 3.2.6 3.1.6 3.1.7 3 .6 3.1.6 3 .7 3.1.6 3.1.6 3.2.6 3.1.8 3.2.8 3.1 1 3.1 1.3 2.9 1.5 2.6 1.9 2.4 2.2 2 2.3 1.8 2.5 1.6 2.5 1.6 2.3 1.8 2.2 2.2 1.8 2.6 1.2 3.4.5 4.1.1 4.7-.4 4.9-.6 4.6-.9 4.2-1.1 3.4-1.1 2.3-1.1.8-1.2-.8-1.1-2-1.2-2.8-1.2-3.2-1.2-3.2-1.5-2.9-1.5-2.6-1.7-2.2-1.8-1.7-1.9-1.3-1.8-.7-1.7 0-1.5.7-1.3 1.2-1.2 1.8-1 2.3-1.1 2.5-1 2.8-.9 3-1 2.9-1.1 3-.9 2.9-.9 2.8-.8 2.9-.7 2.8-.5 2.8-.3 2.7-.1 2.8 0 2.7.3 2.7.3 2.7.5 2.7.6 2.8.7 2.8.7 2.8.7 2.9.6 3.1.7 3.1.6 3.3.6 3.6.6 3.8.6 4.1.6 4.5.8 4.6 1 4.5 1.3 4.3 1.7 3.8 2.2 3 2.6 2 3.1 1 3.4.2 3.6-.2 3.5-.6 3.3-.9 3.2-1.2 3-1.7 2.8-2 2.6-2.4 2.5-2.8 1.9-4.1.8-6-.3-7.3-1.6-8.3-2.6-8.4-3.4-8-3.7-6.8-3.1-5 0-1.9 1.4-1.1 1.7-1.1 1.9-1.3 2.3-1.5 2.4-1.8 2.5-2.1 2.6-2.4 2.7-2.5 2.7-2.8 2.7-2.9 2.6-2.9 2.6-3.1 2.4-3.1 2.3-3.1 2.2-3.1 1.9-3.1 1.8-3.1 1.6-3.1 1.4-3.1 1.1-3.1 1-3.1.7-3.1.5-3.1.3-3-.5-3.2-2.3-3.1-4.1-3.1-5.4-3.2-6.4-3.1-6.8-3.1-6.5-3.2-5.3-3.1-1.4-3.1 1-3 1.4-3.1 1.6-3.1 1.9-3.1 2-3.1 2.2-3.1 2.3-3.1 2.5-3.1 2.5-3.1 2.6-3.1 2.7-3.1 2.6-3.1 2.5-3.1 2.4-3 2.4-3.1 2.1-3.1 2-3 1.8-3.1 1.6-3.1 1.4-3.1 1-3.1.9-3.1.5-3.1.3-3.2-.4-3.1-2.6-3.2-4.6-3.2-6.3-3.1-7.4-3-7.8-2.8-7.5-2.7-6.3-2.7-3-2.7 1.2-3 1.7-3 2-3.1 2.1-3.2 2.4-3.2 2.4-3.3 2.5-3.4 2.5-3.4 2.5-3.4 2.5-3.5 2.5-3.5 2.3-3.5 2.2-3.5 2-3.4 1.7-3.5 1.5-3.5 1.2-3.5.9-3.5.5-3.6.2-3.6 0-3.6-.4-3.7-.6-3.7-.8-3.7-1.8-3.4-2.7-2.8-3.2-2.3-3.4-1.7-3.4-1.1-3-.6-2.4 0-1.5.9-1 1.6-1 1.9-1.4 3.2-1.5 3.6-1.6 2-1.4 1.7-1.1 1.6-.8 1.5-.7 1.5-.5 1.6-.4 1.6-.4 1.8-.5 2-.5 2.3-.7 2.4-.6 2.7-.8 2.7-.8 2.8-.8 2.8-.8 2.8-.8 2.8-.8 2.7-.8 2.7-.8 2.6-.8 2.7-.8 2.7-.9 2.8-.8 2.8-.9 2.9-.9 3-.9 2.9-1 3.1-.9 3-.9 3.1-1 3.1-.9 3.1-.9 3.1-.9 3.2-.9 3.1-.9 3.1-.8 3.1-.8 3.1-.8 3.1-.8 3-.7 3.1-.7 3.1-.7 3.1-.7 3-.6 3.1-.6 3.1-.6 3-.5 3.1-.6 3.1-.5 3.1-.5 3.1-.4 3.1-.5 3.1-.4 3.1-.4 3.1-.3 3.2-.4 3.1-.3 3.1-.3 3.2-.2 3.1-.2 3.1-.2 3.1-.1 3.1-.1 3 0 3 0 2.9.1 3 .2 2.9.3 3.1.3 3.1.5 3.2.5 3.4.7 3.7.7 3.7 1 3.6 1.1 3.3 1.2 3 1.4 2.8 1.5 2.7 1.5 2.8 1.5 3 1.3 3.3 1.3 3.7 1.2 3.9 1.2 3.9 1.1 3.4 1.3 2.9 1.4 1.8 1.5.6 1.8-.9 1.8-2.6 1.8-3.9 1.3-4.7.6-5.2-.5-5.3-1.6-5.1-2.6-4.6-3.4-4-3.8-3.2-4-2.4-4-1.2-3.7-.1-3.3 1.3-2.6 2.5-2.1 3.4-1.7 4.2-1.2 4.7-.8 4.9-.6 5-.3 4.7-.2 4.4-.1 4.1-.1 3.8-.1 3.5-.1 3.3-.1 3.1-.1 2.9 0 2.8.1 2.8.3 2.7.5 2.7.7 2.8.9 2.7 1.2 2.9 1.4 2.8 1.6 3 1.8 2.9 1.9 3 2 2.9 1.9 2.8 1.5 2.8.8 2.7.6 2.8.4 2.7.4 2.4.5 2.1.7 1.6 1.1.9 1.5.1 1.9-.7 2.2-1.1 2.3-1.1 2.3-1 2.2-.9 2.1-.6 2.1-.7 2-.6 2.1-.7 2.2-.9 2.3-1 2.3-1.2 2.4-1.6 2.5-1.8 2.6-2.3 2.5-2.6 2.5-2.9 2.4-3.3 2.2-3.6 2.1-3.7 1.8-4 1.6-4.1 1.3-4.1-.2-4.4-2-4.4-3.5-4.3-4.8-4-5.5-3.7-5.7-3.4-5.1-3.2-3.2-2.9 1-2.9 1.6-3 1.7-3 2-3 2.1-3.1 2.2-3.1 2.3-3.1 2.3-3.1 2.3-3.1 2.3-3 2.2-3.1 2.2-3.1 2.1-3.1 2-3.1 2-3 1.8-3.1 1.6-3.1 1.6-3.1 1.3-3.1 1.3-3.1 1-3.1.9-3.2.8-3.1.5-3.1.4-3.1-.9-3.1-2.9-3.1-4.6-3.1-6.2-3.1-7-3.1-7.4-3.1-6.9-3.1-5.2-3.2.1-3.1 1.3-3.1 1.7-3.2 2-3.1 2.3-3.1 2.5-3.1 2.5-3 2.7-3.1 2.7-3.1 2.7-3 2.7-3.1 2.6-3.1 2.6-3.1 2.4-3.1 2.3-3.1 2.2-3.2 2-3.2 1.7-3.3 1.6-3.3 1.4-3.3 1.1-3.3.8-3.3.7-3.3.3-3.4.1-3.2-.5-3.3-2.5-3-4.4-2.8-6-2.5-7.2-2.4-7.8-2.2-7.4-2.3-6-2.5-1.1-3 1.5-3.3 1.9-3.3 2.1-3.3 2.3-3.3 2.3-3.4 2.3-3.3 2.1-3.4 2-3.4 1.8-3.5 1.5-3.6 1.3-3.7 1-3.8.6-4 .2-4.2-.1-4.5-.6-4.8-1.1-5.1-1.7-5.4-2.3-4.7-2.9-3.5-3.3-.3-3.6 1.7-3.5 3-3.4 3.8-3.1 4-2.7 3.9-2.5 4-2.1 3.8-2 3.8-1.7 3.7-1.6 3.5-1.4 3.5-1.3 3.5-1.2 3.3-1.2 3.3-1.1 3.3-1 3.3-1 3.4-.8 3.4-.8 3.5-.7 3.6-.5 3.6-.5 3.6-.3 3.6-.3 3.6-.1 3.4-.1 3.4.1 3.2.1 3.2.2 3.1.3 3 .3 3 .4 2.9.4 3 .5 2.9.5 3 .5 2.9.5 3 .5 3.1.6 3 .5 3.1.5 3.1.5 3.1.5 3.2.5 3.1.4 3.2.4 3.1.4 3.2.2 3.1.2 3.1.1 3.1-.1 3.1-.4 3.1-.5 3-.4 3.1-.5 3-.5 3-.5 3-.5 3.1-.5 3-.5 3-.5 3-.5 3.1-.6 3.1-.5 3.1-.5 3.2-.6 3.2-.5 3.2-.5 3.3-.4 3.2-.3 3.2-.2 3.2.1 3 .3 2.9.6 2.8.9 2.6 1.1 2.5 1.4 2.4 1.5 2.3 1.7 2.2 1.6 2.2 1.7 2.3 1.4 2.7 1.3 3 1 3.5.6 4.1.4 4.4.1 4.6 0 4.2-.1 3.7 0 2.8 0 1.5.1 0 .2-1.6.2-2.8 0-3.7-.3-4.2-.8-4.3-1.5-4-2-3.7-2.4-3.2-2.7-2.7-3-2-2.9-1.1-2.8-.3-2.5.8-2.1 1.7-1.8 2.4-1.5 3.1-1.4 3.5-1.1 3.8-.9 4-.9 3.9-.6 3.8-.6 3.7-.4 3.5-.3 3.4-.1 3.3-.1 3.1 0 3 .1 3 .1 2.8.1 2.8.1 2.7.2 2.6.1 2.7.2 2.7.2 2.8.2 3 .3 3.1.4 3.3.4 3.6.5 3.8.6 4.3.7 4.6 1 5 1.2 5.1 1.4 5.1 1.9 4.6 2.1 4.1 2.6 3.2 3.1 2.1 3.4.9 3.7-.6 3.8-2.3 3.4-4.2 2.7-5.9 1.9-7.3.9-8.3.1-8.6-.7-8.4-1-7 0-3.2.7-1.3.9-.9 1.3-.8 1.5-.6 1.9-.7 2.1-.8 2.3-1 2.5-1.2 2.7-1.6 2.7-1.9 2.9-2.2 2.8-2.5 2.8-2.8 2.7-2.9 2.6-3.1 2.4-3.2 2.2-3.3 2-3.3 1.8-3.3 1.6-3.3 1.3-3.2 1-3.3.8-3.1.5-3.2-.1-3.1-2-3.1-3.8-3.1-5.4-3.2-6.4-3.1-6.8-3.2-6.6-3.1-5.6-3.2-2-3.1 1.2-3.1 1.5-3.1 1.8-3 2-3.1 2.2-3.1 2.2-3.1 2.4-3 2.4-3.1 2.4-3.1 2.5-3.1 2.5-3.1 2.5-3.1 2.5-3.1 2.4-3.1 2.4-3.1 2.2-3.1 2.2-3.1 1.9-3.1 1.8-3.1 1.5-3 1.3-3.1 1.1-3.1.7-3 .5-3.1 0-3-2.3-3.2-4.6-3.1-6.6-3.2-8.1-3.2-8.8-3.2-8.6-3.1-7.3-3.1-3.5-3.1 1.4-2.9 1.9-3 2.2-2.9 2.5-3 2.6-3 2.8-3.1 2.8-3.1 2.9-3.1 2.8-3.3 2.8-3.2 2.8-3.3 2.7-3.4 2.5-3.4 2.4-3.4 2.2-3.5 2-3.4 1.8-3.4 1.6-3.4 1.3-3.4.9-3.4.7-3.3.3-3.3-.1-3.3-.4-3.3-1.2-3.3-3.7-2.8-5.6-2.4-6.8-1.8-7-1.3-6.5-.9-5.1-.5-3.1-.6.7-1.9 1.2-2.2 1.4-2.4 1.4-2.8 1.5-3.1 1.5-3.6 1.3-4.1.8-3.9 0-3.5-1.3-.6-1.9.7-2.3 1.5-2.4 2-2.1 2.1-1.9 2.3-1.7 2.3-1.4 2.4-1.2 2.4-1.2 2.5-1 2.5-1 2.6-1.1 2.8-1 2.8-1.1 2.9-1 3-1.1 3-1 3-1 3.1-1 3-1 3.1-1 3.2-1 3.2-1 3.1-.9 3.3-.9 3.2-1 3.2-.9 3.2-.9 3.1-.9 3.2-.8 3.1-.9 3.1-.8 3.1-.8 3.1-.8 3-.7 3-.7 3-.7 3-.7 3-.6 2.9-.6 3-.6 3-.5 2.9-.5 3-.5 3-.5 3-.4 3.1-.4 3-.4 3.1-.3 3.1-.4 3-.3 3.1-.2 3.2-.3 3.1-.2 3.1-.2 3.2-.1 3.1-.2 3.2-.1 3.1-.1 3.2 0 3.2 0 3.1 0 3.2 0 3.1.1 3.1.2 3 .2 3 .2 2.9.3 2.9.4 2.9.4 2.9.5 3.1.6 3.1.7 3.3.8 3.5.9 3.7 1.1 3.7 1.3 3.5 1.6 3.1 1.8 2.7 1.9 2.4 2.1 2.4 2.1 2.3 2.2 2.6 2 2.9 1.9 3.3 1.7 3.7 1.4 3.7 1.1 3.6.7 3.2.3 2.6.1 1.5-.2.2-.2-1.3-.4-2.5-.9-3-1.5-3.1-1.9-2.8-2.1-2.3-2.2-1.7-2-1.1-1.9-.6-1.5-.3-1.4 0-1.1.2-1.1.8-.8 1.2-.8 1.7-.8 1.9-.8 2.1-.8 2.4-1 2.4-1 2.5-1.2 2.4-1.2 2.5-1.2 2.5-1.1 2.4-.9 2.5-.8 2.6-.6 2.5-.2 2.6 0 2.7.3 2.7.6 2.7.8 2.8.9 2.8 1.1 2.8 1.1 2.9 1.1 2.9 1.1 2.9 1 3 1 3.1.8 3.2.7 3.4.5 3.6.5 3.8.5 3.9.6 3.8.9 3.5 1.3 3.1 1.7 2.4 2.2 1.5 2.7.6 2.9 0 3.2-.2 3.1-.3 3-.4 3-.6 2.8-.8 2.8-1.1 2.8-1.5 2.6-1.8 2.6-2.3 2.5-2.6 2.4-3.1 2.2-3.5 2.1-3.8 1.2-5-.4-6.3-1.9-7-3.4-7.1-4.4-6.6-5.1-5.9-4.9-4.6-3.5-3.4.7-1.8 1.6-1.8 1.9-2.1 2.2-2.2 2.3-2.5 2.5-2.6 2.6-2.8 2.6-2.8 2.7-3 2.6-3.1 2.6-3 2.5-3.1 2.5-3.1 2.3-3.1 2.2-3.1 2-3 1.9-3.1 1.7-3.1 1.5-3.1 1.3-3.1 1.1-3.1.9-3.1.6-3.1.5-3.1.2-3.1-.7-3.1-2.7-3.1-4.4-3.1-5.8-3.2-6.8-3.1-7.2-3.1-6.8-3.1-5.5-3.1-.9-3.1 1.1-3.1 1.4-3.1 1.8-3.1 2.1-3.1 2.2-3.1 2.5-3.1 2.6-3.1 2.7-3.1 2.7-3.1 2.7-3.1 2.8-3.1 2.6-3.1 2.6-3 2.4-3.1 2.3-3.1 2.1-3 2-3.1 1.7-3.1 1.4-3.2 1.3-3.1.9-3.2.8-3.2.4-3.3.2-3.2-.6-3.3-2.6-3.1-4.5-3.1-6.1-2.8-7-2.8-7.4-2.5-7.2-2.5-6.1-2.4-3.1-2.7 1.2-3.1 1.6-3.2 1.9-3.4 2.2-3.3 2.3-3.5 2.4-3.4 2.5-3.5 2.5-3.5 2.4-3.5 2.3-3.5 2.2-3.4 2-3.5 1.7-3.6 1.5-3.5 1.2-3.6.9-3.7.6-3.8.3-3.8 0-3.9-.3-4-.6-4.1-.9-4.3-1.3-4.3-1.7-4.6-2.2-4.7-2.8-4.5-3.3-2.9-3.3-1.5-3.4 1.4-3.3 3.7-3 5.7-2.5 6.3-1.8 5.8-1.4 4.9-.9 4.2-.6 3.6-.3 3.1-.1 3 .1 2.8.1 2.8.1 2.8.2 3 .1 3.1.2 3.1 0 3.1 0 3-.1 3-.4 2.7-.5 2.6-.6 2.5-.5 2.4-.6 2.5-.6 2.5-.6 2.5-.7 2.7-.7 2.7-.7 2.8-.8 2.9-.8 3-.9 3-.8 3.1-.9 3.1-.9 3.1-.8 3.2-.9 3.2-.9 3.1-.8 3.2-.8 3.2-.9 3.2-.8 3.2-.7 3.1-.8 3.2-.7 3.1-.7 3.1-.7 3.1-.7 3.1-.6 3.1-.6 3.1-.6 3.1-.6 3-.6 3.1-.6 3.1-.5 3.1-.5 3-.5 3.1-.5 3.1-.5 3.1-.5 3-.4 3.1-.5 3.1-.4 3.1-.3 3.1-.4 3.1-.3 3.1-.3 3.1-.3 3.1-.2 3.1-.1 3.1-.1 3 .1 3.1.2 3 .4 3.2.5 3.2.7 3.2.9 3.3 1 3.2 1.3 3 1.3 2.7 1.5 2.6 1.4 2.7 1.5 2.7 1.3 3 1.2 3.4 1.1 3.9.8 4.1.8 4.1.8 3.8.8 3.1 1 2.1 1.1.8 1.3-.6 1.4-2.3 1.3-3.6 1-4.6.4-5-.5-5.1-1.5-4.8-2.4-4.5-3.1-3.9-3.6-3.3-3.8-2.4-3.8-1.4-3.6-.3-3.1.9-2.7 2.1-2.2 3.1-1.9 3.7-1.5 4.3-1.1 4.6-.9 4.7-.6 4.6-.4 4.4-.2 4.2-.1 3.9 0 3.8.2 3.5.1 3.4.2 3.2.2 3 .1 2.9.1 2.8 0 2.7.1 2.6 0 2.7.1 2.7.3 2.8.4 3 .5 3.1.8 3.3 1.1 3.5 1.4 3.6 1.7 3.8 1.9 3.7 2.2 3.5 2.2 2.9 2.2 2.1 2.1 1.1 1.9 0 1.8-.9 2-1.9 2-3.1 2.1-3.1 1.9-2.3 1.8-2 1.7-1.6 1.5-1.3 1.4-1 1.5-.9 1.5-.6 1.7-.6 1.8-.6 1.9-.6 2.2-.8 2.3-1 2.5-1.2 2.7-1.6 2.7-1.9 2.8-2.3 2.7-2.6 2.7-3 2.6-3.3 2.4-3.5 2.2-3.6 1.9-3.8 1.7-3.8 1.4-3.7 1.1-3.7.6-3.6-1.2-3.7-3.1-3.5-4.6-3.5-5.8-3.3-6.5-3.2-6.4-3.1-5.6-3.1-2.8-3.2 1.2-3.1 1.6-3.1 1.9-3.1 2.1-3 2.2-3.1 2.3-3.1 2.3-3.1 2.4-3.1 2.4-3 2.4-3.1 2.4-3.1 2.3-3.1 2.2-3.1 2.2-3.1 2-3.1 2-3.1 1.8-3.1 1.7-3.1 1.6-3.1 1.4-3.1 1.2-3.1 1-3.1.8-3.1.6-3.1.3-3.1-1.4-3.1-3.7-3.1-5.6-3.1-7.1-3.1-7.9-3.1-8.2-3.2-7.2-3.2-4.8-3.2.9-3.1 1.7-3.1 2-3.1 2.3-3 2.6-3.1 2.6-3 2.8-3.1 2.8-3 2.9-3.1 2.8-3 2.8-3.2 2.6-3.1 2.6-3.2 2.4-3.2 2.3-3.3 2.1-3.3 1.9-3.3 1.7-3.4 1.5-3.3 1.2-3.4 1-3.4.7-3.3.4-3.3.1-3.3-.1-3.2-1.1-3.1-3.3-2.8-5.5-2.6-7.1-2.4-7.9-2.1-8-2.1-6.6-2.1-2.7-2.5 1.3-3.1 1.8-3 1.9-3.1 2-3 1.9-3.1 1.8-3.1 1.7-3.2 1.4-3.3 1.2-3.5.9-3.8.6-4 .3-4.3-.1-4.8-.6-5.1-1.2-4.7-5.7 20.3" fill="none" stroke="#ff0000" stroke-width="0.7" stroke-opacity="1" stroke-linejoin="round"/><path d="M388.8 629.5l2.5-2.3 2.2 1.2 1.5 8.6.8 15.5.2 18.2-.1 15.7-.1 9.5 0 2.2 0-3.8-.4-6.8-1.4-6.6-3.4-4-2.7.1-2 3.7-1.5 5.9-1.3 5.6-1.8 2.5-2.6-2.6-3.6-8-4.2-11.9-3.7-12.6-2.4-10.2-.6-5.6.2-.8-.1 2-1.5 2-3.5-.5-5.3-4.5-6.3-8.4-6.3-11.4-5-12.5-3-12.2-.6-11 1.6-9.1 3.3-7.4 4.2-5.9 4.2-4.8 3.4-3.9 2.2-3.4.7-2.8-.8-2.4-2.1-2.1-2.8-1.7-2.9-1.2-2.3-.7-1-.5.8-.3 3-.5 5.2-.5 7.7-.6 12.5-.1 9.9 1.7 8.9 3.6 8.7 4.4 9.2 4 10 2.9 10.7 1.3 10.4 0 8.3-.3 4.5.9 0 3.6-3.9 6.9-5.6 9.8-4.3 11.3-1.1 10.9 2.9 8.7 5.7 5.9 6.3 3.3 4.3 1.8.5 1.9-3.7 3.2-6.5 5.4-6.6 8.1-4.1 10.4-.9 12.4 1.1 13.8 1 14.8-1 15.2-3.6 15.3-5.1 14.8-5.9 13.8-5.2 12.3-3.5 10.3-2.8 8.2-3.9 5.9-8.5 3.7-5.5 1.2-5-1.2-4.2-3.8-2.9-6.5-1.9-9.3-1.8-12-2.4-14.4-2.9-16.2-2.9-17.3-2-17.2-.8-16.1.1-13.9 1-11 1.7-8 2.4-6.1 2.7-5.8 2.6-7.5 1.8-11.4 1.2-16.3 1.3-21 2.3-23.6 4.1-16.2 5.1-1 5-.5 6.3-.8 2.2-.2 0 7.3-.9 19.3.2 15.9 2.4 10.4 5 6.5 6.9 5 6.8 6.1 4.8 7.9 1.1 9.5-2.5 10.1-4.7 10.1-4.7 10-3.2 9.9-1.9 10-2.7 9.9-5.2 9.6-7.5 8.9-7.1 7.6-3.5 6 1.4 4.2 4.2 2.5 3.6.9-.6-.7-6.9-1.9-14-3.3-12.6-4.4-12.8-5.2-11.9-5.9-9.3-6.3-5.4-6.6-1.2-6.5 2.2-6.6 4.7-6.4 5.4-6.5 4.7-6.5 3.6-6.5 3.2-6.5 3.2-6.4 2.8-6.5 1.8-6.7.6-7.2.9-7.6 2.7-8 5.5-7.7 7.8-6.7 8.5-4.6 7.2-2 5.1.7 2.8 3 1 3.9-.5 3.4-1.4 1-1.7-2.3 0-6.2 2.1-9.4 1-11.3 2.2-10.8 3.5-7.7 4.7-2.5 5.9 3.1 7 8.9 7 12.9 4.8 14.6.6 14.1-3.9 12.2-6.7 10.2-6 8.6-2.8 7.8 1.4 7.7 4.3 7.9 5.4 7.8 4.5 7.5 2.4 7.1-.6 6.5-4.4 5.7-7.7 5-9.7 4.2-9.1 3.8-6 3.3-1.9 3.1 1.7 2.7 3.4 2.4 2.5 1.8 3.1 1.7 2.2 1.8 1.2 1.9.1 2.4-.6 2.4-1.1 1.9-1.7.3-2-1.9-2.5-4.6-2.6-7.3-2.9-9.6-2.9-11.6-3.1-13.2-3.7-14.5-4.7-15.2-5.7-14.8-6.3-13.3-5.8-11.2-4.2-9-2-7.4-.1-6.4.5-6.3-.2-6.4-1.7-6.3-2.9-6-2.9-5.3-1-4.2 2.2-2.9 6.1-1.9 9.4-1.5 11.3-1.3 14.8-1.2 8.7-.8 3.6-.2 0 .2-2.6.9-4.1 1.5-4.5 2.7-4 4.1-2.9 6.1-1.6 8.4-.2 10.8 1.1 13.2 2.4 15.6 3.5 17.3 4.1 18.2 4.6 17.8 4.5 15.9 4.2 12.9 3.7 8.8 3 4.4 2.1.6 1-2.2-.2-3.3-1.3-2.7-2.1-1.3-2.3.5-1.6 1.6-.2 1.6.4.7-1.3-.6-7.8-1.7-8.7-2-7.3-1.5-4.9-.9-2.5-.7-1.8-1.3-2.3-2.5-2-4.1-.5-5.5 1.3-6.4 1.4-7.2.2-7.8-1.4-8.1-2.1-8.5-2-8.4-1.8-8.4-1.9-8.3-2.3-7.7-2.8-7.2-3.2-6.3-2.7-5.4-1.4-4.4 1.3-3.5 4.7-2.9 7.8-2.6 9.2-2.6 8.4-3.3 6.3-4 4.1-5 3.8-5.6 5.8-6 11.7-5 7.5-2.8 4.7-1 1 .7-3.2 5.8-5.9 13.6-6.3 17-4.1 16.6-.7 12.8 2.1 7.6 3.5 4 3 3.9 1.5 7.4-.2 12.7-1 17.3-1.2 19.5-.6 18.9-.1 16.8-.1 14.4-.4 12.3-1.2 10.7-2.2 8.9-3.3 7-4 4.6-4.1 2-4-.7-3.4-2.8-3.1-4.4-4.6-5-1.8-4.8 0-4 1.4-3.1 2.5-2.7 2.8-3.1 1.7-4.5-.3-7-2.9-10.1-4.9-13.4-5.6-16.1-4.8-17.7-3.2-18.2-1.9-17.6-1.2-16.4-1.2-14.7-.5-12.9.9-11 2.7-8.9 3.9-6.8 3.4-5 1.7-3.5-.4-2.3-1.7-1.7-1.4-1.2.3-1 3.3-.7 7.9-.4 11.3.3 6.8 1 4.7 1.9 2.5 3.1.8 4.1.3 5.2.8 6.2 2.1 6.7 3.3 7.2 4 7.1 4.1 6.9 3.6 6.4 2.9 5.8 2.7 5.1 2.7 4.7 3.2 4.8 3.8 5.7 3.8 7.5 2.9 10.5 1.3 14-.8 17.3-2.7 19.1-4 17.9-4.6 13.8-4.7 7.5-4.9 1.1-6.1-3.1-7.1-3.3-7.5-.1-7.6 4.7-9.3 8.4-3.9 9.1-1.6 5.8-.3-.4.2-7.4.1-13.7-.3-17.9-2.4-20.1-3.7-20.4-5.2-19.2-6.1-17.2-6.2-14.9-5.2-12.8-3.7-10.9-2.3-9.7-1.1-8.8.6-8.5 3.1-8.3 5.7-8 6.6-7.1 5.4-5.5 3.2-2.7 2.9.5 8.5 4.2 6.3 8.5 7.2 11.4 7.8 12.4 7.1 11 5.9 7.6 4.9 3 4.2-1.4 3.7-4.9 3.3-6.5 2.2-5.9.8-3.5-1.1 0-2.8 3.9-3.7 7.7-3.7 10.6-2.7 12.8-1.3 13.8-.3 13.8-.2 13.1-1.2 11.8-2.6 10.4-3.2 8.9-2.7 7.5-1.1 6.4.4 5.3.8 4.1-.5 2.8-2.7 1.4-4.7.2-6.1-.6-6.1-1.3-5.4-1.6-6.4-2.3-3.5-2.5-2-3.5-2.2-4.8-2.9-6.8-3.6-8.4-3.8-9.7-3.4-10-2.6-9.6-1.9-8.8-2-8.6-3.1-8.7-4.7-9.2-6-9.4-6-9-4.7-8.1-3.4-7.4-2.8-7.5-2.5-8.4-1-9.4 3.2-9.3 16.2-6.6 17.3-3.2 13.1-1.4 8.8 1.8 7.1 10.3 8.7 16.9 10.8 21.3 9.9 23.4 6.7 23 4 20.7 3 17 2.8 12.6 1.7 8.5-1 5.2-4 3.3-5.9 2.7-5.5 3.6-3.8 5.7-1.9 8.2-.9 10.5-1 12.2-1.7 12.7-2 12.1-2 10.3-1.7 7.4-2 3.7-4.5-.9-1-5.4-1-10-2.1-13.9-3.3-16.7-4.4-18.1-5.4-18-5.8-16.8-5.2-14.3-4.1-11.5-2.9-8.5-2-5.6-1.8-3-2.1-1-2.5.5-2.7 1.4-2.2 1.5-1.2.9-.2-.5 0-2.6-1-5.3-2.8-8.2-4.2-11.3-3.6-14-.5-15.8 4.3-16.6 8.5-16.3 10-14.5 9.7-8.1 8.6-1.8 9.1-1.1 11.6-1.2 15.9-1 6.4 3.7 2.3 7.1.1 6.9.6 5.6 1.8 4.2 2.1 3.5 1 3.7-.6 5.2-1.7 7.7-1.2 10.7.1 13.5 1.4 15.8 1.9 17.1 1.2 17.3-.3 16.2-2.1 14-4 11.3-5.5 8.2-6.4 5.4-6.4 3.5-5.5 2.9-4.3 3.8-3.2 6.3-2.9 9.7-4.6 13.8-9.5 17.1-5.4 18.7-5.7 17.4-6.5 12.8-7.2 5.3-6.5-3.9-3.6-14.6 1.7-25.1 6.6-31.9 8.4-34.6 5.3-33.1.9-28.5.7-22.6 5.1-16.9 8.4-13 6.9-10.9 3.3-10 2.5-8.8 5.4-6.4 7.9-2.5 7 2.2 3.6 5.6.7 6.6.3 4.5.2.4 1.2-3.4 2-4.5 2.1-2.5.8 1.8-.9 6.6-1.8 9.6-1.5 10.1 0 8.7 1.7 6.3 2.9 4.5 3.2 3.7 2.4 4.1 1.3 5.2.8 6.6 1.2 7.6 2.2 8.4 2.4 8.6.9 8.5-2.6 8.3-7.1 7.8-10.8 7.3-12.3 6.6-11.1 5.9-8.7 4.9-5.5 3.9-2.1 2.6-1.8 1.2 4.1-.3 7.1-1.7 6-3.1 1.5-4.4-4.3-5.5-9.4-6.5-11.9-7.3-11.1-8.1-7.9-9.1-3.9-10.6-.2-12.3 2.5-14.3 4-15.7 4.3-16.4 3.3-15.6 2.1-13.6.8-10.7.6-7.7 1.2-5.3 2.4-3.9 3.9-3.4 4.7-2.5 5.1-1.6 5-.9 7.6-.8 8.7-.6 4.3 1.7 4.7 6 5.3 9.1 5 9.9 3.6 9.3 1.7 7.8.1 5.6-.3 3.4.1 1.9.7 1.5.5 2.1-.5 3.9-1.8 6.3-2.6 8.9-2.4 11.1-1.6 12.4-.6 12.8-.1 11.9-.2 9.9-.4 7.1-.7 4.3-.9 1.7-1-.1-1-1-1.1-1.1-1-.6-1 .2-.8 1.1-.9 1.5-.7 1.8-.7 1.9-.7 1.7-.7 1.5-.8 1.5-1 1.6-1.7 2-1.5 2.7-1.3 3.4-1.4 3.9-1.4 4.3-1.4 4.3-1.3 3.6-1.5 2.2-1.6-.4-2-4-2.9-8.3-3.8-12.9-4.6-16.4-4.9-17.8-4.7-16.4-4.5-12.3-4.4-7-4.2-2.6-2.5-1.6 1.3-4.7 6.3-10.7 9.7-16.9 8.8-20.4 4-19.4-1.9-10.7-4.6-.3-1.6.2 9.5-.9 10.5 1.7 11.2 7.4 8.4 8.1 3.1 6.9-2.6 5.5-6.6 4.3-7.8 3.3-5.9 2.3-2.2 1.7 1.9.9 5.2.3 6.6.4 6.5 1.2 5.3 3.1 4 5.8 2.6 8.9 1 11.4-1.1 12.7-3.4 12.4-5.2 10.7-5.9 8.3-5.4 5.9-4.1 4.3-2.6 3.6-1.7 3.8-1.3 4.7-1.4 5.8-1.5 7.2-1.3 8.4-1.2 9.4-1.2 9.8-1.4 9.5-2 7.7-3.5 4.8-3 .4-2.6-4.6-2.2-9.9-1.3-14.5-.3-17.5.6-18.8.8-18.1-.1-16.1-2-13.4-4.1-10.9-5.2-9.3-5.4-8.9-5-9.5-4.7-10.9-4.5-12.5-3.2-13.2-.1-8.8 3.3-1.1 6.3-.8 9.5-1.1 13.7-1.5 10-.3 10.2 16.3 9.9 25.9 8.8 27.9 6.6 25.3 4.2 18.3 2.4 8.2 1.9-2.5 2.7-10.5 3.8-13 4.2-9.2 2.8-.6.2 9.5-2.4 17.4-3.9 20.9-3.7 19.5-2.7 15-1.6 9.8-1.2 5.9-1.5 4.5-2.1 5.2-2.7 6.9-3.1 8-3.3 7.8-3.9 5.6-4.3 2.1-4.8-2.3-6.6-6.2-4.3-9.1-3.5-10.3-3.2-9.8-2.2-7.6-.9-4.5.1-1.4.5.3-.1-.1-1.3-3.4-2.5-8.9-3.1-15-2.6-20.2-1.4-22.6.1-21.5 1.6-18 2.7-13.6 3.7-10.6 4.6-9.7 6.1-10.3 8.1-10.1 10-7.2 13-2.4 7.8 2.6 2.3 7.5-.6 9.9-1.3 10.3-.6 10.5-.3 12.2-.8 15.8-1.9 20.1-2.9 23.4-3.2 23.8-3 20.6-2.8 14.4-2.5 7.1-2.7.9-3-2.5-2.7-2.1-1.8 1.2-1.1 5.4-2.7 8.3-1.9 8.8-3.7 6.3-6 2.2-7.5-2.1-7.8-5.2-6.8-6.4-5.3-6.3-3.8-5.7-2.4-5.4-1.2-5.7 0-6.9 1.2-8.5 2.1-10 2.5-11.2 2.5-12 2.1-12.5 1.7-12.4 1.5-12.2 1.4-11.6 1.9-10.9 2.4-9.9 3-8.7 3.6-7.3 3.9-5.7 3.8-3.9 3.4-2 2.9-.3 2.3 1.2 1.7 1.8 1.1 1.4.8-.3.7-3 .7-5.5 1.1-7 2.7-6.6 2.9-4.2 2.7-1.5 3.2.6 3.6 2.2 4.1 3.1 4.1 2.7 3.9 1.8 3.3 1.2 2.5 1.1 1.7 1.6 1 2.5.8 3.4.9 4.1 1.4 4.2 1.7 4 1.5 3.4.4 2.6-1.2 1.8-3.3 1.1-5.1.9-6 1-5.9 1.6-4.8 2.5-3.5 3.8-2.3 5-1.4 6.5-.7 8.1 0 9.6.6 11.5.9 13.6.9 15.8.4 17.9-.5 19.8-1.1 20.9-1.3 21.1-.4 20 .5 17.5 1.3 13.6 1.7 8.7 1.4 3.4-.2-2-2.2-6.7-1.8-10.2-1.7-12.6-1.7-13.9-1.7-14.3-2.2-14-2.7-13.3-3.3-12.5-3.7-11.1-3.8-9.3-3.3-7.2-3-5.2-2.9-3.8-3.6-3.5-4.8-4.8-6.3-7.4-6.8-10.7-6.1-13.7-4.1-15.5-1.6-15.3.1-13.4.4-10.6.1-8 .3-6.3 2.2-5.6 5.8-4.9 10.9-3.8 19-2.4 15.3-.3 9.7 3.1 4.7 7.1-.4 9.7-2.7 11.1-2.4 11.1-.2 10.3 2.3 9.1 4.2 7.8 4.7 6.9 4 6.3 2.7 6.2 1.4 6.4.5 7-.3 7.6-1 8.1-2.1 8.4-3.1 8.2-4 7.2-4.4 5.6-3.9 3.3-2.8 1-1.6-.6-.5-1-.3.4-1.1 2.9-2.4 5.7-3.8 7.6-5.2 7.4-3.4 4.8-1.8.5-.4-4.4.1-8.7-.4-11.4-1.2-12.6-1.7-12.5-.6-11.7 2-10.9 5.2-10.2 6.7-10 4.7-10.4-.6-11.2-6.7-12.3-10.2-13.7-8.3-14.7-1.3-15.3 8.6-10.4 17.5-2.9 24.6-2.8 25-1.9 14 5.1 5.6 16.5-1.2 20.8-5.5 17.7-6.8 12.3-6.1 7.6-4.9 6.4-3.8 8.4-3.6 12.1-3.7 15.4-4.3 16.7-5.1 16.2-5.7 14.7-6 13.1-5.7 11.5-5 10.3-4.2 9.2-3.3 7.8-2.7 6.5-2.6 5.1-2.9 3.7-3.1 2.2-3.5.7-5-1-3.7-2.7-3.5-4.7-4.1-6.9-4.4-9.4-4.2-12-1.8-14.5 1.8-16.8 4.7-19 5.8-20.8 6.5-21.9 7.7-22.1 7.5-21.1 3.4-19.1-3.2-16.3-6-12.7-1.6-8.1 6.5-3.4 12.9-1.9 16.5-1.4 7.4.3 5 3.4 5.1 7.5 5.6 10.5 5.2 12.2 3.7 12.4 1.8 11.5.4 9.7-.5 7.4-.9 5.4-1.2 3.5-1.5 2.3-1.5 1.5-1.5 1.3-1.2 1.4-.6 2.1-.3 3.3-.8 4.9-2 7.2-4.3 10.2-6.6 13.6-8.1 17.1-8.3 20.1-7.2 21.9-5.6 21.9-4.6 19.3-5.3 14.3-6.9 7.5-10.2-.1-9-7.1-4.2-12.3-1.8-15.5-1.3-16.4-1.7-15.8-2.6-14.1-3.2-12.1-2.9-10.1-2.1-8.6-1.4-7.5-.6-7 0-6.8.7-6.8 1.7-7 2.9-7.2 4.3-7.3 5.3-7.4 6.1-7.4 5.8-7.4 4.7-7.3 2.6-7.1.5-6.6-.6-6.1-.2-5.3 1.7-4.4 3.9-3.6 4.8-3.1 4.2-2.7 3.2-2.6 4.6-2.5 10.5-2.2 9.4-2.2 10.2-1.7 8-.7 3.8 1-.4 3.7-2.5 7.8-3.7 12.6-5 17.4-6.8 21.1-7.5 22.3-6.3 19.8-3.9 14-1.8 6-.5-1.3-.7-4.7-1.5-2.3-2.2 5.8-2.1 16.7-1.7 26-2 29.5-1.4 25.2-1.9 13.9-2.4-1.1-2.8-15.4-3.2-26.3-4.7-32.5-4.8-35-4-34.9-2.5-32.5-1.3-28.1-1.4-21.3-2.7-11.2-3.3-1.3-1.8 1.2 1.9 5.5 5.9 8.7 7.9 7.5 7.7 4.5 6.7 1.5 6.3-.8 7.6-1.8 12.4-2.1 12.4-1.5 8.9-.8 6.7-.5 4.6-.5 2.6-.5 1.3-.2.6.7.3 2.1-.2 4.4-1.3 7.2-2.7 10.2-3.9 13.1-3.9 15.4-2.7 17-1 17.7-.5 17.5-1.7 16.4-3.7 14.4-5.2 12.2-4.9 9.7-3.8 7.2-3 4.8-3.2 2.4-4 0-5.8-2.3-3.1-4.2-3.7-5.9-6.4-7.6-7.9-8.6-6.9-9.3-5.9-9.4-7.4-9.3-7.9-9.1-3.2-8.7 4.4-8.6 8.2-9.7 4.3-11.9-1.1-14.8-.5-16.9 6.1-17.2 11.5-15.6 10.1-12.3 3.6-8.1-1.3-3.6-.4-1 5.3-.1 15.3 0 12.9.2 9.5.6 4.5 2.4-.3 5.1-3.5 8.2-4.4 11.1-3.2 13.1-1.1 13.7 1.2 13.4 3.4 12 4.9 9.9 5.4 7.6 5 5.4 3.5 3.4 1 2.3-2.5 2.1-6 2.7-9.1 3.9-10.4 5.5-8.9 6.7-5 7.3.3 7.3 5.1 6.1 7.2 4.3 4.7 1.9-2-.7-11.3-3.1-19.1-4.9-14.1-4.9-5.9-4.2 2-3.1 3.8-2.7.1-3.1-3.9-3.6-3.1-4.1 1.1-4.3 4.5-4.9 4.4-5.9 2-7.1.6-7.8 1.4-7.9 3.3-7.6 4.1-7.4 3.3-7.6 1-8.8-1.3-10.8-2.1-13-.8-13.9 2.9-12.2 7.1-5.8 9.5-1.6 9.2-.2 10.8 3.9 3.7 7.5.4 7.4.2 5.9 2 4.6 4.6 4.1 7.2 4.7 9.1 6.1 9.6 7.8 7.4 9.7 2.9 11.6-2.9 13.3-7.5 15.1-8.2 16.6-4.4 17.4.5 17.4 2.6 15.9-.3 13-6.3 8.5-11 3.2-11.9-2.5-9-7.2-5.1-10.3-2.9-11-3.9-9.2-9-5.3-6.3 0-5.2 5.3-3.1 8.7-.9 9.3.4 6.5.7 1.2.5-5.1-.2-10.6-.8-13.8-1.1-14.4-1.1-12.8-1-10.2-.9-8.1-.8-6.9-.7-6.8-.5-7.7-.3-8.6-.3-9.4-.1-9.5-.1-9.1-.4-8.4-.8-7.4-.9-6.4-.3-5.5 1.1-4.5 2.8-3.7 4.1-2.8 4.5-1.9 5.2-1.4 11.3-1.3 10.3-.7 12.8-.3 13.6.7 9.9 2.3 3.3 3.9-1.8 5.7-2.7 7.4-.6 9.8.2 12.8-3 15.9-8.2 18-12.1 17.5-12.3 13.5-9.5 7.1-5.5.2-1.9-3.9-.2-2.9-.3 3.2-1.8 12.2-3.5 20.6-4.5 25.5-4.2 25.3-3.3 20.9-2.6 13.8-1.7 6.6-.9.8-.3-3.2-.1-5.3-.2-6.4.3-6.3.2-6 .1-5.4-.2-4.8-.3-4.5-.4-4.4-.2-4.8 0-5.3 0-6.2-.3-7.4-.7-8.6-1.5-9.6-2-10.4-2.4-10.8-2.5-10.5-2.3-10-1.9-9.1-1.4-8.4-.6-7.9.1-7.9.9-8.3 1.6-9 2.1-9.8 2.4-10.2 2.8-9.9 3.6-8.7 4.8-6.6 6.1-4 7.3-1.5 8.7.5 15.4 2.6 9 3.5 8.6 3.8 10.5 3.6 11 2.7 7.4 1.4.3.4-5.4.5-5.2 2.3.1 5.9 3.2 10.5.2 14.7-6 17.4-8.7 18.1-6.3 16.7-1.8 13.7 1.3 10.3 2 7.9.1 7-3.4 7.5-6.3 8.5-7.5 9.1-6.4 8.6-4.9 6.6-5.9 3.6-1.7.2-.3-3 .6-5.6 1.7-7.3 2.4-8 2.3-7.9 1.5-7.5.3-6.9-.7-6.8-1.1-7.1-1-8.1-.5-9.9-.1-12.3.3-14.7.6-16.5 1-17.1 1.3-15.7 1.1-12.6.5-8.2-.7-3.4-.7.4 1.5 2.3 5.6 1.9 12.4-.4 4.9-2.7-1.4-3.7-3.4-2.6 1.7.9 10 5.9 13.7 11.7 9.3 17 .6 20.5-6 21.9-7 21.7-3.4 20.7 1.3 19.6 4.1 18.7 3.7 18.1.5 17.3-3.6 16-7.2 14.1-8.7 11.7-8.4 9-6.9 6.3-4.7 3.7-2.9 1.4-2.1-.6-2.9-2.5-4.8-4.1-2.2-5.5-2.7-6.9-3.9-8.1-5-9.4-5.4-10.5-4.7-11.5-2.9-12.3-.5-12.9 1.5-13.3 2.3-13.5 1.7-13.6 0-13.4-1.8-13.2-3-13-2.8-12.7-1.1-12.7 1.9-12.6 4.7-12.3 5.7-11.8 3.8-10.9.8-9.8.5-8.4 5.2-6.5 14.3-4.1 12.2-2.2 10.5-1.1 7.2 1.3 3.8 6.8.5 12.3-2.5 15.5-4.6 16.8-5.5 16.3-4.6 14.4-2.9 11.7-1.2 9.1-.2 7.2-.4 5.9-1.2 5.2-2 5-2.6 4.9-2.7 4.9-2.4 5-2 5.1-1.6 5-1.4 5-1.6 4.8-1.8 4.5-2 4.2-2.1 3.8-2.1 3.3-1.9 2.7-1.8 1.8-1.8.8-1.7-.5-.8-2.2-.4-4-.2-6-.1-7.9-.4-9.4-.8-10.3-1.4-10.4-2-9.8-2.2-8.3-2.1-6.5-1.8-4.4-1.4-2.2-1.7-.3-2.2 1.2-2.8 2.1-2.9 1.9-2.3.1-.7-3.7 1.2-9.4 3-15.6 3.8-19.8 2.7-19.1.5-13.5-1-5.4-.4 1 1 2.3.8-1.6-1.2-7.5-2.9-7.3-1.9-.7 4.4-.5 5.5-.5 7.2 4.6 7.4 16.2 6 17.2 4.4 15.4 2.9 13 1.5 11.2.9 10 .6 9.4 1 8.9 1.5 8.1 1.6 7.1 1.5 5.7 1.1 4.3.8 2.8.6 1.7.7 1.1 1.2 1 1.9 1.5 2.6 2.1 3 3.1 2.9 3.9 2.3 4.7 1.3 5.5 0 6.2-1.9 6.9-4.5 7.5-8 8.2-13.1 8.8-8.4 9.7-5.1 9.7-3.6 8.7-6 6-10.2 1.2-10.7-5.2-5.6-13 1.7-20.7 4.9-27.1 1.1-30.2-5.3-28.8-7.9-22.8-5.1-13.8.1-4.4 4.5 2.6 7 4.7 6.1 1.9 2.3-4.6-2.5-11.7-5.8-16.9-5.8-18.2-2.9-15 1.6-4.7 5.6-1 8.6-1 14.3-1.4 9.6-.4 7.7 1.2 7 2.2 7 2.4 7.3 2.3 7.5 2.2 7.1 2.3 5.8 2.4 4 2.4 1.9 2.6 0 2.7-.9 2.9-.8 3 .3 3.2 2 3.5 3.8 3.8 5.5 4 6.8 4.3 7.5 4.5 7.5 4.8 6.6 4.8 4.7 4.9 2.1 4.8-.6 4.6-3.3 4.6-5.7 4.5-7.3 4.5-7.7 4.3-7.8 4.3-7.7 4.3-7.5 4.5-7 4.8-6.1 5.7-5 6.9-3.9 8.6-3.3 10.6-3.6 12.4-6.6 13.3-6.8 12.3-5.2 8.5-3.9 1.6-1.5-7 .7-14 2.1-16.2 3-12.2.6-3.9-4.5 4.2-9.2 6.9-11.4 2.1-10.7-9-7.7-22-3.3-31.7.8-35.2 3-32.2 4.1-18.2 2.2-.6.3 0 2.9-.4 7.1-.8 11.5-1.3 14-1.6 14.6-1.6 16.8-1.9 8.8-.2 6.5 5.8 3.6 10.1-2.3 10.7-5.2 10.8-4.2 11-1.4 11.2-.6 12-2.1 13.3-3.1 15.2-2.2 17.3-.2 18.6.9 18.3 1 14.7.2 8.3-.8.8-1.5-4-2-3.1-2.1 4.1-1.9 13.6-2.2 19.3-5 16.4-4.8 5.1-5-8.8-5.9-17.9-6.1-18.2-5.6-10.3-4.3.6-2.9 9.3-1.6 12.2-1 9.3-1.7 3.2-3-3.7-4.6-9.8-5.2-14.3-4.4-17.3-2.8-18.8-1.3-19.2-.7-18.8-.5-17.7.1-16.2 1.9-14.2 5.3-12 8.6-9.6 10.7-7.1 10.6-4.9 9.1-3 7.8-1.7 11.6-1.4 4.7-1.4.8-1.3.2-.4 1.4 2 3 5.7 3.8 10.4 3 15.1 1 18.6-1.1 19.9-2.7 18.4-3.3 14.5-3.4 9.1-3.2 3.1-2.7-2.2-2.2-6.1-1.6-8.5-1.2-9.1-.8-8.3-.7-6.7-1-4.4-1.2-2-1.5.7-1.6 3.5-1.5 5.9-1.4 7.9-1.5 8.9-1.6 8.6-1.7 6.8-1.4 3.8-1.2-.2-.1-4.4 1-8 1.1-10.2.5-10.9-.2-10.2-.4-8.3-1.1-6.5-4.2-5.4-8.2-5.4-9.7-6.3-6.2-7.6.2-8.8 5.4-9.8 8.6-10.2 10.9-9 12.5-5.7 12.1-2.4 9-.8 5.1 1.6 3 6.4 7.8 10.8 3.6 12 3.4 11.4 4.9 9.1 6.1 5.1 5.5.7 2.5-2.9-1.8-4.3-5.9-2.5-7.1 2.1-5.6 8.4-3.1 14.5-2 18.4-3.4 19.3-5.8 17.1-7.2 12.9-6.5 8-4.2 3.9-1.3 1 .8-.1 1.5-.2.8.4-1.3 1.1-3.8 1.6-5.7 1.6-6.7 1.4-6.9 1-2.5.5-.2-.3.7-1.4.3-2.7-1.1-4.3-2.4-5.9-3.4-7.5-4-9-4.2-10.6-3.6-11.8-1.9-12.8.5-13.4 2.3-13.4 2.5-12.9 1-11.9-.2-10 .8-7.5 4.5-4.5 9-1.7 12 .6 11.8 1.9 9.2 2.6 6.6 2.7 7.5 3.2.5 3.2-1.6 3.7-2.3 4.7-2 5.9-1.1 7.1.4 8.4 1.9 9.4 2.6 10.1 1.8 10.4-.1 10.4-2.6 10-4.3 9.5-4.4 9.1-2.6 8.8.5 8.6 3.1 8.3 4 7.8 2.7 6.9.1 5.6-2.7 4.2-4.6 2.7-5 1.1-4.5-.5-3.6-2.4-2.6-4.5-1.7-6.3-.7-7.4-.2-7.5-1.3-6.1-4.5-3.2-6.6 1.1-2.9 6.5-.4 10.8.6 12.7-.4 10.9-1.9 5.1-1.6-3.5-.1-13.5 1.7-22.1 2.3-27 .6-26.3-1.9-20-2.6-10.2-1.1-.3 1.6 5.6 3.1 5.3 2.6-1.2.6-11.2-1.4-21-2.5-26.9-1-19.7 2.1-.5 4.1-.5 6-.6 9.3-1.1 5.9-.7 7-.7 8.8 4.4 7.9 18.2 4.1 19.2-1 19.1-5 18.3-6.3 16.8-4.8 14.7-2.6 12.2-1.1 9.8-1.1 7.5-1.9 5.9-2.4 5.1-2.8 5.3-3.4 6-4.6 7-5.5 7.7-5.8 7.7-6.7 6.2-2.8 3.5-2.6-.8-3-5.8-2.8-10.8-2.3-14.8-2.2-17.6-3.2-18.5-4.5-18.1-5.3-16.5-5-14.3-3.9-12.2-2.9-10.3-2-9.1-1.1-8.2.2-7.8 2.3-7.2 4.9-6.5 7.4-5.1 8.9-3.4 8.5-1.9 6.3-1.2 4.9-.6 9.5-1.1 4.9-.6 7.1-.8 11.2-1.3 14.1-1.6 14.4-1.3 11.5 4.3 5.9 15.1 1.3 13.1-1.1 7.3-1.6 1.3-.8-2.7.7-3.3 1.7-.9 2 3.5 1.4 8.1-.1 12-1.7 14.2-3.3 15.2-4.2 15.5-4.5 15.2-4.3 14.9-3.9 14.6-3.4 14.3-3.3 14-3.3 13.7-3.3 13.3-3.3 12.7-2.9 11.7-2.8 10.5-3.4 8.6-5.6 6.2-9.5 3.1-18.4-.7-17.9-4.4-15-8.3-10.6-11.6-4.5-13.9.3-14.8 2.3-14.2.4-12.4-3.1-9.8-4.7-7.2-3.1-5.9.2-6.3 3.3-9.2 4.7-13.9 3-19.3-.3-23.5-2.8-25-2.4-22.9.5-16.6 5-3.7 8.7-1.2 10.1-1 9.7-.2 8.5 2.9 7.5 4.8 9.4 4.5 4.2 3.9 1.5 4.1.1 4.6-.2 5.4.2 5.7 1.2 5.7 2.5 5 3.6 4.2 3.9 3.6 3.9 3.6 3.2 4.2 2.5 5.7 2.1 7.8 2.3 10.2 3 12.5 3.6 14.5 3.6 15.9 2.7 16.4 1.3 16-.6 14.3-2.5 11.7-4.8 8.6-7.1 5.3-9.1 2.7-13.2 1-5.7.2-.8.6-.5 1.5-3.2 1.5-5.4-.1-4.6-4.1-2.8-10.1-2.4-16.9-3.7-22.8-4-26.6-1.3-27.5 3.3-25.9 7.4-22.6 8-18.8 5.2-14.8 1.1-11-2-6.8-2.6-2.5-1.2-.5 1.1-.1 3.2.2 2.4.6 2.3.7 2.2.4 2.1 0 2.1-.5 2.3-.8 2.4-.9 2.6-.8 2.7-.7 2.7-.4 2.8-.3 2.7.1 2.7.4 2.5 1 2.3 1.9 2.3 2.9 2 3.9 1.9 5.1 2.1 6.4 2.7 7.8 3.3 9.3 3.5 10.9 2.9 12.3 1.1 13.5-1.3 14.3-3.2 14.5-3.6 14.1-2.5 13-1.5 11.2-2.1 9.4-3.5 8.3-5.3 8.5-9 10-19.3 11.1-16.4 10.9-13.9 7.6-7.2 2-3.3-3.3-7.3-6.2-11.6-6.4-6.6-6.9 3.3-11.4 11.2-22.2 11.1-35.8 6.1-45.8 2.7-45.4.6-22.9-2.5.2-3.9.5 1.3 2.4 11.4 22 20.2 18.4 23.9 8.2 9.9-3.1 1.1-10.1-3.3-11.6-2.9-8.6 1.1-2.7 6.1 3.6 9.3 8.6 9.2 12.1 6 13.5 1.3 13.5-2.8 12.6-5.3 11.3-6 9.9-5.3 8.6-3.9 7.4-2.3 6.3-1 5.3.1 4.2.5 3 .4 1.7-.1.3-.9-1-1.8-2-2.6-2.3-3.4-2-4-1.1-4.4.3-6 1.4-3.2 2.7-2.2 3-1.6 2.6-1.4 1.6-1.3.1-1.4-1.5-1.7-2.6-2.1-3.5-2.3-3.8-2.5-3.6-2.6-3.1-2.6-2.5-2.3-1.8-1.9-1.2-1.4-.7-.8-.5-.3-.5.2-.8.1-1.5-.2-2.6-.7-4.4-1-6.4-.9-9-.5-11.7.1-14.2.6-16.2 1.6-17 3.3-16.6 5.9-13.6 8.7-4.2 10-1.3 10.3-1.2 9.3-1 1.4.1-2.6 2.3-3.8 7.5-2.5 10.1.6 10.8 3.6 10.9 5.2 10.4 4.4 9.1 2.1 7.5-.8 6.2-3.1 6-4.2 7.8-4.5 11.2-4 15.6-3.5 19.7-2.5 21.2-1.3 19.3.4 14.1.7 7 .1.4-1.7-3.3-4.9-3.5-8.2-.4-4.5 3.9-2.4 7.4-1.5 8.5-2.4 6.8-5.2 3-8.2-1.5-9.5-6-7.6-9.7-2.7-12.7 2.7-14.8 6-16.1 5.3-16.9 1.5-17.2-2.7-17.2-4.7-17-4.4-16.4-3.7-15.4-4.3-14.1-5.4-12.4-4.2-10.1-.1-7.1 6.1-3.5 13.5-1.5 19.9.4 26.1 4.1 18.7 6.4 15.3 7.8 10.7 8.4 5.1 8 .5 7.2-2 6.5-2.1 6-.9 6.1.4 6.6 1.3 7.6 1.5 8.9 1.1 10 .1 10.8-1.2 10.8-2.9 10.2-4.6 9-5.9 7.3-6.4 5.4-6 3.9-5.1 3.1-3.6 3-2.5 3.8-1.9 4.8-2.5 5.2-5.8 4.3-1 2.2 0-1.1-.2-4.4-1.9-7-5-8.4-9-8.7-12.3-8.6-13.3-8.6-11-9.1-5.7-9.9.3-10.6 5.8-10.9 9.5-11 10.1-11.4 7.8-12.4 4-13.8-.3-15-3.7-14.5-5.4-11.2-4.5-3.6-2.3.2.6 2.9 4.2 6.7 6.4 6 9.6 2.2 8-2.4 5.7-5.6 4.7-6.5 4.3-5.1 4.4-2.4 4.5-.6 4.3 1.2 2.9 3.6.1 6.1-2.7 8-3.7 9.9-2.4 11.7-.5 13.1-.1 13.4-1.2 12.5-2.7 10.3-3.2 7.9-3 6.1-2.6 5.6-2 7.2-1.3 10.5-1.7 14.6-3.8 17.6-5.7 18.7-6.1 17.5-7.5 13.7-4.8 9.1-1.5 4 0-.9.3-5 .1-8.2-.8-10.6-.8-12.5-.2-14.2.3-15.9.6-17.6.4-19-.5-20.1-1.6-20.1-2.6-19.4-3.2-17.6-3.1-15-2.1-11.7.1-7.1 3-2.4 6.1-1.1 8.8-1 10.4-1.2 10.4-1.1 8.9-1 6-.7 2.5-.4-.7 0-3 .3-4 .5-3.6.3-2.1.3-.3 0 1.3-.1 2.5-.2 2.9 0 3.1.1 3.3.7 5.7 1.3 3.4 2 3 2.2 3.1 2.5 3.2 2.7 2.8 2.8 1.9 3 .3 3.5-1.6 4.1-3.7 5.1-5.3 6.5-6.1 8-6 9.7-5.3 11.2-4.4 12-3.5 12.1-3 11.4-2.5 10.3-2.1 9.3-1.4 8.2-.8 7.5-.2 6.9 0 6.2-.1 5.6-.4 5.1-.7 4.5-.9 4.3-1 3.9-.7 3.2-.6 1.6-1-.4.3-2.5.6-3.8.5-3.3.1-1-.5 1.8-.7 3.4-.8 1.9-.4-2.9 0-9.6.6-15.2 1.1-17.7 1.3-16.5 1.7-12.9 1.9-9.2 2.1-7.3 1.9-7.5 1.5-8.9.8-10.8.2-11.7-.5-11.5-1.3-10.2-1.7-8-1-5.1 1.6-2.2 7.7.1 6 2.1 6.5 3.5 5.9 4.2 4.1 4.2 1.6 3.9-.9 3.6-2.6 3.7-3.1 4.2-2.3 5-.8 6.2.8 7.6 1.4 8.8.5 9.8-1.9 10-4.8 9.5-6.5 9-5.6 9.5-1.9 12.3 1.6 16.5 1.9 18.3-1.2 13.7-4.7 3.4-6-5.8-2.7-4.9 2.2 7 1.3 19.7-7.4 20.6-7 7.4-4.8-12.2.4-25.9 6.1-28.7 9-23.4 4.7-16.9-5.1-12.3-13.5-10.2-13.6-9.7-5.9-9.7 1.7-10 4.4-10.2 4.3-10.1 5.2-9.4 6.7-8.1 6.3-6.6 3.8-4.8 1.7-2.7 3-.8.4 1.3 1.4 3.6 3.1 6.2 4.2 8.7 4.4 10.9 3.3 12 1.4 11.5-.4 9.3-1.4 5.8-1.2 2.2 0 .2 1.8.7 2.7 4 2.5 9 1.3 13.7-.1 17.2-1.1 18.3-1.6 17.4-1.8 15.1-1.8 11.9-1.8 8.8-2.1 5.7-2.3 3-2.1.8-2.3-.7-2.9-1.3-1.2-1.3-.8-1.3-.5-2.1-.3-4-.1-6.8.3-9.9.4-12.8.3-14.8-.1-15.9-.6-16.3-1-16.5-.9-16.6-.5-17 0-17.3-.4-17.1-1.9-16.1-2.4-12.5.6-2.7 5-.7 5.4-.6 3.5-.1-2 6.6 5.4 17.4 14.1 20.5 10.5 19.3.4 13.9-.7 6.2 6.9-1.6 7.9-6.2-2.9-5-10.7 3.4-4.9 16.9 2.4 29.2-.5 34-6.7 28.8-9.2 16.6-6.1 3.4.2-5.6.2-8 3.3-5.6-.2-2.1-2.9-.7-2.3-2.2.5-5.9 3.5-9.8 4.9-12.8 4.2-13.9 2.2-13.7-.2-12.7-2.1-11.5-3.4-10.6-4.2-10.2-4.6-10.4-4.8-10.9-5-11.4-4.8-11.8-4.4-11.3-3.5-10.1-2.2-6.9 0-2.4 2-.6 3.7-.5 5.1-.2 5.4.1 4.8.5 4.8.6 5.3.2-.4-.5-.6-.7 1.3-.2 4 1 6.2 4.4 7.2 9.7 7.6 15.7 7.8 22 6.9 27.4 4.5 30.1 1.3 29-1.4 23.6-2.9 15-3.1 5-2.6-3.1-2.5-7.5-2.8-6.7-3.2-1.5-3.1 5.7-2.4 12.1-1.2 15.7-.5 15.4-.4 11.8-1 6.6-2 1.3-3.4-3-4.3-6.2-4.7-7.9-4.5-8.9-4.8-9.6-4.2-9.8-2.4-10-1.9-9.7-1.7-8.9-1.7-7.6-1.5-5.6-1.4-3.2-1.1-.7-.9 1.7-.5 3.6-.3 5.2-.1 5.9.1 5.9.2 5.1.2 3.3 0 1.1-.1-1.2-.4-3.3-.7-4.5-1.1-4.9-1.2-4.3-1.2-3.4-1.1-2.3-.6-2.1-.2-2.7.2-5 .7-8.2 1.1-12.4 1.3-16.4 1-19.7.3-21.1-.9-20.2-1.7-17-1.1-12.2 1.2-6.8 4-2.6 5.3-.7 4.2-.2 2.1-.3.2-.3-1 .1.9.9 2.9 2.9 3.5 5.5 2.7 7.9 1.7 9.7 1.4 11 1.5 11.7 1.7 12.2 1.8 12.2 1.5 12 1.2 11.5 1 10.8.9 10 1 9.1 1 8.3.9 7.5.6 6.9.1 6.5-.4 6.5-.9 6.5-1.4 6.7-1.7 6.7-1.9 5.8-2.1 4.2-3 1.8-5.8-1.2-6.1-4-6.2-6.3-5.8-7.6-4.6-8.2-2.9-8.1-2.1-7.9-2.7-7.6-4-7.8-4.9-8.2-4.2-8.9-2.2-9.5-.5-10.1-.8-10.5-2.1-10.7-1.9-10.7.7-10.3 3.7-9.6 4.2-8.7 2.4-7.9 1.9-6.8 4.2-5.4 7.4-3.8 8.6-2.3 7.6-1 6.8.2 11 1.8 8.7 2.6 7.1 3 5.9 3.1 4.1 2.6 2.5 2.3 1.2 2.4.3 3.4-.7 5.5-2 8-3.2 10.5-3.2 12.1-1.4 12.6 1.2 11.6 3.1 10 2.1 8.2-1.8 7-6.6 6.5-9.3 6.5-7.6 6.5-2.7 6.2 1.7 5.5 2.7 4.8.3 4-3.4 3.6-5.4 3.4-5.7 3.5-5.3 3.6-7.4 3.5-5 2.9-3.6 1.9-1 .1 2.2-2 4.2-4.9 4.1-7.8 2-10.5-.6-12.6-2.7-13.6-3.5-12.9-3.3-10.6-2.3-6.8-.7-2.3.5 1.4 1.7 3.5 2.3 3 2.5.3 2.7-3.7 2.4-7.2 2-8.8 1.2-7.9 0-5-1.2-1.4-2.3 1.2-2.6 2-2.4.4-1.2-2.5.9-6 3.5-8.7 6.2-10.4 8.3-11.1 9.3-11 8.8-10.5 6.5-9.6 2.8-8-.6-3.5-2.1-.4.5-.1-4.1.5-3.9.4-2.7.4-1.1.8.4 7 1.8 14.8 2.7 18.9 3.2 22.7 2.6 25.9.6 27.9-2 27.9-3.9 24.9-4.3 19.2-2.9 11.2-.7 2.3.6-5.6 2.1-10.5 3.2-11.8 3.2-9.6 2.6-5.1 1.1-.3-4.1 3.1-3.7 4.2-4.7 3.1-7.4.7-10.7-1.8-13.3-3.8-14.3-4.8-12.6-4.9-8.2-4.5-2.8-3.6 1.8-2.8 5.2-2.1 6.5-1.8 5.8-2 4-2.6 2.2-3.8.8-5.2.3-6.8-.1-8.4-.4-10-.6-11.4-.3-12.5.6-13 1.8-13.1 3-12.3 3.9-10.6 4.1-8.3 3.6-5.5 2.9-2.7 2.2-.6 2.9.6 8.5 1 6 0 6.8-.7 8.3-.3 8.8 2 7.6 6.5 4.8 12.9 1.8 19.1 0 23.5.2 24.1 1.1 20.3.9 12.8-1.6 4.2-5.5-2.4-8-5-7.9-2.9-5.7 2.7-3.1 9.4-1.6 14.2-1.1 15.8-1 13.6-1 8.9-1.1 3.3-1.8-1.3-3-3.9-4.2-4-4.8-2.1-4.9.9-5.3 4.1-2.6 6.7-.9 8.1.1 8.1.8 6.7 1.4 4.3 1.5.9.9-2.9-.1-6.9-1.5-10.8-2.6-14-2.9-16.1-1.6-17.1.6-16.7 3.4-15.8 5.6-14.5 6.8-13.4 7.2-12.7 6.3-12.8 3.8-13.2-.9-13.7-6-13.6-8.2-12.1-4.8-9 3.3-4.4 14.8-1.3 10.8 1.5 7.3 4.7 2.9 7.3-1 9.1-3.4 10-4.2 10.3-3.6 10.2-1.9 9.5.4 8.7 2.2 7.7 3.1 6.9 2.7 6.2 1.5 5.5.3 5.1-.4 4.8-.5 4.8-.7 4.9-1.2 5.4-2 6.1-3 7.1-3.3 8-3 8.8-2.2 8.6-2 7.4-2.2 4.6-3.4.5-4.3-3.9-5-6.8-1.7-6.6.2-3 1.1 1.4 1 2.1.6-4.8.2-18.2-.8-31.7-2.3-35.9-2.2-26.2.2-6 2.5 13.5 2.1 21.9.3 15-.5-2.2-.1-20.1 1.8-30.9 4.8-30.3 7.2-4.3 7.8-.9 8.6-.9 4.4-.5 3.6-.4 3.8 2.8 4 15.6 3.2 17.7 2.8 18.2 2.3 18.6 1.8 18.7 1.6 18.9 1.7 18.7 2.1 18.4 2.3 17.5 2.3 16 1.8 13.9.6 10.4-1.7 5.6-4.6-.7-7.7-7.8-9.6-13.2-8.8-14.2-5.1-9.3-.3 1 2.5 13.4.4 22.4-5 23.8-9.4 16.7-9.3 5-6.1-6.3-3.2-12.5-3.9-12.9-2.7-9.8-2.3-6.5-.7-5.2.6-6.3.5-8.8-.8-11.2-1.8-12.7-1.6-13.1-.5-12.9.8-12.1 1.5-11.5 1.2-11 .6-10.6.1-10.4.2-10.2.8-9.6 1.5-8.9 2.3-7.9 2.6-6.6 2.9-5.2 2.9-3.9 2.6-2.6 2.2-1.8 1.6-1.1 1.1-.9.6-1 .3-1.5.4-2.1.8-2.7 1.6-2.7 2.7-2 4.6-1.2 8.1-1 3.6-.1 1.9 1 .1 3.8-1.8 6.2-3.3 7.3-4.3 7.4-4.7 7.4-4.5 7.8-3.6 8.8-1.6 10.2.8 12 2.7 13.4 3.2 14.4 3.2 14.5 3.4 13.9 3.5 12.8 1.7 11-.9 8.8-1.5 6.8.7 4.9 2.5 3.2.7 1.5-3.6-.1-6.4-1.5-6.3-2.4-4.4-2.8-3.5-3.1-4.1-3.3-7-3.7-10.8-3.9-5.3-3.2-4.3-3.1-3.5-3-2.3-2.9-.6-3 1.1-3.3 2-3.6 1.9-4.2.7-4.9-.5-5.8-.9-7-.1-8.3 1.5-9.6 3.3-10.6 4.6-11.2 4.3-10.9 2.7-9.7-.1-7.7-2.8-5.1-4.2-2.6-3.8-.4-1.4.9 1.8 1.5 4.8 1.2 6.4.4 6.3-.7 4.9-1.7 4.3-2.3 4.7-2.6 1.8-2.4 2.1-1.8 2.4-.8 2.4.3 1.8 1.4 1.3 2.5 1.1 3.3 1.1 4.1.9 4.3 0 4.5-1.2 4-2.4 3.5-2.6 2.8-1.8 2-.3 1.4 1.4.9 2.5.8 2.8 1.3 1.8 2.7-.2 5.3-3 9.2-5.8 14.7-7.7 21-8 26.5-6.6 28.9-3.6 26.5-1.3 18.2.4 6.3.3-5.4-2.3-12.1-10.9-11.4-9.6-3-9.3 7.9-7.4 15.7-4.6 17.2-2.7 11.5-2.2.7-2.2-11.8-1.4-22.9.8-30.8 4-34.1 6.9-33.4 7.4-29.5 5.6-23.8 3.9-17.8 3.7-12.7 5.1-9.3 6.3-7.3 5.8-5.6 3.9-2.3 2.7-.6 3.3-.4 6.9-.8 12.5-1.4 8.7-1 6.8-.7 4-.5 1.3 0 .2 5.6-.4 19.7-.3 22.9 0 22.4-.2 17.8-.7 9.8-.7.8-.6-5.8-.1-7.8.5-4.2.6 3.1.2 11.1-.4 16.5-1.1 18.4-1.4 17.1-1.1 14.4-.5 11.9.3 10.6.6 9.5.2 7.5-.8 4-2-.2-2.7-3.9-2.6-5-2.2-2.7-2.4 2.4-4.9 7.5-8.6 9.9-6.3 8.1-6.2 1.9-5.6-6.7-4.9-14.3-5.3-19.4-5.8-20.9-5.6-19.7-3.9-17-1.3-14.3.5-12.3 1-10.8 1.3-10 3-9.3 5-8.7 4.7-8.1 1.7-7.6-1.2-7-1.3-6.1.8-5.1 2.5-4.2 3-3.4 3.2-2.4 6.4-1.7 6.7-1.1 5.7-.3 6 .2 6 .9 5.8 1.4 5.5 1.8 5.1 2.1 5 2.3 4.9 2.8 4.8 3.8 4.5 5.2 4.1 7 3.5 8.8 2.6 10 1.9 10.6 1.2 10.2.5 9.3-.1 8-.8 6.9-1.4 5.7-2.4 4.9-3.2 4.3-4.1 3.6-5 3.2-5.6 3.1-6.1 3.4-6 4.1-5.5 5.3-4.5 6.7-3.4 8.2-2.1 9.3-1.2 9.7-.7 9.2-.9 7.7-1.6 5.4-2.8 2.5-4.2-.7-6-3.4-9.2-5.5-7.2-6.7-4.1-7.1-1.4-6.6.8-5.9 2.2-4.9 2.5-3.9 2.3-3.2 1.8-2.8 1.4-2.6 1.4-2.7 1.3-3 1.5-3.3 1.4-3.7 1.2-4.2.7-4.5 0-4.8-.8-5-1.6-5.1-2.2-5.1-2.4-5-2.4-4.9-2.2-4.6-2.2-4.3-2.3-4.1-2.6-3.8-3.3-3.6-3.9-3.5-4.2-3.4-4-3.4-3.2-3.7-2.1-4-.8-4.4.5-5.1 1.8-5.5 3.3-5.7 4.7-5.5 5.7-4.6 6-3.2 6.4-1.4 7.7.3 14.5 1.9 8.2 2.4 5.5 2.9 3.5 3.3 2.7 4.6 4.3 6.7 7.7 9.5 10.1 12.4 9.3 14.9 4.7 16.2-1.2 16.6-5.3 16.2-6.6 15.2-4.8 14.2-1.9 13 .7 11.9 1.2 10.7-.6 9.5-4 8.3-7.4 6.9-9.4 5.7-9.3 4.5-8.1 3.3-6.4 2.3-5.7 1.4-7.9.5-5-.5-3.8-1.4-3.3-2.7-2.8-4.2-2.4-6.2-2.2-8.3-1.6-10.3-.8-11.2.4-10.8 1.8-8.6 3.2-4.8 4.3-.7 4.3 2.2 3.4 2.5 1.7-.6-.7-6.5-2.8-13.7-4.6-20.5-5.2-24.7-4.3-25.5-1.7-23.3 2.2-18.9 6.8-13.6 11-8.6 13.3-4.9 12.8-2.4 9.4-1 4.3-.2-.8.4-4.2.9-4.6 1.3-1.2 1.8 5.1 2.1 3.9 2.4 6 2.6 7.6 2.7 7.9 2.9 7.1 3 5.4 3.1 3.4 3.3 1.2 3.5-.7 3.7-2.2 3.9-3 4.3-3.2 4.8-3.2 5.7-3 6.6-3.2 7.7-3.5 8.6-4 9.1-4.3 9-4.1 8.2-3.3 6.5-2 4.6-.7 2.3.5.6.9-.3.6.3-.5 2.2-2.1 5.3-3.6 8.7-4.6 11.9-4.8 13.8-4.1 14.2-2.7 12.7-1.6 9.8-.7 6-.4 2.2-1.9-1-1-3-.7-4.1-1.1-4.7-1.6-5.1-2.1-5.7-2.1-6.6-1.6-8.1-.9-9.5.2-10.9 1.4-11.9 2.5-12.6 2.5-12.7 1.1-12.7-2.5-12.3-7.6-11.8-12.8-11.1-15.5-10.1-13.2-9-6.6-7.6-.9-6.2 4.4-4.7 11.6-3.6 17.2-2.6 18.3-2 16.4-1.7 13.4-1.7 10.9-1.8 12.6-2 4.2-2.5-.4-2.7-3.8-2.6-6-1.8-6.6-.6-5.4.3-3 1.2-.1 3.2 1.6 6.9 1.7 9.9.8 12.4-.5 14.4-1.3 15.6-1.2 16.1-.8 16-.5 15.3-.3 14.1-.6 12.8-.7 11.2-.9 9.5-.6 7.5-.3 5.5 0 3.4.2 1.3.5-.5.6-1.9.5-2.9.5-3.3.1-3.2-.4-2.6-.8-1.6-1-.5-1.3.5-1.2 1.1-1.1 1.1-1 .5-.8-.9-.7-2.4-.9-3.6-1.2-4.2-2.1-4.4-3.5-4.4-5.1-5.1-6.3-6.9-6.3-9.4-4.6-12.1-1.5-14.1 1.3-14.4 2.4-13.5 1.2-11.5-.6-9.9-.5-8.9 3-8.8 8.1-9 11-8.2 9.5-6.2 4.2-2.8-.1-.2-.4 2.2-2.9 5.2.3 7.1 2.9 8 3.4 8 1.6 7.6-.7 6.7-2.1 5.2-1.9 3.5-.2 2 1.7.8 3.4.6 4.2 2 4.2 5.4 3.3 10.2 1.8 15.2.3 18.5-.9 19-1.8 16.3-2.3 12-2.7 8.1-3.1 6.3-3.5 6.9-4.1 8.6-4.8 9.9-5.6 9.2-8.2 6.3-10.8 2.2-5.8-1.9-2.9-5.4-.6-8 .7-10 .7-11.3-1.3-12.3-4.2-12.8-7.1-13-8.4-12.8-7.4-12.4-4.7-11.7-1.2-11.2 1.7-10.4 3.5-9.9 3.8-9.1 2.7-8.4 1.1-7.2-.3-5.9-.5-4.3.6-2.5 2.9-.8 5.4.3 7.3.5 8.2-.7 7.6-3.2 6.5-6.6 5.3-9.9 6.6-10.7 7.6-4.2 5.5-.9 6.2-.6 6.4.4 5.8 11.2 4 16.9 2.5 15.7 1.8 11.7 1.4 7.3 1.6 3.8 1.7 2.7 1.8 3.6 1.8 5.9 1.8 8.8 1.6 11.5 1.3 13.5.8 14.9.2 15.5-.7 15.4-1.5 15-2.3 14-2.6 12.8-2.3 11.5-1.7 9.9-.5 8.2.6 6.2 1.2 4.4 1.2 2.3-.2.7-2.5-.5-5.4-.9-8.1-.8-11.9-.1-13.3.9-8.6 1.7-8.2 2.2-9.2 2.5-10.5 2-10.2 1-7.5-.9-2.8-3.1 1.5-5.9 3.6-8.8 2.3-12.3-1.3-16-4.3-19.9-4.8-23.4-2.3-25.5 2.2-25.2 7.1-22.5 10-17.6 9.6-12 6-7.3 1.5-4.9-1.5-5.2-1.7-7.1.4-8.9 3.6-9.3 6.1-7.2 7.4-3.3 5.9-.5 3.9 1.7 2.8 4 2.9 5 4.9 4.5 6.9 3.4 3.8 1.6 3.4.3 3.3-.9 3.2-1.8 3.2-2.3 2.7-2.5 1.9-2.4.8-2-.4-1.4-1.4-.5-2.2.6-2.7 1.8-2.7 3-2.5 4.1-2 4.9-1.6 5.5-1.1 5.8-.5 6-.2 6 0 6.2.1 6.3-.1 6.5-.3 6.8-.5 7-.6 7.4-.2 7.8.7 8 2.2 8.4 3.7 8.5 5.1 8.8 5.5 9 4.9 9.5 3 10.4.4 11.7-1.7 13.4-3 15.4-3.1 16.6-2.4 16.3-1.6 13.6-1.3 8.6-1.8 2.1-3-4.2-5.1-8.2-7.8-8.7-11.6-5.8-17.9-.9-9.9 4.4-5.6 6.8-1.7 5.1 1.3-.8 2.3-9.3 1.4-18.9.1-26.7-.6-31.5-.4-31.8-.3-27.8-1.2-20.7-2.4-12.5-2.2-5.9.1-3 3.1-4.2 4.2-7.8 2.6-11.7-.1-13.3-1.2-10.9 1.3-4.1 8.6-1.2 7.4.3 5.3 4.7 1.7 9.1-.8 10.6-.1 11.2 3.3 11.1 5.9 11 5 10.8.5 10.2-4.4 9.7-6.5 8.9-5 8.1-1.8 7.4.3 6.8-.4 6.2-2.9 5.8-5.1 5.3-5.9 4.9-5.6 4.7-6 4.6-9.8 4.5-5.3 4.8-4 4.8-1.8 3.9 1.2 2 3.6-1.6 3.7-6.8 1.5-13.2-1.4-19.2-2.3-23.1-.1-24.1 3.8-21.7 7.4-17.3 9.4-12.6 9.8-8.8 8.7-6.1 7-4.1 6-1.5 10.1 2.3 5.9 5.7 5.9 9 5.3 10.8 2.8 11-.2 10.4-2.8 9.5-3.6 9.1-2.8 9.3-.8 10 1.5 11 2.6 11.6 2.1 12 .4 11.8-2 11.2-4.2 10-5.9 8.6-6.7 6.7-7 4.7-6 2.6-5.1.3-3.6-1.9-2-3.9-.7-5.4-.8-6.6-3.8-7.1-1.4-7.1-1.9-6.7-2.5-5.7-2.2-4.7-1.3-3.7.1-3.1 1.1-2.9 1.3-3.4.3-4.6-1.6-6-3.5-7-4.2-7.4-2.7-7 .1-6.2 2.7-6.2 2.4-7.7-.7-10.7-5.1-13.7-7.6-15-5.6-12.6.4-6.5 6.9.8 10.1 6.7 8.7 8.7 4.4 6.1-.4.8-4-5.2-5.6-9.2-4.4-10.5-.6-8.5 5.2-3.9 14.7-2 15.4-1 12.8 1.3 9.8 4.4 5.3 6 1.1 6.7-2 7-3.3 7.1-3.3 7.6-2.8 8.3-2.5 9.4-2.6 10.8-2.8 12.2-2.4 13.4-1.2 14.3.3 14.7 1.9 14.4 2.7 14 2.4 13.5 1 13.2-.5 13.7-1.5 14.6-1.4 16-1.2 17.3-1.3 18.2-1.8 17.7-2.6 14.8-3.1 9.1-3 3.6-3.1.9-6-.8-4.7-3.8-5.4-11.1-6.5-19.8-7.3-24.8-7.6-26.8-6.8-26.6-5-24.4-3.2-20.9-1.7-16.3-.9-11.5-.9-7-1.3-3.4-1.2-1-.5.2 1.1.1 3-1.1 4.6-3.1 4.9-5.6 3.5-8.3.7-10.7-2.2-12.2-4.1-12.7-4.4-12.1-3-10.4-.2-8.2 2.7-5.7 5.3-3.4 7-1.8 7.5-.8 7-.4 5.9-.5 4.7-.9 4.2-1.4 6.7-1.5 4.7-1.4 3.7-.9 4.1.1 4.7 1.8 4.8 4.1 4.1 6.6 2.6 8.5.7 9.8-1.2 9.9-2.1 9-2 7.2-1 5.2-.1 3.5.3 3-.1 3.6-.9 5.6-1.4 8.2-1.2 11-.7 13.2-1 14.4-2.2 14.4-3.7 13.4-4.6 11.6-4.3 9.3-3 6.7-2.2 4-2.3 1-3.4-1.7-5.3-4.3-2.9-5.9-2.5-7.2-1.9-7.7-1.6-7.8-1.4-7.3-1.1-6.5-.7-5.8-.2-5.2.4-5.2 1-6 1.2-7.6 1.3-9.8 1.2-12.1.9-13.2.1-12.4-1-9.7-2.1-5.7-2.7-2.4-1.9-1.5.9-3.8 5.2-8.3 10.2-13 14.7-14.5 16-6.4 6.5-1-.6.1-4.7.8-4 8.1.3 19 4.8 20.5 6.2 19.8 3.3 18-.7 16-2.6 13.8-1.4 11.9 1.4 10 2.7 8.2 1.3 7-2.3 6.2-5.9 6.2-7.5 6.5-7.1 6.7-5.6 6.7-4 6.2-3.1 5.2-2.7 3.8-2.6 2.5-3.9 1.8-4.2 2-.7 2.3-.7 2.1-1.8-.1-3.6-4.9-5.3-11.1-5.9-15.9-4.6-17.5-1.5-15.5 1.8-13.1 3.2-12.9 2.4-15.7.4-18.3-1.2-17.2-.3-12.2 2.8-6 6.6-2.7 8.7-3 7.7-5.3 4.5-7.4.7-7.6-1.7-6.5-1.5-4.5.1-2.7 2-1.7 4.9-1.5 2.3-1.6.4-1.7-.9-1.2-1.8-.3-2.4 0-2.6.2-2.7.3-2.6.3-2.1.3-1.5.2-.1.1 1.4 1.2 3.1 6.6 4.7 11.7 5.8 14.2 5.8 16.4 5 17.8 3.1 18.8.8 18.8-1.1 18.2-2.1 17-1.9 15.5-.7 13.9.6 12.1 1.1 10.2.6 8.2-1.2 6.1-2.8 4.4-4.1 3-6.8 2.2-.8 2 1.3 1.5 1.1.4-1.1-2-4.1-5.2-6.7-9.2-7.8-13.1-7.1-16.3-5.1-18.3-2.2-18.7.4-17.8 2.6-15.5 3.8-12.6 3.9-9.6 3-6.9 1.4-5.1-.9-4.3-2.8-4.5-3.8-5.4-2.5-6.8 1.3-8.4 6.1-9.6 9.5-10.3 9.1-10 6.5-7.9 8.4-3.7 2.5-.6 5.9 2.8 9.9 10.1 8.4 15.7 2.7 19.1-2.8 20.4-3.9 19.3-1.4 16.5 1.8 12.9 3.3 9.9 2 8.2-1.1 7.8-4.1 8.3-4.8 8.6-3.3 8-1.5 6.3-1.1 3.8-1.9.8-3.2-1.7-3.4-3.7-2.6-4.6-1.9-4.5-1.7-3.8-.5-2.6-.4-1.5-.6-.4-.7.1-.8.3-1 0-1.3-.5-1.7-1-2.4-1.6-3.2-2-3.9-2.4-4.5-2.9-4.5-3.6-4.3-4.5-3.4-5.7-2.4-7.2-1.1-9-.2-10.8.2-12.3-.5-13.5-2.1-13.9-3.7-13.5-4.1-12.4-1.5-10.7 3.9-8.8 10.5-6.9 14.8-5.5 14.7-4.3 10.3-3.1 7-1.8 7-1.1.5-.1 3.3.3 6.9 4.3 7.9 11.2 4.8 14.8.6 16.6-2.9 17.2-4.1 16.6-3.4 15.3-1.8 13.6-.7 11.4-.8 9.2-1.7 7.2-3.1 5.9-4.2 5.4-4.6 5.8-4.5 6.8-3.9 8.2-3.4 9.3-2.5 9.7-1.6 9.3-.8 7.5-.2 5 .1 1.8-.3-1.6-.3-4.7-.4-7.2-.6-9-1.1-10.2-1.4-10.9-1.9-11.2-2.5-11.3-3.5-11.1-4.4-10.6-4.7-10.1-3.8-9.2-2.4-8.4-2.1-7.5-3.6-6.9-5.8-6.7-6.2-7.3-4.4-8.5-2-10-.6-11.3.1-11.7 1.3-10.7 4-6.7 6.6-2.3 8.7-.8 12.3.9 6.6 5.6 4.5 8.4 4.6 8.8 6.4 8.5 8.6 7.5 10.1 6.6 10.1 5.5 8.7 4.7 6.3 3.8 3.5 2.8.8 1.5-1.5.4-3.6-.9-5.3-1.7-5.9-1.9-4.6-1.1-1.1.7 3.9 3.3 7.5 6.6 6.8 9.7.5 12.3-8.1 13.8-12.8 14.3-9.9 13.7-3.1 12.1.3 9.8-3.2 7-9.1 4.6-11.2 2.8-7.7 1.7-3.7.9-4.8-.5-2.8-2.4-3.7-5.3-2.6-8.6-.2-11.7.4-13.8-3.4-14.4-9.3-13.2-11.3-10.6-5.8-7.4 5-5 17.1-4.7 23-6.4 19.6-8.9 9.2-10.7-1.4-10.2-5.9-7.6-2.1-4.3 6.5-2.4 2.1-2.5-1.1-1.7-2.5 2.2 1.3 10.1 8.4 19.1 11.8 24.9 8.3 24.7.9 19.8-4.1 14.1-4.7 12.4-4 15.9-5.3 21.8-9 25.9-11.8 24.5-11.8 17.3-9.9 6.5-7.6-4-6.1-11.5-5.3-15.1-5.7-15.3-7.7-13.8-2.4-10.9-.7-9 .5-8.1 1-8.2 1.3-8.9 1.5-10 1.5-10.8 1.8-11.1 2.2-10.8 2.8-9.9 3.2-8.9 3.7-8 4-7.9 3.8-8.8 3.2-10.5 2.4-12.5 1.5-13.5 1-12.8 1.7-9.8 3.1-4.8 4.6.3 4.8 4.6 3.9 7 3.4 6.4 6.7 3.2 5.9-1.4 9.3-5.9 12.8-8.9 13.2-9.1 8.2-5.2 1.3-.8-3.7.4-5.1 5.6-3.8 10.3-1.9 12.9-1.9 14.3-3.6 15-4.8 15-4.4 14.3-3.4 13.2-3.3 11.9-4.7 10.3-6.8 8.3-7.7 6.2-6.8 4.1-4.8 2-2.9-.1-2.4-1.9-2.9-3.4-4.1-4.1-6.7-3.8-3.4-2.1-.9.1.7 2.3 1.5 3.7 1.4 4.1.6 3.7-.1 3.2-.4 2.9-.1 2.3.7 1.2 1.6-1.3 2.1-5.1 2.5-9.5 2.4-13.3 2.2-15.9 2.1-16.5 1.8-15.7 1.9-14 1.9-12.1 2.1-9.9 2.4-8.2 2.7-6.5 2.9-5.1 3.1-3.8 3.1-2.7 3-1.8 2.8-.8 2.5-.2 2.2.6 2.5 1.2 1.5 1.8.9 2.1.6 2.5.4 2.6.3 2.7.7 2.9 1.5 3.3 3.1 4.1 4.6 5.4 5.6 7.1 5.4 8.9 3.6 10.5 1.3 11.4-1 11.6-2.9 10.8-4 9.3-4.3 7.5-3.8 5.8-2.7 4.6-1.6 4.3-1.2 4.7-2.1 5.4-3.8 6.3-5.2 7.2-5.4 7.7-4.2 7.9-2.3 7.4-1 6.5-1.5 4.8-6.6 2.6-6.1.4-7-1.8-7.6-4-6.7-6-4.8-8.2-2.4-10.7-.8-13.7-.4-16.9-.7-20-1.1-22.5-1.1-23.5.4-22.7 3.9-19.9 8.2-14.1 11.4-4 11.2-1.5 10.5-1 12.2 1.2 5.2 9.2 3.9 13.5 3 15.4 1.9 16.2 1 16.4.9 16.2 1.3 15.7 1.1 15-.3 14.2-2.8 13-4.8 11.2-5.6 8.7-4.5 5.4-2.2 1.9.4-.8 2.4-1.4 3.3.9 3.2 5.9 2.2 12 .8 17-.8 19.1-2.6 17.2-4.5 12-6.5 5.3-8.4-1-11.1-5.5-7.4-8-5.4-8.7-3.9-8.6-3.2-8.5-2.9-8.9-3.2-9.6-3.6-10.4-3.6-10.5-2.7-9.8-1.1-8.1.9-6.1 2.8-4.5 3.8-4.1 3.4-5.3 1.8-8-.6-11.3-3.3-14.1-5.5-15.6-6.3-15.4-5.1-13.8-1.8-11.6 2.8-9.5 7.1-8.2 9.1-7.6 8.4-7.6 5.6-7.3 2.7-6.3.7-3.1 1.2-.9 6.1-.6 2.9.6 3.2 5 2.5 11.1.3 14.6-2.2 16.8-3.7 17.4-4.1 16.8-3.4 14.4-2.4 11.1-1.2 7-.4 2.5.3-1.3.7-4.3 1.1-5.8 1.3-5.7 1.5-4.1 1.7-1.3 1.7 2 1.7 5.5 1.4 8.3.6 10.3-.2 11.2-1.2 10.9-1.9 9.8-2.1 8.2-2 6.4-1.4 4.6-.6 3.2-.1 1.7.1.6-.6-.6-.2-1.7.2-2.8.3-4 .2-5.3.5-6.5.7-7.8.8-9.2.9-10.4.5-11.5-.1-12-.9-11.9-1.8-10.8-2-8.5-1.4-4.8.1-.5 1.7 3.4 2.8 5.1 2.2 3.4.4-2-1.9-10-2.8-17.7-.6-22.3 4.9-21.3 12-9.1 16.7-2.1 21.5-1.4 11.3 8.8 2.5 14.8-2.4 14.1-2 11 2.1 7.7 6.5 5.4 8.2 4.3 6.3 4.4 2.4 5.2-1.7 6.3-4.5 7.8-5.9 9-5.9 10.1-4.9 11-3.3 11.4-2.3 11.7-2.2 11.4-3.6 10.9-5.5 10.1-7 8.8-7.6 7.3-7.2 5.2-7.9 2.3-7.5-.9-3.4-4.3-.6-7.3 2.1-9.1 4-9.6 3.4-9 .8-8.4-1.8-8.1-2.6-8.9-2.6-10.7-2.9-13.1-3.4-15.8-3.1-17.7-1.4-18.7 1.1-18 2.4-15.7 2.1-11.4.4-5-1.7.4-3 5.4-3 10.4-2.4 10.9-1.3 7.2 1.1.3.1-7.2-.1-12.2-.2-11.2-.5-3.8-.4 3.6-.6 15.8-.5 24.7-.5 27.7-.4 25.7-.1 20.1.6 13.9 1.6 8.7 3.1 5.6 4.3 4 4.3 3 2.8 2 .6.5-1.1-1.3-1.9-2.2-1.9-1.8-2.1.3-2.4 3.6-3.6 6.4-1 7.5 2.1 5.5 2.7.7 2-5.3.5-11-1.2-14.4-2.7-15.3-3.2-14-2.5-12-.6-9.8 1.7-8.2 3.5-7.6 4.4-7.9 4.3-9 3.3-10.2 1.9-11 .7-10.8-.2-9.2-.7-6.6-.7-3.6-.5-.9-.2 1 .3 1.9.9 2 1.9 1.5 5.5.9 4.9.3 3.9.3 3.8.5 4.1 1.2 5.2 2.3 6.7 3.7 7.6 5 6.5 6.3 3.3 7.4-.4 7.9-3 8.3-3.2 8.7-2 9-1.7 9.7-4.2 10.6-8.9 11.8-12.9 12.8-12.6 13.6-6.8 14 1.4 13.9 6.8 13.6 5.2 12.9-1.7 12.3-7.9 11.8-8 11.3-3.1 10.4-.8 7.7-3.6 3.4-4.2-1.8-8.3-7.4-7.9-12-2.8-14.6 3-15.6 6-15.3 5.5-14.7 2.9-14.3-.2-14.8-2.2-15.7-2.6-16.5-1.6-16-.4-14.3-.8-11.7-2.5-9-2.9-7.4 0-7.3 5.4-8.3 9.5-9.8 9.6-10.5 6.8-8.6 5.4-3.4 9.3-1.3 18.9-1.8 14.4.4 11.7 5 5 7.4-1.4 8.2-6 8.2-7.9 7.9-7.1 7.9-4 8.3.2 9.6 3.7 11.4 5.2 13.8 4.3 16.3 1.7 18.2-1.2 18.7-3 17.5-3.6 14.2-3.3 9.2-3 3.5-2.9-1.3-3.6-3.6-4.6-2.4-5.8 1.8-6.7 7.1-9 10.5-7.5 10.6-5.4 6.8-3.7.1-1.6-7-.2-12.8.3-15.6-.5-15.6-2.8-13.7-4.8-10.7-4.9-7.8-2.1-5.3 2.5-3.7 6.2-3.3 6.1-4.1.9-6-6.5-7.9-11-9.4-8.6-9.7-.2-9.1 8-8.4 8.5-8.4-.5-8.7-12.3-8.9-16.8-8-8.7-6.1 5.5-3.9 20.3-2.1 26.3-1.1 23.4-.4 1.2.1-9.2 1.2-7.9 3.3 0 6.8 7.3 11.5 8.8 16.6 5 20.6-.2 21.2-3.4 17.5-3.5 10.9-1.9 4.7-.4 2.3-.3 5.6-1.9 12.9-4.4 20.2-6.6 23.8-7.4 21.8-6.2 15.2-5.8 6.3-4.8-1.9-5.4-8.3.1-11.5 1.3-13.4-.4-14.3-2.6-14.9-3.6-15.5-2.6-16-1.2-16.5-1.7-17.1-4.4-17-7-16.2-7.2-14.3-6.1-11.8-4.4-9-1.6-6.5 3.4-4.3 18.1-2.9 32.3-2.6 28.4-3.2 13.4-4.2-.7-5.2 0-5.1-6.1-3.7-2.4-1.2 1.6 1.1 3.1 6.3 2.4 13.3 2.5 18.7 3.3 22.1 4.1 22.9 3.7 21.1 1.7 17.4-1.1 12.8-3.3 8.1-3.7 4.4-2.7 1.4-1.1-.2-.8-.7-2.2.6-4.5 3.7-5.7 7.8-5.1 11.7-3.2 13.3-1.2 11.8-.4 6.8-.9-.6-3-8.1-2.3-14.1-1.5-17-.7-16.7-.5-14-.8-10.3-1.6-6.7-2.3-4.3-2.5-2.9-2.2-2.5-1.5-2.5-.8-3-.5-3.9-.8-5.1-1.5-7-1.8-9-1.1-11.3.6-13.2.8-13.7-2-12.7-7-9.8-9.4-5.5-3.6-1.6 12.3.6 18.5 4.2 27.9 6.6 31 8.4 26.7 9.7 16.4 10.9 5.8 11.6-.1 11.8-4.4 11.3-8.6 10.4-11.1 9.1-11.1 8-9.4 7.5-6.8 7.6-3.4 8.9-.1 10.9 2.9 12.9 5 14.5 5.6 14.6 4.1 13.2.8 9.9-3.8 5.4-8.2.9-10.3-2.8-9.3-5.1-6.7-6-5.5-6.2-3.1-6.3-2.3-6.5-2.2-6.9-1.8-7.1-1.6-7.3-1.4-7.3-.9-7.7-.2-8.2.8-9 1.3-9.8 1.2-10.3.6-10.5-.2-9.9-.6-8.8-.7-7.6-.7-6.4-.5-5.3-.3-4.4-.3-4-.4-3.6-.6-3.4-1.1-3.5-1.7-3.3-2.2-3.4-2.5-3.3-2.4-3.2-1.9-3.2-.9-3.2.5-3.4 2-3.6 3.6-4.1 4.6-4.4 4.9-4.1 4.5-2.9 4.2-1.2 6 .8 2.5 5.1 2.7 10 5 12.6 8.1 12.2 10.9 8.9 11.5 3.9 9.1-.6 4.3-2.7-.7-1.2-3.5 3-2.4 8.2 2 12.4 6.7 14.8 8.1 15.3 5.3 14.4.5 12.8-4.9 10.9-10 8.8-12.2 6.6-11.3 4.6-8.7 2.8-5.8 1.1-4.2 0-3.7-.9-4.5-1.3-5.5-1.3-6.7-.9-7.6.3-8.6 2-11 4.2-6.4 6.5-4.6 7.8-4.3 7.5-3.7 4.6-3-.6-2.3-7.2-1.4-13.8-2.7-19.1-2.2-21.1-1.1-19.7 0-15.3 1-9.4 1.3-3.7 1.1.4.8 2.2.4 1.9.7.4 1.3-2 2.4-4.3 3.4-6.6 4-8.6 3.9-9.9 3.3-10.2 2.9-9.3 3.4-7.2 5-4.7 6.8-2.3 7.6-1 6.7-1 3.8-2.2.9-3.8.5-4.9-1-4.9-.3-3.1 1.7-.8 2.7 2.3 2.4 6.7 1.3 10.4 1.3 12.6 2.6 13.4 4.3 13 4.9 12.3 3.3 11.7-.1 11.8-3 12.7-4.2 13.6-3.4 14.3-1.6 13.7 0 11.9 1 9.2 1.3 5.9.7 2.8-.5.6-2.3-.7-4.3-1.3-8.5-1.8-7.1-2.1-5.6-2.5-4.4-3-3.6-3.4-3.9-3.2-5.4-2.9-7.1-2.5-7-2.4-4-3.4.5-5.5 3.9-8.7 3.8-12.4.2-15.6-4.3-17.1-6.4-16.3-4.6-13.6.2-9.7 4.6-6.3 6.6-4.2 5.5-4.2 3.6-5.8 3.8-8.2 6.6-10.6 10.9-10.8 16-4.4 21.4-2.5 14.4-1.6 13 1.6 11.6 5.1 8.9 6.7 4.6 4.9-.1 1.2-5.8 17.5-8.1 21.9-8.1 21.4-6.5 19.5-4.6 16.5-2.9 13.2-1.5 9.6-.6 6.4-.3 4.1-.8 3.3-2.5 4.4-5.2 7.2-8 10.8-9.1 14-7.8 15.5-5.7 14.3-9.9 10.3-11.5 4.4-12.4-2.4-15.6-9-14.4-14.3-9.1-17.4-2.8-18.7 1.3-18.4 3.6-17.3 3.4-15.5.6-13.6-2.4-11.6-3.4-9.6-2.3-7.6.4-5.9 4-4.2 8.1-2.9 11.4-1.9 12.8-1.2 12.6-.8 11.8-.9 10.6-1.6 9.3-3.1 8.1-5.3 10.1-7.2 1.5-8.8-2.6-8.3-4.4-5.9-3.8-2-1.1 1.7 2.1 3.9 4.9 4 6.7 2.8 7.1 1.8 6.3 2.4 4.7 4.8 3 8.1 1.8 10.8 1.6 12.1 1.8 11.6 2 10.3 1.6 9.2.1 8.8-2.1 9.2-4.3 10.8-5.8 13.3-6.4 16.3-6.4 19.4-7.1 21.8-9.1 22.9-16.3 21.4-14.1 17.7-11.4 10.7-8.2 1.1-4.5-10.3-.8-22 2.4-31.4 6.4-36.2 8.5-35.4 6.7-30 .7-23-5.3-17.4-6.5-14.5-2.5-13.8 2.9-13.4 4.5-10.9 1.5-5.4-2 .4-1.6 6 6.7 9.8 17 10.1 17.3 7.3 17.4 3.9 12.7.9 5.4-.7-1.7-.6-6.1.3-7.1 1.7-5.1 2.7-1.6 3.4 2.1 3.7 4.3 3.7 4.6 3.8 3.1 3.8 0 4.1-3.4 4.5-6.3 5.1-7.8 5.7-7.8 6.3-6.6 7.2-5.2 7.9-4.3 8.6-3.9 9.3-4 9.6-3.7 9.8-2 9.4.3 8.8 2.9 7.8 3.7 6.9 2.3 6.2-1.6 6-8.9 6-7.4 6.6-5.9 6.7-3.5 5.6-1 3 1-1.4 2.2-6.6 2.6-11.7 1.8-15.6-.4-17.9-3.7-18.4-6.7-17.9-6.9-17.1-3.5-15.7 2.7-14.2 9-12.4 12.7-10.7 11.9-9.5 7.4-9.1 1.3-9.3-4-9.8-6.4-9.4-5.8-7-2.4-2.2 4.1-.8 7.5-.1 6 2.6 7.9 6.8 10.2 9.1 11.3 10 9.3 10.4 3.3 10.5-4.4 10.7-8.9 10.8-7.2 11.2-1.1 11.6 3.8 12.1 3.7 12.2.1 12.2-2.5 12-2.2 11.5-.4 10.6-.1 9-1.6 6.6-3.8 3.6-5.2.3-5.8-2.2-6.4-2.9-6.8-.4-6.6 4.3-5.7 8.8-5.4 8.9-1.4 3.1-.8-7.9-1.8-18.2-3.2-22.6-3.7-19.1-3.1-10.6-2.1-3-1.4.2-1.2-1.3-1.2-4.9-.8-8.6.3-11.3 1.4-13.6 2.4-15.7 2.9-17.1 2.6-17.1 1.9-15.5.8-11.5.2-3.4.3-.3 1.3-.2 3.1-.2 7.4.7 6.8 4.4 4.2 6.6 2.1 6.8.9 6.8 1.9 6.8 5.1 7.1 9 7.6 9.8 8.2 5.6 8.9-1.3 9.4-5.5 9.8-3.1 10.2 2.4 10 4.8 9.1 1.5 7.7-2.6 6.3-2 5.2 2.9 4.4 6.2 3.9 4.1 3.4-1.8 2.9-7.6 2.1-12.2 1.4-6.9.7-5.7.1-6.2.3-7.5.9-8.1 2.1-7.7 3.1-6.2 3.8-3.7 3.3-1.2 1.6 1-1.6 2.7-5.9 3.4-10.2 3.3-13.7 2.7-15.6 1.7-14.9.8-11.9 0-7.5-1-3.2-2.1-.3-3.4-.3-4.1-3.2-3.4-8.2-.8-13.5 3.2-17.8 7.6-19.4 10.9-16.7 12.2-4.2 13.3-1.5 4.5-.5.5 0-1.3 3.1-1.8 14.7-1.4 17.2-.7 16.3-.2 14.2-.1 11.5-.3 9.4-.7 8.6-1 9.1-.9 11.1-.7 13.4-.8 15.5-1.3 16.1-1.9 14.5-2.2 10.4-2.7 5-4.2-.7-7.3-5.3-5.6-7.6-5.9-7.7-5.3-6.3-3.5-4.3-2.1-2.6-1.9-2.2-3.5-2.9-5.6-4.5-7.1-6.5-6.6-8.4-4.3-9.6-1-10.4 2.3-10.8 5.4-11.1 7.1-11.3 7-11.4 5.9-11.5 4.3-11.4 3.1-11 1.9-10.5.9-9.6.4-6.2.5-1.4 1.3-.3 2.5-.3 3.8-.4 4.5-.5 6.1-.7 5.3-.6 3.6-.4 3.4-.3 3.4 1.1 3.1 10.5 2.7 15.5 2.8 17 2.9 17.4 2.2 16.7 1 15.1 0 12.9.5 10.5 2.3 8 3.7 5.6 3.4 3.4 1.2 1.6-1.3 1.2-2.9 2.9-3.1 7.3-3.4 13.5-4.3 19.5-5.7 22.7-6.4 21.2-7.1 14.3-7.8 3.8-9.6-7.3-4.8-15.2-4.4-18.3-4.6-16.4-4.6-11.1-4.5-5.3-3.8-1.4-2.7-.9-1.1-3.5.4-8.2 1.4-13.3 1.7-17.7.9-20.3-1.3-21.2-4.2-20.6-5.3-18.8-2.3-15.9 4.9-12.2 12.3-7.2 14-3 6.9-1.2-1.7.1-3.7.4 9.1-1 11.6-1.3 12.3-1.2 10.2.2 6.1 5 2.2 9.6.5 12.1.3 13.5.2 13.6 0 12.4-.1 10.5.1 8.4.5 7.1 1 7.1 1.4 8.4 1.3 10.5 1 13 .6 14.9 0 15.9-.5 15.6-1 14.1-1.4 11.6-1.9 8.5-2.4 5.2-2.8 2.3-3.2-.2-3.3-2.1-3.4-3.7-3.4-4.8-3.6-5.7-3.9-6.4-4.3-7-4.5-7.5-4.9-8-4.7-8.4-1.9-8.6-1.4-9-1.7-9.1-2.3-9.2-2.6-9-1.9-8.5-.2-7.7 1.5-6.7 2.1-5.9 1.1-5.2-1.1-5.2-3.4-5.7-4.7-7.1-4.4-8.5-2.9-9.9-1-9.9.6-8.5 1.4-4.8 1.4.2.6 5.7 0 10.1-.4 11.9-.3 10.1.4 4.8 1.5-3.2 3-11.7 4.2-18.6 5-22 6.9-11.9 4.7-.6.3-.1-1.5.2-1.9.2-1 1.8.2 18.9.8 20.9.4 17.2-.4 12.1-1 6.9-1.3 2.8-1.3.5-1.2.4-1.2 1.9-1.1 4.3-1 7-.5 9.3.2 10.9.6 11.6 1.1 11.7 1.3 11.2 1.5 10.5 1.8 9.6 2 8.9 1.8 8.2 1.4 7.5.9 7 .5 6.2.3 5.5.1 4.4-.1 3.1-1.3 1.5-4.4-.6-2.3-2-2.9-3.5-3.8-5.1-5.1-6.4-6.2-7.3-6.8-8.1-6.4-8.7-5.1-9.4-3.1-10.4-.9-11.9 1.1-13.8 2.2-16 2.5-17.7 1.8-18.5.7-17.3-.2-14.1-1-9.2-.8-4.3.5-1.5 2.6-1.9 3.8-4.5 2.9-6.7.9-5.8 1.4-2 7.6 2.3 18 4 15.2 3 14.4.6 11.6.3 8.2 2.9 6.3 7.6 5.4 11.2 4.9 12.2 4.1 10.3 2.9 7.2 1.9 4.7 1.4 3.9 1 4.5.2 6.4-.9 8.8-2 11.2-2.4 13-2.1 13.9-1.8 13.9-1.6 12.9-1.9 10.8-2.3 8-2.4 4.9-2.5 1.6-2.9-1.4-4.1-3.6-5.5-4.7-6.9-4.7-8-3.7-10.1-2.2-5.4-.5-2.9.3-1.4-.5-.5-3.1-.4-7.2-.7-12.3-1.1-17-1.8-20-2.2-19.9-2.5-16.3-2.1-9.2-1.6-.7-1.1 6.7-.9 10-1.3 7.3-2.2-1.4-3.1-13.6-3.2-24.3-1.7-29.6 1.5-21.5 5.2-1.1 6.7-.7 7.2-.8 7.2-.9 7.7-.4 9.7 4.9 6.2 7.6 4.8 4.6 3.6 2.1 2.6.6 2.1.3 2 1 2 2.6 2.1 4.8 2.1 7.5 2.5 10.1 3.2 12.6 4 14.2 4.2 14.9 3 14.4.7 12.6-1.2 10.2-1.5 7.5-1.4 5.4-3.9 4.9-9.7 6.2-14.9 9.5-13.4 12.9-5.8 14.4.4 11 .5 1.4-5.9-12.9-4.6-25.9-4.3-30.1-4.6-22.2-4.7-7-2.7 6.1.7 10 2.5 4 2.2-7 1-17.2.1-23.6.5-25.2 1.8-22.4 2.9-15.6 2.8-5.7 1.9 1.3.9 7.3.2 10.1-.1 8.5.1 4.5.6.1 1.4-3.6 2.1-5.5 1.5-6 1.2-4.9.9-3 .5-.7.3 1.7.2 3.9.2 5.7.5 7 .8 8 1 8.4 1.2 8.6 1.3 8.6 1.3 8.3 1.1 8.1.4 8.2-.4 8.6-1.3 9.7-1.8 11.2-1.9 13-1.7 14.7-1.1 15.7-.6 15.7-.3 14.4-.1 12.2-.2 9.4-.7 6.8-1.4 4.9-2.4 4-3.6 3.9-4.9 3.6-9.1 2.5-5.1-.6-3-4.7-2.5-8.6-3.5-10.2-5.3-8-6.7-2.2-6.2 5.5-4 11-1.6 10.3-.7 1.4-1.6-14.4-3.3-32-4-45.7-2.6-51.2.1-47.5 3.5-33.3 7.4-1.8 9.1-1.1 9.8-1.1 10-1.2 9.6-1.1 8.2-.9 6.2-.7 4.9-.5 10.2-1.1 4.7-.3 4.3.9 6.3 5.2 8.2 9.9 8.6 13 7.2 15.5 4.1 16.9.3 16.7-3.1 15-5.5 12-6.3 8-5.4 4.1-3.1 1.1-.8 0 .9 1.3 1.1 5-.1 10.5-1.5 16.8-2.8 21.8-3.3 24.5-3.3 23.4-2.7 18.7-2 11.6-1.2 3.6-.9-3.6-2.5-8.7-1.9-11.4-1.9-12-2.3-11.2-2.6-10-2.8-8.8-2.7-8.1-2.9-7.7-3.3-7.7-4.3-7.9-5.8-8.4-7.3-9.1-8-9.9-6.9-10.9-3.7-12.2.7-13.9 4.6-15.6 5.5-17.7 2.5-19.6-3.8-21-8.5-13.5-7.5.6-.6.1 12.1-1.4 31-3.5 27.8-3.1 23.5 13.1 13.9 24.1 6.4 19.1 2.3 11.4.8 4.7-.3 1.2-2.2 1.5-3.8 4.7-3.2 8.7-.2 12.4 3.5 15.2 5 16.9 2.9 17.6-1.7 17-6.4 15.3-9.4 12.6-9.6 9.7-7.4 7-4.9 5.1-4 4-5.1 3.4-8 3.2-11.6 3-17.5 2.3-12.6 2.3-8.9 1.5-4.7.3-.4-1.5 2.9-3.9 4.4-6.6 3.8-9.7 1.6-12.8-1-15.4-2.8-17-3-17.7-1.7-17.1-.1-15.7.2-13.6-.7-11.3-1.9-8.8-1.9-6.5.2-4.7 3.4-3.9 6-3.9 6.5-4.6 4.8-5.7 2.2-6.5.1-6.7-.9-6.3 0-5.4 3.3-4.3 7.6-2.8 6.4-.9 6.9 1.8 6.7 5 6.7 8.3 7 11 6.7 12.7 4.1 13.1.4 12.4-1.1 11.4 1 10.7 3.8 10.9 4 11.8.5 12.9-4.1 13.2-7.5 12.4-8.9 10.6-8.8 7.6-8 4.4-6.6 1.2-5.3-1.3-4.2-3-3.4-4-3.4-4.2-4.2-4-7.2-3.7-5.4-2.8-4.1-2.3-3.1-1.8-2-1.8-1-2.3.1-3.4 1-5.1 1.9-7.5 2.2-10.1 1.7-12.6-.4-14.5-3.2-15.1-5.2-14-3.7-11.5 1.1-7.9 5.5-5 4.5-3.8-1.7-5.1-7.5-8-6.3-11.2 1.4-12.9 10.2-8.6 14.2-2.4 16.7-1.9 8.4-.8 2.2 2.5.1 13.9 2 18.3 6.4 18.9 9.2 17.3 7.7 14 2.8 9.9-2 6.2-3.3 4.3-.7 4.5 3.2 6.7 4.2 9.8 1.3 12.3-3.2 12.8-5.7 10.9-4.9 7.3-1.5 3.3 1.6.5 2.2-.4-.2.6-4.8 2.5-9.1 4.1-7 4.7-4.9 3.7-2.7 1.3-1.5-1.7-1.7-5.2-2.8-8.1-3.9-10.3-4.7-11.7-5.1-12.4-5.1-12.4-5.1-12.1-4.9-11.6-4.2-11-2.7-10.4-.6-9.8 1.9-9.3 4.3-9 5.9-8.5 6.7-7.9 6.3-7.1 5.6-5.6 4.6-3.6 3.8-1.4 3.2.9 3.2 2.8 4 3.7 7.9 3.4 11.4 2.2 8.3.2 9.5-1.6 10.3-2.5 9.7-2 8.2.2 6.8 3.7 5.3 7.9 2.2 12.4-3.8 16.4-10 19.6-9.8 21.7-3.8 22.4-1.4 21.5-7.3 19.1-12.5 15.4-8.5 10.8-2 5.8-5.6 1.1-21.1-3.2-19.2-6.1-11-7.8-3.6-7.7-3.2-6.5-5.6-4.4-5-2.4-2.1-1.9.3-4.6 1-10.5 1.5-18 2.8-24.2 4.6-26.5 6.5-23.8 7.3-17.1 7.1-9.2 6.2-3 5.4 0 4.7 0 4.4-1.8 4.4-4 4.2-5.4 4.1-5.8 3.6-5.4 3.4-4.3 3.6-2.6 1-1.1 0-.1-.5.9-.4 4.1-.1 8.9 0 11.2-.4 11.4-1 10.1-1.7 8.2-2.1 7.2-2.2 8.3-2.5 11.6-3.3 16.2-4.4 21.2-4.8 25.3-3.9 28.1-1.7 29 .6 27.2.2 21.5.5 11.5 0-1.2-3.2-14.1-7-23-10.3-25.1-9.6-20.4-5-11.4.7-2.1 5.1 4.2 6.3 6.2 4.6 4.5 1.1 1.2-2.5-2.7-4.8-6.3-5.5-9.4-4.3-12.8-2-16 .6-18.8 2.4-19.9 3.1-19 2.4-15.9 1.5-11.4.9-6.4 1.4-2.6 2.3-.7 2.8-.7 2.6-2.3 1.5-4.3.9-5.8 1.4-6 2.8-5 4.5-3.3 5.5-1.4 7.7.2 3.5 1 1.6 1.7.7 2.4.1 3-.1 3.9-.3 4.9-.9 6.1-1.3 7.6-1.8 9.3-2 11.2-1.6 12.9-1.1 14.1-.1 14.7.6 14 1.3 12.2 1.7 9 1.8 5 1.5.9 1-1.8.4-1.9-.7 1.3-2 6.8-3.3 12.1-3.8 14.2-4.7 11-4.5 3.8-2.1-4.6-1.9-10.4-3.2-12.3-5-11.3-6.4-9.6-6.5-9.3-5.3-10.2-3.3-11.4-1.3-12 .7-11.5 2.3-10.6 3.2-9.5 3.2-8.7 2.5-8.1 1.1-7.7 0-7 .3-6.1 1.9-4.9 4.7-3.6 7-2.3 8.2-1.4 7.1-.9 4.7-.8 2-1 .4-1.3.8-1.7 3-2.1 9.2-2.2 8.1-2.3 6.4-1.8 4.7-.6 2.9 1.3 1.4 4.2-.2 7-1.5 8.8-2.6 9.2-3.6 8.1-4.6 6.5-5.1 5.3-5.3 5.6-5 7.3-4.6 9.8-4.1 12-3.9 12.9-3.5 12.2-3.2 10.1-2.5 7.5-1.6 5-.6 2.9.4 1.4 1.4.3 2.3-.2 2.7-.5 2.9-.6 2.5-.3 1.9.1 1 .7-.3 1.5-1.4 2.8-2.6 4.3-3.7 6.3-5.8 8.7-3 11.5-1.4 13.8-.1 14.9.7 13.5.8 8.8.6.2.7-11.5.3-24.7-3-36.2-8.6-42.4-10.5-41-4.8-31 5.5-15.3 8.8 1.6.6 14.6-8.6 20-7.8 16.9.7 8.1 8.9-2.7 11.8-11.7 9.5-17 6.2-18.3 5.9-16.3 9.8-11.8 6.2-5.2 6.2-1.2 5.7 1.1 4.3 5 2.6 8.2 1.1 9.4.3 9.6-.2 9.4-.2 8.6-.2 7.9-.1 7.1.2 6.4.3 5.6.7 4.9 1.1 4.3 1.6 3.8 2.1 3.2 2.4 2.9 2.4 2.7 1.9 2.5.9 2.6-.1 2.8-.5 3.2-.5 3.8-.1 4.3-.1 5-1 5.6-2.4 6.1-4.1 6.4-5.2 6.8-5.5 6.8-5.2 6.5-4.3 6-3.6 4.9-3.3 3.3-4 1.3-4.9-1-2.4-3.5-2-5.8-1.7-7.4-1.6-8-1.7-7.1-1.9-4.7-2.1-1.2-2.2 3.1-2.1 7.1-1.9 9.7-1.4 10.3-1.1 8.2-.8 3.4-.5-3.1-.3-10.3-.2-16.7-.4-21.3-.8-23.4-1.6-23-2.1-20.5-2.6-16.6-2.8-12.2-2.5-8.1-2.2-4.9-1.7-2.7-1.2-1.8-.3-1.5.5-1.6 1.4-1.8 2.6-1.8 4.4-1.4 9.8-1 8.8-.1 9 .9 9.6 2.5 9.6 4.1 8.4 5.3 6.4 6.6 4.1 7.5 1.9 8.5.5 9.6-.2 10.8-.4 12.6-.6 14.7-1.4 16.9-2.5 18.9-3.6 19.7-4 18.3-2.7 13.5.2 5.5 3.9-4.1 6.9-11.7 7.1-13.7 3.6-7.6-3.5 5.5-10.9 20.2-14.9 29.4-13.3 27.7-9.3 14.8-7.2-3.7-4.7-20.1-1.8-28.1-4.6-26.5-6.4-18.2-5.1-8.7-2.2-2.5-.7-1.8-1.4-5.7-2.4-12.2-1.8-18.2.3-21.9 3.2-21.6 6-17.9 8.1-12.2 9-6.5 8.7-2.3 7.3-.4 6-.3 9.5-.5 7.8-.9 6.4-.1 6.8 1.8 5.1 4.4 1.4 7-2.3 8.9-3.4 10.5-.9 11.4 3.2 12 5.6 12.2 4.1 12.2-.8 12.1-6.6 12.3-9.4 12.7-7.6 13-2.9 12.7 1 11.3 1.1 8.8-2.1 5.7-6.1 2.5-7.5.3-5.4-.8-1.3-.6 1.3.1-.4 1.1-3.5 1.9-2.2 2.3-2.2 1.9-1.1 1.1.2-.6 1-2.3 1.1-4.4.9-6.1.5-7.6.3-8.6.3-9.1.4-8.9.8-8.4 1.1-7.4 1.3-6 1.5-4.6 1.6-3.2 1.7-2.2 1.7-1.7 1.6-1.7 1.5-2.5 1.2-3.7.8-5.2.1-6.8-.7-8.2-1.7-9.1-2.3-9.7-2.7-9.8-2.4-9.3-1.7-8.5-.9-7.7-.3-6.7 0-5.9.3-4.7.8-3.5 2.1-2.1 3.3-.6 3.8.7 3.4 2.2 2.7 3.8 5.9 5.4 1.4 5.8 1.5 6.4 1.9 6.6 2.2 6.6 3.7 6.6 5.8 6.9 4.5 7-1.8 7.2-8.2 7.6-8.3 8.5-2.5 9.6 1.4 10.3-.1 10.5-3.2 10.7-3.2 11.3-1.3 12.6-1.4 13.7-5 13.4-9.5 11.2-10.9 6.7-10.7.7-8.4-5.5-3.2-9.8-1.6-12.1-1.9-11.9-3-10.2-3.7-8.1-3.3-6.4-1.8-5.8.1-5.9 1.8-6.2 2.4-6.4 1.5-6.4-.6-6.3-2.4-6.3-3-7-1.9-8.5 0-10.4 1.4-12.3 1.7-13.6 1.2-13.4 1.1-11.3 2.6-5.9 5.2-1.7 8.2-.8 11.9-.3 14.3 2.6 7.9 5.5 6 6.4 5.1 6.2 4.6 5.8 3.9 5.5 3 5.1 1.8 5.1.4 5.1-.9 5.1-1.9 5.2-2.5 5.1-2.7 5.2-2.5 5.2-2.1 5.4-1.7 5.8-1.2 6.3-.7 6.9-.4 7.8-.2 8.5.2 8.7.4 8.2.9 7 1.7 4.9 2.6 2.6 3.5 1.1 4 1.1 3.6 3.6 1.9 8-.6 13.2-3.3 16.9-4.8 17.5-4.8 14.7-3.6 9.8-1.9 5-.9 1.9-1.5.1-6.2-1.4-4.9-3.3-2.3-5.8-2.6-8.5-3.4-10.9-3.4-12.7-1.9-14.1-.1-15.9 1-17.5.9-18.9.2-19.1.1-18.1.8-16.2 2.1-13.8 2.8-11.8 2.2-10.7.8-10.3-.3-9.9.8-9 5.1-7.1 11.6-3.9 15.3-.8 11.2 3.2 8.5 7.8 4.2 11.7-.9 14.6-5.3 16.3-4.8 17-2.5 16.9-3.8 15.5-6.8 13.5-4.4 11.5.9 10.2.6 8.7-6.4 7.2-10.7 6.5-6.9 6.5-.8 5.8-.3 3.4-7-.4-7.5-3-8.7-4.4-6.5-4.6-3.2-5.6-1.1-8.9-1.1-13.9-2.1-17.8-2.6-18.7-1.9-16.3-.3-12.6 1.3-9.4 2.3-7.7 2.9-7 3.2-6.7 3.3-6.2 3-5.5 2.3-4.8 1.4-4.1.8-3.4 1-2.7 3.7-1.9 3.3-1 3.9-.2 4.7.9 5.4 2 5.8 3.1 5.9 4.1 5.7 5.2 5.3 6.2 4.9 6.9 4.2 7.7 3.6 8.2 3.2 8.9 2.9 9.4 2.7 10.1 2.2 10.8.9 11.5-1 12.4-3.3 13-5 13.8-5.5 14.3-4.5 14.4-3.2 13.9-2.3 12.6-2.9 10.4-4.7 7.4-6.5 3.8-7.2.5-7.1-2.3-10.2-4.5-3-4.6-1.9-4.9-3.6-5.8-5.2-8.1-4.1-11.7 0-15.6 4.2-18.3 4.8-18.8-.4-16.9-7.6-13.5-10.2-10-4.5-7.8 6.2-7.4 15-8.2 15.7-9.3 8.4-10.1-1.2-10.1-6.5-9.6-4.8-9.4 2-8.6 12.2-6 10.8-2.4 5.2-.8 1.3-.1-.8 1.3-.6 7.8 1.1 13.9 3 15.4 4 14.9 3.9 12.6 3 9.4 1.7 6.3.8 3.5 1 1.7 1.7 1 3 1.1 3.6 1.9 2.8 3 .3 3.9-3.2 4.9-7.1 5.7-9.7 5.9-10.3 6-9.1 5.4-7 4.5-4.7 3.3-2.4 2.3-.1 1.4 2.6 1.2 4.6 1.7 4.4 2.5.8 3.4-5.2 3.6-10 3.4-11.1 2.8-8.4 2-5.7 1.3 3.4 1.2 4.4 1.2.8 1-4.3.4-7.4-1-7.6-3.1-5.5-5.8-2.9-8.4-.3-10.3 2.8-11 6.7-10.9 10-10.2 10.2-9.5 5.6-9.3-2.2-9.9-9.2-10.8-10.6-11.7-4.5-12.1 6.3-11.3 16.1-9.3 19.3-6.4 14.1-3.6 6.8-1.1 4.3.8-1 2.6 3.9 4.5 7.8 6.1 5.4 7.6-3.1 8.4-10.9 9.2-11.8 10.2-4.7 11.7 4.1 12.8 7.2 12.7 3.2 11.1-2.9 8.7-5.3 6.9-3.1 6.3.5 6.3 1.5 6.1-1 5.2-4.6 3.7-6.4 1.9-5.8.4-3.6-.8-1.1-1.3-.3-1.4-2.8-1.3-.4-.6-.2-.1-.3.5-.3.7-.1.7-.1.5-.5-.3-1.4-1.2-2.7-2.4-3.9-4.1-4.6-5.8-3.8-7.8-2.1-9.8-.2-11.7.3-13.1-.8-14.1-2.6-14-3.2-13-1.6-11.2 1.4-8.6 4-5.7 5.2-3.1 4.6-1.2 3-.2 1.5.2 1 .7 2.4 1.8 5.6 2.9 11.7 3.2 9 2.2 7.2-.2 4.9-2.4 3.1-2.3 2.2 1.3 2.2 7.7 2.3 14.7 1.5 20 .1 22.1-1.4 21.1-1.7 17.8-1.3 13.6-.6 9.9-.4 6.7-.5 4.9-.5 4.1-.3 4.3-.4 5-1.8 5.8-4 5.9-6.2 5.1-7.9 3.1-3.9-.3-2-4.2-2.8-8.7-5.2-12.5-7.3-15.4-6.5-16.8-3.3-16.5-.2-15 .6-12.7-.8-10.1-2.8-8-4-6.8-3.7-6.9-3-8-2.5-9.6-2.4-11.1-2.4-12.1-2-11.5-.4-4.9 2-.6 5-.6 12.1-1.4 8.3-.9 6.2-.7 4.9-.6 3.9-.4 3.3-.1 3.2.9 3.2 3.1 2.9 4.8 2.2 5.6 1 6-.2 6.3-1 6.6-1.2 6.9-1 7.2-.3 7.5.2 7.7.5 7.8.5 8 .5 8 .6 8 .8 7.9.9 7.7.8 7.4.2 6.7-.6 5.9-1.2 5-1.6 4.1-1.3 3.3-.7 2.7-.2 2.5-.3 2.7-1.3 3-2.4 3.6-4.7 3.8-3.3 3.6-1.7 2.4-.8.1-.5-3-.9-6.3-1-8.9-.8-10.4 0-10.5.8-9.5 1.4-8.8 1.2-8.9.7-10.4 0-12.8-.6-14.8-.6-15.4.2-13.5 1.6-9.2 3.1-3.7 4.4 1.8 5.2 5.3 4.9 5.7 3.8 2.7 2.8-2.8 5.4-8.8 5.6-13.3 7.1-13.1 12.2-4 16.1 1.6 14.6 7.5 7 6.2-2.5 1.6-12.2 18.1-14.7 18.4-9.3 15.1-1.4 10.6 4.9 6.1 8 3 8.6 2 7.1 3 3.2 5.6-3.2 8.5-10.4 11-15.2 12.1-15.3 12.1-11.6 10.8-6.9 8.4-3.2 5.5-1.6 2.5-1.8 0-3-1.8-4.6-2.7-6.5-2.9-5-2.2-3.9-1.3-2.8-.3-1.8.5-.8.9-.1 1 .4.7.8.3 1.1-.3 1.3-.9 1.1-1.7.8-2.4.2-3.1-.4-3.8-.9-4.5-1.2-5.2-1.7-6-2.3-6.8-3.7-7.9-6.2-9-8.9-10.7-10.7-12.5-9.3-14.8-4.6-16.9 1.7-18.3 10.5-17.8 19.8-9.8 20.9-2.8 14.1-1.6 5.9.5 3.7 12.1-.5 19.2 5.2 18.9 9 14.8 6.1 8.8-1.5 3.1-7.8-.6-8.3-1.3-4.2.7-.3 4.8-.1 10.3-2.4 15.9-3.7 20.8-2.2 23.3.8 22.1 3.1 17.1 3.1 10.4.8 5.7-2.7 5.2-5.4 8.1-6.3 11.1-8.2 10.3-1.7 4.1.5-5.5-.6-14.8-3-20.3-5-20.7-5-17-2.7-11.1.5-5.4 2.4-2 1.8-1.9-.5-5.7-2.6-12.2-2.6-19.2-.3-23.4 2.8-23.1 5.1-17.9 5.9-9.9 5.6-2.5 5.6 1.5 6.1 1.5 6.4-1.4 6.3-4.7 5.6-6.6 4.8-6 5.9-3.6 2-.1.3 3.2-.9 5.9-2.3 7.6-3.5 8.5-3.8 8.6-3.2 8.4-1.5 7.6.5 6.9 1.8 6.3 2 6 .6 6.3-1.6 7.3-3.5 9.1-4.3 11.2-4.2 12.8-3.6 13.5-3.6 12.5-5.3 9.9-9.8 5.6-6.9 1.5-7.3-2.3-6.6-4.7-3.9-5.1-.3-5 2.4-6.4 3.3-10.6 2.6-17.4 1.9-23.5 2.2-26.1 3.1-22.6 3.4-14.3 2.5-4.5 1.5 3.1 2 6.2 3.8 5 5.5 1.2 5.2-2.7 6.2-5.1.4-5.5-.9-4.5 2.9-2.6 6.5-.4 5.7 1.7 1.3 3.8-2.6 5.4-2.2 6.4 2.4 6.7 7 6.7 8.3 6.6 5.4 6.4.2 6-4.2 5.3-6.3 4.2-6 2.9-4.3 1.2-2.1-.1-.3-.8.7-.3.7 1.5-.2 4.4-1.4 7.4-2.6 9.4-3.3 9.7-3.4 8.1-3.2 6.2-2.8 5.1-2.5 5.6-2.2 7-1.8 8 0 6.9.6 3.5.8-1.4.8-6.2.4-9.8.1-12.2-.2-13.3-.8-13.7-1.1-13.4-1.5-12.8-1.7-11.9-1.8-10.8-1.9-9.7-2.3-8.6-2.8-7.5-3.2-6.3-3.4-5.4-3-4.3-2.5-3.3-1.7-2.4-.5-1.4 1-.8 2.7 0 4.5.6 6.7 1.2 9.2 1.9 6.4 2.8 6.2 3.8 7 5 8.3 6.7 9.3 8.8 8.5 11.2 5.3 13.9 1 16.4-2.4 18.4-3.5 18.8-2.5 16.8-1 11.7-.7 2.7-2.2-8.4-5.3-17.9-7.5-20.2-5.7-11.2.7 8 6.7 30.6 7.5 45.6 5.6 44.6-6.5 26.3-11.3-1.1-17.6-26.7-22.1-40.7-23.5-41-15.6-31.2-4.2-18.3 4.5-8.1 14.3-2.9 18.2-2.2 12.4-4.5 3.1-7.4-2-10.1.1-11.8 5.6-12.2 7.9-11.1 4.1-8.6-1.9-5.1-2.7-1.4 9.1 1.3 9.5 2.9 12.8 3.5 12.3 3.4 8.7 3.5 5.1 4.2 3.2 5.4 2.5 7 1.5 8.5-.3 10-2.9 11.6-5 13.1-6.1 14.6-6 15.1-5.3 14.5-4.5 12.4-4 9-3.8 5.1-3.9 2.2-4.1 1.1-4.3 2.2-4.1 5.3-3.7 8.8-3.1 11.6-2.3 12.7-1.5 11.9-.9 9.8-.5 7.4-.1 5.5-.3 3.5.4.7 1-3.9 1.6-9.6 2.1-14.8 2.5-17.3 2.2-16.2 2.2-12.9 2.2-9.7 2.3-8.8 2.2-10.4 2-13.3 1.3-15.3.5-15.7-.2-13.8-.4-10.7-.5-7.3-.5-4.4-.7-2.8-.6-2.6-.4-3.9-.4-6-.4-8.2-.5-9.2-.5-8.5.2-5.8 2.2-2 1.7 1 .7 4.5 0 7.4-.5 9-.4 9.7 0 9.9.7 10 1.6 9.6 2.1 9 2.3 7.5 2.1 5.1 1.8 2.3 1.2-.6.9-2.5.9-2.4 1.3.2 2.2 5.3 2.8 11.5 3.1 17.6 2.6 21.4 1.3 22.3-.5 20.1-1.8 15.6-2.7 10.1-5.4 4.9-6.4.9-4.6-1.7-1.5-3.1.1-3.7-1.6-3.4-6.1-2.7-11.4-1.5-6.4.2-2.1 1.7.4 2.1.2 1.2-1.7-1.4-2.9-5.5-1.9-10.2.8-15 3.2-18.8 3.4-21.2 1.3-21.9-2.3-20.9-5.2-18.1-5.9-13.8-3.5-8.2.6-2.2 4.9 2.5 7.2 4.3 7 2.7 4.8-1.3 1.4-5.4-1.7-8.2-3.2-8.8-2.6-7.7.2-5.9 4.6-4.2 9-2.4 7.5-.5 6.4 2.1 4.4 5.1 2.2 8.2.3 10.7-.6 12.1-.8 12 .1 10.9 1.4 8.6 2.7 6.2 3.5 4 3.4 3 2.5 3.1.9 4.7-.9 7.6-3 11-4.9 14.5-6.5 17.6-6.7 19.9-5.7 21-3.9 21.1-2.6 20-2.6 18.1-3.3 15.7-3.7 12.9-2.8 10.2-1.2 7.1-3.4 4.2.1 2.5-.2 1.3-2.1.6-4 .2-4.9-.1-5-.7-4.5-1.8-3.3-4.1-2.1-8.6-.5-14.1 1-18.5 1.8-21.3 2.4-22.1 2.7-20.8 2.7-17.4 2.2-12.4 1.4-6.9.5-1.9-.3 1.6-.9 3-1.3 2-1.5-.7-1.5-4.4-1.5-8.1-1.5-11.2-1.6-13.3-1.8-14.3-1.8-14.4-1.8-13.9-1.4-12.9-.5-11.9.3-10.7 1-9.3 1.6-7.8 2.3-5.9 4-3.8 7.4-1.6 11.8.8 9 3.4 11.6 5.9 12.8 8.5 8.9 11.1 2.8 13.7 1.6 16.1 5.7 18.1 7.6 20.1 2.7 22.2-5.1 24-9.5 25-8.9 24.3-5.8 21.6-2.6 15.6-1.7 6.5-4.5-4.7-15.1-15.1-9.9-20.4-9.2-18.2-9.3-9.2-10 1.6-10.6 7.8-9.1 5.4-4.6-5.6.4-20.2 5.3-31.6 8.1-34.6 6.8-28.4 2.6-17.9-1.4-9.2-2.4-6.5-.7-9.2 2.2-13.4 4.9-14.5 6.5-5.9 6.8-1.1 7-.8 9.3-.8 15.5-.5 9.6 1.3 7.7 2.6 5.5 4.2 2.1 6.7-.3 9.3-1.5 11.4-.5 13 1.9 13.8 4.8 14.1 6.4 14 5 13.6.5 12.9-5.5 12.1-10.1 11.4-10.5 11-6.5 10.5-.1 10.2 5 9.6 6.9 9 4.8 8.2.5 7.2-4.7 6.2-9.2 4.9-12.1 3.4-14.1 1.4-11.2-.9-2.4-3.5 2.7-6.4 4.3-9.2 3-11.7.1-13.7-1.8-15-1.9-15.5-.4-15.4 1.4-14.7 2.2-13.5 1.9-12 1-10.6.3-9-.2-7.6-.2-6.4 0-5.3.3-4.2.4-3.4.6-2.7.7-2.2.7-2 1.1-2 1.4-2.4 2.3-3.1 3.3-3.9 4.3-4.8 5.8-5.4 9.1-5.7 6.6-5.3 5.5-4 5.2-1.8 4.8.7 4.1 4.3 1.4 8.5-2.5 11.9-6.3 13.9-8.5 14.3-7.5 13.1-3.6 10.8 1.6 8.5 5.3 7.3 5 7.9.5 10.2-5.2 13.8-8.2 17.2-7.1 19-3.7 17.8-1.7 13.7-2 7.7-3.8 1.5-5.2-3.4-5.3-6-1.9-6.7.2-6.5.3-6.4-.4-7-.2-8.7.3-11.2-.3-14.5-2.1-17.7-3.2-20-1.9-21.1.3-20.7 1.2-18.9.8-15.8 1.1-10.9 2.9-3.8 4.8-.9 6.6.2 10.9 3.9 5.9 8.7 3.8 10.4 3 10.5 1.9 9.6-.1 8-1.5 6.1-.7 4.7 1.8 3.9 3.5 4 2.1 4.8-2 6.4-5.5 8.4-6.4 10.9-4.4 13.4-2 15.5-.7 16.9-.7 17.3-.7 16.6-1.3 15-1.4 12.3-.6 9.2.7 6 1.6 3.5-.3 1.7 2 1.3-.2 1.5-4.5 1.7-9.5 1.1-13.3-1.2-14.3-5.1-11.9-10.2-7.5-15.7-2-20.3 3.2-23.3 6.8-24.4 8.6-24.1 8.2-22.6 6.2-20.4 3.8-17.8 1.1-14.7-.9-10.9-2.1-6.7-2.3-2.4-1.5 1-.2 3.5 1.1 4.3 2.1 3.6 2.5 1.9 2.4-.5 1.9-2.8 2.1-4.5 1.1-5.6-.1-5.7.1-4.5.9-2.3 2.3-.5 3.9 1.4 4.9 5.7 5 10.5 4.1 14.5 3.2 18 3.1 20.8 4 22.5 5.2 23.2 5.8 22.7 5.4 21 4.4 18.4 3 15.1 1.2 11.4-1 7.5-3.3 3.7-4.6.7-4.5-1.5-4.3-2.6-5.1-2.9-8-2.8-4.6-2.2-2.7-1.8-.9-1.7.2-2.3.5-3.4.1-5.2-.2-7.2-.5-9.4-.5-11.5-.7-13.5-1-14.9-1.3-16-1.9-16.5-2.5-16.3-3-15.7-3.2-14.3-2.8-12.6-1.9-10.5-.5-8.2.8-5.8 1.7-3.7 1.8-2 1.5-.9 1.2-.5 1.5-.8 2.6-1.5 5.3-2.2 10.7-2.2 6.8-1.6 5.7.6 4.7 4 3.1 8.1 1 11.4-.6 12.9-2 12.1-3.1 9.6-4 6.9-4.7 5.3-5 5.6-4.9 7.4-4.3 9.4-3.6 10.3-3.2 9.3-3 6.7-2.9 3.9-2.7 1.9-2.6 2.3-2.1 5.3-1.8 10.2-1.3 15.6-.9 18.7-.6 17.6-.6 11.9-1.5 3.2-.5-5-.5-9.9-1-10-1.2-6.3-.9-2.1-.4.1-.6-1.2-1.9-5-4.5-9.8-7.5-13.5-9.7-15.2-9.4-15.1-6.5-13.7-2.6-11.6.8-10 3.4-8.5 5.3-7.2 5.5-5.8 4.5-4.3 3.3-2.6 2.3-1.4 1.8-.7 1.7-1.2 1.7-3 1.7-5.9 1.6-9.3 1.5-11.8 1.6-12.2 2.7-8.4 4.2-2.1 6.7-.1 13.8 4.9 12.3 10.8 10 11 8.9 8.4 7.4 5 5.4 3 3.3 3.6 1.3 7-.2 11.9-1 16.2-.8 18.7-.3 18.3.6 15.6.8 11.3.2 7.1-1.5 4-3.8 2.6-5.7 3.1-5.9 4.7-3.8 6.4-1 7.4 0 7.1-2.2 5.4-6.9 2.9-11.1-.2-11.2-2.9-2.4-4.9 2.1-6.8 1.7-8.3-2.4-9.4-6.2-10-5.9-10.2-1.6-10.5 2.9-10.8 3.7-11.3 0-11.9-5.1-11.8-8-10.9-7.2-8.7-4.2-6.5-1.2-5.2 0-5.9 0-8.4-.5-10.9.2-11 2-7.5 4.8-.9 7.6 6.6 9.7 12.7 14 15.3 10.7 14.9 6 11.9 3.7 8.2 3 4.1 3.8.3 5.9-3.9 8-7.8 8.8-10 7.4-8.5 4.4-1.1 1.4 12.3-.3 29.7-1.4 45.2-3.4 52.5-6.2 46.8-7.7 28-5.6 3-1.5-18.9.3-30.4-2.9-27.7-8.6-13.7-14.8 4.2-15.5 18.9-8.5 26-5.2 23.4-2.4 12.2.3-3.4 1.5-19.2 1.3-29.9 1.3-32.4 1.8-27.9 2.1-20.1 1.5-13.6.4-11-.6-11.3-1.1-12.8-.8-13.2-.4-11.8.2-8.8.7-5.3 1-2.1 1.1.3 1.2 1.8 1.3 2.7 1.2 3.1 1.3 3.2 1.4 3.1 1.4 2.9 1.6 2.5 1.8 2.1 1.8 1.7 1.8 1.1 1.6.4 1.4-.5 1.4-1.8 3.5-3.2 2.1-5.4 1.9-7.7 2.3-9.9 3-11.1 3.6-10.4 3.9-7.9 3.3-3.5 2.8 1.8 1.3 6.9-.1 10.7-1.4 12.7-2.1 12.7-2.3 11.4-2.2 9.8-2 8.5-1.9 7.9-2.1 8-2.3 8.3-2.5 8.4-2.5 7.9-1.9 6.9-1.4 5.5-.8 4.1-.4 3-.2 2.7-.2 3.3-.8 4.5-2.3 6.4-6.5 8.3-7.6 9.9-5.1 10.8-3.4 10.8-1.3 9.5.2 7.3.9 4.8.2 2.1-1.5.2-3.8-1.2-6.1-2.3-7.4-3.9-7.4-7.1-6.1-11.8-3.8-16.4-1.2-18.7 1.4-16.6 3.4-9.8 4.3-1.4 3.8 4.8 2.4 5.6.8.8-.1-7.1-.3-14.8.4-19.8 1.7-21.2 2.9-19.8 3.5-16.9 3.1-13.7 2-10.9 1.1-8.5 1.2-6.1 2.7-3.4 5.1-1.6 6.6-1.2 6.6-.9 5.4-.7 5-.6 7.3-.9 5.3-.6 5.6-.5 5-.4 4.2.3 4 2.3 4.7 6.1 4.3 9.8 2.8 13.4 0 16.7-2.7 19.3-3.7 19.9-2.9 17.8-1.1 12.6.8 5.5 1.5-1.1.9-4.9-1.5-3.9-4.4 1.9-6.7 9.7-7.2 16.7-6.2 19.6-4.6 17.8-3 12.7-2 6.3-2.4.9-3.8-2.5-8.7-4.1-6.5-4.1-5-3.5-3-2.7-1-2.3-.2-2.7-1.2-3.8-3.2-5.8-4.6-8.4-4.6-11.1-3.7-13.5-3.6-15.5-4.9-16.2-5.8-15.6-3.6-13.2 2-9.2 9.1-4.7 13.1-.6 10.5 1.5 5 1.7 5.3.8 14.8-.2 13.6-2 14.6-2.6 12.5-1.9 9 .6 5.2 4.4-.8 8.8-7.9 12.9-11.4 16.2-9.2 18-3.5 18.3 1 16.6 1.7 13.6-.3 9.8-3 6-4.8 3.1-4.9 1-3.6.1-2.1-.4-1-.2-1.3.4-3.1.9-3.6 1.8-3.7 2.7-3.9 3.3-3.5 3.4-2.7 3-1.3 1.6.1-1.2 1.4-5.3 2.2-10.5 1.9-16.5 1.6-21.8.9-24.3.6-23.1 1.4-17.8 2.9-10 3.7-2.3 3.1 2 1.2 1.6-.1-3-.2-9.2.9-13.5 2-13.6 2-9.6 1.1-3.3.4 2.1.9 4.3 2.1 2.7 3.7-1.4 7.6-5.7 5.7-8.8 3.9-9.4 2.6-5.4 2-1.2 1.6-.3 1.4.8 1.1 5.6-.2 11.5-1.8 14.2-3.1 15.3-4.3 15.7-5.1 15.2-5.4 14.2-5.1 12.8-4.5 11.2-3.2 9.7-1.7 8.2-.3 6.8.1 5.7-.5 4.7-2.1 3.7-3.6 3-3.7 2.3-2.3 1.7-.2 1.2 1.2.7 1.4.1.4-.4-.9-1-.5-1.2.2-1.6 1-1.7 1.6-2 1.3-2.4-.1-3.1-2.2-4.4-4.1-6.1-4.8-8.3-3.5-10.6-.8-12.6 1.6-13.6 1.7-13.5-.9-12.2-4.8-10.3-7.6-8.6-8.1-8.1-6.3-8-2.5-7.7 3-6 10.9-3.1 25.2-.1 18.1 3.3 13.1 4.7 8.8 5.1 6.3 5.7 5.8 8 5 11.7 2.5 16.2-1.5 19.4-5.8 20.6-8.8 19.2-9.9 16.1-9.1 12.4-7.4 8.7-5.4 5.7-3.9 3.5-3 2.2-3 1.3-2.9 1.1-2.5 1-1.5 1.2-1.3 1.6-.7 1.7 1.8 2 1.5 1.8.6 1.4-.7 1-2 .2-3-.4-3.8-1.1-4.2-1.9-3.8-2.4-2.5-2.9-.8-3.4 1-4 2-4.7 2.4-5.9 2.3-7.6 2.2-10.2 2.1-13.4 1.9-16.8 1.1-19.6.1-21.1-1.3-20.4-2.6-17.4-3.7-12.5-4.3-6.6-4.3-.9-3.9 3.5-3.2 6-2.3 6.3-1.3 5-.4 2.6.4 0 1.1-2.3 1.6-3.8 2.2-4.5 2.5-4.5 2.9-4 3.2-3.1 3.7-2.2 4.5-1.3 5.4-.5 6.6.2 8.9.8 10.8 1.1 6.5 1.5 4.9 2 3.8 2.8 2.9 3.9 2.4 5.7 1.7 8 .6 10.5-.4 12.6-1.1 13.7-1.5 13.4-2.1 11.7-2.5 9.8-2.8 8.3-2.4 8.1-1.9 8.9-1.8 9.6-2 9.2-2.3 7.3-2.5 4.2-3.2.9-2.2-1.3-2.2-2.6-2.6-2.7-2.8-2.8-2.4-3.2-1.8-4.2-.8-6-.5-8.1-1.2-10-2.3-11.6-3.1-12.4-2.7-12.8-1.2-12.6.5-12 1.7-11.1 1.9-10 1.9-8.6 1.6-7.1 1.6-5.3 1.8-3.5 2.3-1.5 3.6.2 6.2 1.6 11 2.2 18.5 1.9 12.6.4 10.3-1.7 7.1-3.8 2.9-4.7-1.4-3.5-5.2.1-7.9 5.7-8.6 12.1-7.6 17.3-5.8 19.9-4 19.3-3 16.3-2.7 11.9-3 8.2-3.5 6.4-4 6.8-3.8 8.9-3.2 11.5-2.2 13-1.4 12.2-.9 9-.7 3.6-.8-2-1.2-6.3-1.6-8-2.1-6.8-1.1-3.8-.7-.5-1.2 1.6-2.4 1.5-3.8-.6-4.6-4.1-3.8-8.1-1.9-11.3.2-13.6.9-14.3-.8-14.2-3.4-13.4-4.7-12.4-3.6-11.4-.9-10.3.8-9.3.5-8.2-.9-7.2-1.4-6.2.7-5 4.7-3.7 8.4-2.4 10.6-1.3 13-.1 6.4.2 4.2.9 3.9 1.9 4.4 3.5 4.3 5.6 3.1 8.4 1 11.6-1.1 14.7-2 17.4-1.5 19.4-.2 20.6 1 21.3 1.1 21.4 0 20.9-1.5 19.5-2.4 16.2-1.7 11-.9 4-.2-3.9-.6-10.7-1.4-15.4-2.2-16.8-2.5-15.2-4.1-11.7.8-7.3-.4-3.3-3.9-.3-5.5 1-4.1.5-2.7-1.5-3.1-4.4-3.8-7.8-2.7-10.8-.7-13.1 0-14.3.1-14.3 2-13.1 4.8-11.2 4.3-8.9-.7-6.6-6.6-4.7-8.4-3.3-4.9-2.3 2.3-1.8 9.6-1.2 18.1-.5 13.8.1 6.5.9 3 2 3.3 3.5 6.8 5 10.9 6.6 12.9 8.1 11.2 9.1 6.9 9.9 1.7 10.2-2.9 10.3-6.8 10.4-9.2 10.4-10.1 10.4-8.8 10.7-5.5 10.8-.3 11.1 5.1 11.3 8.6 10.8 8.1 9.4 3.1 7.1-4.3 3.6-11.9-.6-17.3-5.2-20.4-9.6-25.1-13.4-18.6-14.9-9.8-13.8-1.7-10.7 4.9-5.8 7.4-.7 4.7 2.7-.5 3-4.1-.2-4.3-6-2.5-13-1.2-19.4-1.8-23.2-2.9-23.3-1.3-19.5 4.5-12.8 11.7-5.1 13.7-.1 10.4 3.8 5.2 5.8 1.6 6.4 1.5 5.9 5.6 5.1 13 4.3 9.7 2.9 8.7 1.6 6.4.8 3.3.2.4.2-.9.9 0 2.2 2.1 3.9 4.3 5.9 5.1 7.7 3.4 9.2.1 10.4-3.7 11.1-6 11.5-6 12-3.6 12.7-.7 13.6 1.1 14.8 1.1 15.6-.9 15.5-3.6 13.8-6.1 10.4-7.9 5.7-8.2 1-7.4-2.9-5.7-4.8-3.7-5.2-2.4-4.2-3.1-3.3-5.8-3.3-2.1-4.2-2.3-6.5-3.1-9.6-3.7-12.6-4.1-14.5-4.1-15.1-3.6-14.2-2.3-12.2-.6-9.2 1.1-5.9 2.7-2.7 3.6 0 3.8 1.6 3.6 2 2.9 1.1 2.5-.9 2.3-3.8 2.3-7 2.7-10.2 3-12.8 3.1-14.2 3.1-14.5 2.8-13.5 2.5-11.2 2.5-7.2 2.5-2.4 2.8-.6 4.1-.3 6.2.5 10.3 3.5 7.3 6.6 2.8 7.8-1 8.2-2.6 8.3-1.3 8.4 1.4 8.1 3.6 7.6 3.8 7 2.7 6.2 1.6 5.4 1.5 4.6 2.6 4.1 3.8 3.6 4 3.4 2.3 3.6-1 4.2-5.1 5.2-8.5 6.6-9.7 8.6-8.5 10.5-5.3 12.3-1.6 13.6.7 14.4 1.3 13.9.2 12.4-1.2 9.6-3.1 5.8-4.1 1.5-4.6-2.6-4.4-5.7-1.8-7-.5-6.5 0-4.8-.6-2.6-1.8-1.6-3.2-2.4-4.6-5.2-5.3-9.6-5.2-14.1-3.8-17.3-1.4-18.5 1-17.2 2.4-14 2.5-10.4 1.3-7-.1-5.1-.8-4.7-.5-5.4.4-6.7 1.5-7.8 2.5-8.4 3.2-8.1 3.8-7.1 4.5-5.2 5.3-2.9 7.7-.4 6.2 2.2 4.1 4.7 2.4 6.9.6 8.2-1.3 8.9-2.8 8.3-3.7 6.5-3.9 3.6-3.4 0-2.2-3.5-.6-5.4 1.1-4.5 1.8-.1 1.5 7.7.3 16.7-.3 24.4.1 28 .6 25.8.3 18.4-.8 8.9-2.3.5-3.1-3.6-3.2-3.2-3.7-.1-4.3 3.2-5.4 4.2-9.5 2.3-3.8-1.3-1-5.6 1.6-9.4 2.9-11.8 4.1-12.9 2.9-13.3-.8-12.8-4.9-12.3-7.7-11.6-7.5-11-5.2-10.3-2.1-9.7.6-9 2.3-8 3.5-7.2 4.6-6.2 6.2-5.1 8.7-4.3 12-3.3 20-2.3 19.6-.9 16.9 1.2 13.2 3.6 7.5 6.3 1.4 8.9-3.3 11-5.1 11.8-3.5 11.5.6 10.2 4.1 8.9 4.6 8.9 1.7 10.8-3.2 14.5-7.5 19.1-9.1 23.3-7.3 25.6-3.8 25.5-1 22.5-.8 17.2-2.5 10.1-5.2 3.2-7.2-2.1-7.7-4.4-8.3-3.6-10.9-1.5-6.6.1-6.7-.8-7.2-4.4-6.8-10-5.1-15.9-2.3-20.2-.7-22.2 1.1-22 1.2-20.6-.7-18.7-2.5-17.3-2.1-16 .6-15.2 4.1-14.1 6-12.8 5.6-11.2 3.8-9.4 2.1-7.2 1.3-4.6 1.4-2.3 1.7-.8 2 .2 2 1 1.9 1.7 1.8 2.2 1.5 2.4 2.3 2.2 1 2.1 0 1.7-.6 1.5-1.3 1.1-1.5 1-1.6.8-.9.7.2.7 1.3 1 2.1 1.4 2.5 2.1 2.2 2.9 1.8 3.8 1.7 4.5 2.5 5.2 3.6 5.9 5 6.9 5.4 8.8 4.7 11.8 3 15.6 1.7 18.7 2 20.2 2.9 18.9 2.7 15.4 0 10.8-2.9 6.6-3.5 3.8-2.1 2.6-2.5 2.1-6.8.9-8-1.2-1.4-4 3.6-6.8 4.5-9.2 1.1-11.1-3-12.3-5-13.2-5.1-13.9-4.2-14.5-3.3-15-2.4-15.4-1.6-15.5-.9-15.1-.6-14.5-.6-13.3-.9-11.5-.8-5.5-1.1-.4-1.2.1-1.2.1-1.1.1-.9.2.3-.1-1.9.2-1.8.2-.8.1.9-.1 2.4.3 3.1 6.4 2.1 12.3.9 12.8-.2 12.1-.2 10.5.5 8.5 1.6 6.4 2.3 4.8 2.6 4.3 2.3 4.5 1.8 5.4 1.2 6.7.7 7.6.3 8.3-.1 8.3-.4 8-.6 7.4-.7 6.6-.7 5.9-.4 5.3-.2 4.9.2 4.7.4 4.6.6 4.8.5 5 .2 5.3-.4 5.6-1 5.6-1.6 5.5-2.1 4.7-2.6 3.4-3.3 1.4-1.6-1.3-.7-3.8-.3-5.5 0-6.2 0-5.7 0-4.7 0-4.3-.1-5.2.2-7.3.3-10 .4-11.8.3-11.8.2-9.5-.1-5.6-.3-.7-.5 3.3-.5 5.3-.4 3.7-.1-2.4.2-11.7.6-22 .6-29 .2-30.1-.6-23.8-1.6-7.9-2.1 0-2 .7-.4 1.8 2.1.2 5.2-2.5 8-1.8 9.9-1.2 10.7-1.2 10.6-1.2 13-.7 8.1 3.7 3.9 7.2 1.3 6.9-.3 5.4-.9 4.4-.8 4.4-.7 5.6-.8 7.4-1.3 8.8-1.4 9.5-.9 9.3.9 8.8 3 8.7 4.3 9.6 2.8 11.4-1.7 13.2-7.7 14.5-12.6 14.7-13.3 13.9-9.6 12.3-4 10.1.2 7.5 1.1 4.5-.5 1.7-2.3-.6-2.5-2-1.2-2.6.6-2.5.3-2.1.3-1.4-.5-.8-1.4-.5-1.7-.8-1.5-1.8-1.2-3.7-.8-6.3-.6-9.1-.7-11.4-.9-11.7-1.5-9.6-2.1-5.2-2.5-.1-2.3 3.1-1.8 2.4-1.6-2.7-1.5-10.4-1.4-17.7-.8-21.6.2-21.3 1.3-17.5 1.9-12.6 1.4-8.3.7-5.7.3-4.1.4-3.3 1.1-2.2 1.8-1 2.7.2 5.9 1.7 4 3.2 2.9 4.3 3 4.9 3.2 4.9 3.4 4.7 3.2 4.2 2.8 3.7 2.2 3.3 1.7 3 1.6 3 1.8 3 2.4 3.4 2.7 3.9 2.9 4.6 2.5 5.4 1.9 6.3 1 7.3-.1 8.7-1.4 9.9-2.4 11.5-2.7 12.7-1.8 13.6.1 13.6 1.9 12.6 1.6 10.8-1.7 9-7.1 8.3-11.7 8.9-13.5 10.3-13.5 10-15.3 5.6-10.4-2-8.6-11.4-4.1-18.9 3.7-21.8 10.3-20.3 10.6-16.6 5-13-.6-11.2-2.3-11.6-2.4-13.8-3.8-16.5-5.7-18.1-3.4-17.5 4.9-14.7 15.4-10.2 21.2-5 23.7-1.8 10.8 1.7 1.5 5.4-2.8 8-3.2 9.1-1.3 9.2.7 8.5 1.9 7.3 2.4 6.3 2.3 5.8 1.9 5.8.9 6.1-.7 6.4-2.4 6.5-3.6 6-4.1 5.5-3.7 4.8-3 4.5-2.3 4.4-1.9 4.6-1.8 5.1-1.8 5.8-1.6 6.3-1.2 6.8-.9 6.8-1 6.6-1.5 6-1.9 4.8-2.2 3.5-2 2-1.8.3-1.4-1.1-1.3-2.2-1.9-2.6-4-2.5-3.1-2.1-2-1.5-1.4-1-.9-1-.8-1.5-1-2.1-1.4-2.9-1.9-3.4-2.2-4.1-2.5-5-2.6-6.5-2.5-8.5-1.9-10.7-.7-12 1.2-12.1 3.5-10.7 5.1-8.1 5.1-5.3 3.3-3.2-.2-2.5-4-3-6.7-4.6-7.2-6.4-4.9-7.4.2-7.6 7-6.8 14-5.1 24.2-2.5 19.4-1 12.8.4 5.8 1.7-1.5 2.9-7.2 4.3-10.4 5.6-10.7 7.1-9.1 8.6-6.6 10.1-4.6 11.2-3.3 12.1-2.8 12.7-2.7 13.2-2.8 13.7-2.6 14.2-2.5 14.3-2.1 14.2-1.8 13.4-1.3 11.7 0 9 .6 5.2 1.2.6 1.1-4.2-.1-8.6-2.1-11.9-1.5-13.1-.8-12.6 1.2-11.1 3.3-9.1 3.9-8.1 2.7-8.2 1.4-9.2.8-10.5 0-11-3-10.3-6.6-8.6-6.9-6.6-2.3-5.2 2.6-4.8 3.5-5.2.8-5.8-1.2-5.6.9-4.1 5.7-1.4 11.7 1.6 7.1 4.5 5 6.3 2.7 6.8.2 6.4-2.3 5.5-3.7 4.8-3.3 4.7-1.3 5.8.8 7.7 1.8 10.5 1.1 13.7-.9 16.9-3.6 19.3-6 20.6-7.2 20-7.2 17.3-6.7 12.5-6.1 6.2-6-.9-7-7.9-2.5-13.4-2.1-16.6-3.1-17-2-14.8.8-11.2 3.9-7.3 5.4-4.2 3.5-3.2-1.1-4.1-6.1-6.7-8.6-9.9-7.2-13.1-2.7-15.2 3-15.5 8.9-14.1 12.8-10.5 13.3-5.5 11-.3 7.6 3.6 4.2 3.8 1.3-.6-.5-7.6-1.7-13.1-1.2-8.3.7-.6 5.6-.3 1.7 6.2 2.1 13.7 3 10.8 3.5 6.2 2.8 3.7.7 4.5-2.1 7.5-4.4 11-5.2 13.6-4.4 15.1-2.9 15.4-1.4 15.3-.4 14.7.2 13.7.5 12.6.5 11 .2 9-.8 6.7-1.9 4.4-2.3 1.8-1.4-.3-.2-2.3-1.8-4.3.5-5.4.1-6.4-.8-6.8-1.1-6.7-1.2-6.3-1.6-6-2.5-6.7-3.7-8.6-4.5-11.3-4.7-13.9-4.4-15.7-3.1-16.9-1.5-18.2.2-18.6 2.1-16.8 3.6-11.5 4.7-3.8 4.6 2.6 4 5.3 3.1 3.6 2.8-.8 3.5-4.9 6.3-6.7 13.2-6.3 8.3-3.3 7.2-1.5 6.1-.5 4.7.6 3.3 2.1 2.7 4 2.9 5.5 4.1 6.7 5.4 7.6 5.8 8.6 5.2 9.2 3.7 9.4 1.8 9.5-.1 9.3-2 8.9-3.4 8.6-4.6 8.3-5.5 8.3-6.2 8.5-6.3 8.9-6.2 9.7-5.6 10.5-4.8 11.1-3.8 10.8-2.7 9.5-1.9 7.1-1.3 4.2-1.5 1.4-2.2.4-2.9 1.2-3.4 4-3 7-2 8.8-.7 8-.3 4.4-1.2-1.3-.9-7.7-1.9-13.9-3.4-18.8-4.9-21.4-5-21.6-3.7-19.2-1.6-14.9-1.1-9.5-3-4.2-6 .1-7.3 2.9-5.5 4.2-1.1 4 3 2.5 4.7-.2 3.8-3.8 1.7-7.7 1.4-11.6 3.7-14.5 7-16.1 8.7-15.7 9.5-13.1 16.5-7.8 13.3-2 8.8 3.8 3.7 8.3.2 10.9.3 11.2 1 10.3-.5 8.9-2.9 8.9-3.3 10.5-2.1 13.2-2.4 15.9-4.1 17.3-4.7 17.1-3.1 15.1-1.1 12.2-.4 8.7-1 5.5-2 2.7-2.5.4-2.4-1.6-4.1-3.2-2.1-4.2-2-5-3-5.5-4.3-5.8-5.2-6-5.1-6.2-4-6.3-2.3-6.4-.5-6.3.8-6 1.1-5.2.4-4.2-1.3-3.1-3.1-2.6-4.8-3-5.7-4.8-5.5-7.5-4-10.6-1.5-12.8 1.7-13.5 4.6-12.5 6.5-10 6.9-7.2 5.8-4.8 4.2-3.3 2.4-2.7 1.5-2.7 1.7-2.4 3-1.7 5.8-.6 11.2.5 9.1.9 8.9.6 8.3 0 6.8.5 5.4 2.4 4.6 6.2 5.1 10.5 6.2 14.3 6.3 16.3 4.3 16.7 0 15.8-4.3 14.7-6.6 13.8-5.8 13.4-4.1 12.8-3.8 11.2-4.9 8.4-4.8 4.7-2.1 1.3 1.3-1.2 2.6-2.4.7-2.1-2.4-.8-4.6.5-6.7.8-4.3-.1-5.6-2.3-7.3-4.9-7.4-6.9-5.3-7.5-2.4-6.6 0-4.2.6-.6-.2 4-1.2 8.5-2 11.1-2.5 8.9-3-.3-4-16.4-4.9-34.7-4.8-47.5-3.3-47 .2-21.6 1-.2.4 11.9 1.4 36.9.9 33.3.2 16.2.4-5.3 2.1-22.4 6-30.5 15.6-29.8 11.6-14.6 7.8-1 6.1-.7 5.8-.7 6.7.8 7.2 17.6 4.1 22.6 2 22.1-.3 19.6-1.9 16.1-2.7 12.9-2.7 10.6-2.6 9.2-2.6 8.8-3.2 8.5-4.2 8.3-5.4 7.8-6.5 7.1-7 6-5.8 4.9-4.8 3.8-3 2.8-1.3 1.8-.5.8-1.3-.2-3.2-1-6-2-9-2.7-7.3-3.4-6.2-4.1-4.6-4.7-2.6-5.2-.6-5.5.4-5.8 1.4-5.8 2.2-5.5 2-4.9 1-4.1-.2-3.4-.7-2.8.2-2.8 2.2-3.7 3.7-5.4 2.2-7.9-2.5-10.8-7.7-13-8.4-13.6-2.5-12.5 5.6-10 10.8-7.4 8.9-5.7 4-5.1 1.9-4.9 5.1-4.2 12.4-2.6 22.7 0 18.3 2.4 14.4 5.4 5.9 7.9-3.2 10.3-6 12.1-1.5 13.4 2.6 13.4 1.1 12.3-2.7 10.5-2.2 8.3 1.5 6.3 2.5 4.5-1.2 3.6-4.7 3.9-3.1 5.4 1.6 7.8 4 10.1.5 11.1-8.1 9.9-8.9 6.5-11.5 1.2-10.7-4.4-7-9.1-4.2-12-1.4-12.6.2-11.2.3-8.8-.6-6.3-1.3-4.1-1.4-2.9-1-2.8-.8-3.4-.7-4.9-1.2-6.7-1.5-8.5-1.4-10.2-.2-11.6 2-12.7 4.5-13.2 6.1-13.3 5.7-12.9 2.7-10.5-1-2.7-3.6.3-3.3.3.6 0 0 .3-.2 7.5.3 17.4 1.3 18.8 2.7 17.2 3.1 13.8 1.4 10.8-2.4 10.4-5.6 13.3-5.8 17.4-2.4 19.6 1.5 18.4 2.8 15.2 1 12-1.7 10.2-2.5 8.3-1.1 4.9.6-.4-1.4-6 2.1-9.2 1.2-9.9-.3-8.1-1.1-5.3-1.4-3-1.2-1.6-1-1.1-.8-1.5-.8-2.1-.8-3-.9-3.9-1-4.9-.9-5.8-1-6.8-1-7.6-1-8.2-.8-8.6-.7-8.6-.3-8.4.3-7.8.9-6.9 1.9-5.9 2.6-4.6 3.2-3.6 3.3-2.9 3-2.8 2.2-3.4 1.2-4.5.2-6.2-.5-7.8-1-9.3-1.3-9.9-.9-9.9 0-8.4 1.7-5.2 3.7-1.8 5.2-.9 7.4-.7 8.3-.4 4 1.3 3.2 3.9 3 6.2 3.5 7.9 3.4 9 2.4 9.7.3 10.1-1.8 10.3-3 10.6-2.4 10.9-.5 11.4 1.4 11.9 2.2 12.5 1.6 12.9-.1 13.1-1.9 13.3-3.1 13.1-3.5 12.5-3.7 11.6-4.1 10.3-4.8 8.4-5.8 6-6.5 3.3-6.9.1-6.7-2.8-6.3-5.5-8.4-7.7-4.3-8.9-2.4-9.4-2.1-9.4-2.3-9-2.7-8.7-2.8-8.4-2.3-8.5-1.4-8.7 0-9 1.4-9.1 2.7-9.1 3.9-8.5 5.6-8 7.3-7.7 8.2-8 7.6-9.3 5.5-11.3 3.5-13 3.7-13.4 5.5-11.3 5.8-6.9 3.4-1.7 5 3.2 5.3 6 7 6.1 8.9 4.4 7.4 2.7 4 3.6.6 7.9-2 14.2-3.3 20.8-2.4 24.9-.6 25.3.5 21.8-.1 16.1-2.3 9.8-4.7 5.4-6.3 4.1-6.7 6.2-6.3 10.8-6.2 16.2-6.6 20-7.4 20.8-9.2 17.3-11.1 10.2-6 1.9-4.3-6.2-3.5-13.8-3.5-19.1-3.9-21.4-3.6-21.3-2.1-19.6.7-17.4 4.1-15 6.8-13.3 7.4-12.3 6.1-12 3.5-12 1.4-12.2.9-12.1 2-11.6 3.4-10.8 3.9-9.7 3.1-8.6 1.6-7.4.7-6.2.9-4.7 1.9-3.3 3.2-1.8 4.8-.4 8.4 1.1 7.2 2.3 5.8 3.5 5 4.6 4.1 5.4 3.1 6.3 2.3 6.8 2 7.1 2.5 7.4 3 7.2 3.1 6.9 1.8 6.2-1.1 5.4-4.5 5-7 5.3-7 6.8-5.3 9.4-4.1 12.7-4.7 16-6.4 18.3-6.1 18.4-3.7 15.7-1.4 10.8-1.5 4.9-3.9-.7-6.2-4.9-9.9-7.2-4.7-8-3.3-7.9-4.3-7.8-6.1-8.1-7-9.2-6.4-10.6-4.2-12.6-1.4-14.7.9-16.4 1.4-17-.1-16.1-2-14.1-1.6-12.4 2.2-11.1 8.3-10.5 14-9.4 16.1-5.9 13.6-2.3 9.5-1.3 10.3-1.1 5.1-.5 2.9.1 2.7 2.6 2.8 7.9 1.6 11 .3 12.8-1.3 14.2-2.8 14.9-3.6 15-3.3 14.6-2.2 13.6-.9 12 .1 10.3.1 8.6-.9 7-2.3 5.7-3.7 4.6-4.2 3.9-3.9 3.3-3 2.6-2.2 1.7-2.9.8-5.6-.2-3.5-1.2-3.2-1.9-1.9-2.5-.4-2.7 0-2.6-1.3-2.5-3.2-2.9-4-4.1-2.7-6.6 0-10.1 2.2-14.3 2.8-17.6 1.2-18.8-1.1-16.4-2.7-10.8-2.1-4.7-.1-1.6 2.4-4.3 4.6-11.3 6.2-17.3 7.6-9.2 6.6-.9 4.6-.3 2.9 11.8 3.8 24.7 1.7 20.6-.3 10.4.2-.4 1.8-8 4.2-10.5 6.8-9 8.6-4.8 8.2 0 5.2 4.3.2 7.8-4.4 10.4-5.6 12.3-2.6 13.6 2.4 14.4 4.8 14.7 1.4 14.8-5.4 14.6-9.5 14-7 13.2-.4 12.3 2.9 11.4-.3 10.2-9.7 9-15.2 7.4-12.5 5.2-5.8 2.2 3.6-1.3.6-5.8-7.2-11.3-12-17-11.2-22.5-9.1-26.1-3.7-26.3.9-21.8 3.6-13.6 3.9-4.1 2.3 3.3-.2 5.8-2.4 3-3.6-3.2-3.3-9.9-1.2-14.7 2.6-16.2 7.4-14.7 11.5-11.9 13.8-8.1 13.7-4.5 11.6-1.7 8.8.6 7.3 3.3 12 6.3 6.2 8.4 4.9 10.5 4.7 12.4 3.2 13.9.3 14.8-3 15.2-4.9 15.2-4.9 15-4.6 14.6-5.5 14.6-6.2 14.9-4.9 15.6-2.7 15.9-2 15-2.8 11.9-2.9 6.8-1.9.2-2.8-6.4-1.3-11.6-2.4-14.5-2.8-15-2.4-13.4-2.4-10.6-2.6-7.5-2.1-4.8-1-3.2.5-2.7 1.3-3.8 1.6-6.6 1.2-10.8.4-15.4-.7-18.4-1.5-18.9-1.6-16.1-.6-11.5 1.2-7.1 3-5.1 3.9-6.1 3.7-8.5 3.1-8.4 2.8-2.5 4.3-.6 9.5-.8 7.9 3 7.6 11.8 5.7 13.6 3.2 12.7 1.3 11.1-.1 9.4-.6 8.2-1.1 7.1-1.3 6.4-1.4 6.3-.8 6.5-.5 7.4-.5 8.4-1.2 9.5-2.6 10.4-3.6 10.7-4.2 10.7-4.4 10.1-4 9.2-3.4 8.3-3 7.5-2.5 7-2.2 6.9-2.2 7.1-2.3 7.3-4.2 7.4-3.9 7-4.1 6.1-4.7 3.9-5 .8-4.8-3.5-4-8.5-3.1-13.7-2.5-18.3-3.6-21.9-4.3-23.8-5.1-24.1-5.7-22.7-5.6-20.3-4.4-17.4-2.8-14.2-1.4-11.5-.4-9 .2-6.9 1-5 2.8-3.3 5.5-1.5 8.4 0 9.3 1.5 7.3 2.6 4.1 3.3 1.9 3.3 1.9 2.8 3.9 1.8 7 .6 10.8-1 13.5-2.4 8.2-4 5.7-4.5 3.3-3.8 1.6-1.8.4 1.1.3 4.5 1.1 7.7 2.5 9.8 4.1 10.5 5.2 9.4 5.2 7.5 3.8 5 1.1 3-2.2 2-5.5 2.3-7.2 3.6-7 5.7-5.2 7.8-2.7 9.7-1 11-.4 11.6-.7 11.8-1.2 11.6-1.3 11.2-1 10.5-.6 9.7-.3 8.7-.5 7.8-1.2 6.6-2.8 5.4-4.7 4.1-2.2 2.6-1.6.9-1-.9-.6-2.8-.5-4.9-.8-6.9-1.9-8.9-2.8-10.6-3.7-12.1-4.4-13.5-4.4-14.7-3.6-15.6-1.8-16.3.2-16.7 1.3-16.5.8-15.9-1.2-14.7-3.4-12.8-4.1-10.7-2.2-8 1.7-4.9 5.7-2.3 8-.6 8.1.9 7.6 2.4 9.4 3.5 5 4 3.1 4.2 1.9 4.1.5 4-.6 4-1 4.1-.1 4.5 1.5 5.4 3.2 6.3 3.9 7.7 3.5 8.9 2.1 10.1.2 10.7-1.5 10.7-2.3 9.9-1.6 8.5.4 6.9 2.6 5.7 2.8 5.2.1 5.3-4 5.1-5.6 4.2-3.2 2.3-.3-.1-2-2-10.3-2.6-11.2-2-7.7-1.5-.6-2.1 2.9-3.8-1.1-5.3-9.2-5.6-14.7-4.5-13.3-2.6-7.8-1.7-2.1-2.2 1.6-4.1 3.5-6.9 4.1-9.5 3.7-11.5 2.8-12.5 2-12.2 1.2-11 .7-9.2.5-7.1.3-5.1.3-3.6.4-2.5.4-1.9.5-1.8.8-1.9.9-2.2 1.3-2.6 1.8-2.8 2.4-2.8 3.4-2.3 4.5-1.7 5.5-1.1 6.2-.9 10.1-1.2 7-.8 6.5-.7 7.8-.8 8.5-.2 6.4 3 1.5 7.9-3.5 10.9-4.1 13.4-.8 15.5 2.6 16.8 2.5 17-.7 16-4.1 14.6-4.8 13.1-3.5 11.9-2.4 10.7-2.8 9.7-4.4 8.8-5.5 7.9-5.1 7.3-4.3 6.7-2.8 6.2-1.5 5.5-.6 4.8-.4 3.9-.7 3.1-1.2 2.1-2.1 1.3-4 .4-1.9 0-1.1-.7-.6-1.3.1-2.1.8-2.9 1.4-3.8 1.7-4.8 1.3-5.7.6-6.5-.4-7.4-1.8-7.9-2.9-8.4-3.4-8.7-3-8.9-2-9.2-.6-9.5.6-9.8 1.4-10.1 1.8-10.6 2.1-10.8 1.9-10.9 1.5-10.8.3-10.3-.9-9.6-1.8-8.6-1.4-7.3.2-5.9 2.6-4.4 4.6-3 5.5-1.8 4.8-.9 3.1-.2 1.2.1 0 .1 1.5.3 1.3.3 2.2.7 3.7 1.5 4.5 2.6 3.3 4.2 1.1 5.5-1.1 6.5-1.7 6.5-.5 5.6 1.4 3.9 2.3 2.3 1.7 1.5.3 2.6-.8 5.5-1.2 9.9-1.6 14.3-2.8 18.2-4.3 20.6-5 21.3-4.1 20.1-2 17-.4 12.3.1 6.4-1.6.3-4.7-4.6-7.1-7.9-7.7-8.8-5.8-7.7-2-5.2-1.5-2.5 4.6.1 4.9 1.3 2.6 1.2-.7-.3-2.8-3-3.7-6.2-3.7-9.1-4-11.2-4.8-12.4-5.9-12.9-6.1-13.7-4.5-14.7-1.1-15.5 2.7-15 5.4-13.3 6.3-11.4 6-10.4 7-10.2 11.5-6.9 18.1-2.9 24.1-2.7 26.7-2.4 10.6 2.4 1.1 5.8-3.6 13.6-3.7 15.3-3.9 14-4.7 10.9-2.1 8.7 3.4 10.3 4.6 15.9-.7 22.9-6.4 27.2-6 25.9-.9 18.3 3.1 7 2.7-3.2-.9-8.8-4.5-8.9-5.7-4.5-4.7 1.2-2.8 5.9-1.6 8-1.2 7.8-2 5.8-4.3 2.7-10.9-.4-11.1-2.6-11.3-3.7-12.4-3.3-12-2.2-9.1-1.4-4.1-2.1 1.5-5.7 5.6-11.5 5.2-17.8-.4-21.9-6.9-21.5-8-17.3-4.3-11.9-.9-9.4 3.4-11.7 16.2-16.7 30.4-20.5 29.7-16.9.7-2.5-8.4 1.1 8 11.4 20.5 28.2 14.7 30.6 4.7 26.5 2.3 18.7 3.3 10.7.7 4.4-4.6 1.3-8.4 1.2-8.3 3.4-5.3 6.5-2.3 9.5-.5 11.5-.9 11.9-2.6 11-4.4 9-5.9 6.1-6.4 2.8-6.5-.5-6.9-3.4-7.1-5.6-4-7-2.8-7.7-1.8-7.9-1-7.9-.2-7.7.2-7.6.6-7.6.8-7.6 1-7.6 1.1-7.7 1.1-7.6.9-7.5.5-7.4.1-7-.2-6.8-.4-6.4-.2-6.1.4-5.7 1-5.4 1.2-5.1.6-4.7-.7-4.7-2.8-4.6-4.8-4.8-5.8-5.1-5.1-5.8-2.5-6.2 1.8-6.6 7-5.9 10.6-3.2 11.5-1.7 10.3-1.2 8.3-.9 6.8-.8 6.8-.8 12-.8 9.4 8.7 6 16.9 4.7 18 3.7 16.5 1 12.7-4.2 7.8-10.5 3-14-.4-11.8-1.6-3.6-.9 6.3 1.5 12.9 4.7 12.8 8.1 7.1 11.2.2 13.5-4.8 14.6-6.4 14.6-5.9 13.3-4.8 11.1-3.9 8.1-3.6 4.7-3.5 1.4-3.5-1.4-3.1-3.3-3-3.8-3.4-3.1-6.3-.9-3 2-2.4 5-2.9 7.8-3.9 10-5 11.5-6.1 12.2-6.6 12.1-6.9 10.5-6.8 6.6-6.2.5-5.8-7.6-5.6-16.4-5-23.9-4.2-28.5-3-29-1.7-25.7-.3-20.1 1.1-14 2.6-8.8 3.8-5.7 4.6-4.7 4.7-5.5 4.6-7.5 4.4-9.7 4.2-11.4 4.2-12.2 4.3-11.1 4.4-4.3 4-.8 3.7-.4 3.3-.4 3.5-.4 5.5-.5 2.7.5 1.8 6.9 1.6 11.3 1.7 10 1.6 6.9.6 3.1-.9.3-1.7-.5-.7 1.2 1.9 4.7 3.8 8.1 3.3 10.1 1.2 10.3-.6 8.9 0 6.9 2.3 5.2 4.5 4.3 4.1 4.1 1.4 4.5-2.6 5.1-5.2 5.8-5.7 6.5-4.2 6.9-2.2 7.4-.9 7.5-.8 7.3-1.9 6.7-3.6 5.5-5.9 4.1-8.4 2.1-3.3.5-.8-1.5 1.2-3.4 1.8-5.3 1.3-6.6-.3-7.4-2.8-7.4-4.9-6.5-5.4-5.7-3-5.8 1.8-8.1 5.9-13.1 5-19.7-2.3-25.3-10-26.9-9.4-21.4 1.8-4 12.5-1.4 14.3 0 7.2 10.4-1.8 13.5-5.2 10.6-1.3 5.6 6.7-.7 18.5-6.9 16.6-12.4 13.7-15.6 9.9-10.9 5.9.8 2.7.9-.1 0-1.9-.6-2.9 2.6-2.9 7.9-2 5-.6.9.6-2 1.4-2.2 1.1-.3.2 3.3-1.2 7.6-2.5 11.7-3.2 14.8-2.9 16.8-1.9 18-.6 18.3.7 18.3 1.3 17.6 1.4 16.4 1.1 14.7.4 12.6-.5 10.1-1.9 7.7-3.2 5.5-3.8 3.8-2.9 2.7-1.1 2.2.4 2.2-1 2.2-10.4 2-11.8 1.3-14-.3-15.1-2.9-13.1-6.1-9.8-9.4-5.9-11.9-1.6-13.4 3-13.5 7.8-13 10.6-12.4 9.5-13 4.6-14.8-1.1-17.4-4.6-19.8-3.3-20.5 1.6-19 7.1-15.3 9.4-10.1 7.7-4.4 3.1-1.2-.5.3-.7.8 4 .8 8 .8 7.7 1.2 7.2 2.7 3.6 5.3-1.7 8.4-5.9 11.2-7.2 13.1-6.2 13.7-4.6 13.4-3.9 13-4.4 12.9-4.8 13.8-4.2 15.3-2.7 16.6-1.4 17.2-1 16.8-.8 15-.4 12.3.1 9-.2 5.9-1.8 2.9-5.7.6-2.5-.8-.2-1.5 1.4-1.5 1.7-1.3.5-1-1.4-1-2.9-1.5-3.7-2.5-3.9-3.7-3.5-5-2.6-6.3-1.3-7.2.2-8 1.9-8.4 3.1-8.7 3.6-8.8 3.2-9 2-9.1.2-9.2-1.4-9.2-2.4-9.4-2.4-9.2-1.7-9.1-.5-8.9.6-8.5 1.2-8 1-7.7.1-7.1-1.2-6.5-2.6-5.8-3.5-5.1-3.5-4.1-2.6-3-.8-1.9 1.3-.8 3.2 0 4 .2 3.8-.1 3.9-.8 6-1.4 10.8-1.4 21.1-.1 16.7.9 12.3 2.8 7.1 4.9 2.2 6.7-1.5 7.8-3.5 7.8-4.3 7-4.2 6-3.5 5.1-3 5.1-2.7 5.8-2.5 7.5-2.6 9.4-2.5 11.5-2.6 13.1-2.5 14.1-2.5 14.2-2.5 13.4-2.3 12-2.2 9.7-2.1 7.1-1.8 4.2-1.5 1.3-1.4-1.3-1.2-3.3-1.1-4.3-1.2-4.3-1.4-3.7-1-2.2-.9-.8-1.1.5-1.2 1-1.1.4-.9-1.5-.8-4.4-.9-7.7-1.4-11.2-2.3-13.8-2.7-15.2-2.5-15.1-1.4-13.5-.2-11 0-7.9-1-5.1-2.7-3.4-4.1-2.7-4.5-3.7-3.9-5.7-2.9-8.6-1.7-11.6-.8-14 .1-14.8 1.9-4.7 3.2-.4 4.1-.5 5.1-.6 6.2-.7 8.2-.9 14.3-1.7 9-1 8.1-.8 8.1.6 8.4 7.4 8.1 8.6 7.7 8.2 6.2 9.4 4.3 12.2 2.4 16 1.6 19.7 2 22.1 2.7 22.4 2.3 20.7-.3 17.4-4.8 13.3-9.8 9.2-11.8 5.1-11 1.1-6.3-2.8-.5-6.3 2.7-9.1 1.2-10.7-7.2-11.4-9.6-10.7-10.4-9.3-8.6-7.4-5.1-5.6-1.4-4.2.9-3.2 1.7-2.9.8-2.9-1-3.1-3.1-3.5-4.6-3.9-5.4-4.3-5.4-4.8-4.7-5-4.1-5.3-3.4-5.4-2.9-5.4-2-5.3-.8-4.8.8-4.4 2.6-3.7 4.2-3.1 5.5-2.5 5.9-2.1 5.5-1.8 4.3-1.6 2.3-1.7.1-1.6-2-1.6-3.7-1.4-4.5-.8-4-.1-2.6.6-.7.7 1 .4 1.8-.9 1.5-2.3.4-3.5-.9-3.9-1.6-3.1-1.1-1.6.7 0 6.8.8 5.2 1 4.6.4 4.5-.1 4.7 0 4.9 1.1 5.6 3 6 5.3 5.4 7.4 3.3 9 .9 10.3-.2 10.7.8 10.6 3.2 10.1 4.9 9.3 4.5 8.5 2.5 7.4.6 6.4.3 5.4 1.2 5 2.1 5.2 1.9 6.6.7 8.7-1.1 10.6-2.4 11.6-3.8 10.6-5.8 7.8-8 4-9 .7-8.1-.3-5.6.8-6.6 3.2-3.4 5-5.3 4.6-7.2 1.9-6.2-2-2.3-5.7 1.9-9.2 3.7-12.4 2.6-16.5.7-21.2-1.5-25.6-2.9-28.3-2.5-27.7-.3-23.6 2.9-16.4 5.3-8.3 5.8-1.3 4.8 2.9 3.8 4.3 3.8 2.9 4.5-.7 5.4-4.7 5.6-7.8 4.9-6.5 3.8-1.4 2.6-.4 2.1-.2 2.4-.3 4.1-.4 1.7-.2 1.3.4.8 4.6.3 9.6-.3 10-.8 9.3-1.2 8-1.3 6.3-.9 4.3.1 2.4 1.7.8 3.4.2 4.8.8 5.6 2.8 5.1 6.3 4.1 10.6 2.6 15.1 1.4 19 .5 21.5-.1 22.6-.9 22-2 20.2-3.3 17.4-4.8 14-6.2 10.3-6.3 6.6-7.6 3-8.8-.2-10.3-2.8-11.5-4.8-15-6.3-11.9-7.1-7.6-7.3-3.9-7-.5-6.6 2.9-6.2 5.4-6.1 6.5-6.8 7-8.4 6.6-10.3 5.1-12.7 2.7-14.5-.6-16-3.6-16.7-5.2-17.1-4.8-16.9-2.2-16.6 1.3-15.6 4.4-13.3 6.1-9.7 6.2-4.7 5.5 1.1 4.6 6.6 3.5 10.2 2.6 10.7 1.8 7.3 1.3.8 1.3-6.4 2.1-12.1 4-14.3 2.4-12.1 1.9-4.6 1.1-.5.2 1.5-.6 6.7-1.3 10.3-1.8 10.8-1.9 10.1-1.5 8.8-1.3 7.5-.8 6.4-.5 5.7-.1 5.2.3 5.5.5 6.3.9 8.2 1 11 1.4 14.6 1.7 18.2 1.7 20.6 1.4 20.6.4 17.6-1.3 12.1-3.4 5.4-5.2-.2-5.4-3-4.1-2.1-2 1.5-.9 6-2.2 9.1-5.7 9.1-2.5 5.7-.4-.1 1.9-6.8 2.8-12.6.9-16-3.4-16.6-7.9-15-9.9-12.8-8.1-11.7-3.9-12.8-.2-15.8 1-19.8.1-22.9-.6-24 .7-22.6 3.9-18.5 6.8-6.2 5.7-.8 2.6-.3.4 0 1.2-.2 3.9-.4 6.7-.8 9.5-1 5.8-.7 1.8-.2-1 .1-2.2.3-1.9.4-.7 1.2.6 3.1 1.7 4.8 2.2 5.5 2.2 5.8 2.1 6 1.6 6.2 1.3 6.2.9 6.1.6 5.6.6 5.1.4 4.3.5 3.8.4 3.3.3 3.2.1 3.3-.1 3.6-.2 3.8-.5 4.1-.7 4-.9 3.8-1 3.2-1.2 2.4-1.1 1.2-1.1-.3-.9-2-.5-3 0-3 .5-1.1 1 3.1 1.3 8.8 1.3 14.5 1.1 18.1 1 17.4 1.3 12.4 2.1 4.6 2.6-2.4 2.1-5.6-.2-4.2-3.6.8-6.6 6.5-6.9 10.5-4.7 11.4-2.4 9.3-5.7 5.4-5.8.5-7.6-4.7-7.7-9.6-4.9-13.9-.2-17.4 3.5-20.1 3.9-21.4 1.9-21.3-.7-20-3.8-17.2-7.3-13.3-9.4-9-7.4-4.4-1.2-.6 6.3 2.1 11.9 3.6 13.3 3.3 11.2 1.9 8.9-.3 10.7-2.3 2.8-4.1 3.9-4.6 7-3.9 9.3-2.2 9 .2 6.4 2.9 3.2 5.6.9 7.8-.2 9.4-.8 10.3-1.3 10.7-2.5 10.6-3.9 10.8-4.8 11.1-4.6 12.3-3.5 14.1-2 16.3-.9 18.3-1.7 19.2-4.4 18.5-8.5 15.7-11.3 11.7-11.1 7-6.5 3.2-.9.5 2.8-1.4 6-3.2 1.5-6.2-5.9-10.8-11.9-16.1-13.4-20.4-8.8-22.1-.9-20.8 5.1-17.1 5.9-12.8 2.6-9.4-.9-7.9-2.1-8.2-.6-9.5 2.2-11 4.4-12.1 5.5-12 5.7-11 5.8-9.1 6.5-6.5 10.7-3.6 6.9-1.2 5.9.8 5.2 2.5 4.5 4 3.3 4.7 1.9 5.3 1.1 5.6.9 6.4 1.9 7.4 3.3 8.4 4.1 9.2 3.4 9.4 1.1 8.8-2.1 7.7-4.5 6.5-5.7 5.8-6.2 5.5-6.6 5.6-7.6 5.8-7.8 5.7-6.4 4.9-3.1 3 .1.4 2-2 1.5-1.9-.6 1.6-2.9 7.7-3.7 13.3-2.5 14.7-3.7 10.1-2.5 1.4-.6-6.5-.7-9.5-1.6-6.5-1.1.1-.1 6 .5 8.3.4 6-.6.6-1.8-6.1-3-12.7-3.9-18.3-4.3-21.8-3.8-22.2-2.7-17.8-1.2-8.6.2 3.6.9 14.1.7 17.9.3 11.9.1-2.2.8-19 2.3-31.5 3.7-35.3 4.9-21.3 5-.7 4.7-.5 4.9-.6 6.1-.7 11-1.2 8.8-1 6.7-.7 6-.2 5.6 4.8 5.5 10.6 5.2 12.4 4.5 13.5 3.1 14.3 1.5 14.6 0 14.4-.5 14-.4 13.3.3 12.5.8 11.5.7 10.5.1 9.6-.8 8.9-1.3 8.5-1.1 8.4-.8 8.4-1.7 8.6-4.3 9-8.6 9.3-12.6 9.9-14.9 10.5-17.6 11-14.6 11.1-7.9 10.4-3.4 7.9 1 3.6 5-3 6.7-12.1 5.7-23.1 2.6-33.6-1.5-41.1-4.7-43.2-6.8-39.1-7.4-29.5-6.4-16.6-4.4-3.4-2.3 6.8-.5 12.6.7 13.1 1.2 9.9 1.2 4.3 1-1.6.8-6.2.7-9.3.6-10.5.5-10.2.6-9.1.6-7.8.8-6.4 1.1-5.4 1.7-4.2 2.7-2.9 4-1.8 5.5-1.1 7-.7 10.1 0 9.2 1.5 7.7 3.4 7.1 5 7.1 6.2 7.4 7.1 7.5 7.8 6.6 8.2 4.3 8.4.9 8.7-2 8.9-3.9 9-4.4 8.8-4.4 8.3-4.1 7.4-3.6 6.6-3.3 5.9-3.1 5.6-3.5 5.7-4.3 6.3-5.2 6.9-5.7 7.6-5.4 7.8-4.6 7.5-3.6 6.9-2.7 5.8-1.7 4.7-1.1 3.7-.6 3-.3 2.7.8 2.7 1.3 2.6 1.3 2.2 1 1.2.5-.5-.1-2.9-.4-6-.6-9.5-.7-12.7-.8-15.4-1.1-16.9-1.6-17-1.9-15.8-1.5-13.6-.3-10.9 1-8.6.9-7.2-.3-7-1.5-8-.1-9.2 4.2-9.9 9.4-9.6 13-7.7 12.8-5 10.9-1.9 5.2.4-4.3 2.4-2.3 3.9 4.5 5.4 7.7 7.2 1.7 9.2-8.1 11.4-12.1 13.5-6.8 14.6 2.3 14.6 8.3 13.1 8.1 10.9 3.7 8.1-1.5 5.8-4.8 4.1-5 3.4-3.1 3.5-.6 4.4.5 5.7-.2 7.1-2.5 8.2-5.4 8.6-7.8 8.5-9.4 7.6-11.9 5.8-9.3 3.7-5.4 1.2-2.9-1.4-.8-3.9.7-5.9 1.5-7.6 1.4-8.8.9-9.7-.3-10-1.8-10.2-3.3-10.1-4.7-9.7-5.6-9.3-6-8.6-5.7-7.7-4.8-6.8-3.6-5.6-2.2-4.3-.8-2.9.6-1.5 1.7-.4 2.8.2 3.5 0 4-1.4 4.2-3.9 4.5-7.1 5-10.3 5.6-12.5 6.2-12.9 6.5-11.1 5.8-6.6 4.2-2.1 4.9-.3 1.7 1-1.2 2.7.2 4.7 3.7 7 6.7 9.8 7.3 12.5 4.8 14.1 1.3 13.8-.7 12.3-.3 10.1 1.2 8.7 1.8 8.8 1.3 10 .6 11.8.7 12.6 1.2 12 1.8 9.8 1.9 6.2.5 2.6-2.2-.6-8-2.5-6.3-3.3-6.5-2.9-6.1-2.2-5-1.6-3.6-1.7-2.8-2.5-2.5-3.9-2.6-5.4-2.8-6.9-2.4-7.9-1.4-8.4.1-8.3 1.4-8 1.8-7.7.8-7.5-1.2-7.9-3.7-8.5-5.4-9.6-5.6-11-3.9-12.4-.3-13.2 4-12.9 8.2-9.8 10.5-3.6 11.2-1.4 16-.1 8.3 6.9 4.7 12.4 3.2 13.9 2 13 .9 10.6-.1 7.9 0 6 1.1 5.5 2.4 6.5 2.5 8.6.3 10.9-3 12.7-4.9 13.2-4.5 12.7-3.1 11-3.1 9.2-4.7 7.9-5.8 7.7-5.2 7.9-4.3 7.2-4.1 4.7-4.7.6-5.2-3.6-5.8-6.7-1.4-7.3-1-6.8-1.7-5.9-2.4-5.1-2.4-4.9-1.5-5.2-.7-5.7.1-6.1.6-6.7.9-7.6 1.2-8.7 1.6-10.1 1.6-11.4 1.2-12.5.2-12.7-.9-12-1.7-10.2-1.5-8-.2-5.8 1.3-4.4 2.7-4.3 3.4-5 4-6.4 5.1-7.3 7.1-5.3 12.5-2.6 7.5-1 2.4-.3 0 .1 1.2 1.2 4.5 7.7 6 14.5 6.2 19.2 7.1 22.7 8.6 24.3 7.7 23.2 3.4 19.1-.2 13.2.6 6.7 3.5 1.2 3.5-2.4-.8-3.9-6-3.9-8.3-3.1-7.4-1.9-6-.4-6.7.8-9 2.1-14.4 2.8-9.9 3.1-7.1 3-4.7 2.5-3.2 1.4-2.4 0-2.5-1.7-2.8-3.6-3.1-5.8-3.3-7.9-3-9.9-2.3-11.7-1.1-12.8.3-12.8 1.6-10.9 2.4-6.9 2.2-1.2 1.5 4.8 1 8.2 1.4 6.8 2.9.3 4.7-9.1 5.3-17.2 4.9-21.2 4.6-20.2 6.1-15.3 11.9-4.8 9.1-1.2 6.2-.8 3-.3.5.1-.2 3.3.1 14.5-.2 18.4-1.3 19.9-2.8 20-3.7 19.2-3.6 17.5-2.7 15.2-1.9 12.7-1.9 10.1-2.8 7.6-3.9 5.6-5 4.4-5.3 3.7-4.6 3.7-3 4.3-1.1 5.2.5 6 1.5 6 .6 5.2-2.6 3.7-2 1.8-3.8.1-5.4-.7-6.1-1.3-5.2-2-2.8-4.6-.6-8.9.8-14 .5-16.8-.6-14.4-1.6-7.3-1.3.5-.5 2.9.5-3.3 1.5-16.2 2.9-29.5 4.7-36.4 6.6-34.2 7.4-16.3 6.3-.9 4.2-.5 2 .4.6 8.6.7 12.3 2.1 8.9 6.2 5.1 5 1.1 4.7-1.6 4.8-2.9 4.6-3.3 4.2-2.8 3.6-1.7 3.2-.3 2.6 1.1 2.2 2.6 1.8 3.9 1.6 4.9 1.4 5.8 1.2 6.4 1.2 6.9 1.2 6.8 1.2 6.7 1.2 6.3 1 5.4.9 4.6.2 3.5-.6 2.5-1.7 1.9-2.8 1.5-3.1 2-2.2 3.2-.4 5 .7 7.2-.1 9.4-2.9 11.4-5.8 12.8-6.9 13.3-5.9 12.6-4.1 10.2-2.9 6.2-3.4.8-6.8-5.3-4.4-11.1-4.1-15.2-4-16.9-3.2-14.9-2.2-9.4-1.4-1.7-1.5 6.2-2 11.1-2.8 10.7-3.1 4.4-2.7-6.2-1.4-17.9.5-27.1 2.5-31.3 3.6-29.7 3.7-23.5 3-9.5 1.4-.5-.1 0-1.1.1-1.4.3-1 .1.1-.1 1.8-.2 3.8-.5 6.6-.7 10.2-1.2 7.5-.6 6.9.1 5.7 2 3.7 2.6 1 1.9-1.4 2.2-2.7 4.5-2.5 8.5-1 13.4.3 17.6.5 19.4-.8 18.2-2.2 14.3-2.9 9-2.4 4.2-1.4 1.5-.3 1.3-.2 3.3-.6 6.1-1.7 8.9-2.6 10.8-3.1 11.4-3.5 11.1-3.8 10.1-5.1 9.1-4.3 7.4-3.3 4.8-2.4.4-1.9-6.1-2.3-13.8-4.2-21.4-6.1-26.2-6.6-26.6-5.1-22.1-1.8-14.1 1.1-6.1 2.3-.5 1.8.8.1-1.4-1.2-5.5-1.6-9.5-.8-11.6 1.2-11.4 3.6-9.5 5.8-6.4 7.5-3.4 8.3-1.2 8.2.1 7.5 1.2 6.5 1.8 5.2 2.1 4.2 2.4 6 2.6 3 2.7 3 2.8 4.4 2.7 6.1 2.7 5.9 2.4 3.7 2.1-.1 1.7-3.7 1.5-5.3 1.3-4.3 1.6-1.9 2 .5 2.7 1.9 3.4 2.3 4.2 2.4 5.2 2.7 6.2 2.6 7.3 1.9 8.3.3 9.1-1.8 9.7-3.8 10.4-5.4 11-6.2 11.6-6.2 12.1-5.6 12.5-4.5 12.8-3.1 12.8-1.5 12.5.1 11.8 1.6 10.6 2.6 9 2.7 6.9 1.5 4.1-1.3.6-7.7-3.5-4.9-7.5-4.8-10.7-4.7-11.8-4.5-11.2-4.2-9.4-4.2-8.3-4.3-8.8-4.4-10.9-4.3-13.5-3.6-15-2.7-14.9-1.4-13.8 0-12.5 1-11.6 2-11.2 3.1-11.1 4.5-10.4 6.1-9.4 7.6-7.8 8.4-6.1 7.8-4.4 5.7-2.8 3-1.4 2.1 0 7.7 1.5 3.7 2.6 5.4 4 6.9 5.3 5.9 6.5 2.7 7.8-.5 8.9-1.4 10 .5 11 3.7 11.6 5.8 11.9 5.3 11.9 2.1 11.5-1.8 11.1-5 10.8-6.6 10.7-6.8 10.9-6.6 11.2-6.4 11.5-6.5 11-6.4 9.8-5.9 7.6-5.1 4.7-4.4 1.6-4-1.3-4.4-3.6-6.8-5.4-4.9-6.8-4.9-7.8-4.9-8.3-4.5-8-3-7-1.7-5.6-1.9-5.1-4-6-4.8-8.9-2.3-12.9 1.1-16.5-.7-18.4-7.1-17.6-7.6-14.4.8-10.5 10.3-7.2 7.9-5.3-5.3-4.9-10.3-5.2-.9-5.5 14.3-5.4 24.9-4.6 24.8-3 16.9-.8-2.4 1.5-8 3.7-3.5 5.5 6 6.5 13.1 6.8 12.6 6.6 6 6.5-1 7.3-4.2 9.1-3.7 11.7-2.3 13.9-2.2 15.6-3.4 16-5.1 15.5-5.9 14.5-6 13.2-5.1 11.9-3.3 10.6-1.1 9.3.9 7.9 2.3 6.6 2.6 5 1.5 3.4-1 1.8-7.2-.3-7.3-1.7-7.5-2.9-7.2-4.3-4.9-5.3-1-6.4 3.5-7.8 6.4-9.4 6.5-11.6 3.6-13.8-1-15.9-5.4-17.2-8-17.7-7.8-17.1-5.4-16-1.4-14.4 3-12.7 6.3-10.8 7.5-8.9 6.4-6.5 4.5-3.8 3.5-1.3 6 1.1 14.9 3.3 11.1 5.4 11.2 6.9 9.8 7.4 5.9 6.2.5 4-4.4 1.1-6.6-.6-5.5 0-1.9 3.3 1.6 8 3.1 12.6 1.7 14.9-.7 14.6-2.5 12-2.8 8.7-1.7 5.9-.6 4.2-.1 3.8-.6 4-1.5 4.6-2.1 5-2.1 5.2-1.5 5.1-.9 4.9-.4 4.9-.4 5-1.6 4.8-.3 4.5 0 3.6.1 2 .2-.1.4-2.9.4-5.8.4-8.6 0-11.1-.8-12.7-2-13.6-3.5-13.8-5-13-5.3-11.6-4.2-9.7-2.1-7.7-.8-6.4-1.2-6.3-2.4-7.7-2.9-9.8-1.6-11.8.4-12.3 1.8-10.7 1.5-6.6-.6-2.1-2.5.3-2.8 1.7-1 2.7 2.9 2.4 10.7 1.8 7.5.8 6.3 1.3 4.9 2.8 3.4 4.7 1.9 6.2.6 6.3-.4 4.7-1.3 2.4-2.3.4-3.1-.4-3.2.6-2.7 3.2-1.8 5.8-1.2 7.9-1.1 9.1-1.2 9.5-1.3 9.6-1.1 10-.8 10.6-.4 11.3-.2 12 0 12.7 0 13.3-.5 14.2-1.6 15-3 16.2-4 17.3-6.3 18.1-9.8 17.9-8.6 16.3-4.6 12.3 1.5 5.7 4.4-3 1-15.7-4.3-30.6-5.9-42.2-2.5-46.7 2.1-42.4 4.9-29.6 4.6-12.9 2.1 1.8-.7 9.5-2.3 9.2-2 2.6-.6-5.7 1.2-12.9 2.4-17.1 2.6-18.7 1.9-17.9 1.3-13 1.3-1.8 4.8-.5 2.7-.3 1.9-.3 2-.2 2.4-.2 2.7-.3 3.3-.2 3.8.9 3.6 4.3 2.2 6.7.6 7.4-.4 7.9 0 8.3 1.5 8.7 2.9 9.2 2.4 9.7.2 10.4-2.7 10.9-3.7 11.7-2.1 12.5.8 13.6 2.7 14.8 1.9 15.3-.8 15-3.4 13.4-5.2 11-5.2 7.7-6.2 3.9-2.9.5-1.9-2.5-2.5-5-3.3-6.5-3.1-6.8-1.9-6.4-.5-5.5.4-4.9.4-5.2-.1-6.5-.8-8.4-1.1-10.6-.9-12.3 0-13.2.5-13.5-.1-13.1-1.7-12.4-3.6-11.4-3.7-10.1-1.3-8.6 3-7.2 7.1-6 9.2-5.1 8.9-4.4 7.6-3.7 6.5-3.1 9.5-2.1 3.6-1.4.9-.2-.4 1.3-1.1 3.2-1.1 5.7-.6 8.4 0 11.6.2 14.8 0 17.9-.5 20.2-1.2 21-1.7 20.2-1.9 17.5-1.6 13.2-.8 8.1.2 3.3 1-.4 1.7-2.4 1.5-2.8.7-1.9-1.5-.6-4.4.5-4.7 1.2-5.5.9-5-.3-3-1.9-1.1-4-.9-6.4-3.4-8.6-5.9-10.4-5.4-11.6-.7-12 5.4-11.9 8.2-11.4 5.8-10.8.2-10-4.7-9.3-5.8-8.8-3.4-8.6 1.3-8.9 6.4-9.6 9.6-9.9 9.8-9.2 7.3-5.3 5.2-1.6 9.5-.8 3.6 2.4 5.4 8.7 7.1 11.8 5.9 11.4 2.3 9.4-1.9 7.3-4.8 6.7-5.7 8.9-5.3 13.5-4.7 18.9-4.5 23-4.5 23.9-5 21.8-5.6 17.4-5.7 12.4-5.2 7.7-3.8 3.6-2-.3-.8-4.1-.6-8.1-2.5-11.5-2.2-13.3-2.3-13.1-2.2-10.9-1.8-6.9-1.2-2-1.2 2.4-1.8 5.8-2.6 7.2-3.4 6.8-3.9 4.6-3.7 1.1-3-3-1.9-7.4-1-11.3.1-14.7.9-16.9 1.3-18 1.3-18.2.6-17.4-.7-15.7-2-13.6-2.8-11-2.6-7.6-1.5-2.9.4-.6 2.2-.4 3.3-.3 4-.3 4.3 0 4.1.5 3.9.9 3.6 1.2 4.5 1.3 2 1.2 1.6 1.3 1.7 1.3 1.9 1.5 2.4 1.5 2.6 1.6 2.8 1.5 2.8 1.4 2.7 1.5 2.5 1.8 2.2 2.6 1.8 3.7 1.3 5.3 1 7.1 1.2 9.3 1.9 11.3 3.3 13.1 4.3 14.3 4.5 14.8 3.6 14.8 1.5 14-.7 13.2-2 12.3-2 11.4-.8 10.6.2 9.2 0 7.3-2.9 4.3-10.5.8-13.2-2.9-10.8-5.8-8.8-8.3-5.4-10-2.6-10.9-1.9-11.2-3.5-10.9-5.4-10.2-5.6-9.4-3.4-8.5.6-7.4 4.6-6.8 7.3-6.4 7.7-6.4 5.7-6.9 2.3-7.7-1-8.8-2.8-9.9-2.2-10.7 1-10.2 5.2-8.7 8.5-5.9 9-2.5 7.2.7 4.5 2.9 2.9 3.5 3 2.4 5.4.2 4.2-2.6 2.6-4.9 1.5-5.7.9-4.8.5-2.6.1.3-.4 3.6-1.2 6.4-1.6 8.8-1.9 10.4-2 11.5-1.9 12.3-1.6 12.7-1.3 12.8-.8 12.7-.4 12.1-.1 11.3.2 10.3.3 8.9.2 7.3 0 5.8-.2 4.4-.4 3.6-.4 4-.1 5.5-.9 8.4-.6 10.6-1.2 10.3-2.5 5-3.9-5.3-5.1-17.3-5.7-25.7-6-25.8-6.2-17.2-6.8-4.3-6.7 5.5-5.5 7.4-3.2.6-.6-10.4 1.4-20.5 2.1-25.4 1.7-24.8.9-20.2.3-13.4.6-3.7 2.3-.6 5.3-.7 9.1-.9 11.9-.7 15.4 1.7 7.6 4.6.9 5.6-3.2 6.2-4.4 7.1-3.7 7.7-2.1 8.3-.8 8.4.6 8.2 1.9 7.7 2.9 7.2 3.4 7.1 3 7.7 1.6 10-.5 13.4-2.6 17.3-4.1 20.7-4.2 21.6-3.6 19.4-2.8 14.7-2.5 8.8-2.6 4.8-2 4.1-1.3 6.7-2.5 9.9-3.7 10.2-3 5.2-4.2-5.3-3.8-17.7-2.1-27.6.5-30.9 2.6-27.4 3.4-18.9 2.9-8.9 2-.6 1.2 4.2.9 5.4 1.1 3.8 1.6.6 2-2.8 2.4-5.5 2.5-7.4 2.5-8.2 2.1-8.3 1.7-7.8 1-7 .3-6.4-.3-5.6-1.1-5.2-1.7-4.9-1.9-4.9-1.7-5.1-.9-5.3.5-5.5 1.7-5.7 2.5-5.9 1.8-5.7.3-5.5-1.2-4.8-1.4-3.5 2.1-1.3-2.2.9-3.7 4.1-1.4 8.1 5 12.7 10.4 16.9 9.5 20.2 4.2 21.7 1.8 21.8 4.9 20.4 8.2 17.4 6.7 13.3 1.5 8.9-2.8 5.2-5 3-6.6 2.1-8.2 2.2-8.7 2.9-7.1 3.3-4.9 3.1-3.4 1.5.8-.8.8-3.9-.1-7.3-1.2-10.1-1.7-12.1-1.6-13.1-.9-12.9-.1-11.8.5-10 .7-7.8.7-5.9.4-4.1-.1-2.9-.5-2.3-.8-2-.8-2.2-.8-2.7-.7-3.3-.5-4.3-.3-5.6-.1-7.1.2-9.2.4-11 .6-11.5.8-10 1.2-6 1.6-1.2 2 2.2 2.5 1.5 2.8-3.9 3.1-10.7 4.5-8.8 1.4-.7.4 0 .5 3 1 24.9 1.7 29.7 2.1 26.2 2 19.8.9 14.3-.6 10.5-1.9 7.6-2.1 4.3-1.4 1.4-.5.4-.3 2.3-1.2 6-2.9 9.4-4.2 11-4.4 9.9-3.6 7-4.7 3.8-6.2 1.3-2.8 0-5.1-.6-8.8-1-11.4-1.6-11.4-2.5-8.2-3.7-4-4.7-.3-5.5 1.8-6 2.8-6.4 2.8-6.6 2.6-6.7 2.5-6.6 2.3-6.5 1.8-6.3 1-6.3.2-6.2.1-6.1.5-5.9 1.3-5.7 2.2-5.5 2.9-5.2 2.9-5 2.5-4.7 2-4.7 1.2-5.2.7-6.4.4-8.1.3-10.4 1-12.4 2.3-13.2 4.8-10.6 7.4-3.2 14.2-1.7 11.9-1.1 6.7.9 3.4 5.7.2 7.7-2.1 8.2-2 10.2-.6 14.8.2 20.8-.6 26.1-1.5 28.3-1 26.4-.1 20.3-1.1 12.2-4.3 4.4-8.1-.6-10.4-1.5-11.3.6-11.2 3.7-10.1 5.6-8.9 4.6-1.4 2 1.8-2.7 1.9-7.4.5-10.8-1.4-12.1-2.2-11.6-1.9-10.1-.5-8.6 1.1-7.7 2.6-7.9 3-8.9 2.3-10.6.8-12.3-.9-13.6-2-13.9-1.8-13.4-.2-12 2.3-10 4.9-7.5 6.7-4.9 6.6-2.6 5.1-.8 2.9.6 1.3 1.5 1.6 1.7 4.3 1.2 13.2.4 12.9-.8 12-1.7 10.3-2 6.4-1.5 1.6.1-2.6 2.5-5.2 5.3-4.9 8.3-2.7 10.8.1 12.7 1.8 13.6 2 13.6.5 12.8-1.6 11.4-3.9 9.9-5.3 8.3-5.6 7-5 5.8-3.8 4.7-2.5 3.7-1.8 2.9-1.7 2.1-2.2 1.6-3.3 1.2-4.1 1.1-4.7 1.4-4.9 2.3-4.9 3.9-5.6 6.1-7 8.6-4 11.4-4 12.2-4.4 9.6-4.2 2.5-3.1-7.4-2.1-16.6-.3-20.2 1.7-15.5 3.1-5.2 3.1 4.7 3 7.5 3.1 1.5 4-9.4 4.9-18.7 5.3-22 5.1-18.9 4.3-12.8 2.9-7.2.9-4.6-1.3-5.1-3-7.4-3.2-10-2.2-11.7.2-11.5 3.1-8.9 6.6-4 12.6-1.5 9.9.8 8.9 4.6 7.5 7.5 4.8 8.3 1.8 8-1.2 6.9-3.3 5.8-4.6 4.6-4.9 3.9-4.4 3.5-3.1 3.5-1.5 3.8.2 4 1.7 4.5 2.6 4.7 2.7 5.1 1.9 5.3.6 5.5-.9 5.7-2.2 5.8-2.9 5.9-2.9 5.9-2.3 5.7-1.3 5.7-.1 5.5 1.2 5.6 2.1 5.8 2.9 6 3.4 6.2 3.3 6.2 3 6 2 5.5.9 5-.6 4.1-2.2 3.2-3.8 2.3-5.4 1.2-7.5.3-3.3-.7-2-1.6-1.7-2.8-2.5-3.8-4.4-5-6.4-6.1-7.3-7.4-6.3-8.5-2.8-9.5 1.5-10.2 3.6-10.8 1-11-4.8-10.9-9.2-10.5-6.4-9.6 2.8-8.6 11.8-7.6 12.3-7.2 4.9-7.9-1.7-9-.2-10 7.7-9.7 15.2-7.6 9-3.5 1.7 2.6-2.6 10-2.4 16.2-.2 18.6 1.5 16.8 1.3 12.4-.1 8.4-2.1 7.4-3.5 9.4-3.5 13-2.5 15.6-1.1 15.5.3 12.7 1.5 8.3 2.2 3.7 2.6 0 2.5-2.1 2.1-2.6 1.1-1.9-.1-.3-1.3 1.5-2.5 3.2-3.2 4.2-3.9 4-5.3 2.5-4.4.3-3.2-2.3-2.7-4.5-2.8-5.6-3.1-5.1-3.6-3.3-4-1.2-3.6-.1-2.3-1.3-.5-4.9 1.4-10.8 2.6-16.9 2.2-21.5.6-22.7-1-20.3-.3-15.2 2.2-9.3 4.6-5.1 5.3-4.3 4.8-6.8 4.3-11.3 3.5-13.5 3.1-3.6 9.7-1.1 9.5-1.1 9.7-.7 5.4 14.3-2.1 25.2-2.1 26 3.1 23.7 6.4 19.4 4.8 14.6.8 10.8-1.6 8.5-2 7.2-1.8 6.7-2.4 6.6-3.1 6.5-3.1 6.2-2.5 5.6-2.3 4.7-2.9 3.2-3.9 1.4-4.6-.8-7.2-3.3-5.1-5.6-2-7.7-.9-9.5-.4-10.5-.4-10.6-1.4-9.6-3.6-7.8-6.2-5.5-7.7-3.6-6.9-2-3.9-1.3 0-1.6 2.8-2.5 3.4-4 2-5.6-.4-7.1-2.6-8-3.7-8.5-3.4-8.2-2.5-7.7-1.2-6.9-.1-5.9.7-5.2 1.1-4.5 1.4-4 1.6-3.4 1.4-3 1.1-2.6.4-2.2-.3-1.8-1.1-1.5-1.3-1.1-1.1-.9-.1-.7 1.3-.4 3.1-.2 5.4 0 7.8.3 5.6.7 5.5 1.2 5.6 1.6 6 2.1 6.4 2.3 6.7 2.6 6.2 2.8 4.8 3.2 2.3 3.8-.6 4.3-2.6 5-2.4 5.9.6 6.6 5.7 7.4 11.2 8.2 14.6 8.8 14.2 9 9.5 9 3.9 8.6-.1 8-3.4 7.3-6.5 6.8-8.4 6.5-8.6 6.7-7.7 7-6.7 7.9-5.7 8.9-5.5 10.1-5.5 11.3-5.8 12.3-5.9 12.5-5.3 11.9-4.9 9.9-4.7 6.1-6.8.8-4.2-5.3-2.9-11.7-2.5-17.4-2.4-20.9-2.2-21.9-1.1-20.2.8-16.5 2.7-11.9 4-7.5 4.3-4.5 3.6-3.3 2.8-4.2 1.9-6.5 1.6-9.5 2-12.1 2.9-13.5 4.1-13.1 5.2-11.3 5.4-8.6 4.7-6.2 3.4-4.7 2.1-4.1 1.4-4 1.5-3.2 2.7-1.5-.3-.4-1.8.2-2.9.5-3.3 1.5-2.5 7.3-1.4 13-.4 15.8 0 17.5-.3 18.3-.7 18.5-.8 18-.9 17-1.3 15.5-2.3 13.5-3.7 11-4.4 8.2-3.2 5.6-.2 3.6 2.7 2.2 3.1 1.6.4 1.6-3.1 1.9-5.3 1.9-5.9 1.3-1.7-.1.1-1.7-.8-3.5-2.8-4.8-4-5.4-3.3-5.5-1.3-5.5-.1-5.6-.7-6.1-3-7.3-5.3-9-6.5-11-5.9-12.5-4.2-13.4-2.4-13.2-1.9-11.9-2.6-10-3.8-7.5-4.2-5.1-2.7-3 .4-1.6 4.5-1 8.2-.9 9.7-1.6 8.4-2.7 4.6-3.9.5-4.9-2.2-5.4-2.1-5.2 1.2-4.1 10.5-2.4 11.6-.8 10.8.8 11.9 2.2 12.6 3.4 12.2 4.1 9.5 4.5 5 4.9-.2 5.4-4.3 6.4-6 7.5-4.9 8.7-2.2 9.9.5 11 1.7 11.9 1 12.7-1.1 13.2-3.1 13.3-4.2 13.3-4.2 12.8-3.4 12.2-2.2 11.3-1.6 10.2-1.5 9.1-2.2 7.8-3 6.5-3.9 5.3-4.9 4.1-5.8 3.3-9.7 3-7.8 3.4-5.7 4-5.1 4.3-5 2.6-5.2-2.3-5.2-10.3-4.9-19.5-4.9-27-4-29.7-2.6-27.4-.4-21.8 2.5-15.8 5.5-10.8 7.1-7.2 6.3-4.7 3.6-3.6 1-4.5-.1-7.3.7-11.1 3.5-13.6 7.5-13.2 11.1-9.1 12.2-3.1 13.6 2.4 2.9 6.4-2.5 7.4-1.2 5.9 3 3.5 5.8 1.8 4.5 2 .2 4.9-3.9 10-5.4 16.2-4.4 22.1-2.9 26.4-1.9 28.1-1.5 27-1.1 23.5-.9 18.6-1.1 13.3-1.2 8.5-1.6 4.9-2.3 2.6-3.8 1-2.6-.7-2.3-3.5-2.4-7.8-2.8-12.5-3.3-15.9-3.6-16.8-4.3-14.6-4.7-11.4-4.8-9.8-4.3-11.6-3-16.3-1.6-20.8-.4-21.7.1-17.5.5-9.6 1.2-1.4 2.7 4.1 5 5.3 7.4 2.6 8.9-2 9.3-6.2 8-8.7 5.9-9.2 4.3-7.9 3.6-5.5-2.3-3.2-3.6-1-3.1.5-1.5 1.5 1 2.2 3.4 2.6 5.3 3 6.3 3.3 6.1 3.7 4.7 4.2 2.5 4.8-.2 5.7-2.5 6.7-4.3 7.9-4.8 9.4-4.3 11.1-3.1 12.7-1.4 14.1-.2 14.8.2 14.4-.2 12.7-1.5 9.3-2.7 4.4-3.6-1-3.6-5.2-3-6.1-2.4-2.9-2.7 4-4.3 11.9-6 16.8-8.2 15.9-6 8.6-2.5-2.6-.4-13.9-1.6-20.9-4.3-21.5-6.8-16.8-6.3-9.8-2.1-3.9 2.7-1.6 4.5-3.4 2.3-8-2.4-13.2-5.3-17-4.1-17.9.5-16.5 5.1-13.3 7.2-9.9 6.2-7 4.2-5 3.1-3.1 3.9-1.3 5.6-.8 8.1-.9 13.1-1.5 7.8-.9 6-.6 5 1.2 5 8.6 5 11.6 4.4 11.2 2.8 9.9.5 8.3-1.4 7.1-2 6.7-1.7 6.9-.9 8-1.1 9.4-2.2 11-4 12.7-5.5 14.2-6.2 15.4-6 16.3-5.4 16.5-4.7 15.9-3.8 13.8-2.6 10.4-1.6 5.3-.7-.8.3-6.3 1.1-9.7 2.3-9.4 3.1-5.3 3.4 1-.3 7.2 1.6 10.7 0 10.2-3.7 6.1-8.1.4-11.4-4.5-13.1-7.3-13-8.2-10.8-8.5-7.2-10-3.3-14.1 0-19.7 3.2-23.8 6.7-22.6 9.3-14.9 9-3.8 6.6 4.6 3.9 4.4 1.5-4.4.1-15.6-.7-21.8-.7-18.9.6-10.3 2.4-2.1 3.9 1.4 4.8.9 6.3-.9 3.7-1.8 4.1-1.2 4.8.2 4.9 1.9 3.4 3.6 1.6 5.9.3 8.9.9 12.4 2.4 15.9 3.2 19.1 2.2 21.5-.4 22.7-3.1 22.9-4.6 21.8-4.6 19.3-3 15.7-2.1 10.5-1.7 4.6-1.7-1.9-2.5-7.9-6.5-12.9-4.2-15.3-2.1-14.7-.2-11.4 1-6.6.9-1.6-.6 1.6-2.7 1.6-4.4-1.7-5.1-7.8-4.4-15-2.9-21.2-1-24.8.4-25.2.8-22.7.9-18.3 1.1-12.5 2.3-4.1 3.3-.8 4.1-.5 4.5-.4 4.5-.4 6.1 0 3.6 1.6 3 3.9 3.8 5.4 5.4 6.1 6.5 6.7 6.7 7.1 5.9 7.7 4.6 8 3.5 8.5 2.7 8.8 2.3 9.2 1.6 9.4.8 9.7-.6 9.8-1.6 9.7-2.2 9.1-1.7 8.2-.3 6.6 1.5 4.4 3.2 1.6 3.8-1.6 2.9-4.9-.3-7.8-5.5-9.4-11.6-9.3-16.5-6.7-18.4-1.5-19.8 5.6-9.9 13.7-1.6 20.8 3.1 24.9 2.6 24.6 2.1 19.3 1.3 10 .4-1.4-.1-12.4-1.3-21-.7-25.4.5-25.6.8-22.2.5-16.8.1-10.8.4-5.5 1.2-1.8 2.1.1 2.6.2 2.3-1 1.2-3.2-.1-5.5-.9-8-.8-10 .2-11.4 1-12.1.4-12.3-1.8-10.3-4-2-4.3.4-.6.1 6.7-.8 17-1.9 14.9-1.7 11.8-1.3 6.4-.7 1.2-.2-1.2.2-.8.1 1.3 1.4 3.2 7.7 3 10.7 2.8 10.9 1.9 10.6 1.1 9.5.4 8.3-.1 6.8-.8 5.7-1.8 5-2.9 5.3-4.1 6.4-4.8 8.6-4.9 11.4-4.4 14.7-3.6 17.6-2.4 19.7-1.4 20.1-.5 18.4.5 14.1 1.4 8.1 1.9 1.9 2.1-2.8 1.9-4.3 1.8-2.8 1.7.3 1.4 2.5-.3 2.4-6.1-.8-6.2-5.9-8.7-10.8-10.5-13.9-9.8-14.6-6.5-13.6-2.2-11.8 1.4-10.7 3.5-10.3 3.9-11.2 2.9-12.4 1-13.4-.6-13.6-1.3-12.8-.9-10.8 0-8.3 1.2-5.3 2.3-2.7 3-.9 3.7-.1 4-.5 4.4-1.7 4.5-3.1 4.4-4.5 4.1-5.2 3.7-5.1 3.2-4.1 2.8-2.3 2.8 0 4.1 2.9 2.6 5.8 2.7 7.8 3 8.5 3.5 7.2 3.6 4.6 3.4 1.5 2.7 0 2 1.6 2 6.6 1.7 13.7.2 20.5-3 24.3-6.4 24.2-8.4 20.7-8.2 15.4-6.7 10-4.8 5.8-3.5 3.4-2.9 2.1-3.1 1.9-3.8 2.1-4.3 2.4-3.9 2.7-5.2 2.6-.1 2.5 2.3 2.1 2.5 1.3.9.4-1.6-.9-3.9-2-5.6-3.4-6.2-4.8-6.1-6.4-5.3-8.2-3.7-10.2-2.1-12.2-.5-14.3.6-16.1 1.1-17.5 1.4-18.3 1.5-18.1 1.7-17 2.1-14.9 2.7-11.9 3.2-8.3 3.4-4.3 3.7-.6 4.1 2.4 4.9 3.8 6 3.1 8.6.3 10.6-3.6 6.6-6.3 5.1-4.6 2.6 2-.4 12.1-2.8 20.8-3.1 24.2-2.3 21.5-1.8 16.1-2.6 12.3-3.9 12.3-4.4 14.3-3.3 14.1-1.6 9.3-.1 1 .3-6.6-.6-10.2-2-8.2-3.2-2.6-3.4 3.9-3 8.8-3.1 10.7-3.8 9.7-5.6 6.6-6.2 2.4-5.1-1.8-4.2-5.7-3.3-8.8-3.5-10.9-4.1-12-4.6-12.3-4.1-11.7-2.7-10.5-1.4-9-.7-7.4-.9-5.8-1.1-4.6-1.2-3.6-.4-3.1.9-3 2.9-3.1 4.7-3.7 6.2-4.3 6.4-5.2 4.9-6.1 2.2-7-1.4-7.9-4.5-8.6-6.3-9-6.1-9-4-7 .4-2 4.8-.8 9.1-1 12.3-1.5 14.1-1.5 17.1-1.9 12.1.8 6.1 8.6 2.3 11.9.1 12.2-1.2 11.1-2.2 9.3-3 7-2.9 5-2.1 3.8-1 3.6-.4 4.3-1 5.9-2.1 7.7-2.7 9.5-2.6 10.9-1.8 11.8-1.1 12.3-.6 12.2-.5 11.5-.4 10.5-.5 9.1-.3 7.5-.7 5.9.8 4 1.6 2.2 2.1.2 1.8-1.6 1.5-3.8.8-5.8.2-8.1-.5-10.1-1.1-12.2-1.5-13.7-1.5-14.6-1.6-14.4-1.5-13.1-1.7-10.9-2.1-8.5-2.7-6-3.3-3.9-3.2-2.5-2.7-1.9-1.9-2.4-.6-3.8.7-6.1 2.4-8.8 3.6-10.6 3.4-10.5 1.5-7.9-.5-3 .7 2.6 5.2 6.9 10.3 8 17.4 5.9 8 1.4 4-3.2 2.6-5.8 1.6-5.5.2-2-1.3 3.6-2.3 9.9-3.1 15.4-4.5 18.9-5.9 20.2-6.4 19.7-5.9 17.3-4.9 13.9-3.7 9.7-2.7 5.3-2 1.4-1.4-1.1-1.4-1.1-1.6 1.2-2.2 5.2-3.6 8.7-3.1 9.8-2.9 7.5-3 2-3.2-4.4-3.8-9.5-3.9-12.1-3.8-11.9-3.2-9.7-2.4-7.2-1.6-5.4-1-4.5-1-4.8-1-5.6-1.4-6.6-1.7-7.2-1.9-7.6-1.8-7.6-1.4-7.2-.9-6.7-.5-5.8-.1-5.1.2-4.4.5-4.1.8-4 1.8-4.3 3.2-5.1 5.6-5.9 8.6-6.8 11.8-7.3 14.5-7.5 16.3-7 17.5-5.1 17.6-3.1 8.7-.6 3.7 1.3-.7 5.4-4 10.9-6.8 12.5-6.7 11-5.3 7.4-3.5 3.4-1.7 1.1-.3 1.5.2 4.5-.1 8.8-1.2 12.8-2.7 15.7-3.6 16.8-3.6 16.4-2.4 15.2-.7 13.4.6 11.5 0 9.5-1.9 7.7-3.8 6.2-4.2 5-2.3 4.3 0 3.7.7 3.2-1.2 2.5-4.6 1.8-7.3.9-8.4.2-10.1-.7-5-1.3-2.1-2.2-.6-3.2-.1-4.4.1-5.5.1-6.4.1-7.3.1-7.9 0-8.4-.2-9.1-.7-9.8-1.4-10.8-2.4-11.8-3.5-12.7-4.5-13.4-4.6-13.4-3.7-12.7-1.5-11.5 1.7-9.7 5.6-7.6 9.1-5.7 10.5-3.8 9.3-2.4 6.2-1.2 3.4-.5 2.4-.1 3.5.1 9.3.1 3.2-.5-.2-.9-1.5-1.4-.2-1.3 3.1-.7 5.5.6 4.3 2.6 0 5.1-4.1 8.2-3.9 11.6 1.1 14.8 7.2 16.3 9.3 15.4 5.8 12-.7 7.1-6.1 2.6-6.9.5-2.2 1.4 4 5.2 5.9 10.2 1.1 14.3-6.5 15.7-10.7 13.1-12.3 6.7-7.2-1.7-1.9-9.9 9.9-16 11.2-18.5 3.9-17.5-8.7-14.1-17.4-10.2-16-7-6.3-5.1 4.7-4.2 10.7-4.2 10.6-4.6 6.4-5.2 1.7-5.7-1.5-6.2-2.9-6.5-2.5-6.5-1-6.4 1.7-6.1 4.2-5.8 5.6-5.1 5.9-4.2 8.3-3.1 5.4-1.6 6.4.1 7.1 2.1 4.4 3.8-1.2 5.3-5 6.5-3.5 7.2 1.4 7.6 3.6 7.8.6 8-3.5 8.7-2.9 10.3 2.1 13 5.3 16.9 2.6 21.7-3.6 26.5-8.2 29.2-7.4 27.7-7.7 19.6-12.4 5.9-11.5-9.3-10-20.5-8.7-23.9-8.2-19.7-4.1-12.1 0-6.7 2.2-6.8 2.5-11.5 1.5-17-.5-19.7-2.9-18.2-5-13.6-5.4-8-3.9-3.5-1.4-1.1 1.5-.7 3.4-1.9 4.4-3.6 4.3-5.3 3.3-6.6 2.4-7 1.5-6.6 1.2-4.9 1.4-2.5 1.5-.3 1.4 1.9 1.4 4.5 1.4 6.7 1.4 7.8 1.7 8.1 3 7.7 2 6.6 2.2 5.2 2.6 3.6 3.4 2 4 .4 4.6-1.3 4.9-2.6 4.6-3.1 3.9-2.2 3.2.4 2.9 5.1 3 11.3 3.3 18.2 3.4 24.5 2.5 28.8 1.4 30.2.3 28.8-.1 24.9-.7 19.4-2.2 13.6-4.9 8.1-7.5 3.9-8.8.8-12.8-1.4-4.9-2.5-1.1-4.4-1.1-7.4-2.3-10.9-3.1-14.2-2.5-16.6-.8-17.6.5-17.2.5-15.8-.7-14-2.5-12.3-3.9-10.7-4.4-9.6-3.6-8.9-1.7-8.5.6-8.2 2.6-8.2 3.7-8.2 3.6-8.4 3-8.5 2.4-8.5 2.3-8.4 2.5-7.7 2.6-6.9 2.4-5.7 1.4-4.3.6-2.7 0-1.2.2.3 1.1 1.5 2.3 2.5 3.8 3.2 5.9 3.7 3.1 3.5 2.2 3.4 1.4 3.1 1 2.7.9 2.4 1.2 2.1 1.8 1.8 2.2 1.6 2.4 1.3 2.6.9 2.6.7 2.6.3 2.8 0 3.2-.2 3.6-.2 4-.2 4.2.3 4 1.1 3.8 2 3.4 3 3 4 2.6 4.5 2.5 4.5 2.4 4.1 2.1 3.1 1.8 1.9 1.4.7 1.3.2 1.6.2 2.2 1.3 2.1 3.1 0 5.4-4.5 8.1-9.6 10.5-12.2 12.6-9.5 14.2-3.8 14.8 0 14.8-1.4 14.1-6.3 12.9-10.8 11.2-11 8.9-7.3 5.9-3.2 2.3-3.6-1.4-.7-5.3-2-9-3.8-12.3-4.4-14.4-3.9-15.1-3-13.5-2.3-9.3-1.9-2.4-1.6 6.1-1.2 13.8-.8 17.6-.4 14.8.1 4.8.6-10.8 1.5-27 2.9-38.3 4.9-40.1 7.2-31.9 8.8-17.2 8.8-1.9 7 8.1 4 10 .9 5-1.3-3.1-2.4-9.8-1.7-12.5.1-10.9 3.1-6.5 1.7-2 .3.8-.3 3.4.1 6 .8 8.3.4 10.7-1.4 13.3-3.4 16-4.3 17.6-4 17.9-3.3 16.2-2.5 12.7-1.9 8.4-1 4.2-.1 1.7 0 1.7-.7 4.2-1.7 8.6-2.4 12.8-2.4 15-1.8 14.3-1 10.6-.3 5.5-.2.4-1.6-3.3-1-5-1.1-5.2-1.7-4.8-2.1-4.6-2.3-5.3-2.2-6.8-1.8-8.8-1.5-10.7-1-12.3-.5-13.2.1-13.5.5-13.5 0-13-1.3-12.6-2.4-11.9-2-11-.9-10-.3-8.9-.6-7.7.5-6.5 3.8-5.2 7.4-3.6 9.6-2.2 13.9-.6 7.7 1 5.8 3 4.9 5.2 4.1 7.4 3.6 9.5 3.8 11.2 4.5 12 5.1 11.8 5 10.3 4 8 2.3 5.6.2 3.9-1.9 4.1-3.4 6.8-3.9 11.9-3.6 18.6-2.4 24.6-1.1 28 .2 26.6.8 19.9.7 9.8-.3.1-2.1-5-4.1-3.1-5.8 3.9-9.5 11-10.1 12-6.2 5.2-6.9-6.5-8.1-17-7.4-20.6-3.9-17.1 1-11.8 4.8-11.3 5.8-18 3.7-29.1-1.3-38.3-7.6-40.8-10.3-35.9-6.1-22.5 2.5-1.5 9.6-1.1 12.9-1.5 13.7-1.5 16.1-1.2 9.2 4.5 5.3 9.9 1.4 11.3-1.4 12.3-2.2 13.1-.7 13.7 1.5 13.9 3.5 13.8 4.3 13.4 3.8 12.5 2.6 11.2 1.2 10-.2 8.5-1.1 7.5-1.8 6.9-2.4 6.9-2.9 7.5-3.3 8.7-3.6 10.3-3.5 11.9-3.2 12.9-2 12.9-1.7 11-1.7 6.9-2.2.6-3.1-7.1-3.8-15-4.8-21-6.7-23.1-3.1-20-3.1-12.3-4.2-2.4-5 5.9-4.2 8.8-2.8 4.6-2.2-5.2-3.3-16.4-6.1-24.1-8.9-24.8-8.8-18.8-4.6-8.7 1.3.8 6.7 6.1 9.8 5.8 9.8.8 7.9-6.1 6.2-12.4 5.4-15.9 6.2-16.4 8.9-14.4 14.3-11 8.4-6.9 5-2.8 1.9-.5-.4 1.2-1.3 3.5-1.2 5.9-1 7.3-.6 7.9-.3 8.2-.1 7.8.4 7 .9 6 1.4 4.7 1.4 3.4.7 2-.8 1.2-2.9 1.2-4.7 2-5.4 3.7-4.4 6.5-2.1 10.2.6 15.1 2.7 20.3 3 24.9 3.1 27 3.4 25.2 2.1 18.8.5 8.8-1-2.9-2.1-13.2-2.6-20.3-2.9-22.9-2.6-21.6-3-17.4-4.9-12.4-1.6-7.3.4-2.9 1.5.6 1.8 3.1 1.4 4.8.9 5.5.8 5.3 1.1 4.3 1.8 2.5 2.3-.1 2.2-3.3 1.7-6.9.7-10.6-.2-14-.8-16.6-1.1-17.7-1.2-17-1.3-14.4-1.3-10.4-1.3-5.8-1.4-1.7-1.7 1-2 2.1-2.5 1.4-2.5-.1-2.2-1.9-1.3-3.1 1.2-3.2-.8-2.1-1.4-.4-1.9 1.8-1.7 4-1 5.9.1 7 1.3 7.6 2 7.8 2.5 7.8 2.8 7.7 2.9 7.5 2.7 7.5 1.8 7.6-.2 7.6-2.5 7.6-4.8 7.5-6.1 7.5-5.6 7.2-3.8 7.2-1.1 7.2 1.6 7.5 3 7.8 2.4 8.2-.7 8.5-9.2 8.1-10.6 6.8-11 4.2-10.2-.3-8.1-6.1-4.5-12.1-1.6-17.3.2-20.2.5-19.9.1-16 .2-9.7 1.3-2.8 3.2 2.6 4.6 4.2 5.2 1.8 5-4 5.3-11.3 6.9-17.7 8.4-21.6 8.7-22 11-11.1 3.1-.6 3.9-.4 7.6-.9 9.3-.6 6.9 12.3 2.9 20.9.6 20.8-.5 19.3-1.8 17.1-3.4 15.1-4 13.4-3.5 11.5-2.9 9.3-2.5 6.8-2.3 4.3-2.1 2-1.9.3-1.5-1.1-1.2-1.9-1.4-2.6-3.4-3.1-2.8-3.4-3.6-3.9-4.7-4.3-5.5-4.8-6.1-5.2-6.3-5.8-5.9-6.4-4.9-6.8-3.7-7.4-2.4-8-1.9-8.7-2-9.4-2.1-10.4-1.8-11.3-.5-12.1 1-12.5 2.5-11.4 4.7-4.9 6.4-1.1 8.5-1 12.1-1.2 21.9 1.3 19.3 13.5 13.8 17 9.4 16.6 5.8 12.6 3.7 5.9 2.9-1.9 2.3-8.1 1-10.5-.7-7.3-.9.9.6 11.5 1.5 20.7-.9 25.7-6.5 25.9-12 23.2-13.1 19.6-7.8 16.6.2 13.2 4.6 8.4 1.7 2-6.7-4.2-18.9-7.5-16.2-6.4-11.3-1.7-7.7 3.8-4.9 7.4-1.5 7.3 3.2 3.9 6.4-1.2 5.4-6.6.7-11.2-4.2-14.2-6.3-15.7-5.6-16-3.4-15.4-1.4-14.2-.3-13 .3-11.8.7-10.5 1.6-9.7 2.6-8.9 3.9-8.4 4.9-8.1 5.5-8 5.7-8 5.4-8 4.7-7.9 3.7-7.1 2.8-5.1 2.1-2 1.9-.7 2.5-.4 3.8-.4 7.6-.8 4.6-.3 3.5.4 2.3 1.8 1.2 4.4.3 7 .4 9.6 1.1 12.6 2.6 15.9 4.2 18.4 5.1 19.7 4.9 18.6 3.5 15.6 1.6 11.2-.4 6.7-2 3.3-2.8 2.2-3.1 3.3-2.8 6.5-1.8 10.1 0 13.1 2.3 14.6 4.1 14 4.8 11.6 4 8.3 1.5 4.7-1.5 1.8-4.5-.5-6.5-1.7-7.2-2-6.7-1.8-5.5-.9-4.5.1-4.3 1.4-5.6 2.6-8.5 3.5-7.4 3.7-6.9 3.1-5.6 1.5-3.5-1.4-1.4-5.6.1-10.9.8-16.6 1.1-22 .2-25.9.8-27.1 1.9-25.5 2.9-21.3 3.3-16 2.5-10.6.7-6.6-1.5-4.1-3.5-3.5-4.4-3.8-4-4.6-2.2-5.1.8-5.3 3.9-4.8 6.8-4 8.5-3 9-2 8.5-1.2 7.7-.7 8.9-.4 9.7-.2 3.8-.4 2.1-.3.7-.1-.1.5-.5 1.5-.6 3.2-.3 5.4 0 8 0 10.8-.7 13.1-1.9 14.8-3.2 15.5-3.5 15.1-2.4 14 .5 13.2 3.8 12.9 5.4 13.6 3.6 14.6-1.2 14.6-6.5 13-9.2 9.6-8 5.6-4.9 1.7-2.4-1.4-2.2-3.6-3.5-5.7-4.7-7.6-5.1-9.3-6.3-10.3-2.6-9.9-1.7-8.4-1.7-6.1-1.6-3.5-.8-1.1.2.8.6 1.6-.1 1.7-2.2 1.2-4.9.1-7.3-1.2-8.3-2.8-7.2-4.2-4.3-5.6-.4-7 3.7-8.2 7.6-9.6 10.1-10.9 11.2-12.3 10.8-13.7 9.3-14.8 7.3-15.6 5.1-15.9 3.2-15.3 2.1-11.6 1.5-2.1 1.4-.3 1.9-.2 2.7-.3 5.5-.6 6 0 2.6 6.1 1.5 11.7.1 12.1-1.2 11.5-2.2 9.9-2.8 7.8-2.8 5.6-2 3.7-1.1 2.7-.2 3-.3 4.6-1.1 7.2-2.2 9.8-2.2 11.5-.6 12.1 1.4 11.6 2.2 10.9.8 10.6-1.5 10.8-3.3 10.9-3.6 10.1-3.6 7.9-6.5 5-5 2.7-4.3 1.2-3.1.3-2.3-.7-2.5-2.8-3.4-6-4.4-9.8-5-13.2-5-15.5-4.7-16.3-4.2-15.8-3.6-14.2-3-12.1-2.3-10.3-1.7-9.1-1.1-8.7-.6-8.9-.3-9.6 0-10.4.5-11 1.2-10.6 2.7-6.8 5-1.5 8.4-1.1 13-1.4 20.7-2.4 18.9-2.1 11.1-1.1 1.2 2.1-6.6 8.8-5.6 12.7 3 14.8 9.1 16.3 6.5 17 1.1 17 1.3 16.6 4.7 16 2.8 15.1-4.7 14.1-9.9 13.5-8 13-3.1 11.9-.4 9-1.1 4.4-3.8-1-6.7-5.7-11.7-8.2-7.2-7.3-5.1-4.5-3.4-1.3-1.8 1.2-.4 2 .7 1.5 1.5.1 1.9-1.6 2.1-3.1 2.3-4.3 2.4-5.4 2.3-6.3 2.3-7.2 2.2-8.2 1.9-8.9 1.4-9.5.7-9.8-.2-9.8-1-9.5-1.8-9.1-2.2-8.5-2.4-7.9-2.4-7.2-2.2-6.7-1.4-6.3-.6-6-.3-5.8-1-5.6-2.4-5.7-3.5-5.6-3.4-5.6-1.7-5 1-3.1 3.6-1.4 5.5-.8 3.1-.1 1.8 1.1.4 5.4-1 9.6-2 11.4-2.4 11.6-2.4 10.8-2.2 9.2-1.7 8-1.3 7.2-.7 7.2-.1 7.9.4 8.8 1.1 9.5 1.7 9.5 2.2 8.9 2.4 7.6 2.2 6 1.7 4.6 1 3.4.6 2.9 1.1 2.9 2.1 3.2 3.5 3.7 4.3 4 4 3.9 2.8 3.4 1.3 2.5-.1 1.6-1.6.7-2.6-.3-3.1-.9-3.3-1.3-5.3-1.8-2.3-1.8-.4-1.9.7-1.8 1.1-1.9 1-2 .7-2.2.5-2.3.5-2.6.6-3 .5-3.3.3-3.7.3-4.3.6-4.6 1.1-5.1 1.5-5.4 1.6-5.6 1.4-5.8.9-5.7.3-5.8-.3-5.8-.7-6.1-1-6.5-1-7.2-.9-8-.7-8.9-.4-10-.3-10.9 0-11.6 0-12.1 0-11.7.4-6 .6-.5.7-.1.9-.1 1.2-.1 1.7-.2 3.7-.4 1.8-.2 1.4-.2 1.3 0 1.4 4.3 1.1 12.5.7 13.3.5 12.5 0 10.9-.7 8.9-1.7 6.6-2.8 4.6-3.4 3.1-2.8 2.4-.6 2.8 3 4.1 6.1 6.3 7.1 8.6 5 10.5.6 11.7-4.3 11.9-7.3 11.1-7.4 9.5-5.1 7.3-1.9 5.2.7 3.1 1.6 1.4.9.3-1.1-.2-4.2-.3-2.7 0-2.1 0-1.6-.3-1.2-1.3-.9-2.8-.5-4.9 0-7.2.9-9.7 1.5-11.9 1.9-13.8 1.9-15.3 1.6-16.4 1.3-16.8 1.2-16.8 1.3-16.3 1.5-15.2 1.5-13.6 1.2-8.2.5-1.1-.4 0-.9.1-.6.7.5 8.6 2.1 16.3 3.6 16.2 6 12.5 3.8 5.7 3.2-2 3.3-8.2 4.1-11.1 4.5-9.7 3.8-4.5 2.3 2.5.6 9.5-.3 14.8.1 17.7.4 18.9.1 19.3-1.5 19.6-3.5 19.7-5 19.4-5.3 17.9-4.3 14.3-3.3 9.1-3.5 2.7-5.5-3.4-8.9-8.3-11.9-10.6-14.9-10.6-6.3-8.6.7-6 2.1-4.4-2.1-4.7-7-7.2-6.8-10.6-.8-14 5-16.7 4.8-18-.3-17.9-1.9-16 2.3-13 5.6-9.9 2.2-7.4-3.8-5.5-5-3.9-.8-2.7 3.5-1.9 5.3-1.5 5.8-1.3 7.1-1.1 10.7-1 12.8-.9 8.8-.3 6.6.3 4.6 1.1 3.3 2.1 2.1 3.1 1.6 3.8 1.1 4.5.9 5 .7 5.2.7 5.3.8 5.5.8 5.6 1 5.9.8 6.6.5 7.2.1 8.1-.4 8.7-1 9.3-1.7 9.5-2.2 9.7-2.8 10.5-3.5 11.9-4.3 14.3-5.2 16.9-6 18.3-6.2 16.8-5.8 11.6-4.7 3.2-3.4-5.8-2.2-12.2-1.8-13.4-2.2-8.8-3.6-.3-4.9 8.8-3.5 15.3-3.1 16.9-2.2 13.6-1 7.2.4-.7 1.4-7.9 2-13.6 1.8-17.8.7-20.4-.2-21.8-.9-21.9-.8-20.9.1-18.6 1.8-15.4 2.8-11.4 2.6-7.1 1.1-3-.6.2-1 1.9.1 1.6 2-1 3.8-5.3 4.9-10.3 5.6-14.4 7.1-15.9 4.1-9.9 4.2-1.2 4.6-.5 4 .1 2.2 9.7.3 19.8.3 21.6.9 20.4 1.2 17 1 12.9.7 9.1.8 6.7 1.1 6 1 6.8-.1 8.1-2.1 9.4-4 9.9-5.3 9.1-5.4 7.3-5.6 4.6-7.4 1.5-4.4-1.3-3.1-3.6-3.1-5.4-3.8-6.6-3.9-7.2-3.5-7.7-2.4-8-1.9-8.3-2.5-8.8-4.6-9.4-6.8-9.8-7.3-10.4-5-10.8-.8-11.2 2.6-11.4 4.1-11.2 4.5-10.8 5.9-9.7 8.3-8 10.2-5.7 11-3 12.1-.1 15.8 2.8 7 5 2 6.5-1 6.9-1.1 6.7-.3 5.8-.7 4.7-2.1 4-2.9 4.2-2.5 5.6-1.6 7.9-.8 10.7-.6 12.9-.7 14.1-1 13.8-1 12-.8 9.4-.4 6.5-.2 4.1-.3 2.4-.8 1.6-1.8 1.4-3.2 1.4-6.2 1.2-6.3.5-6-.6-6.2-2.1-6.1-3.7-5.6-5.2-4.5-6.2-3-6.8-1.5-7-.6-7-.6-6.7-1.6-6.6-2.5-6.6-2.2-6.6-.3-6.8 2.4-7 4.4-7.4 4.5-7.9 2.4-8.4-.3-9.1-2.2-9.6-2.8-9.7-1.9-9.6-.3-8.3 2-5.6 4.6-2.1 7.1-.6 8.6 1.2 9.4 3.9 10 4.8 11.6 3.2 5.6 0 3.3-2.8 1.7-4.6.5-4.5 0-3 .3-.7 1 1.6 2 4.4 2.3 6.7 1.9 8.4.7 9.4-.6 10-1.8 9.9-2.3 9.3-2.3 8.8-2.2 8.4-2.1 8.8-2.6 9.7-2.9 11.2-3 12-3 11.7-2.9 9.7-3 6.6-3.3 3.5-3.6 1.6-3.5 1.7-3.1 3.5-2.4 5.5-1.8 6.4-1.5 5.1-1.8 2.3-2.3-1.2-1.4-4.2-1.2-5.9-.9-6.6-.7-6.5-.4-6.7-.1-7.3 0-8.5-.1-10.2-.4-11.8-1-13-1.5-13.7-1.3-14.3.1-14.7 2.3-15.1 3.9-15.5 3.1-15.4.5-5.6-.5 0 6.9-.8 9.5-1.1 11.9-1.3 12-1.3 10.7 6.3 8.7 25.4 6.3 29.1 3.6 29.3.7 26.2-.7 20.3-1.1 12.5-2.1 4.5-4.5-2.3-6.8-6.5-7.6-6.8-7.2-4-7 1.2-7.6 6.8-8.1 11-7.8 12.6-8.3 11.5-2.7 8.3-.6 3.6.7-1.8 1.7-7.1 2.2-11.7 2.9-14.9 3.7-16.2 4-15.6 3.5-13.3 2.5-10.1 1.7-7.1 1.3-5.1 1.2-4.5 1.8-5.2 2.3-7 3-9.1 3.3-10.9 3.6-11.9 3.4-12 3.2-11 2.6-8.7 2.2-4.7 1.6-1.4 1.3-.2 1.4 1 1.7 3.6 2.8 7 5.3 8.7 3.1 8.9 2.2 8.5 1.5 7.3 1 5.9 1.1 4.1 1.7 2.8 2.6 2 3.2 2 2.7 3 .4 4.9-3.4 7.5-7.4 10.2-10.1 12.8-10 14.7-7.7 15.7-4.8 15.3-4 14-6 11.7-8.5 9-8.4 6-9.5 2.5-2.6-.8-6.4-4.7-11.4-8.2-8.4-10.6 0-11.6 3.3-11.8-1.2-11.8-5.8-11.7-4-11.3 1-11.2 5-11.4 6.3-11.9 6.3-12.4 5.1-12.3 3.4-11.6 2.3-9.7 3.2-7 5.8-3.6 8.4.1 11.9 3.6 5.6 6.3 1.5 8.3-.8 9.7-.8 10.5.5 10.9 1.6 11 1.3 11-.1 10.9-1.7 11.1-2.2 11.5-1.6 12.1-.9 12.9-.8 13.4-1.8 13.6-2.7 13.2-2.5 12.7-1.4 12.3.2 12.2.6 12.5-2.3 12.3-8.3 10.4-9.4 6.1-10.3-1.7-7.9-11.8-3.7-22.5.7-30.9 3.2-34.5 2.5-32.4.4-24.5-.6-13 .5-.7 2.8 9.1 3.8 12.9 2.6 8.9-.2-1.2-2.8-13.3-2.9-22-.3-24 4.1-19.3 8.3-11 9.7-3.4 8.4.8 5.5 1.2 3.3-.5 5.9-2.5 3.1-3.6 1.2-3.2.2-1.7-.9.2-1.7 2.2-.8 4.3 1.5 6.2 4.8 8.2 7.3 9.9 7.8 11.3 6.5 12.3 4.1 12.9 2.2 13 1.3 13 1 12.7-.4 12.6-3.7 12.5-8.4 12.3-12.3 12.4-13.3 12-10.7 11.4-7 9.7-4.9 7-5.9 3.1-12.1-1.8-9.1-5.9-3.6-9.3.2-12 2.1-13.9 1.9-15.2.5-15.6.1-15.2 1.4-13.8 3.9-11.5 5.6-8.9 5.4-6.7 4-5.6 2.2-6.1 1.4-8.2 1.6-11 2.2-12.5 2.9-11.3 3.3-7.8 3.3-4.8 3.2-4 3.1-4.9 3.2-4.3 4.5-.5 1.1 4.8.6 8.9 1.9 7.6 3.8 2.7 3.9-1.5 1.5-1.1-1.6 4.3-3.2 11.6-2.8 17.9-3.4 20.9-4.6 21.1-3.3 20.1.9 18.8 2.8 17.2-1.2 15-6.4 12.5-6 9.4-2.1 5.8-.2 1.7-4.5-2.4-9.1-5.8-6.5-7.8-4.2-8.4-3.2-7.6-4.1-6.1-5.2-4.7-4.7-4.4-2.7-5.5-.5-8.1 1.4-11.1 2.7-13.6 3.8-14.3 4.6-13.4 4.9-11.3 4.7-9.2 4.1-8 3.3-8.5 2.6-10 1.9-11.7 1.4-12.3 1-10.7 1-5.3.4-.9.1.1.3.7 1.5 2.7 6.7 5.1 8 4.9 7.9 3.8 8.6 2.5 7.6 1.7 4.7 1.3.8 1.8-2.3 2.7-3.6 4.3-3.1 6.1-1.9 8-.7 9.7.1 11 .5 12 .3 12.5-.6 12.6-1.9 12.3-2.9 11.8-3.2 11-2.5 9.9-1.7 8.4-1 6.5-1 4-1.3 1.1-1.6-1.7-2.1-3.9-3.7-5.1-2.8-5.1-2-4-2.1-2-2.5.2-2.9 1.7-3.3 2.2-3.4 1.5-3.4-.5-3.3-3.5-3.1-6.8-2.9-10.2-2.8-13.5-3.6-15.8-5-17.4-6.1-17.8-5.5-17-2.6-15.1.5-12.7.7-9.4-2.5-5-4.9-1.1-1.5-.1 8.2-.3 20.7 1.4 33.1 5.5 21.5 7.5 8.9 8.6 1.8 9 .4 8.8 1.9 8 3.3 6.9 2.2 5.9-.8 5.4-4.1 5.4-6.3 6-6.5 6.7-4.9 7.6-3 8.3-1.4 8.7-.6 8.8-.4 8.6-.6 8.4-.8 8-.7 7.4-.8 6.7-.8 5.8-.8 4.5-1 3-1.3 1.3-2-.3-3.4-1.7-3-2.5-3.2-3.1-3.5-3.6-3.8-4.5-4.4-6.3-5.2-8.9-6.3-12.2-6.8-15.3-5.8-17.1-2.8-17.2 1.6-15.6 5.3-13.2 6-11 4.1-9.4 2.1-8.4 3.3-7.5 7.8-6.1 13.2-4.6 16.7-2.9 19.1-1.1 6.3.2 2.5 2 3.4 4.1 6.7 5.9 9.7 7.4 9.7 8.3 6.5 8.9 2.1 9.7-2.3 10.6-6.5 11.8-8.9 13.2-8.9 14.2-6.2 14.3-2.6 13.3.5 10.8 1.7 7.4 1 3.7-.4.7-1.3-.8-1.6-.6-2.8 1.4-6.2 4.4-11 7.6-14.2 10-13.1 11.1-8.1 10.6-2.1 8.6 1.6 5.9 1 3-6 .5-4.8-1.2-5.6-2.3-5.2-2.9-3.2-3.2-.6-3.6 1.3-4.2 1.8-5.2 1.2-6.6.1-8.2-.6-10-1.1-11.7-1-13.2-.8-14.5-.8-15.6-.7-16.1-.2-16.4.9-16 2.3-15 3.9-13.1 4.4-10.5 3.9-7 2.8-3.5 2.4-.5 3.7.9 6.3.7 8.4-1.2 11.1-3.6 4.9-5.3-1.9-4.2-1.2-.6 5.7 5.2 12.4 15.1 11 23.9 2.1 30.1-7.9 32.8-11.8 31.5-9.6 26.5-5.1 18.8-2.2 9.5-2.2.5-4.9-6.9-7.2-11.5-7.3-13.1-5.6-12.4-4.2-10-5.8-7.5-3.8-4.7-4.8-2.7-5.5-1.3-4.9-.5-3.6-.1-2.4.1-1.9.1-1.9 0-1.9-.3-1.5-.5-.5-.8 1.5-1.1 4.3-1.5 7.4-2.6 9.8-3.9 10.5-5.8 9-8.2 5.6-10.3 1.1-12.1-3.1-12.9-5.6-12.6-5.2-11.2-2.1-9.1 3.1-7 8.2-5.7 11.8-5 12.8-5.2 14.9-5.1 14.5-4.3 5.8-1.9 3.9.9 3.6 5.3 3.6 11.2 4.6 15.7 5.9 18.3 5.6 18.8 2.2 17.3-2.9 14.8-7.8 12.2-9.9 9.9-9.1 8.4-7.5 7.7-6.7 7.5-6.8 7.6-6.1 7.8-3.9 8.3-1.7 8.3-1.6 7.4-6.5 4.7-9.3.5-9.1-4.5-6.8-9.4-3-12.9.3-14.6.7-14.4-1.1-12.7-2.5-10.3-1.4-7.5 1.4-5 3.1-3.6 2.3-3.5-.6-4.3-3.1-5.5-3.1-6.7-.8-7.7 2-8.5 2.7-9.3 1.1-10-1.2-10.3-1.6-10.2 1.2-9.5 5.2-6.4 7.5-2.1 6.9-1 6.9-.8 10.5-1.2 5.1-.5 7.7-.4 11.1 5 10.4 12.6 7.6 14.1 3.6 13.4-.1 11.1-2.2 8.6-3.1 6.9-3.7 7.5-4.7 10.8-6.2 15.9-7 21.3-5.9 24.7-3.5 24.5-.6 20.5 1 13.6.4 5.6-2.1-1-5.2-5-7.5-5.7-8.4-3.7-9.3-.7-13.6 2-7.5 4.8-4.5 6-1.9 5.8-.7 4.5-2.1 2.4-5.7-.2-7.8-2.6-5.4-4.7.9-6.8 8.5-8.7 13.5-10.3 12.1-11.4 5.2-11.8-3.5-11.9-10-11.8-11.6-11.8-8.6-12.1-3-12.7 3.1-13.2 8-13.8 10.7-14.1 10.7-14.4 8.9-14.5 6.4-14.3 4.3-13.5 3.2-7.9 3.5-1 7.1-.8 13.5-1.5 8.7-1 9.1-.4 8.6 10.4 5.9 18.7 1.9 18.9-1.6 15.6-3.7 9.9-4.6 4.1-4.6.1-4.7-.3-5.1 2.8-5.5 8-5.8 13.2-6 16-5.7 15.7-5.1 12.5-4 7.5-2.8 2.6-1.9-.8-1.1-2.3-.4-1.9.1 0 .4 2.2.5 4.2.6 5.8.9 6.5 1 6.4.7 5.6-.3 4.2-2.7 2.2-6.5.1-5.9-1.9-4.1-3.6.1-4.5 3.9-4.5 4.5-3.4.4-1.4-5.9 1.2-9.5 3.6-7.7 4.6-2.2 2.8 2.8-2 3.8-8.7.7-15.7-3.7-21-5.6-23.1-3.5-22.1.7-18.7 4.2-14.3 5.3-10.1 5.2-6.8 5.8-4.3 6.7-2.4 5.5-.9.6.3-5.8 1.2-8.7 1.7-5.4 1.6 5.4 1.3 9.7.5 8.2-.2 4.9-.9 1.8-.7 1.7.3 4.9 2.4 7.6 5.4 6.9 8.9 3.2 12.5 0 15.9-.1 19.2 3.1 21.6 6.2 23 6.2 22.6 2.5 20.2-3 15.8-6.9 9.6-7.5 3-5.2-1.8-1.8-3.3.5-.9 1.5 3.3 1 6.2.3 5.7-.5 2-1.3-1.8-3.4-3.5-2.5-2.8-1.9-1.3-1.7-.9-1.5-2.3-1.1-4.9-1.1-7.6-1.4-9.5-1.7-10.2-2.1-10.5-2.1-10.5-1.9-10.6-1.9-10.8-2.4-11.1-3.8-11.5-4.7-11.9-3.9-11.9-.9-11.3 1.9-10.2 2.3-8.9 1.6-7.1 1.9-5.1 2.7-3 .6-1.7-2.8-1.7.4-1.8 8.4-2.1 12.3-2.9 10.5-3 1.5-1.5-5.5 2.6-3.4 9.5 4 16.3 7.8 20.4 5.2 20.6.7 17.8-1.6 13.9-1.4 10.1-.7 7.5-1.3 5.7-3.3 4.8-6.1 3.9-8.8 3.1-10.9 2-15 .6-9.8-.3-4.7-1.7-1.3-3.4.4-5.7.5-8.1-.3-10.2-1.4-12.1-1.5-13.2-.8-13.7.9-13.4 2.6-12.6 4-11.4 4.5-9.8 4.8-8 4.7-6 4.8-4.1 4.5-2.5 3.7-1.4 2.8-1 2.1-1.3 1.9-2 2.5-2.7 4.9-3.3 4.2-3.4 4.4-2.9 4.6-1.9 4.3-.6 3.8.9 3.2 2.4 2.8 3.6 2.5 4.8 2.4 5.6 2.1 6.3 1.8 6.9 1.3 7.2.3 7.6-.8 7.8-2.3 7.9-3.8 7.8-5.6 7.5-7.1 7.1-8.1 6.4-8.1 5.7-6.6 5.2-3.7 5-.3 5.2 1.9 5.9 1.2 7.2-2.9 8.8-8.5 10.4-12.1 12-13.4 12.4-3.8 11.2 1.7 6.9.4-1.1-6.3-11.2-11.4-19.8-9-23.5 0-20.5 6.1-13.9 5.2-8.3 1.6-7.5 1.8-10.7 5.5-14.5 8.7-15.5 8.6-13 6.8-8.6 5.5-5.1 4.6-3.8 3.3-4 1.3-4.5-.5-4-.4-2.1 2.5-.1 8.2 2 5 3.4 5 4.1 3.8 4 1.1 3.6-2.4 3.6-5.5 4.7-7.4 6.6-7.3 9.2-5.8 12-3.7 14.2-1.9 15.7-.8 16.3-.6 16.1-.8 15.6-1.1 14.9-1.2 14.3-1.1 13.8-.7 13.3-.1 12.6.8 11.9 1.7 10.9 2 9.7 1.5 8.3.3 6.7-.9 5-1.7 3.1-1.7 1.2-2.6-.8-.5-2.9.5-5.2-.2-7.6-2.1-10.2-4-12.3-5.2-13.5-5-13.1-3.4-11.4-.8-9.2 1.8-7.6 3.4-7.6 3.5-9.8 1.8-13.3-1.5-17-5.1-19.1-7.7-19-7.7-16.7-4.8-12.8-.2-8.8 4.6-5.4 7.2-3.1 7-2.2 4.1-2.3.5-2.8-1.9-3.7-1.6-4.6 1.1-5.1 5.3-5.4 9.4-4.6 11.3-3.1 11.8-2 15.7-2 7.9-.9 6-.6 6.5-.2 7.2 2.3 6.2 7.1 3 11.1-1.2 14.1-4.5 16.6-5.4 18-4.2 17.8-2.2 15.9-1.1 12.8-1.4 9.5-2.6 7.4-4 7-4.4 7.9-3.9 8.9-3.1 8.6-2.2 6.8-1.7 3.8-1.6.7-1.7-1.7-1.7-2.9-1.5-2.8-1.3-2.1-.9-1.1-.7 0-.4.9-.4 1.7-.6 2.2-1 2.6-.6 2.8-.4 2.7-.4 2.3-.3 1.7-.2.7 0-.5.2-1.9.3-3.5.5-5.1.4-6.6.2-7.8-.2-8.7-.9-9.2-1.6-9.1-2.2-8.5-2.4-7.7-1.9-6.9-1-6.7.2-7.3 1.4-8.5 1.9-9.9 1.6-10.9.5-11-1-10.3-2.4-9.2-3.6-8.5-3.9-8.2-3.8-7.7-2.5-3.3-.8-.3 1.8-.3 8-.9 7.1-.7 7.8-.3 8.7 4.3 8.6 8.7 7.8 8 5.9 6.2 3.8 4.2 1.5 3-.4 3.1-1.4 4.5-1.7 7-1.6 9.8-1.2 12-.8 12.9-.1 12.2.6 10.1 1.2 7.5.8 5.2-.6 4.7-3.1 6-5.7 9.1-7.3 13.3-7.2 17.2-5.8 19.8-3.4 20.2-1.5 18.1-.9 13.9-1.2 8.2-3.5 2.3-1.9-3.1-1.8-7.4-1.7-10.2-1.5-11.6-1.2-11.7-.8-11-.2-10.1.7-8.9 1.4-8.1 1.8-7.4 1.8-6.9 1.3-6.7.8-6.6.3-6.7.2-7.1.7-7.6 1.5-8.4 2.3-9.3 2.7-10.3 2.7-11.5 2.1-12.7 1.2-13.8.2-14.5-.5-14.7-1-13.9-.9-10-.7-1.9-.5-.1.1 0 2.5-.3 4-.2 4.2 1.6 4.4 5.5 3.1 6.6 1 6.2.4 6.4 1.3 7.5 3 9.7 3.6 12.2 2.8 14.4 1 14.8-.2 12.5-.7 7.9-.3 2 .5-2.7 1.5-3.8 2.5-.1 3.1 8.1 2.1 18.2-.6 26.5-4.1 29.9-7.4 27.5-9 20.4-8.3 11.4-6.5 3.6-4.7-1.6-7.9-4.6-4.8-5.5-4.2-6.4-4.1-8.1-3.4-10.4-2-12.6-.6-14.3.2-15.4.4-15.8.4-15.5 0-14.8-.1-13.8-.1-12.6-.1-11.4-.3-10.1-.8-9-1.5-7.9-2.3-6.8-2.6-6-2.7-5.1-2.1-4.5-1.1-4 0-3.7.9-3.4 1.5-3.2 1.6-3.1 1.9-2.8 2.5-2.5 3.9-1.9 6.1-1.3 8.9-.4 15.5.8 13.6 2.2 12 3.4 11.8 4.5 11.9 5.1 10.6 5.5 7.4 5.7 2.5 6.2-2.5 7.2-6.2 9.5-6.9 12.8-5 16-3.2 18.1-3.6 17.8-5.7 15.4-7.5 11.8-7.6 8.5-6.6 6.3-5.4 5.6-4.3 6.2-3.2 7-2.4 6.9-2.1 5.5-2.6 2.8-3.7-.5-4.3-3.7-2.1-6.3-.8-7.8.3-9 .6-9.9-.3-10.7-2-11.7-3.5-12.6-3.8-13-2.3-13.1-.2-12.4 1-11.4.4-9.9-1.5-8.3-3.1-6.5-3.1-4.9-1.2-3.5 1.2-2.7 3.5-2.5 5.3-3.1 7.5-4 12-4.3 16.7-3.7 11.7-2.3 8.7.7 3.6 4.4-1.9 8-6.4 10.7-8.7 11.7-8.6 11.2-7 9.3-4.7 7-2.4 5.3-.6 4.5.7 5 1.1 6.7.5 8.6-.6 10.3-2.1 10.8-3.3 9.7-3.8 6.5-3.4 2.2-2.2-2.6-.4-5.8 1-6.1 1-2.5-1.6 3.7-6.7 10.3-6.6 14.2-5.2 12.8-2.7 5.7-1-4.9-1.5-16-5.5-24.5-7.2-28-4.2-26.1 1.9-19.7 6.6-11.6 6.6-4.3 2.8-.2-.8 0-2.2-2.7-1.7-6-.6-8 .2-7.5.6-5 1.5-1.8 2.7.5 4.5 1.3 6 1 7-.3 7.9-1.6 11.3-2.7 4.8-2.7 1.8-2.2-.1-1.4-1.1-.6-1.3.4-.8 1.4.2 2.8 1 4.4 1.1 6.3.4 8.2-.8 10.1-2.4 11.6-3.7 12.1-4.5 11.5-4.5 9.6-3.8 6.9-2.7 4.3-1.7 3-.8 4.3-.2 8.1.1 13.1.1 17 .6 17.6 1.2 14.1 1.7 7.6 1.1.8 0-4 .3-5.6-.4-4.4-.6-2.2-.4-.3.1-.1.5-1.3.4-3.6-.5-6.2-1.5-8.3-2.5-10-2.6-11.1-2-11.7-.6-12 .6-12.1 1.4-12.2 1.8-12.2 2.1-11.9 2.4-11.5 2.6-10.9 2.2-10 1.4-8.7 1.2-6.7 1.9-3.5 2.8-1.2 3.5-.6 4.2-.4 2.3.2.8 2.1.1 6.1-.4 9-.1 9.7.5 9.1 1.1 7.4 1.3 5.9.8 6-.3 8.7-1.1 13.5-1.1 18.3-.3 20.7 1.2 18.7 2.6 12.7 3.8 4.7 4.5-2.2 4.8-5.6 4.7-5 4.3-1.7 3.6 2.4 2.5 5.2 1.6 6.4.8 6.5.4 5.9.1 5.5-.5 5.3-1.4 5.4-2.4 5.3-3.6 4.9-4.9 3.8-6.7 2.2-9.5.4-5.6-1.4-5-2.8-4.6-3.8-4.5-4.3-4.5-4.3-5.3-4.3-5.6-4.2-5.8-4.6-5.5-5.2-4.6-6-3.7-7.2-2.9-8.5-2.6-9.7-2.9-11-3.5-12-3.9-12.7-3.6-13.1-2.4-13-.5-12.6 1.7-11.8 3.9-10.7 6-9.3 8.1-7.7 11.7-5.7 18.7-3.2 12.5-1.3 11.2 1.3 9.1 4.2 5.2 7.1.2 9.6-3 11.8-3.4 13.5-2 14.7-.9 15.5-1.5 15.5-3.5 15.1-4.9 14.3-5.1 12.6-4.1 9.9-3 6.3-2.1 2.2-1.6-.8-1.2-1.6-1 .5-1.1 4.1-1.4 7-1.4 6.7-1.5 2.8-1.1-3.2-.4-8.4-.4-10.6-.8-10.1-1.4-8.1-1.9-6.7-2.1-6.8-1.8-7.6-1.4-8.2-.8-7.6-.8-6-1.1-4-1.4-2.8-1-2.7-.7-3.8-.9-5.5-1.7-7.7-1.2-9.5.6-10.9 1.9-11.4.9-10.7-1.3-9.3-.6-6.7 4.9-3.4 11.9-.9 16.5 1.7 17.6 5 6.7 7.1 1.6 8.4.8 9.2 2.9 9.5 5.7 9.5 7.5 9.5 7.4 9.5 5.5 9.5 2.6 9.6.1 10-1.5 10.6-1.9 11.4-2.1 12.4-2.7 13.1-3.8 13.8-5.2 14-6.7 14.1-8.2 13.8-9.4 13-10 11.9-9.1 10.5-7.4 8.7-5.2 6.1-4 2.9-4.6-1.4-.7-5.8 1-10.9 2.6-16.4 4.1-21.7 4.6-26.3 4.2-30 3.8-32 3.1-32 2.2-29.7.6-25.3-1.6-19-3.2-8.9-3.2-.7-1.9.3-.3 1.3-.2 3.6-.2 4.1 2.2 2.5 8.9.9 12.3.5 7.8.9 4.4 2 3.3 2.8 4.2 3.7 4.3 5.4 2.4 9.2.5 15.9-.5 24.9-1.9 33.6-5 38.8-7.7 37.7-6.4 29.2-4.2 15.3-2.2-.5-.7-14-.1-21.8-1.7-22.4-5.4-16.8-11.3-7.1-9 3.4-6.1 11.2-5.8 14.2-5.7 11.7-5 4.9-3.3-4.2-.7-13 2-19.7 4-23.1 4.7-23.5 4.3-21.6 3.5-18.7 2.9-15.6 2.2-13.1 1.2-11 0-9.1 0-6.8 3-4.2 8.8-1.4 19.2 1.2 13.3 2.6 6.1 3.2-.2 3.5-1.6 3.9 2.6 4.6 6.8 5.9 5.5 7.5-1.9 9.5-9.1 11.6-9.1 14-2.4 15.9 4.8 17.3 6.7 17.4 2.7 16.4-3 14.4-6.5 12-6.8 9.2-4.5 6.5-2 4.3-.3 2.4-.2 1.1-1.3.4-2.9.2-4.6.3-6.8.8-4.9 1.3-3.5 1.7-2 1.8-.4 1.4.7.4 1.3-1.1.9-3-.1-5.3-1.2-7.4-2-9.3-1.6-10.4-.4-10.9 1-10.9 1.5-11.1.6-11.6-1-13-2.3-14.9-1.8-16.7-.1-17.7 1.2-17.2 1.3-14.9.2-11.1.4-6.4 2.1-1.9 5 1.6 6.8 3.9 9.6 4.9 2.8 4.7-.6 4 .1 3.3 3.3 2.9 6 2.8 5.6 3.1 2.1 3.9-1.8 4.7-3.5 5.7-1.8 6.6 1.8 7.3 5.3 7.7 6.9 7.8 6.1 7.4 3.2 6.7-.3 5.5-3.2 4.4-4.7 3.2-4.4 2.4-3.1 2.3-1.9 3-1.8 4.5-3.3 6.8-5.5 9.3-7.2 11.3-7.8 12.3-6.3 11.6-4.7 8.6-3.1 3.9-2.1-1.5-4.1-6.5-1.7-9.2-1.5-9.5-2-7.5-2.1-4.2-1.3-.9-.3 1.4.6 2.4 1 1.9.7.2-.3-2.1-1.5-4.4-2.3-6.4-2.9-8.3-3-9.8-2.5-11.1-1.9-12.2-1.2-12.7-.3-12.6.9-11.3 2.4-8.7 3.9-5.1 4.8-1.4 4.6 1.2 4.1 1.4 4.1-1.5 5.5-7 6.9-13.7 6-19 1.6-9.8-3.7.3-2.7.3 2.2-.2-.5 4 3.6 31 6.5 33.3 7.5 27.8 6.9 18.4 4.8 8 1.9.4-.5-2.5-1.9-.5-3 5.4-5.2 12-7.5 16.9-8 18.1-5.1 15.4-.6 10.1 2.5 4.4 1.1.7-6.5-1.1-8-1.1-9.5-2.1-7.1-5.2-2.6-9.5 1.5-12.8 2.7-13.8.9-12.1-2.1-9.5-3.8-7.5-3.6-7.4-2.1-8.3-.3-9.5.6-9.6.6-8.6-.2-6.4-1.1-4.2-1.7-2.1-1.9-1.1-1.5-.6-1-.8-.2-1.4.4-1.9.9-2.6 1.5-3.2 1.9-3.8 2.7-4.3 3.5-4.9 4-5.2 3.8-5.4 3-5.6 2.3-5.3 4.4-5.1 11.7-4.5 8.8-3.4 11.4-2.1 12.4-.8 9.6.9 3.6 2.4-2.2 3.7-5.1 4.9-4.7 5.7-3 6.5-2.5 7-3.9 7.4-6.2 7.4-7.5 7.5-7.2 7.5-5.8 7.7-4.4 8.1-3.8 8.6-3.7 9.5-3.8 10.7-3.5 12.2-2.9 13.8-2.2 15-1.5 14.6-.9 11.6-.5 5.5-.4-2.7-.9-10.7-.7-14.9-1-12.5-.9-3.7.1 8.1.8 16.1.8 14.9.1 2.9-1.5-15.6-4.5-32.8-7-41.1-6.7-38.1-3.7-26.6" fill="none" stroke="#ff0000" stroke-width="0.7" stroke-opacity="1" stroke-linejoin="round"/>
<path d="M320 597L276.6 610.9 249.3 611.5 320 648.5" fill="none" stroke="#ff0000" stroke-width="0.7"/><path d="M1022.8 625.3l1.3 5.4 1.7 5.2 2.6 5.6 3.4 6.8 3.5 8.2 2.3 9.7.3 10.4-3.3 10.1-8.6 8.5-14.3 5.4-15.3 1.3-15.4-2.9-14.1-6-10.5-7.6-5.8-7.3-1.4-5.5 1.2-2.8 1.8-.5.8-.4-.3 1.3-.5.8.7-.6 3.1-2.3 5.6-3.3 7.4-3.3 8.6-2.7 9.6-1.7 13.4-.7 11.2-.6 10.5-.7 9.8-.5 7.9.6 4.7 2.9 1 6.6-2.1 11-4 15-4.7 18.8-4.4 17.4-3.8 13.5-3.8 9-3.9 4.3-4.3.8-4.2-.9-3.9-.9-3.7-.1-4.3 1-7 1.2-4.7-.3-5.3-2.9-6.6-6.2-7.7-9.6-8.2-12.4-8.6-14-7.8-14.6-6.2-14.5-4-14.2-1.7-14 1.7-11.8 4.3-10.7 6.2-10.1 7.5-9.3 7.9-8.7 7.9-7.8 7.7-6.5 7.4-5.1 8-3.2 8.5-1.2 6.2.1 5.7.6 5.9.9 6.3 1 6.6 1.3 6.4 1.3 5.6 1.6 4 2 1.9 3.1-.6 3.7-2.9 4.7-4.5 5.7-5 6.5-4.6 6.7-3.8 6.5-3.6 6.1-6.2 5.9-4.9 4.9-6.4 4.4-9.1 4.2-10.8 3.9-10.8 3.4-8.3 2.6-4.2 1.5.2-.2 3.8.3 5.9 1.2 6.2 1.9 5.7 2 5.2 1.8 5.2 1.2 6.1.9 7.8 1.5 9.2 2.8 11.6 4.8 10.7 6.6 8.8 7.2 7.1 6.8 5.2 5.3 3.5 3.6 2.2 2.4.8 2.1-.4 2.7-1.5 3.9-2.4 5.2-3.2 6-3.7 6.1-4 5.6-4.2 4.9-3.8 2.1-3.4-1-3-3.7-2.8-5.7-2.7-7-2.8-7.8-3-7.7-3.4-7.6-3.5-7.2-3.7-7.3-3.8-7.7-3.9-8.4-4.3-9.4-5.2-10.1-4.4-10.3-4.3-10.2-4-9.4-3.4-8.2-2.7-7-1.8-5.5-1.2-4.2-.8-2.9-1-2-1.6-.9-2.5-.2-3.1.4-3.4.6-2.3 1.4-.5 1.5 1.9 1.4 4.2 1 5.7.6 6.3.4 5.6.5 3.7.9 1.4 1.6-.9 2.4-2.3 3.2-2.5 3.7-1.5 4.1 1.7 4.1 2.6 4.9 3.7 5.4 4.9 5.6 5.7 5.3 6.1 4.9 6.2 4.6 6 4.9 5.8 6.3 5.4 8.4 5 10.5 4.2 11.9 3.2 11.9 2 11.2.9 11.1-.5 8.9-1.5 9.3-2 11.6-2.2 14.7-2.5 16.9-2.9 17.1-3.1 14.9-3.4 10.8-3.6 5.6-4 .4-6-4-4.8-7.7-4.8-9.9-5.4-10.8-6-10.8-6.2-10.3-5.8-9.7-5-9.5-4-9.6-3.7-10.6-3.9-12.3-3.3-10.6-3.1-10.4-2.1-10.6 0-10.7 3.4-11 7.6-10.8 11.7-10.2 15.1-9.1 18.5-7.6 14-4.1 10.7-1.2 8.1.9 6 2.3 4.5 2.6 3.4 2.6 1.9 2.3.3 2.3-1.4 3.1-3 4.7-4.3 4.5-4.6 5.4-4.1 6.5-2.8 7.1-1.6 7.1-.5 6.3-.2 4.8-.8 2.9-2.2.8-4.7-.7-6.9-1.7-6.3-2.7-6.6-2.4-6.7-2.1-6.5-1.6-6.4-1.8-6.4-2.3-6.7-3.4-7.1-4.4-7.4-5-7.4-5.4-5.9-3.1-3.4-1-.4.5 2.7 1.1 5.3.6 6.8-.9 7.7-3.2 8.3-5.3 9.2-6.8 12-7.6 9-5.9 8-3.6 7.8-.8 7.7 2.1 7.8 5 7.4 7.4 5.3 9.5 4.2 10.8 3 11.7 1.9 12.2.5 13.2-.5 11.8-1.5 10.3-2.5 8.9-3.4 7.6-4.2 6.3-4.8 4.9-5.2 3.5-5.3 2.4-5 1.3-4.4.4-3.3-.2-1.9-.6-.7-.7.2-1 .3-1.3-1.2-1.9-3.8-3-4.1-4-6.1-5.2-8.3-6.2-9.6-6.8-9.9-6.9-9-7-7.2-7.2-5.1-7.8-3.2-8.9-2.1-9.8-1.6-10.3-1.7-10.4-1.9-10.1-1.9-7.8-1.4-6.8-.6-6.2.5-6.2 1.5-6.2 2.4-5.8 3.5-5.3 4.9-4.4 6.7-3.4 9.8-2.5 12.3-1.9 11.2-.9 11.3-.5 10.8-.2 9.8.1 8.2.4 6.2.8 4.2 1.4 2.3 2.1.8 2.9-.2 3.8-1 4.9-1.2 6.5-1.5 6.6-1.7 6.8-1.8 7.1-1.9 7.2-1.7 7-1.3 6.6-.9 6.3-.5 5.9-1 5.9-2.4 6.2-4.7 7.2-8.8 8.9-8.9 10.2-7.9 11.5-6.4 12.4-4.4 12.2-2.4 10.5-1.3 7.1-1.5 1.6-2.5-5.4-3.8-13.4-4.5-19.7-3.6-19.9-1.4-17.8 1.8-12.4 5.3-5.3 8.2.9 9.9 4.3 10.9 3.9 11.2 1.6 7.5-.4 6.2-.9 5.9 1 5.9 4.1 5.3 7.3 4 9.5 2 10.5-.2 11.7-2.1 7.9-3.2 6.1-3.8 5.3-3.9 5-4.1 4.7-4.7 4-5.7 3.1-7.4 1.9-9.9.3-8.2-1.2-7.4-2.6-6.2-4-4.8-5.4-3.8-6.7-2.8-8.1-2.4-9.4-2.7-11-3.6-13.4-4.4-13.3-4.7-12.7-4-12.2-1.6-11.2 2.2-9.6 8-7.2 12-4.2 14-.7 15.1 3.1 14.9 6.5 7.9 9.1 4.1 9.9 2.6 8.9 2.7 5.9 3.5 2.2 3.9-.5 2.9-.7.6 2.8-2.2 9.8-3.8 14.6-4.2 18.3-3.4 18.6-2.4 15.4-1.9 10.1-2.5 5-3.4 1.6-4.1.7-4.5 1.8-5.2 3.7-3.6 4.6-2.2 4.1-1.7 2.3-1.8-.2-2.1-3-2.7-5.3-3.3-7.1-3.5-8.3-3.8-9.3-3.7-10.1-3.7-12.4-2.8-12-1.5-11.8-.4-12.2 1-12.7 2.3-13.2 3.8-13.4 5.3-13.2 7.3-12.6 8.7-11.4 10.3-9.6 13.7-7.2 10.8-4.2 9.4-.9 8.2 3 7 7.2 5.3 12 3.7 16.6-.7 20.3-2.6 22.9-3.6 24-3.9 23.9-3.2 18.2-2.7 13.3-2.8 9.1-3.5 6.6-4.5 6.4-5.4 8-6.3 9.9-7.1 11.1-9.4 10.1-7.9 6.2-6.7.4-6.2-5.7-5.6-10.3-4.5-12.6-3.1-12.7-1.6-11.8-.3-11.2.1-12.5-.4-15.5-.4-15.1-.5-14.2 0-11.8 1-8.7 2.2-6.7 3.4-6.7 4.5-8 5.6-9.1 7.4-8.3 11.1-6.1 10.8-2.4 11.2-.4 10.9-.8 10.2-3.1 9.3-5.8 8.2-7.2 7-6.1 5.5-2.9 3.7 1.4 1.7 5.4-.1 8.6-1.7 9.6-2.6 8.2-3.3 6.7-3.9 5.3-4.5 4.2-5.1 3.7-5.8 3.9-6.4 4.5-6.8 5.3-7.1 6.2-7.2 6.9-7.3 7.3-8 7.4-6.5 6.8-5.7 5.8-5.1 4.5-4.7 2.9-4.6 1.1-4.6-.8-4.4-2.6-4.3-4.3-4-5.8-3.9-6.8-3.6-7.8-3.5-9-2.6-7.4-1.6-6.2-.3-5.2 1.1-4.2 2.6-3.4 4-2.9 5.2-2.7 5.8-2.6 6.2-2.8 6.4-3 7.3-3.1 9.1-2.7 7.2-2.5 7.7-1.5 8.8-.3 9.8 1.2 10.4 2.7 9.7 3.9 7.8 4.6 4.9 4.8 1.3 4.7-1.9 4.7-4.4 5.3-5.6 3.5-5.8 2.7-5.5 2.5-4.9 2.6-4.7 3-5 3.5-6 3.9-6.9 4.2-8.1 3.9-8.6 3.2-9.2 1.8-9.8.2-6.3-2-4.3-4-2.7-5.1-1.4-5.5-.6-4.7 0-3.3.4-1.4.4.3.3 1.7 0 2.3-.6 2.1-1.4.5-1.9-.1-2.5-1.8-3.1-3.9-3.3-6-3-7.6-1.8-7.7.8-6.6 3.6-4.5 6-1.8 8.2.7 10 2.5 11.6 3.5 14.1 3.7 10.6 3.8 8 3.6 5.6 3.1 3 2.8.7 2.4-1.5 2-3.1 1.8-4 1.3-3.9.9-3 .6-1.6.4-.4 1.1.9 0 1-1 .2-1.5-1.6-1.9-3.7-2.2-5.9-2.3-7.6-2.3-8.3-2.1-8.3-1.4-7.6-.5-6.6.6-6.2 1.7-3.2 2.7-1.7 3.3-.9 2.9-.6 1.9-.7.4-1-1.1-1.3-2.1-1.4-2.3-1.3-1.6-.8-.3-.2 1.3.7 1.9 1.7 3.6 2.6 3.7 3.4 2.9 4.1 1.4 5-.2 5.8-1.2 7-1.6 7.9-1.4 8.8-.6 8.8.4 8.3 1.1 7.4 1.9 7.6 2.3 4 2.8 2.6 3.2 2.6 3.5 3.7 4 4.6 4.6 4.7 5.5 3.3 6.5 1 7.8-.6 9.3-1.1 11.3-.5 14.5.5 13.3.1 12.9-1.7 12.4-4.2 11-6.6 8.8-7.8 5.4-8 1-7.7-4.1-7.6-9-7.6-12.6-5.8-13.8-5.4-12.4-5.1-9.3-5-6.5-4.8-6-4.5-8.7-3.9-13.9-3.1-19.8-2.2-23.7-1.2-24.6-.3-21.2.2-14 .3-7.6.2-2.9 0-.8 0-1 .2-2.4.5-4.2 1.2-5.3 2-5.6 2.9-4.9 3.9-3.7 4.8-2.2 5.9-.7 7 .6 8.5 1.5 6.9 2.2 6.3 2.7 5.5 3 4.7 3.4 4 3.6 3.3 4.1 3 4.8 2.9 5.8 3.1 7.1 3.4 8.6 3.5 10.5 3.2 12.5 2.2 12 .3 12-2 11.4-4.7 10.6-7 9.1-8.7 7.5-9.6 5.8-9.7 4.2-11.4 2.8-7.1 1.3-4.3-.1-2.9-1.3-2.9-2.4-4.2-3.5-6.5-4.8-8.9-6-10.8-7.4-11.4-9.1-10.4-11.4-7.5-11.6-3.4-11.5 1.3-11.4 5.6-11.1 9.1-10.4 11.2-9.3 11.6-8 10.6-6.5 8.8-5 6.4-3.6 4.6-2.5 4.2-1.5 4.7-.8 2.8-.5 3-.3 4-.2 4.7-.2 5.1 0 4.9.1 3.9.5 2.6.9 1 1.6-.5 2.4-1.7 3.3-2.5 4.9-2.7 5.4-2.3 5.8-1.9 6.6-1.2 7.3-.5 8 .1 8.6.5 9.1.8 9.5.9 9.7.9 9.8.5 9.9-.2 9.8-1.7 9.9-1.2 9.7-1.3 9.5-1.7 9.1-1.8 8.8-2 8.2-2 7.6-2 6.6-2 5.5-1.9 4.1-1.9 2.2-1.9.1-2.1-2.7-2.2-5.8-2.1-10.3-1.9-13.3-1.2-14.1-.5-14.9.4-14.4 1.3-12.3 2-9 2.6-5.3 2.9-2.2 3.1-.7 3.2-1.1 3.5-3 4-5.5 4.8-7.4 7.1-7.4 5.2-6.1 4-3.4 3-.4 2.2 2.1 1.6 3.4 1.4 3.7 1.5 3 1.8 1.9 2.3.8 2.2-.2 1.6-.7.2-1-1.6-2.3-3.5-2.6-4.9-2.5-5.4-2.4-4.8-2.1-3.4-1.9-1.7-1.8-.4-1.8.1-1.6-.5-1.3-2.6-.7-3.1-.2-4.6.4-6.2 1.3-7.4 2-7.9 2.5-7.8 3-7 3.1-5.6 3-3.7 2.7-1.9 2.2-.7.9.9.6 2.2.5 2.7 0 2.5-.6 2-1.3 1.5-2.1 1.2-2.6 1.3-2.8 2.4-2.4 4-1.4 8.1-.2 9.5 2.2 8.9 4.7 8.9 5.9 8.8 5.2 8.5 3.1 8.2.4 7.8-1.7 7-1.8 5.8.6 4 4.7 1.7 10.1-.3 10.7-2.1 9.3-3.4 5.3-4.4 0-5-5-5.2-8.3-5.1-8.8-4.6-7-4.4-3.8-4.8-.7-7.2 1.1-7.3 1.3-7.5.2-8.7-1.8-9.5-3.7-9.3-4.8-8.2-4.6-6.2-3.2-3.3-1-.3 1.1 2.2 2.6 3.9 2.8 4.4 1 4-1.9 2.7-3.3 1.2-5.2-.1-5.6-.5-4.4-.2-1.4 1.1 2.5 3 6.1 4.8 8.6 6.3 9.4 7.3 9.1 8 7.7 8.6 6.1 5.3 4.8 3.6 3.6 2.4 2.3 1.8 1 1.6-.3 1.9-.8 2.3-.1 2.6 2.3 2.7 6.1 2.5 11.8 1.9 12.1.9 11.3-.4 8.6-2 3.6-4-2.1-6.1-7.2-8.3-10.4-10.2-11.2-13.1-10.1-10.2-8.8-8.6-7.6-7.2-7.3-6.1-8.3-5-10-3.8-11.8-2.6-13.3-1.4-14.7.2-12.8 1.6-10.7 2.9-8.7 3.8-7 4.9-5.5 6.1-4.3 7.6-3 11.3-1.6 10.9.2 9.9 1.9 9.1 2.9 7.7 3.3 5.9 2.8 4 1.7 2.1.5.3 0-1.5.8-3.1 1.8-4 3.2-4.5 5.1-4.4 6.9-4.2 8.1-4 8.5-3.6 7.9-3.7 6.6-4.5 4.3-5.2 2-6.5-.4-5-1.7-3.8-2.1-3.3-1.5-2.7-.1-2.5 1.2-2.6 2-2.9 1.9-3.2.7-3-1.2-2.6-3.3-1.7-5.1-.5-7 .7-6.6 1.8-5.4 2.4-4 2.7-2.7 2.7-1.9 2.3-1.9 1.7-2.7 1-3.6.2-4.4-.2-4.1.1-2.4 2.7.5 1.7 4.4 2.5 8.1 4.2 10.5 6.3 10.8 7.9 9.2 9 6.3 9.1 3.2 8.8 1 8 .3 7.8 2 7.3 1.9 7.3 3.3 6.4 4.7 3.3 5.7-2.7 6.4-11.4 6.4-20.7 5.8-27.8 4.6-32.4 3.2-25.4.8-14.9-1-3.9-1.5 4.7-1.2 9.1 0 8.7 1.2 5.7 1.4 2.2.5-.1-1.7-1-5.2-.1-7.3 1.2-8.4 2.4-8.4 2.9-7.2 2.7-4.6 2.4-1.5 2.5 1.3 3.3 2.9 4.9 2.9 6.7 1.1 9.6-1.4 12-3.7 9.5-4.4 8.2-2.9 6.6 1.1 5 6.7 3.4 12.2-.1 16.7-1.4 18.6-2.2 18.3-2.3 16.2-2.4 15.2-2.3 11.9-2.4 9.7-2.5 9.4-2.8 9.9-3 10-3.3 9.1-3.9 7.2-4.5 4.3-5.6 1.1-7.5-1.4-6.9-3.5-6.3-4.8-5.7-5.5-5.1-5.8-4.3-6.5-3.5-7.5-2.9-9.2-2.2-11-1.6-13.3-1-15.7.8-13.9 2.3-13.1 3.5-12.1 4.7-10.9 5.4-9.6 6.1-8.2 6.3-6.9 6.4-5.6 8.1-4.7 6.9-3.4 3.7-2 2.5-.8 1.8.2 1.8 1.1 2.2 1.8 3 2.5 3.8 2.9 4.5 3.6 4.6 4.5 4.2 5.4 3 4.2 1.5 3.9-.2 3.7-1.9 3.6-3.4 3.3-4.4 2.8-5.3 2.3-6 1.5-7 .7-8.5-.1-11.8-.9-10.4-2.3-10.2-3.2-9.7-4.1-8.3-4.7-5.9-5.2-3.2-5.5-.7-5.5 1.3-5.7 2.1-5.9 2.2-6.3 1.8-6.8 1.1-7.4.8-7.8.7-8.1 1-7.7 1.8-6.2 2.6-4.9 3.4-3.5 3.8-2.5 3.9-1.9 3.6-1.8 3-2.1 2.2-2.6 1.5-2.8.8-2.4.4-1.7.5-.9.9-.2 1.7.4 2.9.9 5 1.4 5.9 1.8 4.9 1.8 4.3 1.6 3.4 1 2.4.4 1.3.1.4.2-.3.9-.5 2.4-.4 5 .1 8.2.6 11.6 1.2 15 1.8 16.6 1.8 17 1.6 17.2.5 16.9-.9 16.2-2.5 15.1-3.7 13.9-4.5 12.4-4.6 10.9-4.8 9.5-5.8 8.3-5.1 6.8-5.6 5.5-5.9 4-5.8 2.1-5.1-.2-4.1-2.8-3-5.6-2.2-8.4-1.5-11.2-.9-13.8.7-11.6 2-9.7 3-7.9 3.6-6.8 3.6-6.9 3.4-7.9 3.3-8.7 3.4-8.3 4-5.9 5.9-2.3 5.2 1.4 4.9 3.3 4.9 3.3 5 1.4 5.2-.9 5.4-2.8 5.4-3.6 5.1-3.6 4.8-3.1 4-2.5 3.2-1.6 2.4-.1 1.8-.5 1.3.7.9 2.7.2 5.2-.6 8.1-2.1 10.8-3.3 13-3.8 14.3-3.2 14.3-1.6 12.9-2.5 10.8-2.8 8-5 5.3-9.1 3-11.9 1.2-11.4-.8-7.5-3.1-2.3-5.8 1.3-8.5 2.2-10.9.6-13.6-2-17.1-2.9-16.1-2.7-15.5-1.1-14.3 1.1-12.4 3.6-9.9 5.7-7.4 7.1-5.4 7.6-4.3 8.3-4.2 7.8-4.1 4-3 2.8-2.2 2.5-1.2 3.3-.4 4.6.1 5.7.1 6.4-.5 6.1-.7 4.2-1.1.8-2.5-3.1-2.6-6.8-2.4-9.5-1.9-10.7-1.7-10.2-1.6-8.6-1.6-7-1.5-7.2-1-4.9-.9-4.8-.5-5.6-.2-6.6.2-7.2.2-6.9.1-6-.2-4.8-.6-3.4-.9-2.1-1.4-1.1-2-.3-1.5.4-1.2 1-.8 1.6-.2 2.4.5 3.3 1.3 4.2 2.3 5.3 3.5 6.3 4.5 7 5.4 7.7 6 9.4 6.3 7.4 6.6 5.7 6.7 4.6 7.1 3.9 8 3.2 9.1 3 10.5 2.8 11.9 2.8 12.8 2.7 13.3 2.4 14.7 1.8 13.8 1.1 12.3.3 12.3-.6 12.9-1.2 13.4-1.8 12.9-2.1 10.8-2.7 6.6-5.1 1.1-5.1-4.9-5.9-9.3-7.1-10.9-8-9.9-8.4-8-8-7.2-7.4-9-6.8-14.5-4.6-18.2-.8-19.4 3-19.6 6.6-17.2 8.8-13.4 9.8-9.5 10-6.2 11.1-4.1 13-2.4 8.2 0 6.6 2.3 5.2 4.7 4.3 6.5 3.7 7.4 3.1 7.3 2.5 6.7 1.5 7.3-.2 4.3-2.1 3.1-4.2 3.5-5.5 4.4-6 5.5-5.9 5.7-5.8 4.8-7.2 2.8-11.7 0-10.3-3.5-11.6-6.4-12.7-8.4-12.1-9-9.8-8.5-6.1-7.3-2.2-6 1-5.1 2.9-5.7 3.7-3.6 3.5-3.3 2.9-3.4 2.9-4 3.8-4.6 5.6-5.4 8-6.2 10.8-6.6 14.7-6.9 10.6-4.6 8.1-1.7 6.1 1.6 5.2 4.8 5.3 7.7 6.4 9.3 7.5 10 7.7 10 6.4 9.9 2.5 6.9-2.5 5-7.8 3.4-12.5 1.8-15.5.5-16.6-.9-15.7-1.9-14.1-2.6-13.5-2.9-7.1-3.2-4.2-3-3.2-2.9-3.7-3.3-4.7-3.9-5.8-5-6-6.4-5-8-2.5-10.3.4-9.8 3.8-9.4 6.7-8.9 8.9-7.7 10-5.5 10.1-2.5 9.8.1 9.2 1.9 10.4 3.8 6.9 4.5 5.2 5.2 4.4 5.4 4.2 5.8 3.8 6.6 3 7.7 1.5 8.5-.6 9.9-2.1 8-2.9 6.3-2.8 5.1-2 4.7-1.2 4.4-.8 4.1-1.4 3.1-3.3 1.5-2.8-1.4-3.1-4.4-3.4-6.9-3.8-9-4.4-10.1-5.2-10.5-6.4-10.7-7-10.3-5.8-8.1-3.7-7.1-.5-6.4 3-5.8 5.5-4.4 7.2-2.3 7.8-.3 8.6.7 6 .9 4 .8 2.6 1.1 2 1.9 1.7 3.9 2 6.3 2.4 8.1 2.8 9 2.9 9.4 2.7 9.8 2 9.1 1 7.7 0 7.3-.9 7.5-1.6 8.4-2 9.9-2.1 11.4-2 12.7-2.1 13.3-2.5 13.1-3.2 12.6-5 11.8-4.4 10.6-4.5 9.7-4.6 8.9-4.4 7.6-4.1 5.5-3.8 2.2-3.7-1.8-4.2-6.6-4.6-11-5.2-14.6-5.7-17.5-4.6-15.2-3.4-12.2-1.9-8.3-.1-4.6 2.1-2.1 4.5-1 6.8-2 8.9-4.2 11.2-6.9 14.7-9.4 13.3-9.2 11.5-7.4 8.9-4.4 5.5-1 2.4 1.6-.1 2.8-1.4 2.7-1.6 1.9-1.4 1.2-.9 1.8-.6.6-.7.4-1.2.3-2.2 0-3.4-.6-4.7-1.2-5.9-1.8-6.9-2.1-7.7-2.3-8.8-2.7-8.5-3.2-6.1-4-4.6-4.5-3-4.9-1.5-4.8-.2-4.2.9-3.3 1.5-2.1 1.7-.9 1.7.3 1.2 1 .7 1.4 0 .6-.8 1.2-1.3 1.4-1.6 1.2-1.4 1-.7.8.3.8 1.5.7 2.9 1.1 4 1.5 4.7 2.2 4.9 3 4.7 4.1 4.3 5.1 4.1 6 5 6.6 4.6 6.8 4.3 6.5 4.5 5.5 4.8 3.7 4.9 1.2 4.4-1.8 3.4-4.7 2.3-7.6 1-9.3.2-9.5-.2-7.7-.1-3.7.4 2 1.1 8 1.4 13 1.5 16.4.9 13.9 0 9.1-1.2 3.1-2.3-2.6-3.1-6.6-3.9-7.9-4.2-7.1-4.5-5.2-4.6-3-4.6-1.6-4.6-1.4-4.6-2.1-4.7-3.3-5.7-4.5-3.9-5.7-3.1-6.6-2.5-6.9-2.2-6.9-1.9-6.6-2-5.8-2.1-5.2-2.5-4.2-2.7-3.5-3-2.8-3.1-2.5-2.8-2.3-1.8-1.2-.7-.9.7-.8 2.2-.9 3.7-1 5.4-1.2 7.1-1.2 8.8-1.2 10.1-.8 11.8-.3 8 .9 5.2 2 3.4 2.8 3.2 3.7 4.3 4.5 5.8 5.8 6.1 7.6 4.8 9.8 2 12.8-1.4 15.7-3.3 15.4-4.4 15.4-5.1 14.7-5.8 13.3-6.5 11.5-7.3 9.5-8.1 7.8-8.3 6.7-8.8 6.1-7.7 6-4.6 6.1-2.5 5.6-.7 4.3.4 2.1 1-.6 1.2-3.5.7-6 0-7.6-.8-8.6-1.5-9.2-1.9-9.5-2-6.9-1.8-5.6-1.2-4.7-.5-4.5.1-4.4.6-4.6 1-4.9 1.3-5.4 1.4-5.6 1.4-6 1.5-6.2 1.4-6.5 1.6-6.6 2-6.7 3-7 1.6-6.8 1.1-6.6 1-6.5.9-6.4.9-6.2.9-5.9 1-5.7 1.1-5.3 1.2-4.9 1.3-4.3 1.3-3.7 1.4-2.8 1.3-1.7 1.3-.5 1.2.8 1.1 2.3 1.1 4.1 1.4 6.5 1.4 7.3 1.7 8.3 2 9.5 2.3 10.7 2.3 12.1 1.8 13.4.9 14.6-.1 15.1-1.1 14.9-1.9 13.5-2.2 11.3-2.4 8.9-2.6 7-3.1 6.5-4 7.9-2.2 10.6-1.5 13.7-1.1 15.1-1.5 13-1.6 6.9-1.7-3.1-2.4-14.1-4.7-23.8-6.1-29.4-6.9-30-6.9-26.8-5.3-18.4-2.7-8.3.3-.9 2.8 3.3 4.7 3.9 5.6 1.4 6.1-2.6 6.2-7 6.6-10.5 7.4-12.6 9-13.1 11.2-12.3 8.3-9.7 6.9-6.9 5.9-4.1 4.9-1.7 3.9 0 2.3 1.2.8 1.8 0 2-.4 2.1-1 2.4-1.8 3.1-2.2 3.1-2.8 3.2-3.1 3.4-3.4 3.4-3.2 3.2-2.8 2.9-2.5 2.6-1.9 2.3-1.8 2.3-1.7 2.4-2.6 2.4-3.5 2.3-3.4 1.7-4 .8-4.6-.1-5.1-1.3-5-2.2-4.5-3-3.5-3.6-2.6-4.2-2-4.6-2-5.6-2.6-6.3-3-5.9-2.9-6.3-2.2-6.7-.4-7.2 1.9-7.2 4.2-6 5.9-2.7 6.9.2 7.8 1.1 9.3 1.6 7.3 1.2 6.4 1.1 5.6 1 4.2 1.1 2.2 2.5-.7 7.9-3.5 11.1-5.7 10.6-6.2 9.1-5.2 6.7-2.9 3 0 1.2 2.1.9 2.9 2.1 1.7 4.3-.9 6.7-4.2 8.5-7.4 8.9-9.1 7.6-7.7 4.7-6.2 1.2-5.1-2.1-3.8-4.6-2.4-5.8-1.1-5.9-.1-5.1.4-5.3 1.2-3.4 1.9-1.7 2.4-1.2 3.1-.9 3.8-.9 4.8-.4 5.9.4 7 1.5 8.9 2.5 10.2 3.3 8.4 4 7.9 4.3 7.3 4.5 6.8 4.9 6.1 5.7 5.2 7.2 4.2 9.1 3 11.3 1.9 13.7.6 15.6-.9 13.2-1.8 10.9-2.4 7.7-2.4 4.1-2.2.4-2.5-2.7-3.7-4.4-6.3-4.7-9.7-3.5-14.1-1.1-11.7.3-7.9.9-3.1-.2 1.1-2.8 2.5-6.3.4-9.9-4.3-12.4-9.1-13.6-11.7-13.2-10.7-12.4-6.1-8.2 0-4.5 5.5-1.5 8.9.8 10 2 9 2.3 6.9 1.9 4.5 1.1 2.8.1 3.3-1 .7-.5.2 0 1 1.1 2.3 2.4 3.8 4 5.4 5.8 6.5 7.5 7.4 8.8 7.5 9.7 7.2 10 6.2 9.8 4.7 9.3 2.4 6.5 0 4.4-2 2.6-3.9 1.4-5.2.9-6 .7-6.3.6-6.2.5-5.8-.3-5.1-1.5-4.6-3.1-4-4.7-3.9-6.2-4.6-7.1-4.2-7.5-3.6-7.6-3.8-7.2-3.9-6.9-4-6.8-4-6.9-3.7-7.3-3.4-7.8-2.8-8.1-2-8-1.3-7.5-.4-6.7.1-5.8.3-5.1-.1-5.2-.7-4.2-1.5-3.5-2.1-3.1-2.1-2.7-1.2-2.4.4-2.3 2.4-2.5 4.3-2.7 5.2-2.7 5.2-2.2 4.3-.8 4.4 1 2.6 3.1.5 5 .7 5.9 1.8 5.8 3.4 4.7 4.7 3.5 5.6 2.4 5.9 1.9 5.8 2.2 5.3 3.1 4.4 5.2 3.6 4.5 2.4 4.5 1.1 4.7-.4 4.8-2 4.7-3.6 4.4-4.8 3.9-6 3.1-6.9 2.4-8.3 1.4-6.3.1-5.2-.9-4.6-2-4.2-2.6-3.8-3.1-3.5-3-3.3-2.6-2.6-1.8-1.7-1.5-.7-2.2.9-1.5 1.8-3.4 2.2-6.2 2.4-8.5 2.4-8.5 2.9-5.1 2.8 1 3.4 7.1 5.8 10.2 5.4 8.5 5 3.2 4.8-1.7 4.6-1.4 4.6 6 4.4 18.4 1.9 30.6.9 36.2.2 33.2-.2 24.2-1.1 9.1-1.9-1.2-1.9-4.8-1.1-2.1.3 4.4 1.5 11 2.2 14.7 1.7 14.2-.2 10-2.7 3.5-3.8-3.2-5.2-7.6-6-9.3-5.7-8.8-4.6-7.5-3.7-6.8-3.1-7.7-3.6-10.4-5.2-15.7-5.3-16.9-5.4-17.5-5.2-17.4-4.4-15.9-3.1-14-1.6-11.9.2-10.3 2.4-9.2 4.9-9 8.7-9.4 8.6-8.3 9.2-7.3 9.6-5.8 9.6-3.8 8.3-1.1 6.2 1.6 3.7 4.3 1.2 6.4-.9 8.2-2.1 10-3.3 7.8-3.4 6.4-3.1 5.5-2.4 4.9-1.6 4.7-1.1 4.9-.9 4.7-1.2 4.1-2.8 2.7-3.4.5-3.3-2.3-3.8-4.7-4.3-6.2-4.8-6.6-4.9-6.1-4.8-5-4.7-4.3-4.4-4.8-3.9-5.6-2.8-5-1.4-5.5.4-5.4 2.6-4.7 4.8-3.3 6.8-1.8 8.4-.5 9.7.3 10.5.6 7 .2 4.5 0 2.3-.2.3 0-1.2.4-1.9 1.1-1.8 2-1.4 3-.8 3.8-.1 5.3.1 5.6.1 5.2-.4 5.1-1.1 5.2-1.9 5.3-2.6 5.5-3.3 5.7-3.8 5.7-3.9 5.7-3.9 5.6-3.6 5.6-3.1 5.3-2.3 5-1.4 4.8-.7 4.6-.9 4.6 1.2 4.1 1.8 3.6 1.7 2.8.7 1.9-.8.8-2.8-.3-4.7-1-6.3-1.1-7.3-.6-7.5.2-6.8 1.1-5.5 1.4-3.9.9-2.3-.7-1.3-4 .1-5.9 1.5-7.6 2.6-9.5 3.4-10.8 4.1-11.5 4.4-11.8 4.7-11.4 5-10.8 5.7-9.8 6.3-8.7 7.6-7.6 10.4-6.8 10.2-5.6 8.2-4.2 6.6-3 4.7-2.1 2.9-1.3 1.8-1 1.6-1 2.2-1.2 3.1-1.5 3.6-1.6 3.4-.6 1.2-1-1.6-.6-4.5.2-6.8.6-7.5.7-6.8.4-5.2 0-3.4-.4-2.7-.3-4 .3-3.3.1-4.7.3-6.2.4-7.2.2-7.2-.2-5.9-.8-3.7-1.2-1.3-1.3.7-1.7 2-.7 2.3.1 1.3.5.3.3-.1 0 .5-.6 2.4-.6 5.4-.1 8.3.8 12.2 1.9 11.2 3.4 9.1 4.6 7.1 4.7 5.1 4.2 3.4 3.1 2.1 2 1 1.2.2 1-.4 1.6-.8 2.8-1.1 4.4-1.1 6.1-1.2 7.6-1.2 9.1-1.1 8.3-1.1 7.3-1.1 5.9-1.2 4.3-1.3 2.6-1.4 1-1.6-.1-1.8-1-1.9-1.5-2.1-1.6-2.4-1.4-2.7-1.2-3.5-.8-5-.4-3.5-.8-3.5-1.1-3.4-1.5-3.4-2-3-2.6-2.3-3.2-1.5-4-.6-4.7-.2-6-.1-6.9-.2-6-.8-5.7-1.2-5.3-.9-4.5.6-3.6 3.7-2.3 6.7-.7 10.1.8 11.5 2.6 9.4 4.7 8.6 6.6 8 8.4 8.1 9.9 7.9 11.4 7.9 12.6 6.9 13.5 5 14 2.2 14.4-.4 14.3-3 11.6-4.5 9.3-5 7.1-4.4 5.2-3.3 3.9-1.8 3.2-.5 3.4.2 3.9 0 4.8-1.4 5.3-4.1 5.5-8.8 5.1-9.2 3.6-10.4 1.7-11.1-.3-10.4-2.1-8.7-3.5-6-4.5-3.2-5.3-.7-5.9.8-6.8 1.1-8.1.4-10-1.5-13.2-2.7-13.2-3.9-13.7-4-13.8-3.1-13.5-1.1-12.5 1.6-10.9 4.5-8.9 7.3-6.7 9.4-4.5 10.8-2.4 12.4-.9 10.6.7 7.6 2 5.2 2.5 3.2 2.6 1.8 2.4 1.2 2 .9 1.5.9 1.4 1.1 1.9.9 2.9.8 5.6-.3 6.6-1.2 8.2-2.2 9.9-3 11.4-3.7 11.9-4.2 11.2-4.5 9.4-5.3 6.5-6.4 3.3-9.5.4-7.9-2.4-6.9-3.8-6.6-4-5.8-3.5-4.8-3-3.5-3.1-2.3-4.2-1.1-6.2-.5-9.3-.1-11.7.8-9.9.7-8.5.2-6.3-.1-3.9.6-2.1 2.6-1.1 5.8-1.2 9.7-1.6 14.4-2.3 14.5-2.5 11.2-1.9 8.5-1 5.9.2 4.9 1.5 5.1 2.8 6.4 3.8 7.2 4.7 6.9 5.3 4.9 5.9 1.6 6.3-2.1 6.8-5.3 7.7-7.4 7.5-7.7 6.5-6.5 6-4.4 5.5-2 4.9-.1 4.5.7 4 .3 3.5-1.1 3.1-3.3 2.6-5.3 2.2-6.8 1.6-7.6 1.1-8.5.5-7.5-.1-4.9-1-3.7-1.6-3.3-2.3-3.3-2.8-3.7-3.6-4-4.4-4.2-5.2-4.2-6.1-4.1-6.9-3.5-7.6-1.9-4.6-.4-2.8 1.2-1.3 2.8-.6 4.3-.6 5.9-1.3 7.4-2 9.5-2.2 11.6-1 9.3 1.6 7.9 5.4 6.3 9.4 4.4 12.7 2.9 14.6 1.7 14.5 1.1 12.4.9 9.4.7 7 .6 1.6-.2-2.3-2.1-4.5-4.9-5.5-8.1-5.8-10.6-5.5-11.3-5.2-9.3-4.7-5.3-4.4-.3-4.1 2.3-4.2 4.5-4.5 3.1-5-1.1-5.7-6-6.6-9-7.3-9.2-8.2-6.8-9.1-3.3-9.9.1-10.7 2.5-11 3.2-11.1 3.1-10.6 2.3-10.3 1.3-8.1.5-5.9-.1-4.1-.3-2.4-.4-1.2-.1-.3.3.2 1 .4 1.7.5 2.6.6 3.7.8 5.3 1.1 6.9 1.7 5.8 3 5.5 4.3 5.1 5.7 4.6 7.2 3.8 8.5 2.9 9.6 2.1 10.3 1.2 10.7.7 10.9.4 10.8.4 11.6.7 8.7 1.3 6.2 1.8 3.9 2.2 1.7 2.2 0 2-1.6 1.1-2.5 0-3-1.5-3-2.8-2.9-3.8-2.6-4.3-2.4-5-2.4-4.3-2.6-2.8-3.2-1.8-4-1.1-4.7-.6-5.3-.5-6-.7-6.3-1-6.6-1.9-6.4-2.8-6.1-3.3-5.6-3.8-5-4.1-4.3-4.2-3.5-4.3-2.6-4.2-1.9-4-1.2-4-1-4-1.4-3.4-.8-3-.8-2.4-1.1-1.6-1.5-.7-2 .7-2.1 2.3-1.9 4.1-1.4 5.7-.5 7.2.6 8.1 1.9 8.5 3.1 8.6 4.1 10.8 4.9 7.4 5.4 5.5 5.7 5 5.9 4.9 6.2 4.9 6.3 4.7 6.6 3.8 6.9 2.7 7.4 1.6 8.2 1 9 1.1 11.3 1.6 11.1 1.6 10.1 1 9.9-.1 9.8-1.8 9.6-3.7 9.3-5.2 8.7-6.4 7.6-7.4 6.2-8.5 4.8-10.8 3.4-8.6 1.1-7.6-1-7-2.8-6.5-4.3-5.8-5.6-5.3-6.7-4.5-7.6-3.9-8.3-3.2-8.6-2.4-8.8-2.1-9.7-.7-7.1.5-4.6 1.4-2.7 2.3-1.1 2.7-.2 3 0 2.8-.7 2.7-2.2 2.5-4 2.7-5.9 3.6-7.4 5.7-8.1 9.6-8.1 9.8-5.8 11.2-3.1 12 0 11.1 3.4 8.4 6.3 4.6 8.4 1.1 9.1-.9 8.3-.4 6.6 2.5 4.1 6.8 2.1 10.8 2.2 12.1 1.9 9.9 2.5 4.9 4.7-1.5 6.8-7.3 7.6-10.9 6.7-12 3.9-11.4-.1-10.2-4.4-9.6-7.8-9.4-10.2-10.9-11-9.6-11.1-8.5-10.4-7.4-9.6-5.8-8.7-4.3-8.5-3.1-8.7-2.5-8.9-2.2-9.2-2.3-9.1-2.3-8.8-2.3-8.2-2-7.2-1.4-5.2-.6-4 0-3.2.5-3 1-3.3 1.5-3.8 2.1-4.5 2.7-5 3.6-4.9 4.8-4.1 6.9-2.5 5.3-.4 5.1 1.4 5.2 3.7 5.5 6.5 5.1 8.8 5.1 9.7 5.3 9.3 5.4 8 5.5 6.2 5.2 4.8 4.8 5.1 3.9 4.5 2.6 5.3 1.2 7.6-.6 10.2-2.3 12.1-3.9 12.2-4.5 10-6 6-8.6 1.1-11-3.6-13.7-7-11.3-9.3-10-9.4-8.4-8.5-6.4-7.6-4.6-7.2-3.2-7.3-2.5-7.8-1.9-8.3-1.7-8.7-1.3-8.6-.2-6.9 1.1-5.7 2.5-4.8 4.4-3.5 6.3-2.1 7.7-.2 8.2 2 8.4 4.6 9.1 7.2 6.1 9.5 4.5 11.8 3.4 13.5 3 15 2.9 15.8 2.8 16.3 2.7 16.5 2.5 16.6 1.9 17.9 1.4 16.4.9 14.3.1 13-.4 11.5-.8 10.2-1.1 8.7-1.1 6.9-1.2 4.8-1.1 2.4-1.5-.2-2.5-2.8-2.1-5.2-2.6-7.2-3.1-8.7-3.8-9.8-4.3-10.4-4.6-10.8-4.6-11.4-4.3-12.1-3.8-12.9-3.5-13.8-3.3-15-3.2-15.6-2.6-14-2.6-12.9-2.6-11.7-2.3-10.3-1.6-9.1-.4-8.1 1.6-7.4 3.8-6.9 6.3-6.6 8.5-6.3 11.6-6.3 10.8-5 9.5-3.2 8.1-1.5 6.1-.1 3.9.7 1.6 1.7-.2 3.1-1.4 5-1.7 6.6-.9 7.6.4 8.5 2 8.9 3.2 8.1 3.7 7.5 3.4 6.9 2.1 6.4 0 5.7-2.6 5.3-5.4 4.9-7.9 4.7-10.2 4.5-12.1 4-10.1 2.7-9.1.8-7.9-1.2-6.9-3-5.8-4-4.6-3.8-3.6-3-3-3.7-2.5-5.2-1.7-7.1-.2-10.2 2.6-11.6 7.3-8.9 10.6-2.5 11.9 4.7 14.6 9.4 10.5 8.2 6.6 2.5 5.1-3.8 3.6-6.8 1.6-4.4-.3 1.4-1.5 7.2-1.8 10.2-.9 6.9.1.9-.2-4.5-2.2-7.3-5-6.8-7.5-3.7-8.6-.2-8.7 2.2-9.3 2.9-8.1 1.8-5.7-.3-4.5-2.2-3.7-3.6-2.9-3.8-1.7-3.5-.1-2.7 1.6-1.7 3.3-1 4.4-.6 4.9-.7 4.6-1.5 4.2-.6 3-.1 1.9.2.9.7.5 1.3.6 1.8 1.6 2.5 3.2 3 5 3.8 7 4.4 9.4 5.2 8.5 6.7 7.9 8 7.1 9.4 6 10.6 4.7 11.3 3.6 11.8 2.5 11.7 1.8 11.3 1.4 11 1.5 12.1.9 9.6 1 9.2 1.1 9.7 1.1 10.1.8 10.1-.2 9.1-1.5 6.9-3.2 3.7-5.1.5-7-2.6-8.9-4.8-11.6-6.3-10.3-7.5-10-8-9.8-8.3-9.3-8.6-8.9-8.9-8.2-9.2-7.4-9.5-6.3-9.7-5.3-9.9-4.1-10-3-10-2.3-10.1-1.6-10.2-1.4-10.5-1.1-11.3-.8-10.2-.1-9.7 1.3-9.3 3.4-8.8 5.7-8.4 7.9-7.6 8.8-6.8 8.4-5.6 6.6-3.9 4.9-1.8 4.9.7 2 3 4 5.3 8.3 6.8 12.6 7 14.6 6.1 13.3 4.9 9.2 4.5 3.9 7.1-.4 9.5-3.1 12.7-4.4 15.2-5.4 15-6.1 11.9-7.6 6.7-9.6 1.3-11.3-2.1-13.5-2.8-10.1-.7-7.1 1.9-4.8 3.9-3.5 3.8-3.3 1.7-4.1-1.8-5.6-5.6-6.9-9-7.9-11.6-7.9-12.2-6.3-10.4-4.1-8.8-1.3-6.9 1.6-5.4 4.4-4.3 6.7-3.6 8.7-3.4 10.8-3.6 14.5-4.3 12.4-4.5 11.5-4.8 11.1-5 10.3-4.8 9.2-4.4 7.1-3.2 4.1-1.5.1.6-4.6 3.9-8.4 5.6-11.1 7.6-11.9 9.4-10 10.3-6.1 10.2-1.5 9.6 2.2 8.4 3.4 7.2.8 6.6-.8 5.8-4.5 5.7-7.5 5.5-8.2 5.2-6.9 4.3-4.1 2.8-1.2.7.8-2 1.3-5.6 2-6.4 2.3-6.8 2.5-6.7 2.8-6 3.2-5.1 3.6-4.3 4.2-4.2 5.6-4.4 7.1-4.7 8.9-4.2 12.3-2.8 10.8-.1 9 3 7 5.8 4.6 7.2 3.3 6.6 3.2 4.3 3.7.7 4.4-3 4.7-5.9 4.1-7.5 2.3-7.1-.7-5.3-3.7-2.4-6.4.9-7.4 2.2-7.6 3.3-6.7 3.9-5.4 3.7-3.9 3-2.4 2.1-1.1 1 .4 0 1.5-.9 2.1-1.7 1.7-2.2 0-2.5-3.8-2.7-5.6-2.9-8.6-3.1-11.5-3.3-13-3.4-12.5-3.8-10.1-4-6.5-4.2-2.3-4.3 1.3-4.2 3.8-4.7 4.9-3.6 4.9-2.5 4.2-2 3.1-1.6 2.1-1.7 1.4-2.2 1.4-2.9 1.9-3.3 4-3.4 4.6-2.6 4.3-1.5 4.6.4 4.8 2.3 4.2 4.7 3 6.7 1.4 8-.5 8.4-2.3 8.5-3.5 7-4 5-4.2 3.8-4.2 3.1-4 3.1-3.6 3.6-3.3 4.3-3.1 5.2-3.1 5.7-4.1 5.8-2.2 5.6-1.7 4.7-1.5 3.3-1.6 1.3-2.1-.6-2.4-2.5-2.6-3.9-2.2-4.6-1.5-4.8-.1-4.4 1.3-3.5 3.3-.3 4.8 2 5.5 3.3 5.5 3.6 5 2.3 4.1-.3 3.1-3.7 2.2-7.3 2.1-9.7 2.5-10.4 3.7-8.7 5.4-5.1 8-.8 6.7 3.9 6.7 7.2 6.8 9.1 6.6 9.7 6.4 9.5 6.2 8.9 6.1 8.3 5.8 7.9 5.4 7.6 4.7 6.9 3.9 6.2 3 5.2 1.9 4.2.9 3.2-.2 3-1 3-1.4 1.3-1.6.6-1.5.2-1.5-.2-1.4-.5-1.8-.9-2.7-1.4-4.1-1.9-6.2-2.4-8.5-2.9-11-3.1-13.2-3.4-16.3-3.5-13.2-3.8-10.5-4.2-7.7-4.6-4.7-5.2-1.9-5.7.2-6.3 1.3-6.8 1.5-7.2.9-7.2 0-7.4-.8-5.8-.9-2.7-.6.7.5 3.8 2.3 6 4.4 5.8 6.7 2.9 8.6-2.1 10.1-7.4 10.8-10.8 11.7-10.7 7.1-5.8 3.5 1.6.5 9.4-.5 14.9.6 16.9 4 15.4 8.5 11.5 12.6 7 14.9 3.7 13.8 2 9.5 2.8 2.5 4.2-5.7 4.3-13.2 5.5-18.3 6.4-19.9 7-17.9 6.5-12.9 5.4-7.2 3.4-2.8 1-4.2-1.4-2.3-4.1-4.6-6.5-9.2-8.1-13.3-9.2-14.8-9.8-12.6-10.5-7.7-11.4-1.5-13.1 4.4-11.2 8-10.3 9.3-9.4 8.5-8.8 7.3-8.2 7-7.9 10.6-7.9 9.7-6.4 9.6-4.7 10.8-3.1 11.2-1.8 10.4-.1 8.3 1.8 5.1 4.2 1.7 7.7-1.5 9.7-3.6 10-4.8 9.4-4.9 7.6-3.8 4.5-4.1 1.7-4.3-1-4.4-2.8-4.2-3.8-5.1-3.5-7.4-2.2-8-1-8 .2-7.9 1.3-6.8 2.1-5.1 2.6-3.4 2.9-2.3 2.9-2.4 3-3.6 2.9-5.3 2.7-6.6 2.2-6.5 1.4-4.8.2-2.2-1.6.6-2.1 2.3-2.7 2.6-3.6 1.7-4.3.6-5 0-5.7.3-6.1 1.3-6.1 2.9-5.9 4.3-5.1 6.1-3.8 8.9-2.4 11-.8 9.6 1.1 10 2.5 10.5 3.4 10.5 3.6 10.3 3.2 9.6 2.4 8.4 1.8 6.8 1.4 5 2.1 3 4.3.8 7.8-1.2 9.8-2.8 12.7-3.9 14.8-4.4 15.3-4.5 13.7-4.3 10.5-5.1 6.5-5.4 2.7-5.3.2-5.3.1-5.8 2.2-2.8 5.2-1 8.6-.2 11.2-.2 11.9-.9 10.7-1.9 7.6-3 3.7-3.9-.4-4.1-3.7-4-6.1-3.2-7.5-2.1-8.2-.8-8.5.1-9.3 1.2-7.8 1.6-7.1 1.6-7.1 1.2-7.1.6-7.3.1-7.5-.1-7.7 0-7.9.4-8 1-8 1.7-8 1.9-8 1.7-7.8 1.2-7.6.4-7.3.2-6.8.8-6.5.8-5.8 2.1-5.5 4.1-5 5.8-4.6 6.9-4 6.9-3.1 5.7-2 3.8-.8 1.3.1-.8 1.1-2.3 2-3.1 3-2.9 4.2-2.2 3.7-1.3 3.3-.3 2.8.3 2.6.3 2.3-.4 2.1-1.5 2-2.9 1.9-4.8 1.9-6.8 1.8-5.9 1.5-5.5 1.2-4.8.9-4.2.5-3.6.1-3.4-.3-3.6-.9-4.2-2.2-4.2-2-3.5-1.8-2.2-1.9.3-1.9 3.4-1.5 6.8-1 9.7-.1 11.6 1.1 14.4 2.2 10 3.9 7.2 5.2 5.2 6 4.1 6.6 3.6 6.8 3.8 6.9 4.1 6.8 4.4 7 4.2 7.8 3.4 9.8 2.5 9.5.8 10.5-1.4 11.8-3.6 13-5.8 13.8-7.5 13.8-8.7 12.5-9.3 10.6-9.7 8.1-9.2 5.6-8.3 3.5-7.8 2.4-3.3 1.4-1.1 1.2.4 1 .8.6.5-.8-.1-2.8-.9-5.6-1.4-8.5-1.8-11.3-2-13.2-2.1-14.3-2.4-15.2-2.2-11.6-2-7.9-1.5-4.3-.7-1.1.4 1.2 1.7 2.2 2.7 2 3.5.6 3.5-1.5 3.3-3.7 2.7-5.7 2.2-6.9 2.3-7.1 3.4-6.4 2.5-4.6 3.1-2.4 3.9 0 4.6 2.2 5.2 4.1 5.5 5.5 5.5 6.4 5 6.9 4.4 7.2 3.3 7.1 2.1 7.1.6 7.2-1 7.5-2.5 9.2-3.9 7.6-4.8 6.7-4.9 6.5-4.2 6.7-3 7-1.9 7.3-1.4 7.2-1.8 6.3-3.6 4.1-6.8.7-10.7-3.8-14.6-8.3-13.6-11.7-12.3-12.7-9.7-11.2-6-8.7-2.2-7.4 1.5-8.8 4.2-12.5 5.9-16.4 6.1-18.9 5.1-16.9 3.1-13.3 1.4-11.9.5-12.3.9-12.8 2.1-11.3 3.6-7.5 5.3-2.7 7.2.9 9.3 2.3 7.5.6 6.6-1.1 5.7-2 4.8-1.3 4 .6 3.3 3 2.9 5.6 2.2 7.6 1.1 9.3-.2 10.2-1.1 9.9-1.8 9.9-2.1 10-2 10-1.5 10-.5 10-.3 9.7-.6 9.5-1.9 9.1-3.2 8.5-3.5 7.8-4.6 6.9-6.1 5.8-7.4 4.7-8.1 3.2-8.2 1.8-7.6.2-6-1.6-3.7-3.8-1.1-6.4 3.1-6 5.7-6.2 6.1-6.4 4.2-6.4.4-6.4-4.1-6.5-7.1-6.5-6.9-6.4-2.5-6 5-4.6 14.3-2.7 17.4.5 18.6 2.9 16 4 10.7 3.6 4.4 2-1-.2-4.3-2-5-2.9-3.4-2.6-.5-1.4 2.6 1.1 5 3.7 5.7 3.7 4.6 4.5 1.7 4.8-2.2 4-6.2 2.3-9.2-.2-10.6-3-10.7-5.5-9.7-6.8-8.1-7.3-7.7-6.7-4.4-6.1-2.6-5.6-1.8-5.4-1.6-5.5-1.6-5.7-1.7-5.7-1.4-5.2-.7-4.5.2-3.6 1.2-2.8 2.1-2.5 3.4-.9 4.1-.4 4.2-.2 4.2-.5 3.8-.9 3.6-1.4 3.2-1.5 3.2-1.2 3.9-.5 5.2.7 2.7 3.2 2.1 5.8 1.7 8.1 1.7 10.1 1.7 11.1 1.7 11.1 1.8 10 1.6 8.1 1.3 5.8 1.1 3.4.4-.5-.1-2.8-.6-3.8-.9-4.1-1.1-3.8-1-3.5-.7-3.3-.5-3.5-.3-3.9-.9-4.4-2.4-4.6-1.1-5.1-1.9-5.1-3.5-4.6-5.5-4.2-7.7-3.4-9.7-2.9-10.8-2.3-11-1.9-9.8-1.6-7.5-1.5-4.4-1.5-1.2-2.5 1.8-2.3 3.6-2.2 4.1-2.5 3.3-2.7 1.4-2.6-.9-1.8-2.9-.6-3.5 1.4-2.1 3.5 1.1 5.5 6.3 6.6 11.8 6.9 13.3 6.6 14.6 5.3 14.1 3.9 12.1 3.3 9.1 4.3 5.5 7.3 2 12.2-1.1 18.5-3.2 25.9-4.3 28.4-4.1 26.4-3.3 21.6-2.2 14-1.5 4.8-1.8-3.3-2.2-9.1-2.7-11.3-4-9.7-5.1-5.5-6.1-.6-6.2 3.8-3.8 5.9-2.5 6.1-1.8 4.8-1.7 2.2-1.7-.7-1.9-3.4-2.1-5.6-2.4-6.9-2.3-7.6-2.7-7.6-2.4-7.3-2.1-7-1.6-6.6-1.1-6.3-.6-6-.1-6 .3-6.6.9-6.1 1.6-5.5 2-5.3 2.5-5 3-5 3.3-4.8 3.5-4.7 3.7-4.4 3.6-4 3.6-3.4 3.4-2.7 3.4-1.7 3-.5 3.1.8 3.4 2.2 4.3 3.3 6.7 4 5.6 4.1 5.4 3.6 5.2 2.6 4.8 1.5 4.4.7 4.3.9 4.6 1.8 5.6 3.9 6.7 6.2 7.3 8.4 6.9 9.6 5.1 9.9 2.2 10.1-1.7 5.7-5.5 2.7-8.4 1.2-9.6 1-9.2 2.1-7.3 3.4-4.9 4.2-3 4.2-2.2 3-2.5.9-4.1-1.5-6.4-4-5.7-7.5-6-9.9-6.5-11.5-6.7-12.3-6.7-12.7-6.5-12.4-6.1-12-5.7-11.3-4.9-10.6-4.2-10.1-3.1-9.7-1.1-7.5.4-5.9 2-4.2 3-2.7 3.9-1 4.2.6 4.5 1.7 4.7 2.5 4.9 2.8 5.4 2.5 6.9 2.1 5.5 1.7 4.7 1.6 4.1 2 3.5 3.1 3.1 4.4 2.7 6 2.4 7 2.3 7.6 2 7.7 1.8 7.4 1.3 7.2 1 7.3.5 9.1.3 8.7.4 8.5.7 8.8 1.1 9.1 1.3 9.3.9 9.5 0 9.4-1.7 9.1-3.8 8-5.1 5.9-6.8 3-7.6-.9-7-5.3-6.4-9.7-2.6-13.7-.7-16.4-1.4-16.8-3.7-15.5-7.6-12.6-11.5-9-13.3-6-12.4-4.3-9-4.5-4.6-6.2-1.1-9.5 2.6-11.1 4.9-12.3 6.2-13.3 6.7-13.3 6.9-12.4 6.9-10.5 7.4-8 7.3-5 7.9-2 9.9 0 6.9 1.4 5.3 2.4 3.9 3.4 3.2 4.1 2.6 4.7 2.1 5.3 1.6 6.1 1.1 7.1.3 9-.5 8.7-1.3 8.1-2.1 7.5-2.4 6.5-3 5.5-3.7 4.5-4.8 3.8-6.4 3.4-9.5 2.8-7.8 1.9-5 .4-2.4-1.3-.7-2.8-.9-3.9-3.3-4.2-7-3.8-10.3-3.2-12-3.3-11.4-4.5-8.8-3.7-5-4.2-.8-4.7 3.3-4.6 7-3.8 10.6-2.3 13.5-.8 15.8.3 17.3.9 18.9.7 13.2 1 9.3 1.5 5.6 2.5 2.3 4.1-.4 5.9-2.2 7.5-3.3 8.5-3.6 8.7-3.4 8.7-3 9.6-2.5 8.1-2.4 7-2.2 6.7-2.3 6.5-2.5 6.1-2.7 5.5-3 4.2-3.2 2.8-3.4 1.3-3.8-.2-5.1-1.3-3.9-2.6-3.8-3.8-4-4.8-4.6-6.1-5.1-7.7-5.2-9.3-4.8-10.9-3.5-12.1-1.3-12.8 1.3-13.4 4-10.1 5.9-7 6.6-3.9 6.5-1.5 5.9-.2 5.6-.3 5.8-1.8 7-3.9 9.7-5.6 12.2-5.7 9.6-4 8.9-.1 8.1 4.8 7.1 9.4 5.6 12.4 4.1 13 2.2 11.5.4 9.4-1.5 8.5-3.4 6.1-5.2 6-6.8 7.3-7.8 8.9-8.6 9.9-8.8 10.1-8.7 9.4-8.7 8.4-9.1 7.3-9.2 5.9-7.2 3.9-6.5 2-6.2.1-5.6-1.9-4.8-3.4-3.2-4.5-1.5-5.3.4-5.8 1.9-6.2 2.1-7.6 2.8-6.4 2.3-5.9 1.2-5.9 0-6.2-1-6.6-1-6.9-.2-7.1 1.7-6.8 4.6-6.2 7.7-5.2 10.2-3.8 12.1-2.3 14-.8 11.1.6 8 1.5 4.1 1.8.5 1.6-2 1.1-3.5.3-3.8-.6-2.7-1.3-1.1-1.7.8-1.9 2.6-1.5 3.6-.9 3.6.1 2.8 1.7 1.6 1.9.2 1.9-1.3 2.1-2.4 2-3.1 2-3.5 1.8-3.6 1.9-3.6 2.2-3.6 2.8-3.5 3.6-4 4.2-6.2 5-6 4.6-6.3 4-7.2 3-7.6 2.2-7.2 1.4-5.6 1-3.5.7-2 .3-2.3-1-4.8-4-6.1-4.7-6.7-6.9-4.4-9.1 1.2-10.5 8.7-10.2 15.1-8.1 17.7-4.2 18.8-.5 20.3 1.8 14.1 4.2 12 4.3 10.9 3.5 9.9 2.6 8.3 2.2 5.4 2.6 1.8 3.5-2.3 4.9-6 7.1-8.5 5.4-10 4.2-10.6 3-10.4 1.8-9.4.6-8.3-.1-6.9-.6-5.6-.7-4.6-.4-3.8.1-3.7.7-5.1 1.6-3.6 2-2.9 2.4-2.7 2.7-2.8 2.9-2.6 2.7-2.4 2.5-1.9 2.2-1.3 1.7-.6 1.2.1.8.5.3.6-.1.4-.9-.4-2.6-.1-1.8 0-2 .4-2.8 1.3-4.2 2.7-5.9 4.3-7.7 6.4-9.3 8.6-10.1 10.8-10.1 12.4-8.5 15.2-6.2 13.6-2.5 11.2 1.2 9.2 3.9 6.5 5.5 4.2 5.6 2.3 4.7.7 3.1-.6 1.7-1.7 1.1-2.8 1.4-3.8 3.4-4.5 3.3-5.2 3.9-5.6 4.2-5.9 4.1-6.1 3.2-5.8 1.8-5.4.2-4.8-1.4-4-2.5-3.4-2.9-3.9-2.7-5.5-1.9-3.1-.6-3.5 1.2-4.6 3.1-6.2 5.2-7.6 6.8-8.3 8-8 8.2-6.5 7.5-4.1 5.7-1 3 1.9-.2 4-4.4 5.3-6 5.4-6.3 4.1-6 2.1-4.7-.3-2.7-2.1-.7-3.1 1-2.7 1.7-1.1 1.4 1.6-.2 4.7-2.3 8.2-5 11.6-7.3 14.9-9.1 13.2-8.8 11.8-7.9 10.1-6.4 7.7-4.4 5.3-2.4 3.1-.8 1.4.5.5 1.3.3 1.8.5 2.2 1.1 2.7 1.8 3.3 2.4 4.4 2.5 5.9 1.8 5.2.7 5.1-.7 4.8-2.3 4.1-3.9 3.1-5.2 1.9-6.1.6-6.8-.7-7.1-1.5-7-1.8-6.9-1.7-6.9-.8-7.6.7-5 1.8-3.9 3.2-3.1 4.6-2.7 5.5-2.7 5.9-2.7 5.5-3.1 4.7-3.4 3.1-3.9 1.2-4.4-1.2-4.9-4.5-4.5-5.2-3.9-6.3-3.4-7.1-2.5-7.8-1.5-7.9-.3-7.7 1.3-7.3 3.3-6.5 5.7-5.2 8.7-3.8 11.3-1.9 9.1.1 8.1 2.2 6.5 4.2 4.7 6.3 2.9 8 1.4 9.4.4 10.4-.3 10.7-.7 10.7-.9 11.1-.3 7.4.1 4.8 0 3.2-.4 2.6-.9 3.1-1.6 4.5-2.2 5.9-2.9 6.6-3.9 5.7-7.3 3.6-6.5-.1-6.6-3.9-7.6-7-8.2-8.6-8.3-8.6-7.1-7.8-5.2-6.6-2.7-6.4 0-7.1 2.3-10 4.8-10.7 6.6-11.7 7.4-12.2 7.2-11.9 6.3-10.5 4.9-8.6 3.6-6.8 3.2-5.3 4-4.1 5.9-3.6 9.9-3.3 9.6-2.4 9.1-1.6 7.8-.7 5.9.2 3.8 1 2.2 1.7 1.3 2.4.8 3.1.6 3.7.3 4.3-.1 5.2-.8 5.9-1.5 6.9-2.2 8.5-2.2 8.9-1.8 9.4-1.1 9.9-.4 10.4.4 10.7 1.1 11 1.5 10.9 1.5 10.9 1.4 10.6.7 10.2 0 9.7-.7 9.1-1.5 8.4-2.3 7.5-3.1 6.3-2.2 4.6-2.2 2.7-2.6.6-3.1-1.8-3.8-4.1-4.6-6-5-7.4-5-7.8-4.5-7.5-3.7-7.1-3.5-8.3-3.4-10.1-3.7-12.3-4.7-16.3-5.7-20-5.8-21.4-3.7-20.2-1-16.2 1.4-10.9 3.7-6.1 5.3-3.1 7-2.2 5.4-2.2 3.7-2.6 2.3-2.9 1.4-2.6.9-2 .7-1.3.8-.9.9-.8 1.1-.4 1 .4.9 1.5.7 2 .3 3.4-.1 4.9-.5 6.1-.9 6.8-1.5 6.6-2.3 6-3.3 4.9-5.5 3.9-5.3 3.3-4.8 3-4.4 3.3-3.8 4.1-3 4.6-2.1 4.6-1.3 3.7-.8 1.9-.6-.9-.2-3.4.7-3 1.8-3 3.1-2.6 4.2-2.6 4.4-3.2 4.1-4.4 4.1-5.4 5.5-5.5 10-4.4 10.7-2 12.2.4 11.8 1.7 8.5 2.1 3.2 2.1-1.7 3-4 5.1-3.3 8.5-1 13.1.4 15.3-.3 14.8-2.6 12.8-5.1 9-5.7 4.3-6.7-.5-7-4.6-6.5-7.4-6.1-8.8-7.2-8.9-6.3-8.4-6.3-7.5-6.9-6.9-7.5-6.7-7.6-6.9-7.4-7.4-6.8-7.9-5.9-8.5-4.8-9.1-3.6-9.6-1.7-8.4 0-7.8 1.4-7.2 2.9-6.4 4.2-5.5 5.5-4.6 6.7-3.7 7.9-2.8 10.2-2.3 8.7-1.1 7.6-.1 6.6.4 5.9.7 5.1.8 4.5.9 2.9.7 1.5 2 .5 8.6.1 14.2 0 14.2.2 13 .7 11.2 1.4 9.4 1.2 8.8 1.2 8.8.6 9.3-1.7 10.2-4.3 10.3-5.8 8.7-8.9 6.4-11.3 3.1-12.3-1.1-12.7-4.8-10.3-8.4-5.5-11.3-1.4-13.1 1.4-10.9 1.4-5.7-.6-.2-2.8 4.7-3.2 7.6-.5 8 4.6 6.1 11.1 2.7 18.7-1.1 21.7-3.1 20-2.7 17.4-1.4 13.7 1 9.5 4 5.6 6.9 2.3 9.6 0 11.8-1.4 13.5-1.8 16.2-2.2 15-2.2 13.5-1.8 12.2-1.5 10.4-1.3 8.4-1.2 6-1.5 3.7-2 1.4-2.7-.8-3.8-2.6-5.2-4.3-7.5-5.6-6.5-6.5-6.5-7.1-6.6-7.1-6.3-6.7-5.6-5.8-4.7-4.6-3.7-3.5-2.7-3.2-2.3-3.5-2.5-4.8-3-7-3.8-9.8-4.7-13.2-4.5-12.8-3.6-12.7-2.2-11.7-.6-9.9.9-7.6 1.7-4.9 2.9-2.5 3.2-.2 4.4 1.3 6.6 2.3 11.7 2.5 12.5 2.7 11.6 2.6 11.1 2.7 10.1 2.9 8.4 3.3 6.3 3.9 4.2 4.9 2.3 6.1 1 7.4.1 8.9-.1 11.6-.2 11.5-.1 11.3 0 11.4.3 11.3.3 11.1.1 10.4-.3 9.3-.8 8-1.7 6.2-2.5 4.1-3.7 2.2-5.7.6-4.2-1.1-3.5-1.7-3.3-1.6-3.2-.8-3.6 0-4.3.1-5.1-.6-5.8-2.3-6.4-4.8-6.3-7.2-5.8-9.3-4.8-10.4-3.8-10.7-2.6-10.5-1.9-10.5-1-8.3-.7-7.1-.8-6.5-.8-6.3-1.2-6.2-1.4-6.4-1.5-6.3-1.6-6.1-1.6-5.9-1.6-5.5-1.4-5.3-1.3-4.9-1-4.6-.7-4.5-.3-4.2.2-4.2.9-4.2 1.6-4.2 2.4-4.2 3.3-4.3 5.1-4.5 5.2-4.5 4.6-4.1 4.5-4 4.3-3.5 4-3 3.4-2.3 2.6-1.4 1.7-.2 1 1.5.9 3.6 2 6 3.8 8.6 6.3 10.8 8 12.2 8.7 11.9 7.9 10.5 5.8 5.1 3.3 1.1 1 .8-1.3 5.9-3.2 15.3-3.7 25.1-2.2 29.8-.6 26.1-1.9 14.3-2.5-2.3-3.9-17.5-7.3-26.1-10.5-26.3-11-20.3-9.2-12.1-5.6-5.2-2.6-2.9.5-.4 2.1-.6 2.5-2.9 2.3-5.3 2-7.2 1.9-8.1 2.2-7.9 2.9-6.9 4.2-5.8 2.2-3.6 1.8-2.1 1.4-.8 1.2.2 1.2.9 1.1 1.4 1.3 1.9 1.3 2.4 1.6 3.1 2 3.8 2.3 5.4 2.2 5.6 1.9 5.5 1.2 5.8.4 6-.7 6.2-1.7 6.2-2.4 6.2-2.9 6.3-2.9 6.8-2.4 7.3-1.4 8.2-.4 9.1.4 10.1 1.3 10.5 1.6 10.3 1.3 9.2.9 7.4-.1 4.7-1.7 1.8-1.2-1.2-1.1-3.7-1.1-5.5-1.2-6.3-1.4-6.2-1.8-5.4-2.1-4-2.5-2.6-2.8-1.5-3.2-1-3.2-1.7-3.3-3.2-3.1-5.8-2.5-8.7-1.9-11.5-.9-13.4.2-14.6 1.4-14.8 2.2-12.2 2.9-9.9 3.4-8.2 3.7-7 3.5-6.8 3.1-7.2 2.1-7.7 1.1-7.9.1-7.6-.3-6.5.2-4.5 3.3-2 3-.1 3.8 1.8 5 3.4 5.6 4.5 5.4 5 4.4 4.8 2.8 4.5 1.3 3.8.1 3.7-.9 4-2 2.8-3.2 3.2-4.5 4.1-5.9 5.5-7.3 7-8.3 8.1-9 8.6-11.6 8.9-9.2 7.3-7.7 5.5-7.3 4-6.9 3-6.4 2.5-5.5 2.6-4.3 2.5-3 2-2.2-.4-1.1-.6-.3-2.3.2-4.4 1-6.4 2.1-7.4 3.5-7.2 5.3-5.5 7-2.6 9 .8 11.7 4 11 6.7 10 8.3 9.2 8.5 8.4 7.7 7.5 6.3 6.6 4.8 5.9 3.8 5.3 3.4 4.7 3.9 4.1 5.4 3.8 8.6 3.1 10.4 2.2 9.9 1.2 10.1-.1 9.7-1.5 8.3-3.3 6.2-5 3.5-6.8.2-8.4-2.8-9.9-5.5-12.1-7.6-9.9-8.9-8.3-9.2-6.5-8.7-4.7-7.7-2.6-6-1.1-4.1.1-2.2.8-.7 1-.1.9-1.6.5-1.1.2-2.1.3-4.6.8-7.7 1.6-10.8 2.7-13.2 3.9-14.1 5.8-13.1 7.2-10 7.7-5.3 9.5.9 7 6.3 5.2 10.7 4.2 13.4 2.7 13.6 1.6 11.9 1.3 9.1.9 5.8.2 2.5-1-.4-2.3-2.8-2.7-4.6-2.4-4.7-.8-5.4.3-4.1.2-1.2-1.6 2.1-4.2 5-6.2 6.5-7 6.5-6.6 5.2-5.7 3.4-4.8 1.8-4.2.9-4.7.9-2.7.4-2.5.5-2.7.7-3.2.9-3.8.8-4.4.5-4.9-.1-5.1-.9-5.1-2.1-5.1-4.8-3.5-4.7-1.6-5 .4-5.5 2.5-6 4.6-6.5 6.3-6.9 7.8-7.5 8.8-8 10.1-8.7 10.3-8.8 7.5-7.8 5.7-5.2 4.2-.1 2.6 7.7 1.5 16.6.9 23.8 1 26.8 1.8 25.4 2.6 15.3 2.8 4.1 1.5-4.3-1.6-8.2-5.8-7.7-9.7-4.2-11.4.2-10.5 4-8.8 5.2-4.2 3.3-1.9-1.5-1.6-7.5-3.6-12.4-6.3-14.8-7.6-14.2-6.3-11.9-2.8-9.2 1.4-8.5 5.6-6.7 7.9-5.3 7.8-5.3 5.7-5.3 2.8-5.3.2-4.8-1.1-4.2-.4-3.5 2.1-2.7 6.2-2.2 10.5-1.8 10.4-.2 10.8 1.2 10.2 2.9 8.4 4.7 6.3 6.6 3.9 8.3 2 9.6.7 10.1.1 10 .3 9.6.9 8.7.8 4.8.8 2.2.5.1-.6-1-2.2-1.7-4.1-1.8-6-1.7-7.9-1.8-9.1-2.4-10.8-3.3-9.9-5-8.1-6.9-6.7-8.6-5.5-9.8-4.7-10.3-4.1-10.2-3.5-9.5-3.3-8.4-3.1-7.1-3-6.6-2.6-4.5-1.8-3.3-.7-2.6.8-2.3 3.2-2.3 6.4-2.1 10-1.7 13.5-.6 17.6.7 15.6 2.6 12.3 4.5 7 6.1 1.7 7.2-2.8 7.5-5.4 7.3-5.7 7.3-3.6 8.1.1 11.6 4 12.5 6.2 15.3 5.8 18.4 3 20.2-1 20.2-4.8 17.8-7 13.9-8.3 9.4-9.7 5.6-5.7 2.8-2.2 1-.2-.1.5-1.2-.3-3-1.9-5.5-3.2-8-4-10.3-3.8-11.8-2.9-13.1-1-10.7.9-7.8 2.5-5.4 3.3-3.3 3.8-2.2 3.9-1.7 3.9-2.1 3.9-2.7 3.8-3.5 3.6-3.8 3.8-3.8 4.5-3.3 3.1-2.2 4.1-.7 6.1.7 8.3 2.3 8.8 3.6 7.5 4.8 4.4 5.9.2 6.6-3.8 6.9-6.4 7.1-7.2 7.6-6.4 5.3-4.7 3.8-2.5 2.7-.6 2.3.9 2.5 1.4 3.3 1.3 4.6.5 5.8-.8 6.5-2.9 6.3-4.5 4.7-4.4 1.8-5.1-1.3-5.8-4.3-5.7-5.9-5.1-6.2-3.7-5.4-2-4.2-.5-3.7.7-5.1 1.4-7.1 2-7.4 1.9-8.6 1.5-9.1.8-8.5-.4-7.1-1.3-5.7-2.3-4.6-2.4-4.1-1-4.2 3.1-4.7 4.2-4.5 8.5-4.3 13.2-3.7 17.2-2.5 18.4-1 15.7.8 10.1 2.8 3 4.8-3.2 6.4-7 7.5-8 8.4-6.6 8.2-4.4 6-2.5 4.7-1.6 3.7-1.7 3.2-2.7 3.3-3.9 3.7-5.4 4.7-6.6 6.1-7.4 7.5-8 8.7-8.9 9.6-10.8 9.7-9 8-7.8 5.2-7.1 1.2-7.4-2.9-7.6-7.1-7.1-10-6.2-11.3-5-10.6-3.6-8.5-2.3-6.3-1.2-4.4.8.2 2.4 1.7 3.8 1.3 5.1-.2 6-2.5 6.6-4.9 6.8-7.1 7.1-8.8 7.6-9.6 5.5-9.3 5-8.3 4.8-6.4 4.9-4.2 4.4-2.1 3.4-.2 1.9 1.1 0 1.9-1.6 3.3-2.3 1-1.9-.4-.9-1.3.7-2 2.2-2.7 3-2.9 2.7-2.9 1.4-2.5-.8-1.8-3.6-.8-6.1.6-6.3 1.8-5.8 2.9-4 3.9-1.3 4.6 1.3 5.2 2.9 5.4 3 5.3 1.5 4.7-1.1 3.7-3.8 2.2-5.8.1-6.3-1.7-4.7-1.6-2.1-1.6.4-1.2 2.3-.2 2.8.8 2.4 1.6 1.5 1.9.7 1.7.6.9 1.2.2 2.5-.1 5.1.1 4.7 1.5 5.1 3 5.1 4 4.8 4.2 4.2 3.6 3.3 2.3 2.5.7 1.8-.6 1.3-1.1 1-.8 1.1.1 1.2 1.2 1.4 2.1 1.5 3.1.9.9.3-1.1-.4-3.2-1-5.1-1.6-6.7-2.2-7.6-2.5-8-2.9-7.7-3.3-7-3.5-6-3.9-4.6-4.2-3.5-4.5-2.4-4.9-1.6-5-1.1-5.4-.9-5.9-1-4.9-1.2-4.4-1.4-4-1.7-3.5-1.6-3.1-1.7-2.6-1.4-2.1-1.2-1.7-.9-1.2-.4-1-.1-.7.1-.5.2-.3-.2-.2-.8 0-2.2.2-2.1.4-1.6.6-.6 1 1.1 1.4 3.3 2 5.6 2.8 6.8 3.9 6.4 5.4 4.1 8 .5 8.6-3.1 7.3-4.9 6.5-3.5 5.6 1.1 4.8 7.3 4.3 13.1 4 16.6 3.6 17.5 2.4 17.4.5 12.6-2.3 9.5-5 7.5-6.9 6.5-7.6 5.6-7 4.2-5.8 1.9-4.9-1-6.2-4.2-4.9-6.8-4.6-8.6-5.1-9.3-5.1-8.7-4.8-7.1-3.7-5-2.2-2.8-.6-.8.8.5 1.8.8 2-.1 1.7-2.5.7-6.6-.3-9.2-1.6-12.5-2.8-15.5-3.6-17.1-3.1-17.1-1.2-15.1 2.7-11.4 4.9-6.3 6.8-1 8 3.9 8.6 7.3 8.6 9 9.2 8.6 6.2 7.2 4.9 4.9 4.7 2.5 5.1.8 5.3.1 5.2.8 4.4 2.7 2.9 5.3.9 8.4-.8 12.6-2.2 14.6-2.8 15-2.4 15.8-1.4 16-.3 16 .6 15.4 1.2 14.4.7 12.9-1.1 11-3.5 8.5-6.5 5.6-6.5 1.5-7-2.7-7.2-6.7-7.4-10.4-8.3-13.1-8.3-14.9-8.2-15.6-7.6-15-6.6-13.5-5.1-11.5-3.4-9.9-1.2-6.7.7-3.7 2.2-2 3-1.3 3.5-1.7 3.7-3.1 4-5.5 4.3-8.4 4.9-11.6 5.9-14.2 7.4-15.5 9.7-14.6 7.6-11.5 6.7-6.5 5.7-.9 4.5 3.7 3.4 6.6 2.5 7 1.6 5.9.9 4.4.2 4-.9 5.7-1.8 6.2-2.8 7.7-3.8 8.8-4.5 8.8-4.9 8-5 6.9-5.1 6.6-5.1 7.1-5.7 8.1-5.8 8.7-3.2 8.2-2.2 6-1.5 2.2-1.9-1.9-2.5-5.2-2.9-6.7-3-6.4-2.5-5-1.7-4.5-.1-1.7 1-1 1.8-2.1 2.3-4.4 2.6-6.7 3.3-8.7 4.4-9.6 6.1-9.5 7.7-8.1 9.7-6.3 10.7-4.2 8.1-1.5 6.5.6 4.8 2.2 3.1 3.2 1.9 3.7 1.3 3.7 1.5 3.5 2.2 3.1 3.2 2.6 4 2.4 4.3 2.7 3.6 3.9 1.5 3.5-1.1 4.1-3.7 4.8-5.8 5.5-6.6 5.9-6.1 5.9-4.7 5.7-3.1 5.2-1.8 4.7-1.3 4.3-1.7 3.9-3.1 3.6-5.1 3.3-4.6 2.3-4.8 1.3-4.9-.1-4.7-1.8-5-3.4-5.3-5.2-5.3-6.3-5.3-7-4.7-6.8-3.3-5.8-1.2-4.5 1.2-3.6 4.2-1 5.8-.3 6-.8 4.5-2.6 1.7-4.8-1.4-6.6-3.4-7.7-2.8-7.4.8-6 6.5-4 13.8-1.8 15 .4 15.4 1.8 13.1 2.6 9.3 2.8 5.2 2.8 1.9 3-.1 3.3-1 4-1.2 4.7-1.7 5.7-2.4 6.6-3.4 5-4.2 3.9-4.4 2.6-3.8 1.2-2.7-.4-1.8-1.7-1.3-2.7-1.9-3.5-3.4-3.8-6.1-3.8-6.7-3.8-6.5-3.9-5.8-3.9-4.5-4.1-3-4.3-1.4-4.6-.2-4.7.5-4.7.8-4.5.7-4.5.2-5.2-.1-4-.6-3.4-1.5-3.2-2.6-2.9-3.3-2.5-3.3-2.1-1.9-1.4 1-.7 4.1.4 7.4 1.6 10.4 2.7 7.5 4.8 4.5 6.5 2.5 7.3 2.3 7.3 3.8 6.8 6.6 6.1 9 5.8 9.8 6.4 8.1 8 4.4 10.4-.5 13.4-4.8 13.1-8.2 12.7-9.7 11.9-8.9 10.7-6.2 9.8-2.4 9.3 1.4 9.4 4.2 9.6 4.8 9.6 3.1 8.9-1.9 7-5 4-7.3.5-9.5-3.1-10.5-5.9-10.3-7.7-9.2-8.6-7.6-8.7-6.1-8.5-4.7-8.4-3.1-8.8-1.5-10 .3-12.4 2-11.9 3.5-11.9 4.6-11.9 5-11.6 4.7-10.9 4-9.9 3-8.6 2.2-7.3 2-6 2.6-5.1 5.6-4.4 4.4-4 4.3-3.7 4.5-3.5 4.4-3.2 3.8-2.7 2.6-2.1 1.4-1-.1 0-1.3 1.5-2.4 3.6-2.8 3.2-2.8 3.4-2.7 3.5-2.7 3.3-2.5 3.2-2.4 2.7-2.5 2.1-2.9 1.4-4.4.8-3.8-.1-3.4-1.1-3.4-1.8-3.3-2.7-3.2-3.4-2.8-4.3-2.1-5.2-1.2-6.2-.4-7.9 1-6.9 2.2-6.3 2.7-5.5 2.9-4.3 2.7-3 2.5-1.7 2.6-.9 3.4-.4 5.2.1 4.4.5 4.6.8 4.5 1.1 4 1.9 3 3.2 1.8 5.4.7 7.3 0 8.5-.3 9.2-.6 7.1-.6 5.3-.6 3.5-.7 2-.8.8-1 .3-1.5.6-2 1.5-2.8 3.1-3.8 4.8-2.9 5.6-2.6 5.9-2.5 5.5-2.3 4.1-2 2.2-1.9 0-2.5-1.7-2.6-3.1-2.4-3.7-2.4-3.9-2.3-3.8-2-2.8-1.5-1.3-1.2-.4-.6.2-.1.4.6.5 1.3.8 2 1.2 2.9 2 3.7 3 4.5 4.2 5.8 5.3 8.3 5.7 7.3 6.5 6.8 6.5 6.3 6.5 5.4 6.2 4.2 6.6 2.8 7.5 1.7 9.2 1 11.3.7 13.7 1 15.6 1.3 18.1 1.3 16.2.8 12.2 0 8.3-1.3 4.5-2.5 1.3-3.9-1.3-5.2-3.4-6.1-5.2-7-7.4-7.9-9.7-8.4-12.4-7.2-14.8-6.5-16.6-5.7-17.5-4.7-17.6-3.8-17-3-16-2.4-15-2-14.2-1.9-13.6-1.9-13.5-1.3-10.8-.9-9-.1-6.8.8-4.6 1.8-2.3 2.6-.1 3.3 1.8 3.9 3.3 4.7 4.3 6.3 4.8 8.8 4.9 8.8 4.9 9.6 5.1 9.3 5.7 7.3 7.1 3.9 9.4-.3 12.5-2.8 16.1-2.9 19.2-.7 21.4 2.3 22.6 4.7 22.6 5 18.9 3.3 15 .4 10.8-2.6 6.7-4.7 3.1-5.5.4-5.4-.9-5-1.2-5.1-.6-6.1.3-4 .2-3.7-.5-3.8-2.1-4-4.6-4.2-8-4.2-11.4-3.7-14.4-2.9-17.6-1.8-18.8-.2-16.2 1.5-15 2.9-14.1 4.3-13.7 5.4-13.5 6.7-12.6 8.6-10.5 10.1-6.7 7.5-2 6.4 2.4 5.1 5.4 3.3 5.9 1.3 4.7-.9 2.6-3 1.3-4.7 2.3-4.6 1.2-3.8 2-2.4 3-1 3-.2 2.1.1.5 0-1.1-.8-2.4-1.7-3.1-2.6-3.1-2.1-2.9-2.3-2.7-2.9-2.3-3.5-1.9-4.1-1.3-4.7-.8-4.6-.3-4.1.2-3.2.2-2-.2-1-1.5.4-1.6 1.3-1.8 1.7-1.9 1.5-1.4 1.1-.6.8.6.5 1.7 1.1 2.4 2 2.4 3.7 1.8 6.4.5 8.1-1.1 5.9-1.7 4.9-2.3 3.7-2.3 2.8-1.7 2.4-.9 2.8.3 3.6 1.1 4.9 1.9 5.9 2.3 6.4 2.8 6 3.5 4.2 2.3 1.9 2-.8 1.9-3.2 1.7-5.3 1.7-6.7 1.5-7.5 1.5-7.7 1.3-7.7 1.5-7.4 1.6-7.1 1.9-7.5 2.8-5.8 2.5-4.4 2.5-3.5 2.5-2.8 2.4-2.1 2.3-1.8 1.9-1.4 1.7-1.3 1.2-1.3 1.1-1.4.8-1.6.7-1.8.5-2.3-.6-1.5-.1-.7.3.1.2 1.1-.1 1.8-.5 2.5-.9 3.3-1.3 4-1.8 4.8-2.2 5.8-2.4 7.3-2.6 10.4-3.1 9.4-2.1 8.7-1.3 8.2-.4 7.4.6 6.4 1.6 5 2.5 3.8 3.2 2.6 3.7 1.7 4.1 1 4.2.6 4.4.3 5.4 0 4.6-.6 3.9-1.3 3.8-2.1 4.3-3.2 5-4.2 5.8-5 6.2-4.8 6-5.5 5.1-6.4 3.2-7.1.8-8-1.9-9-3.6-6.2-5.3-4.3-5.7-3.5-6.1-3.3-7.6-3.6-9.8-4.1-11.9-4.1-12-3.5-10.1-2.7-7.5-2.9-7.9-2.7-8.1-2.7-10.4-1.7-11.7 1-9.2 4.7-3.2 7.8 3.3 9.9 6.8 10.5 5.7 11 .9 8.2-3.9 7.7-7.3 7.6-7.5 7.5-5 6.3-.8 4 4 1 8-1.9 11.8-3.5 11.2-4.1 10-4.2 8.1-4.1 6-4 3.8-5.1 1.9-6.9.2-8.8-.8-11-1.5-10.7-1.8-9.8-1.8-8-1.4-5.5-.6-2.6.3.3 1.3 2.6 2.4 4 3 4.3 3.4 3.8 3.1 2.3 1.8.8 2.2-1.1 1.4-2.4.4-3.1-.6-2.9-1.5-1.8-2.2.1-2.3 2.4-2.1 4.5-1.5 6.4-.5 7.9.7 9.4 2.2 10.3 3.7 8.1 5.3 7 6.7 6 8 4.9 8.9 3.8 9 2.8 8.4 1.6 7.1.7 5.5-.1 4.4-.6 4.9-1.2 7.9-1.4 8.5-2 10.2-2.6 10.6-3.6 8.7-4.1 4.3-4.4-.9-3.9-5-3.5-6.8-2.4-5.7 1.9-3.4 3.3-1.5 2.6-1.4.4-3.4-3-6.4-6.6-9.5-10-12.3-11.9-13.7-10.7-11.9-7.8-11.5-3.4-12 1.5-12.7 5.8-13.5 9.3-13.8 10-12.7 9.6-10.5 10.7-8 7-3.9 5.9-.5 6.4 2 7.5 3.5 7.5 4.5 7.7 4.6 7.4 4.3 6.3 3.8 4.7 3.4 3 3.4 1.3 3.7-.4 4.6-2 6.3-3.4 8.3-4.4 8-5.4 8.2-6 7.9-6.6 6.9-6.8 5.2-7 3.2-7.1 1-7.3-.8-7.4-2.1-7.8-3.1-8.4-3.5-10.9-4-9-4-7.5-4-6.3-3.6-5.5-2.5-4.6-.9-4 1.4-3.5 2.9-3.4 2.7-3.7 0-4.1-5-3.8-7.9-2.7-10.4.4-10.4 5.1-7.5 10.5-3.2 14.7 1.2 17 4.2 18.1 5.6 15.3 5.7 8.6 5.6 4.2 6.5 1.5 8.3.3 10.4.5 12.5 1.5 13.8 2.1 14.1 2.2 14.5 1.7 12.2.8 8.2-.6 5-2.2 2.3-3.5.5-4.7 0-5.1.6-5.2 2.7-5.1 5.7-5.3 9.2-2.1 11.8-.6 13.5 0 13.1-.2 10.4-.9 5.4-2.3-1.5-3.8-9.3-4.9-17.2-5.9-25.1-4.6-26.7-2.6-25.6-.3-22.6 1.5-18.1 2.6-12.9 2.8-8.2 2.7-5 2.7-3.7 3.6-4.1 6.3-5.8 6.6-7.3 6.2-8.2 5.8-7.9 4.7-6.2 3.2-3.5 1.9-.2 1 2.8.7 5 .4 6-.1 5.7-1.1 5.1-2.3 2-3.3-1.3-3.8-3.6-3.9-5.2-3.3-5.9-2.6-5.7-1.8-5.1-1.7-3.9-1.8-2.5-2.4-1.1-3.3.5-4.5 1.9-3.2 2.5-2.3 3-1.7 3-1 2.8-.8 2.2-.9 1.4-1.4.2-2.2-1.1-3-2.5-3.5-3.7-4-5.4-3-5.2-1.3-4.4.8-3.2 2.6-1.7 4-.2 4.5.7 4.3.8 3.8.6 3.3.4 3.1.7 3.9 1.4 5.4 1.5 4.4 1.3 4.7-.5 5.7-2.3 7.1-2.9 8.7-1.2 9.9 2.7 10.4 7.6 9.9 11.4 8.8 13.1 6.7 12.3 4.4 10.1 1.7 8.2-.9 5-3.2 4.1-4.7 4.7-5.7 6-6 7.3-5.8 8-5.4 8-5.3 7.2-5.5 5.6-6.8 3.7-10 1.5-7.9-.6-8.2-2.3-9-3.6-9.4-4.4-9.4-4.9-8.5-5.2-6.7-5.5-4-6.3-.7-8.5 3-9 6.7-9.1 9.8-9.6 12-9.6 13.1-8.6 13-6.8 11.6-4.5 9.6-2.2 6.9-.7 5.7-.1 2-.5-1.7-1.4-3.7-2.5-4.8-3.5-5.1-4-5.1-3.7-4.6-3.2-4-2.3-3.4-1.3-2.8-.5-2.3.2-1.9.6-1.4.9-1.1 1-.7 1.2-.5 1.7 0 1.2.2 1.2.5 1.1.6 1.3.7 1.3.7 1.5.7 1.7.5 1.8.4 1.9.2 2.1 0 2.1-.2 2.3-.4 2.3-.6 2.3-.8 2.3-.9 2.1-1.4 1.9-1.2 1.7-.3 1.2 0 .6.3-.2.4-1.1.4-2 .2-3.2-.4-4-.7-4.9-1-5.4-1.2-5.9-1.2-6.6-1.1-5.5-.8-4.4-.5-3.2-.2-2.2.1-1.2.2-.4.6.4 1 1 1.9 1.6 3 1.9 5.5 2.1 5.1 2.3 5.8 2.3 6.4 2.3 6.8 2.3 6.4 2.4 5.6 2.9 4 3.7 2 4.8-.1 6-1.7 7.1-2.9 8.2-2.9 7.1-2.5 6.2-2 5.1-1.5 4.2-1.7 3.2-2.4 2.7-4.1 2.5-6.4 2.5-8.8 2.9-11.2 3.2-14 3.3-12.3 3.2-10.6 2.8-8.1 1.9-5.7.8-3.4-.2-1.1-1 1.1-1.1 2.5-.8 3.3-.3 3.2.4 2.4.6 1.2.4-.5-1-1.8-1.3-2.9-1.3-3.6-1.5-3.7-1.4-3.4-1-2.4-.5-1.2 0 .3.3 1.7.3 3.2-.1 4.2-.6 5.3-1.4 6-2.2 6.5-2.7 6.9-3.2 7.4-3.4 9-3.6 6.7-2.9 5.6-2.3 4.9-1.5 4.8-.6 4.9.2 5.4 1.1 6.3 1.9 7.1 2.7 7.9 3.5 8.6 4.2 8.8 4.8 8.6 5.4 7.8 6.1 6.5 7 4.4 5.4 2.2 4.5-.3 3.5-2.7 2.2-5 1-7.1-.5-8.9-1.8-10.6-3.1-11.9-3.9-13-4.5-15.5-4.2-13.4-4.5-10.7-4.5-8.4-4.7-5.9-5.3-3.4-6.4-1-7.8 1-9.5 2.1-10.8 2.5-11.5 2.1-11.3 1.2-10.2-.1-8.4-1.1-6.8-1.4-3.7-1.1-2.2-.1-1.7 1.1-2.5 1.7-3.9 1.7-5.2.8-5.4-.2-4-.5-1.9.8-.5 3.2.3 7.1 1.2 7.7 1.2 7.1 1.3 5.4 1.1 3.9.9 4 1.4 6.3 2.3 9.6 3.1 11.7 3.7 10.6 4.7 6 7.2-.3 9.5-5.5 9.9-8.3 10-7.9 9.2-5.7 7.7-2.6 6-.4 4.6.3 3.4-1.2 2.9-3.6 2.4-4.7 1.7-6.5 1.1-7.6.4-7.9-.3-7-1.2-5.5-2.1-3.7-3-2.5-4.6-.8-3.8.3-3.1.9-2.7 1.4-2.3 2.2-1.7 3.6-.8 5.3.9 7.7 3.3 11 6 8.9 8.7 8 9.4 7.2 7.5 6.3 3.4 5.7-.8 5-2.3 3.7.5 2.3 7.7.5 16.8-.6 20.6-1.5 21.3-1.9 18.2-2.4 13.2-2.9 8.7-4.2 5.7-5.7 4.4-7 3.6-8.3 3-9.5 2.4-7.6 1.4-5.9 1-3.5.9-1.2 1 .7 1.1 1.7.8 1.9 0 1.3-1.4.4-3.1-.4-5.1-.8-7.4-.6-9.8-.4-12.7.4-12.5.9-12.6.5-12.7-.1-12.6-1.2-12.3-2.2-11.7-3-11.2-2.7-10.5-2.4-9.8-1.8-8.9-1.2-8-.5-7-.1-6 .2-4.9.7-3.8 1.5-2.6 3.7-1.5 2.5-.4 2.5.8 3.1 1.6 3.9 2.4 4.7 2.8 5.1 2.9 5.2 2.8 4.9 2.3 4 1.9 2.5 1.3 1 1.2-.7 1.7-2 3.4-3 3.3-3.4 5-3.2 8-2.3 11.7-1.1 15.9.2 19.3 1.3 20.9 1.7 19.4.7 14.4-1.5 6.7-6-1.8-7.4-9.7-7.9-13.7-8.3-12.8-7.3-7.2-4.8 1.2-1.4 9.7 1.9 16 4.1 18.7 4.7 17.3 3.6 12.7 1.2 6.2-1.8-.9-5.1-8.6-6.5-13-6.6-15.3-5.8-16.8-4.2-16.7-2.1-15.5.2-13.1 2.6-10.2 3.7-6.9 4.4-3.5 4.9-.9 5.1 1.1 5.6 2.1 6.6 2.4 4.7 2.6 4.1 2.6 3.9 2.5 4.2 3.2 4.5 4.4 4.8 6.4 4.9 8.6 4.7 10.5 4.1 11.4 3 11.8 1.8 6.4.6 2.2-1-.9-2.8-2.3-4.8-2.2-6.8-1.4-8.8-1.3-11-2.7-12.5-5.7-9.4-9.2-7.5-12.4-5.5-14.2-3.3-14.1-1.6-12.7.2-10.5 1.7-8.7 3.2-7.8 4.8-4.6 6.4-3.3 7.6-2.7 8-2.6 7.1-2.8 5.4-3.3 3.8-3.4 5.3-3.3 2.2-2.4 3.1-.8 6.3 1.7 10.2 4.5 12.3 7.9 11.5 11.5 8 14.9 2.9 17.8-1.9 20.4-5.1 19.4-6.8 15.6-7 11.5-6.4 7.5-5.6 3.8-4.8 1.4-3.9.2-3.5.4-3.5 1.4-4.1 2.9-5.5 3.9-5.3 3.1-6.5 1.3-8.6-2-10.8-6.1-12.5-10.1-13.3-13-12.7-14.4-10.9-14.3-8.8-14.7-5.2-11.4-2.3-10.3-.4-11 1.5-12.8 3.7-14.1 6.8-14.1 11-12.1 17.4-9.2 17.7-4.6 15.3-.5 10.9 2.3 4.7 4.3-1.2 5.3-4.2 5.6-2.8 5.7 2 6.4 6.8 4 8.6 2.7 5.9 2-.1 1.5-6.4 1.1-10.2.6-10.8.2-9.2 0-3.1-.2 1.1.1 3.1.2 3.2.2 2.1-.5.3-1.9-1.5-3.8-3.5-6.6-4.3-6.9-4.2-6.6-3.2-5.1-1.3-2.9 1.8-.3 3.8 2 5.4 3.3 7.3 3.4 10 2.5 8 2.8 7 4 6 6.5 4.6 9.7 3.3 12.4 1.9 13.3.8 12 0 8.8-.9 6.1-1.6 1.2-2.6-.8-3.2-.5-3.5 1.5-3.6 3.5-3.4 4.8-3.3 4.9-3.7 3.5-4.5 1.2-7-1.1-5.6-4.5-5.3-7.1-5.2-8.9-5.1-9.8-5-10.1-4.4-9.8-3.9-9.2-3-8.5-2.2-7.8-1.1-7.3 0-6.9.9-7.1 2.1-6.1 2.9-5.4 3.3-4.7 3.5-3.8 3.1-2.6 2.8-1.2 2.3.3 1.8 1.7 1.5 2.7 1.7 3.3 2.5 3.4 4.3 3.3 7.3 3.5 7.1 4.4 7.9 5.8 7.8 7.4 6.4 8.2 4.3 8.1 2.1 6.7.6 4.7.3 3.4.8 3.9 1.6 7.1 1.7 12.4.8 15.3-1 18.4-3.1 19.9-4.3 19.2-4.8 16.6-4.2 12.8-3.5 8.7-2.6 4.6-1.4 1.2-.7-1.2-1.2-2.7.7-3.9.9-4.2.4-4.1-.5-3.7-1.5-3.4-2.4-2.9-3.4-2.7-3.9-2.6-4.5-2.8-4.8-3.1-5.1-3.7-5.3-4.6-5.6-5.6-5.9-7.7-5.4-7-4.5-7-3.4-7.1-1.8-7 .3-6.5 2.5-5.7 4.6-4.3 6.4-2.6 7.4-.8 7.6 1 7.7 2.3 9 2.9 7.8 3.2 7.4 2.9 8.4 2.3 10.1 1.9 11.1 2.2 11.1 3.2 9.2 4.9 5.6 7 1.2 9.1-3 11-6.8 8.9-9.4 7.3-10.9 5.5-11.3 3.4-10.5 1.6-8.7.1-5.9-1.1-4-2.2-3.9-3.2-.7-4.6-1.7-6.1-4-7.8-6.5-9.5-7.6-10.9-7.3-12.1-5.7-12.8-4-12.7-2.9-12.5-2.6-11.9-2.5-9-2.5-7.7-1.9-7.2-.8-7.5.8-8.3 2.8-9.4 4.7-9.8 6.7-9.6 8.7-8.3 11.5-6.7 9-3.9 7.4-1.7 6-.2 4.2.5 2.7 1.2 1.2 2.2 0 3.9-1 6.5-1.7 10.2-2 11-2.2 11.1-2 10.7-1.9 9.5-1.6 8-1.5 6.5-1.7 5.5-1.9 5.3-2.6 5.5-1 5.4-.6 5.6-.8 5.5-1.5 4.7-2.3 3.4-3.2 1.5-3.9-.8-4.1-4.2-2.8-4.3-1-4.2 1.2-3.6 3.7-2.6 6-.9 8 1 9.4 2.8 10.3 4.4 11.2 5.4 11.1 5.8 8.5 6.1 6.8 5.8 5.1 5.3 3.4 4.7 2.2 4.2 1.2 3.8.7 3.7.4 3.6.4 3.9.4 4.3 0 5.1-.6 6.3-1.5 5.3-2.8 5.1-4.2 5-5.5 4.8-6.5 4.6-6.9 4.4-6.8 3.9-5.9 3.5-4.7 2.8-3.6 2.2-2.4 1.2-1.4.2-.9-.9-.6-1.8-1-2.6-2.1-3-1.7-2.9-1.6-2.5-1.4-1.8-1.1-1-1-.3-.9-.2-1.4-.5-2-1.4-3.1-2.8-4-4.6-5-6.5-5.6-9.1-4.9-8.2-3.5-7.8-1.9-7.3.1-6.8 2-6.2 4-5.8 6-5.3 8.2-5.1 12.2-5 12.2-4.4 11.6-3.7 11.4-3 11.2-2.2 10.4-1.4 9.4-.4 7.7.7 5.5 2.1 2.8 4.6-.4 4.6-3.9 4.2-7.6 4.1-10.7 4.2-13.2 4-14.6 3.6-14.7 3-13.6 2.4-13.9 1.8-9.9 1.1-3.8.8-.7.9.9 1 .7.7-1.1-.6-4.5-3.3-8.6-7-12.4-12.2-12.9-12.3-8.4-11 1.5-7.8 13.9-3.5 23.4-.4 26-.2 21.7-3 15-7.6 1.2-10.3-7.8-8.7-9-2.2-4.7 7.4 1.9 16.3 7 21.4 9.5 21.4 9.2 18.1 7.9 9.8 5.8 1.9 3.2-2.6.3-4-2.3-3-4.1-1.1-5.3.3-6.2.6-7.6 0-10.5-1.2-8.7-3.1-8.3-4.6-8.2-5.4-7.9-5.8-7.3-5.9-6.6-5.9-5.4-5.9-4.2-6.2-2.8-6.6-1.6-7.2-.7-7.7 0-8.3.3-9.2.6-7.8.6-7.2.8-6.6.9-5.9 1.2-5.1 1.6-4.2 2.1-3.3 2.7-2.4 3.3-1.4 3.9-.4 4.6.7 5.7 1.6 7.4 2.5 10.2 3.3 8.9 3.8 8.5 3.9 8.1 3.8 7.2 3.2 5.8 2.1 4.1.9 2.3-.5 0-1.8-2.3-2.7-4.6-2.8-6.5-2.1-7.4-.1-6.7 1.6-5 3.9-3 6.1-1.3 8.1-.2 9.1-.1 9 0 7.7-.8 5.8-2.3 4-4 2.5-6 2.2-5 2.7-4.2 3.7-3.1 4.5-2.1 4.4-1.3 3.7-.8 2.7-.5 2.1-.2 2.4.1 2.8-.1 2.2-.8-.9-1.2-3.6-2.4-8.8-3.3-14.4-3.7-18-2.2-18.1.1-14.4 1.9-7.4 3.8.3 5.5 6.6 6.5 9.4 6.7 8.6 7.4 4.4 5.3-.4 3.4-4.9 2.5-7.4 2.3-7.4 2.8-5.3 3.7-1.6 4.4 2.6 5.2 6.3 4 9.1 3.2 10.5 2.3 10.3 1.1 9.1.1 7.3-1.1 5.9-1.8 2.9-2.5.4-3.1-1.3-3.6-2.3-4.1-2.5-4.5-2.4-4.8-1.9-5-1-5 .1-5 1-4.8 2.1-4.4 2.8-4.1 3.5-4.1 3.8-4.7 4-3 3.8-2.1 3.6-1.6 3.2-1.4 2.7-1.1 2.3-1 2.2-.9 2-.9 2.2-1 2.2-1.1 2.2-1.3 2-1.5 1.3-1.6.3-1.7-1.5-1.9-4.4-1.4-5.5-.6-6.7.5-7.7 2-8.4 3.6-8.5 5.2-7.7 6.4-6.5 7.4-4.6 8.1-2.6 9.2-.7 12.9.8 10.5 1.8 9.7 2 9.3 1.9 8.2 1.7 6 1.8 3 2.8-.3 5.1-3 9.1-3.7 9.2-3.9 9.7-4 9.1-4.8 6.8-5.5 3.1-9.2-1.3-15.1-5.2-13.7-8.2-13-9.3-11.1-9.2-7.3-7.8-2.7-6.4 1.1-5 3.3-4.5 3.5-5.1 3.5-4 2.7-4.1 2.2-4.7 2.3-5.3 3.2-5.6 4.7-5.6 6.7-5 8-3.5 8.9-1.5 10.9.7 8.7 4 6.7 7 4.8 9.4 2.5 10.9 1.2 11.1.3 10.2-.4 8.4-.8 6.5-.9 4.9-.6 4.2 0 4.9.9 6.7 1.9 9.6 3 13.6 3.6 14.5 3.7 15.1 3.4 14.5 2.8 12.6 1.6 10 .2 7-1.4 3.9-3 1-4.6-1.6-5.9-3.6-6.9-5.2-7.7-6.3-8.8-6.9-9.2-7.3-7.3-7.6-6.3-8.1-5.7-8.9-5.4-10.2-5-11.8-4.8-13.4-4.6-14.8-4.3-15.8-3.8-16.1-3.2-15.7-2.3-14.9-1.1-14-.2-10.9 1-8.4 2.1-6.2 3.2-4.2 4-2.6 4.6-1.3 4.8-.2 4.7.6 4.5 1.2 4.3 1.8 4.6 2.3 4.7 2.8 2.1 3.1 1.1 3.6.6 4.1.7 4.6 1 5.1 1.7 5.6 2.5 6.1 3.3 6.6 3.9 7.2 3.9 8.1 3.5 9.6 2.4 8.4 1 7.7-.9 7-2.7 5.9-4.3 4.7-5.2 2.9-5.6.8-5.7-1.3-5.9-3.3-8-4.7-8.3-5.3-8.1-5.2-7.9-4.3-6.8-3.4-4.8-3.1-2.6-4-1.3-6.5-1.2-10-2-13.7-2-16.5 0-14.7 3.8-11.3 8.1-6.9 11.4-2.9 12.1-1 10.9-1.4 9.2-2.1 10-.7 8.3 4 6.7 11.5 6.4 18.2 5.7 20.5 4.6 17.8 3 12.6 1.4 8.9-.2 9.7-1.9 15.2-2.4 17.3-2.6 18.6-2.4 17.1-2.5 14.3-2.9 11.8-3.8 10.5-4.7 9.9-5.5 9.3-6.6 7.2-4.8 3.9-3.6-.5-2.9-5-2.3-9.1-1.8-12.2-1.4-14.8-1.2-16.5-1.1-18-1.3-20.1-1-16.8-.7-14.1-.2-11.5.6-8.8 1.6-6.3 2.7-4.3 4.1-2.9 5.5-2.3 8.4-2.2 7.4-2.3 6.4-2.3 5.9-2.2 5.1-2 4.2-1.1 3 .2 1.8 1.8.3 3.8-.9 6.2-2.2 7.8-2.8 6.8-3.4 6-3.6 4.6-3.6 2.9-3.7 1.5-3.8.4-3.9.2-4.2.7-4.9 1.6-5 2.1-3.8 1.7-3.4.1-3.1-2.5-2.9-5.9-3.9-8.7-4.3-10.7-4.8-10.9-4.9-9.5-5-7.2-4.8-4.9-3.8-1.7-2.6-.3-1.4-.8-.1-2.6 1.5-4.9 3-6.9 4.5-7.5 5.5-6.7 5.9-5 5.8-2.9 6.2-1.3 3.3-.5 2.2-.5 1.7-.9 2-.8 2.9.2 3.8 2 4.9 4.6 5.5 6.9 5.6 8.7 5.2 10.3 4.1 9.4 2.6 8.5 1 8.7-.5 9.4-1.8 10.3-3.1 10.5-4.2 9.6-5.1 7.6-5.9 5.1-6.8 3.1-9.1 2.3-5.9 2.6-4.7 3.8-4.3 5.2-4.2 5.5-4.2 4.6-4.3 2.4-4.3-.9-3.9-4.4-3.2-7.6-2.4-10.2-1.3-12-.2-12.8.9-10.6 1.8-8.6 2.6-6.4 3-4 3.1-1.8 2.9-.1 2.6.9 1.9 1 1.4.1.8-1.3.4-3.2.2-4.9.4-6.1 1.5-6.6 3.4-6.3 2.5-5 2.9-3.4 3.8-1.6 4.9 0 5.8 1.3 6.5 2.2 6 2.7 5.4 3.1 4.4 3.2 3.3 3.4 2.4 3.5 1.8 3.7 1.5 4.4 1.6 3.4 1.3 2.1.5 1.2-1.2.4-3.8.1-6.6.2-8.9.5-10.2.7-11.3.6-8-.7-4.6-2.5-2.1-4.3-.8-5.7-.9-6.6-1.7-6.8-2.1-7-1.6-7.8.3-6.7 1.7-5.9 1.9-5.4 1-4.7.6-4.1 1.7-3.7 4.2-3.2 7.1-2.5 8-1.4 4.5-.3 1 .3-2 .9-3.5 1.8-3.4 2.7-2.2 3.2-.6 3.7.5 4 1.1 4.3 1.3 5.3 1.4 5.8 1.5 6.1 1.8 6.8 2.2 7.4 2.2 7.4 2 6.7 1.1 5.5-.2 4.4-1.8 4.1-3 4.9-4.1 6.6-4.7 7.7-2.5 7-1.7 4.6-2.2.9-3.9-2.6-5.8-4.7-7.4-5.4-8.2-4.8-8-4.3-7.3-5.6-4.2-4.4-.5-3.9 3.6-4 7.4-3.7 10-3.1 11.1-2 10.6-.9 9.6.5 10.8 1.3 8.2 2.3 6.7 3.1 6.6 3.5 6.1 3.8 4.5 4.1 1.7 4.6-1.8 4.9-4.6 5.3-5.7 5.6-4.9 6.4-2.7 6.6.1 5.1 1.9 4.8 2 4.7.4 4.8-2.5 5.1-5.4 5.2-7.3 4.9-7.6 4.3-6.8 3.1-5.2 1.4-4.1-.7-1.3-2.8.8-4.7 1.4-6.1 1.1-6.6.7-6.3.3-5.1-.1-3.7-.3-2.1-.4-1.1-.6-.7-1-1.5-1.7-3.5-2.1-3.9-2.4-5.2-2.5-6.6-1.9-7.5-.8-7.8 1.3-7.2 4.3-5.8 6.1-3.7 8.1-.9 10.4 1.8 11.9 4.5 10.3 7.1 9.3 8.8 7.9 9.9 6.7 10.2 5.2 10 3.9 9.7 2.7 9.4 1.4 9.3.4 10-.4 12.5-1.5 11.5-2.3 11-2.5 10.9-1.8 10.5-.6 9.9.8 8.7 1.7 7.3 1.5 6.1.2 4.7-1.7 3.4-3.6 2.1-5.1.8-4.3-.8-3.6-2.3-3.4-3.2-3.5-3.7-4-4-4.4-4.1-4.5-4.1-4.1-4.1-3.6-4.3-3.3-4.5-3.2-4.9-3.3-5.7-3.4-6.7-3.8-9.3-3.2-9.1-2.5-9.4-2.1-10-1.7-10.5-1.3-10.8-1.1-10.5-1-10.1-.9-9.3-.7-8.4-.2-7.5.4-6.4 1.4-5.3 3-3.7 4.7-1.4 4 1.7 4.6 5.1 5.1 8.6 5.4 11.5 5.6 13.1 5.5 13.2 4.8 12.2 3.4 10.6 1.6 9.8-.6 10.9-2.5 13.6-3.4 12.8-3.4 13.4-2.3 12.7-1.4 10.3-1.3 6.4-2.3 2-3.8-1.5-5.4-3.3-6.3-3.5-7.5-2.6-5.6-2-4.6-2.7-4.4-5.2-4.7-8.9-5.5-12.8-6.1-15.9-6.1-17.1-5.2-16.2-3.1-14.3-.3-13.1 3.4-8.5 6.5-5.9 7.8-5.1 7.1-5.5 4.6-6.2 1.1-6.9-2.2-6.9-3.2-6.1-.6-4.7 6.9-3.2 10.3-1.4 16-.1 20.2.6 21.3.7 18.9.9 13.4 1.6 6.5 3-.7 5.7-6.7 9.8-10.6 10.9-12.3 11.4-11.7 10.5-9.7 8.1-7 4.7-4.8 1.7-4.1 0-5.4.1-9.4 1.3-12.9 2.5-11.3 3-10.6 1.7-8.7-1.3-5.4-4.9-2-8.4.9-10.8 2.6-11.6 3.1-11.3 3.1-11.1 2.4-8 2-5.3 2.2-3.4 3.1-2.2 4.3-1.7 5.6-1.7 7.2-1.9 8.6-2.2 10.4-2.2 13.9-1.2 11.2-.9 9.8.4 8.5 2.5 7.3 4.6 5.8 6.8 4.3 8.4 2.8 9.4.9 9.8-1.4 10.2-3.9 7.7-6.7 4.7-9.1 2.2-10.3.5-9.5-.7-7.1-.8-3.7.1-2 1.4-5 2.9-6.8 3.5-9.7 2.5-12.8.3-13.3-2.9-11.2-5.4-7.1-6.6-2.9-6.1.2-5.3 2-5.7 2.9-8 4.8-8.8 6.6-11 7.7-12 7.4-11.3 5.3-8.8 1.9-5.5-.3-2.5-.2-.5 2.4.5 6.3.9 5.9 1.4 6.5 1.8 6.2 2.2 5.6 2.5 4.9 2.7 4.4 2.7 4 2.4 3.6 2 2.8 1.6 1.7 2 .2-.1-1.7-1-3.7-1.4-5.6-1.4-6.8-1-7.4-.2-7.2.7-6.4 1.8-5.6 2.9-6 3.8-3.7 4.4-1.7 4.7-1.1 4.5-1.2 4-1.5 3.3-2.2 2.4-2.5 1.6-2.7 1-2.4.7-1.9.6-1.1.7-.1-.1 1 1.2 2.2 1.9 3.1 2.4 3.9 2.5 4.3 2.3 4.6 1.9 4.5 1.5 4.3 1 3.7.6 3.2.3 2.4-.1 1.8-.2 1.2-.3.9-.2.8-.1 1.4 0 2.4 0 1-.4 1-.8 1.3-1.3 1.8-2.2 2.3-3.1 3-4 3.5-5 4-5.8 4.3-6.3 4.4-6.6 4.1-6.4 3.5-5.7 2.6-4.6 1.6-2.8.4-.4-.8.2-2.1 1.5-3.3 3-4.2 4.1-4.8 4.8-5.3 5.1-5.4 4.4-5.2 3.2-4.8 1.2-5.3-.9-5.3-3.2-1.5-5.8-.1-7.5.5-8.1.1-7.8-1-6.7-2.7-5.3-4.7-3.5-6.7-2.4-7.6-.2-7.5 1.7-6.2 2.4-3.8 2-.2.3 4.3-2.2 9.3-4.4 14.4-5.5 18.8-4.7 15.7-.8 11.8 2.8 6.4 5.9 1.3 7.7-1.9 8-2.1 7.7 0 7.3 2.6 7.9 3.9 9.2 2.7 9.2-.7 9.5-5 9.6-8.7 9.1-10.4 8.4-9.9 7.5-7.6 6.7-4.6 6.2-2.4 5.8-2.7 5.7-1 5.2-1.5 4.8-2.9 4.2-3.8 3.3-4.3 1.9-4.1 0-3.9-2.3-4.2-5.3-5.4-8.6-7.6-13.3-8.7-14.6-8.1-15.4-5-15.6 2-14.8 9.5-12 13.9-7.1 15.8-.8 14.6 5.8 11.8 10.9 9.5 13.3 3.4 12.1 1.7 7.6 2.4 1.9 4.1-2.6 5.6-3.5 5.6-.8 3.5 4.4.3 9.7-3.2 13.8-5.2 11.3-5.6 6-5.1.8-4.3-2.4-4.1-2.8-4.8-.3-6.2 3.4-8 5.9-9.7 6.3-11.9 3.6-12.3-.8-9.9-5-8.3-8.6-6.8-10.3-5.7-10.7-4.7-10.1-3.5-9.5-2.5-9-1.4-8.7-.2-8.3 1.1-7.5 2.4-7 3.5-5.1 4.1-3.2 4.3-2 3.7-1.4 2.5-1.3 1.2-1.2.1-1.1-.5-.6-.2-.2 1 .4 3 .6 5.5.3 9.2-.6 11.6-1.4 10.5-1.1 10.6-1.1 10.6-.8 10.4 0 9.7 1.5 8.6 3.7 7.1 6.4 4.9 9.7 2.6 13.1 0 17.8-2.7 18.1-4.8 18-6.3 17.4-7.1 15.8-7.4 13.5-7.4 10.2-7.3 6.6-8.5 2.6-8.4-1.3-5.6-4.9-5-8.1-4.9-10.6-5.2-12.6-5.3-13.8-5.5-14.6-5.2-16.7-4.1-14.1-2.4-11.9-.2-10.6 2.3-9.8 4.7-9.2 7.1-8.6 9.2-7.9 11.8-6.9 13.4-5.5 9.6-3.7 8.1-1.7 6.7.2 4.4 2 2.7 3.1 1.3 3.7-.1 3.8-1 3.6-1.9 3.8-2.5 2-2.8.4-3.2-.7-3.7-1.3-4.1-1.5-4.5-1.3-4.9-1-5.2-.4-5.2.1-6.1.6-4.5.4-3.6-.1-2.9-1.3-2.4-3.2-3.1-5.3-3-7.4-2.4-8.7-1-8.6 1-7.2 3.7-2.1 5.5 2.8 6.3 6.7 6.2 7.8 5.6 5.6 5.4 1.1 5.6-3.2 7.7-4.7 7.3-2.8 6.7 1.4 7.1 6 7.7 9.3 8.3 10.9 8.8 11.5 8.7 12.4 7.6 13.8 5.6 16.4 2.3 15.3-2.1 14-7 12.3-11.8 10.7-15 9.5-15.6 8.5-13.3 7.4-8.5 6-3.1 4 .3 1.9 5.8-.8 5.3-2.8.6-4.1-6.2-5-12.3-5.6-15.9-6.6-16.1-7.6-13.6-9-9.9-10.6-6.3-12.9-2.8-11.3.1-10.6 2.9-10 5.5-9.2 7.8-8.4 9.1-7.2 9.1-5.7 8.3-4.2 7.3-2.5 7.3-.8 9.7.7 7.3 2.4 7.5 3.8 8.2 4.9 8.8 5.8 8.6 6.6 7.9 7.3 6.4 7.9 4.7 8.5 2.8 8.9.9 9.5-.5 9.9-1.8 10.4-2.8 10.9-3.3 11.8-3.7 12.7-3.8 11.1-3.7 10.6-3.5 9.7-3.2 8.4-2.8 6.5-2.5 3.9-2.1 1-1.8-2.1-1.6-4.8-1.7-6.5-1.7-7-2-6.5-2.5-5.4-2.9-4.2-3.7-3.7-4.7-4.2-6.6-5.4-5.5-6.8-5.3-7.6-5-7.5-4.4-6.6-3.4-5.7-2.3-5.3-1.7-5.8-1.7-7-2.7-8.6-4.2-9.6-6.2-10.1-7.3-8.2-6.7-5.4-4.3-2.8-.2-.6 4.4 1.1 8.1 1.9 10.5 2.4 11.4 2.3 11.4 2.1 11.2 1.8 13.3 1.6 10.9 2 9.4 2.4 8.3 2.9 7.4 3.7 6.1 4.1 4.5 4.6 2.9 4.8 1.4 4.7.1 4.3-.8 3.8-1.4 3.1-1.9 2.4-2 1.8-2.2 1.4-2.2 1-2.1-.7-2.2-1.9-2.2-2.7-2.3-3.6-2.4-4.4-2.6-5.1-2.8-5.8-3-6.4-3.2-6.9-3.4-7.3-3.6-7.6-3.6-7.8-3.7-7.9-3.7-7.7-3.6-7.3-3.6-6.8-3.4-5.8-3.3-4.7-3.2-3.4-3.3-1.9-2.1-.9-1.3-.2-1.3-.1-1-.7-.9-1.8-1-3.2-1.4-4.3-2.3-4.6-2.2-4.4-1.9-3.1-1.3-1.4-.6-.1 0 .9.8 1.7 1.3 1.4 1.6.5 2-.6 2.7-1.2 3.6-1.2 5.3-.4 7.5.8 10.1 2.2 8.9 4.2 8.2 6.1 6.5 7.8 4.4 9.3 2.4 10.6 1.3 11.4 1 12.3 1.3 14.1 1.7 12.8 1.3 12.2.2 11.7-1.5 11.4-3.5 10.6-5.2 9.6-6.3 7.9-6.9 5.6-8.1 2.8-6.2-.6-4.7-3.6-3.4-5.6-2-6.4-1-5.6-.6-4.6-1-4.9-2.6-7.5-4.9-12.6-7.4-17.6-8.6-17.2-8.4-14.1-6.3-8.3-2.9-2.3 1.2.7 5.3-.3 9.5-4.5 13.4-8.6 18.8-10.6 18.8-8.7 17-4.4 14.3 0 10.1 3 4.9 4-.5 3.6-5.1 2.3-8.3 1.3-9.4 1.2-8.5 2.5-6.5 2.3-3.3 3.5 0 4.8 2.5 5.8 3.7 5.8 3.5 5 2.1 3.1-.5.8-3.7-1.7-7.7-3.4-7.3-5-7.6-5.6-7.7-5.2-7.2-4.4-6.3-3.3-5.1-2.5-3.8-1.9-2.7-1.7-1.9-1.7-1.3-2.2-.7-2.4.2-1.7.9-1.5 1.8-1.3 2.4-1.2 3.2-1 3.9-1 4.4-.9 4.9-.9 5.4-.8 6-.6 6.3-.2 4.5.1 3.5.6 2.5 1.1 1.5 1.6.8 2.2.1 2.7-.2 3.3-.4 4.1-.5 4.9-.4 6.2-.3 7.2-.2 7-.4 7.1-.7 6.9-1.3 6.5-1.7 5.7-2.1 4.9-2.3 4.1-2.5 3.7-2.9 3.2-4.7 3.2-3.7 2.7-4 2.2-5 1.3-6 .3-6.7-1-6.7-2.4-6.1-3.4-4.7-4.1-2.9-4.4-1.3-5 .9-3.2 2.5-2.3 3.6-2.7 4.1-4 4.5-5.6 4.9-6.8 5.9-6.8 7.3-5.6 9.7-3.8 13.7-2.9 11.9-1.6 10.7-2.2 9-4 7-5.6 4.8-5.9 3.1-4.5 1.8-1.1 1.4 3 2.1 7.2 3.8 11.3 5.2 12.2 5.9 11.6 4.7 11 1 10.7-4.4 10.5-9.6 10.4-12.4 9.7-11.2 8.2-7.2 6.4-3.2 4.6-3.8 4.2-3.7 3.3-8.3 3.4-13.9 3.2-17.4 2.5-17.1.7-12.9-1.6-6.7-4.3-.6-6.5 3.9-8.3 6.5-9.6 6.8-11.6 6.3-9.9 5-8.4 3.5-7.3 2.2-6.2 1.4-5.2 1.4-4.4 2.2-3.5 3.7-2.5 6-1 9.6 1.4 8.6 4.5 8.1 8.2 7.1 12.3 5.5 15.8 3.7 18.2 2.1 18.8 1 17.6.4 15.1-.1 13.4 0 8.1.1 4-.4 1.9-1.3 1.2-2.6 1.3-4 1.9-4.9 2.1-5.6 1.7-5.9.3-6.7-2-5.7-4.7-4.4-7.2-4-9.3-3.9-10.4-4.2-10.3-4.6-9.4-5-8.4-5.4-7.4-5.6-6.7-5.4-6.7-5-7-4.4-7.6-3.3-8.1-2.2-8.6-1-8.8.2-8.9 1.1-9.5 1.8-8.5 2.3-7.8 2.3-7.2 2.1-6.6 1.8-6.2 1.7-5.7 1.8-5.2 2.2-4.7 2.7-4.2 3.5-3.6 4-3 4.6-2.4 4.9-1.8 6.7-1 5.6-.4 3.9.3 3.8 1.2 4.5 2.6 5.3 4.4 5.8 6.8 5.6 9.4 4.7 11.9 2.9 14.2.8 16-.8 14.2-2.5 12.6-4.1 11.5-5.7 11-6.9 11.4-7.6 11.8-7.9 11.8-7.9 10.5-8.3 8.1-7.5 4.9-4.6 2-2.8-.6-1.6-2.8-.5-4.9-.1-7.2.1-9.8 0-12.6-.6-14.5-1.1-15.4-1.8-14.6-2-13.3-1.9-9-1.4-4.8-.7-2.5-.2-1.7-.2-2.7-.4-4.9-.5-7.3.3-9.3 2.3-10.4 5.5-10 9.8-8.8 14.2-6.8 12.9-3.8 10.8-1.3 6.9.3 2.2 1.2-1.2 1.9-3.1 2.3-3.3 2.6-2.1 2.9-.6 3.4.7 4 1.7 3.7 1.8 4.2 1.2 5.3-.2 6.5-2 8-4 9.2-6 9.9-8.7 10.2-8 9.1-7.1 7.4-6 4.8-4.2 1.9-3.8-.9-2.4-3.5-1.1-5.8-.7-7.8-1.2-9.2-1.7-7.6-2.8-6.8-2.7-6-.6-5.3 4-5.1 9.5-4.8 13.8-4.7 15.8-4.2 15.2-3.5 6.2-1.1-1 1.4-5.9 3.6-7.4 5-5.5 5.4-1.2 4.8 3.2 3.8 5.8 3.1 6.3 2.9 5.2 3.7 3.4 5.5 1.4 5 .4 5.1.5 5 1.4 4.7 2.5 4.4 3.3 3.9 3.2 3.8 2.3 3.7.3 3.9-2.5 4.4-5.8 4.8-9.4 5.3-12.4 5.7-11.6 4.6-10.8 3.7-8.8 2.5-6.5 1.3-4.5-.2-3-1.9-2.7-3.8-2.9-6-3.2-8.4-3.3-12.1-1.9-12.9.1-12.9 2.4-12.6 4.6-11.9 6-10.8 7.1-9.2 8.2-7.3 9.7-5.3 12.5-3 14.8-.7 13.2 1.2 12.4 2.4 10.5 2.8 7.8 2.5 4.7 2.1 2 2.1.1 2.5-1.2 4.1-2 4.4-3 3.8-4.1 3.6-5.5 3.1-6.9 2.3-8.2 1.7-8.9 1.5-9.3 1.5-9.7 1.9-10.2 2.6-6.9 3.2-5.1 3.4-3.5 3.6-2.4 3.2-1.5 2.7-1 1.6-.9.5-1.2-.7-1.9-2-2.9-3.4-3.7-2.8-4.3-1.9-4.6-.6-4.4 1-3.5 2.9-1.8 4.5.6 5.5 3.7 5.6 6.9 4.2 10.1 1.7 12.7-1.8 15.6-5.5 14.1-6.8 11.4-6.3 8.5-4 5.5-.4 2.6 3.1.4 5.3-.5 5.8-.2 4.6 1.3 2.7 3.4 1.3 5.7 1.2 7.1 3.1 7.7 6.5 6.6 9.5 4 10.7 1.1 11.5-1.4 11-3.4 9.5-4.1 7.3-4.2 5.1-3.8 3.1-3.5 1.5-3.8.4-4.7-.2-6.7-.3-8.7-.5-8.2-1.2-8.4-1.9-8.1-2.5-7.2-3.4-5.7-4.3-4-5.3-2.4-6.4-1.1-7.3-.2-8.2-.2-10 .6-8.4 1.3-6.9 1.8-4.8 2.7-2 3.5 1.2 4.7 4.8 5.3 7.2 5.6 8 5.4 6.4 4.9 2.8 5.6-1.1 4-3.3 3.3-3.2 3.1-.6 2.9 2.8 2.6 5.2 2 5.4 1.5 3.7 1 1 .6-1.1.4-1.4.4 0 .2 2.4.1 5-.1 6.6-.2 7.5-.5 7.5-.7 5.3-1 3.8-1.1 2.6-1.5 1.9-2 1.5-2.4 1.3-3.1 1.1-3.7.8-4.1.5-4.1 0-3.6-.7-2.8-1.4-1.9-2.5-1.5-3.3-1.5-4.4-2.7-5.4-4.8-6.4-5.6-7.3-6.7-8.2-7.3-8.7-7.2-9.3-7.2-9.5-6.1-9.6-4.7-9.3-3.2-9.1-1.9-8.6-.7-8.1.3-7.7 1.2-7.6 2.1-4.7 2.8-2.8 3.6-1.1 4.2.3 4.9 1.5 5.7 2.2 6.4 2.2 7.3 1.9 8.4 1.1 10.6.7 9.9.1 8.2.3 6.8 2 5.3 5.1 3.4 9.3 1.8 13.7.7 17 .6 18.1 1.4 16.8 3.2 13.7 4.7 10.6 6.6 4 6.8-.4 5.1-3.2 1.5-4-3.5-3.1-8.9-.8-13.2 2.1-14.8 4.7-13.3 5.3-9.9 3.4-6.9-.7-.3-5.1 3.7-9.1 4.8-11.7 3.4-12.3.8-11.3-2.5-9.6-5.6-7.8-7.5-6.4-8-5.5-7.3-5.1-5.8-5.4-4.3-6.5-2.6-6.1-1.4-5.7-.6-5.6-.4-5.4.1-5.2.7-4.7 1.6-4.4 2.8-4 3.9-3.5 4.5-2.9 4.8-2.2 4.5-1.2 4-.2 3.6.9 4.6 1.4 3 2.4 2.2 3 2.1 2.7 2 2.3 2.2 1.7 2.3 1.4 2.6 1.9 2.9 3.4 3.4 6 4 9.5 4.4 13 4.7 15.7 4.6 16.8 4 16.2 3.4 14.8 2.1 11.1.8 7.3 0 5.2-.6 4.6-.6 5.8-.6 7.6-.5 9.4-.7 10.3-1.3 9.8-2.3 8.1-3.9 5.1-6.7 2.3-7.8-1.2-7.9-4.2-8.4-6-8.4-7-8.4-7.7-8.2-8.1-7.8-8.9-7.5-9.9-6.9-11-6.6-13.1-4.4-11.9-2.1-10.4.2-8.8 2.7-6.6 5-4.1 7.6-1.7 10.3.2 14.1 1.1 19.1.7 17.4.2 16.9-.5 14.4 0 9.4 2.6 2.5 7.2-4.2 13.1-8.9 19-10.8 24.4-9.6 23.1-7.3 19.5-4.8 13.5-4.3 6.1-3.8-1.2-2.9-6.7-2.4-10-2.8-10.7-1.4-9.3-.1-6.8.4-4.4.3-2.7-.3-2.3-1.5-2.9-3-4.5-4.6-6.8-6.3-10.2-7-8.9-6.9-8.2-5.5-7.4-3.4-6.5-.4-5.8 2.6-5.2 5.2-4.7 7.2-4.5 8.7-4.6 9.5-4.8 6.3-4.3 4-3.8 1.8-3-.1-1.8-1.3.2-1.6 2.7-1.1 6.2 0 10.2 1.5 14.4 3.2 18.7 4.4 22.1 4.2 20.8 3.6 19.3 2.5 16.6 1 12.9-.3 9.1-1.6 5.5-2.7 2.7-3.4.6-3.9-.7-4.1-1.6-4.3-2.1-5-2.4-3.8-2.7-2.9-2.6-2.2-2.4-1.6-2.1-1-1.9-.8-2.5-.8-3.8-1.1-6-1.8-9-2.5-12.2-3.2-15.4-3.9-17.8-4.4-20.3-3.9-18.6-3-16.6-1.9-14.3-.6-12.1.4-10.2 1.1-8.7 1.7-7.8 2.1-7.5 2.5-7.3 3.5-7.3 5-7 7.7-6.6 6.9-5.1 6.6-3.4 6-1.8 5.2-.5 4.7.5 4.5.8 4.7 1.1 4.5 1.1 3.5 1.6 1.7 2.4-.5 4.2-2.7 4.5-3.5 5-3 5-1.6 4.4-.4 3.1-.3 1.7-1.6.4-4-.3-6.6-.3-9.1.5-10.2 1.7-7.9 2.9-6 3.8-3.7 4-1.7 3.5-.3 2.2.5.4.5-1.5.2-3.3-.5-5-1.2-6.5-2-7.5-2.5-6.4-2.7-5.7-2.9-4.6-2.6-3.5-2-2.4-1.1-1.4.4-.7 2-.3 4 0 6-.1 8.2-.2 10.8-.3 10.1 0 9.5.5 8 1.4 5 2.7 1.6 4.2-1.7 5.9-3.9 7.2-4.7 8.1-4.1 8.5-2.3 8.5-.3 8.3 1.4 8.6 2.3 8.4 2.3 7.2 1.6 6.8.7 6.8-.3 6.6-1.1 6.3-1.5 5.6-1.7 4.6-1.9 3.4-2.3 1.9-2.9.8-4.2.1-5.8-.3-5.3-.2-5.3.2-4.9.7-4.2 1.1-3.1 1.1-1.8.8-1-.1-.6-1.5-.9-3.5-1.6-5.8-2.2-9.3-2.2-8.8-1.2-8.5.8-7.8 3.4-6.1 5.9-3.6 7.8-.6 8.8 2 8.8 3.5 8.5 3.5 9.6 2 6.4-.5 3.8-2.2 2.2-1.9 1.2.2.7 2.8 1.2 4.3 2.4 4.3 4.2 4.5 5.9 7.6 6.3 11 5.1 13.1 1.5 13.2-3 9.3-7.7 2.7-11.8-3.4-14.8-6.1-16.1-5.1-16.7-1.8-10.3.8-4.9 2-1.5 1.1 0-1.3-.3-4.2-1.3-7.1-2.8-9.4-3.9-11.3-4.7-12.7-4.9-13.7-3.7-11.6-2.6-10.1-1-8.7.4-7.2 1.6-5.8 2.7-4.5 3.5-3.4 4-2.4 4.3-1.6 4.6-.9 4.6-.5 4.9 0 5.1.3 5.3.6 6.7 1.2 5.8 2.2 5 3.6 4.5 5.6 3.8 7.8 3.1 9.7 2.7 10.3 2.3 9.2 2.5 6.5 3 3.5 3.9 2.1 4.4 3.9 4.4 8.5 3.6 13.6 2.6 16.7 1.3 16.4-.3 15.3-1.6 10.9-4.1 8.7-7 7.8-9.7 6.2-11 2.8-11.2-1.8-10.3-5.8-8.8-8.3-7.3-9-6.5-8.8-2.1-8.2.1-8.1.7-8.7.4-9.5-.5-10.5-1.6-11.4-2.4-12-2.6-12.6-2.4-13.6-.8-11.4 1-10.1 2.9-9.1 4.5-8.3 5.8-7.4 6.5-6.6 6.7-5.7 6.6-4.7 6.2-3.5 6.6-2.4 4.2-.7 2.5 1 1.2 2.7.2 4.6-.4 6.4-.8 8.1-.9 9.3-.7 10-.3 10.3 0 10.8.5 11.3.4 10.5.3 10.9.1 12.1-.5 13.2-1.2 13.6-2.2 12.5-3.4 10-4.8 6.3-7.3 2.8-6.4-.6-5.8-2.4-5.3-2.8-4.9-2.8-4.9-3.2-5.4-5-6.1-8.1-6.4-11.9-6.1-15.6-3-15.3 1.1-14.2 5.4-11.7 8.8-9 10.3-6.6 10.1-5.3 8.5-5.1 6.5-5.8 5.1-6.8 4.1-7.6.6-7.5-.8-6.8-1.4-5.6-.8-4 .6-2.1 2.5-.5 4.4.9 5.4 1.8 5.1 2.5 3.5 2.8 1 3.4-1.7 3-3.9 3.6-5.1 4.7-5 6.2-4 7.6-2.7 8.3-1.6 8.2-1.3 7.6-1.6 6.7-2.7 6.2-4.7 5.9-4.6 5.9-4.5 5.7-3.9 4.6-3.1 2.8-1.7.6-.9-1.7-.4-3.5.1-4.6.2-5.1-.2-6.7-.6-5.1-.6-4.6-.2-4.6 1.2-4.8 3.2-4.7 5.5-4 7.7-2.2 9.8.2 10.2 3.3 7.8 6.7 7 9.7 5.9 12.3 4.8 14.2 3.4 15.5 2.1 16.1.4 17.1-.7 15.1-1.4 12-2.2 9.1-2.9 6.5-3.4 4.1-4.3 1.9-5 .2-5.4-1.3-5.6-2.3-6.7-3-4.1-3.6-2.2-3.9-1.1-4-.2-3.9 0-3.8-.1-3.7-.7-3.6-1.5-3.4-2.3-3.4-2.9-3.3-3.4-3.2-3.6-3.2-3.6-3-3.3-2.8-2.8-2.7-2.4-2.5-2-2.3-1.5-2.4-1.3-2.8-1.1-4.2-1-4.2-.8-5.2-.7-6.5-.1-8.1.9-9.5 2.6-10.1 4.9-9.8 7.8-8.4 9.8-5.8 10.5-2.8 10.4.1 11.8 1.8 5.8 3 1.7 2.9-.1 1.8-.2.4.8-.4 2.3-.5 3.3.5 3.4 2.9 2.5 4.3 1 4.7-.9 5.4-2.9 5.6-4.6 5.2-5.8 4.1-6.6 2.6-7.9 1.2-8.6-.3-6.4-1.6-5.2-2.4-3.9-2.9-2.7-3-1.6-3-.8-2.9-.4-3.1-.3-3.5-.6-4.7-.7-3.9-.9-2.8-.8-1.6-.6-.3-.2 1.1.4 2.1 1 2.5 1.9 2.5 2.7 2.4 3.7 2.8 5 3.4 6.6 4.2 8.8 4.9 7.7 5.5 7.3 5.2 6.7 4.5 6.1 3.5 5 2.7 3.8 2.1 2.4 1.9.9 2.3-.3 2.9-1.4 3.4-1.9 3.8-2.1 3.6-2 2.8-1.7 1.4-1.3-.4-.9-2.5-.4-4.1-.2-5.4 0-6.8 0-6.8-.3-5.9-.7-4.2-1.2-2.2-1.8-.3-2.4 1.3-2.9 2.3-3.1 2.5-3.2 2.4-3.2 1.6-3 .6-2.4-.5-2.2-1.5-2.1-2.3-1.8-3.1-1.5-3.6-1.3-4-1.1-4.4-1-4.7-1.6-5-1-5.2-.3-5.3-.2-5.4-.3-5.4-1-5.1-1.9-4.9-2.9-4.6-4.1-4.2-5.1-3.9-5.4-3.8-4.9-3.7-3.6-4.2-.5-3.5 3.1-2.6 6.3-1.9 7.9-1 7.5 0 5.6.7 2.7 1.4.5 1.7-.4 1.6.9 1.1 4.5.2 5.6-.4 7.7-.7 8.9-.6 8.8.3 7.3 1.6 5 3.6 2.6 5.7.3 7.6-1.5 8.8-2.6 9.3-3.3 8.6-3.3 7-3.2 4.8-2.8.6-2.3-2.3-1.6-3.8-1.2-3.9-.9-2.5-.8-.7-1.3.8-2 1.2-3.1.1-4.2-2-5.5-4.1-8.2-5.2-7.5-4.8-7.3-3-7.2-1.2-6.7-.2-6.2-.9-5.8-3-5.9-5.7-5.7-7.3-5-7.4-3.3-6 .4-1 4.4 2.9 8.3 5.2 11.3 5.6 13.6 4.3 14.9 2.4 14.8.9 13.8.7 12.3 2.4 6 5 2.1 8.5-.3 12.1-1.2 15-.7 16.9.5 17.6 1.3 17.6 1.5 17 .9 17.1-.2 16.3-.9 13-1.8 10.7-2.4 8.3-2.2 5.6-1.9 2.3-2-1.2-2.2-5-2.7-8.6-3.4-11.8-4.9-14.3-4.8-15.8-4.4-16.5-4.1-16.1-3.7-15.1-3.1-13.4-2.6-11.6-2.1-9.9-2.1-8.4-2.3-7.4-2.5-6.9-2.9-6.7-3.4-7.3-3-6.1-2.5-5.2-1.9-4.1-1.1-2.5.1-.6 1.4 1.7 2.8 3.8 4.2 5.5 5.3 6.3 6.7 5.9 8.5 4.5 6.9 3 6.7 2.1 6.4 3 6.3 6.1 5.9 11.4 4.4 17.7 2.8 23.8.8 27.9-.9 29.9-1.8 27.5-1.7 19.8-1.1 12.2-.5 4.9.1-.8.2-4.5-.5-6.3-2.1-6.7-4.8-6.3-7.8-5.5-7.3-5.2-6.6-5.1-5.2-5.8-3.4-7.1-1.5-8.9-.6-11-.7-13.1-1.6-15.2-3.3-18-4.3-18.2-4.6-17.7-4.3-17.3-3.3-16.7-1.8-15.5 0-13.4 2.1-10.7 4.2-7.2 6.6-3.5 9-.4 12.4 1.6 10.1 3.5 8.7 3.6 7.2 2.6 5.7.7 4.5-.7 3.6-.9 2.8.3 2.1 3.1.9 6.9-.6 11.7-2.4 13.6-4 13.8-5.2 13.2-5.7 11.6-5.9 9.5-5.6 7.6-5 6-4.7 4.9-5 3.7-7.3 2.5-7 1.2-8.4-.4-10.6-2.1-12-3.5-11.2-4.5-8.3-4.5-3.8-4.1.9-3.7 4.9-4.7 8.2-3.8 10.8-3.1 12.5-3.4 11.9-4.4 7.8-5.9 1.5-7.4-3.8-7.9-3.8-6 3-1.5 14.3 4.8 18.1 9.1 19.8 12 16.5 11.7 10.4 8.8 4.4 4.4.5 1-1.3.2-2 1.9-2.6 5.2-3.5 5.1-5 3.2-6.5.6-7.9-1.2-8.7-1.7-8.6-1.3-7.9-1.3-6.7-1.9-5.7-3.1-6.3-3.6-4.2-3.3-2.6-2.6-1.7-1.9-1.2-1.7-1-2.3-1.3-3.2-2.1-4-3.2-4.8-4.5-5.3-5.6-5.7-5.6-5.8-3.6-4.1-.8-2.9 2.7-2 5.3-1.4 6.7-1.5 6.5-2 5.8-2.9 5.5-4 6.7-4.7 9.2-4.5 7-2.9 6.3-.5 5.2 2.3 3 5.1 1.4 6.9.7 7.8 1 7.9 1.4 7.8 1.2 8.9 0 6.7-2.1 5.3-4.8 3.9-7.3 2.5-8.8 1-8.8-.5-7.8-1.6-6.9-2.6-8.6-3.2-7.2-4.1-7.2-5.1-7.7-6-7.2-6.8-5.3-6.9-2.4-6.5.2-5.8 1.7-5 1.5-4.8.2-3.9-.9-2.5-1.2-2.2-.1-1.8 2.4-1.5 5.4-1.1 8.4-.4 10.6.3 11.5 1.2 11.2 2.1 11.5 2.8 7.5 3.5 4.9 3.8 3.3 4.1 2.9 4.1 3.3 4 4 3.9 4.7 3.8 5.1 3.7 4.7 3.6 3.5 3.4 1.8 3.4-.2 3.3-2 3.4-3.4 3.9-3.5 2.7-3.2 1.8-2.4.7-1.3-.6-.3-1.7.2-2.9.3-3.4-.3-3.5-1.4-2.9-2.6-1.9-4-.7-5.2.5-6.5 1.3-8.8 1.4-7.7.6-7.5-.9-7.6-2.6-7.9-4.3-7.9-5.8-7.9-6.8-7.6-7.4-6.9-7.5-5.8-7.4-4.4-7-2.7-6.9-.8-6.5 1.5-4.9 3.6-3.8 5.7-2.9 7.2-1.9 8.6-1 9.3-.2 9.6.5 9.4 1.2 9 1.8 8.8 2.3 9 2.9 5.6 3.5 3.9 4.2 2.8 5 2.3 5.9 2.1 7 2.1 8 1.6 9.4.9 10.6-.1 12-1 13.4-1.5 15.5-1.1 14.7-.6 14.3-.5 13.8-1 13.2-1.8 12.4-2.7 11.5-3.1 10.5-3.3 8.8-3.2 6.9-3.2 4.3-4.2 1.6-4-1.1-3.4-2.9-3.1-3.3-2.6-2.2-1.6.1-.6 2.6-.1 3.8.1 2.7-.7-1-2.2-6.9-4-13.6-6-19.7-7.5-23.8-7.5-22.8-7-20.3-5.7-16.5-4.1-12.2-2.3-8.5-.6-5.8.9-4.3 2.1-3.8 3.3-3.9 4.5-4.5 5.6-5 6.8-5.4 8.2-5.6 9.6-5.6 11.2-5.3 9.1-4.4 7.7-3.4 6-2.2 3.9-1.1 1.8 0 0 1-1.3 2-1.9 3-1.8 3.8-.9 4.6.1 5.3 1.2 5.8 1.6 6.5 1.4 7.3.6 8.4-.8 8-2.1 8-3.2 7.9-3.5 7.7-3.2 7.2-2.4 6.4-1.6 5.5-1.2 4.3-1.7 3.3-3 2.3-4.9 1.8-8.2 1.6-7 1.6-5.9 2-4.2 2.5-2.1 2.7-.4 2.6.6 1.6.1-.1-1.6-2.3-3.8-4.7-5.9-6.9-6.9-8.6-6.1-6.7-3.4-4.5.8-1.8 5.5.9 9.8 2.8 12.5 3.4 13.1 3 11.8 1.6 9.5.1 8.6-1.3 3.3-1 .3.3-.8 2.2-.6 4.5.5 6.9 1.8 8.8 2.7 9.9 3 10.5 2.4 10.2 1.5 9.7.5 9.6-1.1 5.8-2.1 3.2-2.8 1.1-2.9-.7-2.9-1.9-2.8-2.7-3-2.9-3.6-2.7-4.7-2.4-6.9-1.8-6.8-2-6.2-2.5-5.6-3.2-5-4.3-4.4-5.8-4.1-7.7-4-9.9-4-12.4-3.5-15.1-2.1-17.1.6-16.2 3.9-15.2 7.3-13.4 10-10.5 11.3-7.2 11.3-3.5 10.6 0 10.9 3.1 6.8 4.5 4.3 5.1 2.9 4.6 1.9 3.4 1.2 1.9.5.5-.4-.1-1.7.8-3.1 3.7-4.1 5.2-5.1 8.1-5.9 11-6.1 13.1-5.8 13.8-4.7 12.9-4 10.3-3.6 7.1-3.4 3.6-3.4 1.2-4.4.2-2.1.7-.9 2.4-.2 4.2.2 5.2-.2 4.4-1.4 1.7-3.1-2.2-6.2-6-8.8-8.6-10.1-9.4-9.9-8.7-8.2-7-5.6-6-1.6-3 1.7-2 4-2.2 5.3-2.7 5.8-3.3 5.6-3.5 5.4-3 5.2-2.4 5.6-1.8 6.6-1.2 8.3-1.1 12-1.2 11.1-.1 11 1.2 10.8 2.5 10.3 4.1 9 5.5 7.5 7 5.6 7.9 3.6 8.5 1.7 8.6.2 8.3-1 8.1-1.6 8.6-2.1 6.6-2.3 5.2-2.3 4.5-2.4 4.1-2.5 3.8-2.7 3.8-3.2 3.8-3.6 3.9-4.2 3.8-4.7 3.5-5.3 2.9-6.5 1.7-7.1.1-5.6-1.5-5.1-3.2-4.8-4.4-4.5-5-4.3-5.2-4.1-5.3-4-5.9-3.8-7.1-3.6-8.8-3.5-10.3-3.4-11.5-3.2-12-2.6-9.2-1.8-7.1-.7-5.4.8-4.5 2.2-4.2 3.5-4.5 4.5-4.9 5.2-5 5.4-5 5.7-4.5 7.1-3.9 7-3 6-2.1 6-1.4 6.2-1 5.9-.8 4.9-1 3.2-1.2 1.2-1.7-.6-1.9-2.1-2.1-2.7-1.9-2.7-.6-1.9-.6-1.1.3-.5 1.6-.4 3.2-.7 4.6-1.2 5.3-1.9 5.5-1.4 4.7-2 3.3-2.7 1.5-3.2-.4-3.5-2.1-4.3-3.4-3.4-4.1-2.4-4.1-1.8-3.8-1.4-3-1.2-2.3-1.2-1.5-1.7-.8-2.2-.1-3 .5-3.8 1.2-4.3 1.9-4.7 2.6-4.5 3.1-3.8 3.6-2.6 3.4-1.2 2.8.3 1.2 1.6.7 2.8-.2 3.5-1.2 3.8-2.4 3.7-3.1 3.4-3.6 2.8-3.5 2.4-3 2.3-2 2.3-.5 2.6 1 3.5 2.6 5.1 4.2 7 5.5 6 7 6.2 8.2 6.2 9.3 5.8 10.2 5.1 11 4 11.6 3.2 11.8 2.4 11.7 2.1 11.5 2.4 11.6 1.7 7.4 1.3 4.5.5 2.3-.8.8-2.3-.1-3.9-.4-5.3-.1-6.5.3-8.8 1.1-7.6.4-6.5-.7-6.1-1.9-5.7-3.4-5-4.7-4.1-5.9-3.2-6.4-2.7-6.2-3.3-5.9-4.5-4.6-5.4-2.5-5.8-2.7-4.7-4.5-1.2-7.4 4.1-9.8 9.9-10.6 14.1-9.1 16.6-5.8 12.9-.7 6.7 3.9 1.7 6.9-.7 8.3-.1 8.9 2.1 9.3 4.6 10.2 5.8 11.9 5.3 15.1 3.4 13.6 1.2 12.3-.7 11.2-1.9 9.7-2.6 8.2-2.9 6.6-3.3 4.8-3.7 3-5.2 1.1-5.9-.9-4.9-2.9-4.7-4.7-4.5-6.3-4.1-7.6-3.5-8.7-2.6-9.5-1.7-10.1-.9-10.2-.1-10.3.5-10.3 1-10.8 1.5-8.7 2-7 2.3-5.7 2.6-4.5 2.7-3.6 2.8-3 2.8-2.9 2.6-3 2.5-3.4 2.4-3.9 2.3-4.4 2.4-4.7 2.8-4.7 4.3-4.4 4-3.8 3.4-3.1 3.4-2.2 3.6-1.2 3.7-.2 3.6 1 3.3 1.9 2.5 2.8 1.6 3.3.5 3.3-.8 3-1.9 2.3-2.9 2.4-3.5.4-3.9-.5-4.3-.9-4.3-.8-4.5-.7-4.4-.6-4.4-.9-4.8-1.5-6.1-2.6-7.8-3.7-6.2-5.1-6.6-6.2-6.8-6.8-6.4-6.7-5-6.3-3-5.5-.7-4.8.4-4.5 1.1-1.9.2-.3-1 1-1.2 1.5.4 1.6 3.9 1.2 8.3 1.1 13.6 1.1 12.1 2.9 9.7 4.9 6.5 7.4 3.4 9.6 1.1 11.4-.1 12.8-.3 13.9-.1 14.9.2 17.4.2 16 0 14.7-.5 14-.9 13.3-1.4 12.3-1.6 11.2-1.9 9.7-2.1 8-2.3 6.2-2.8 4.4-4.3 3-3.7 1.3-3.3-.1-3.4-1.8-3.6-3.5-3.7-5.8-3.8-8.6-3.9-11.6-3.6-14.6-3.2-16.9-2.4-18.2-1.3-19.1.1-15.5 1.4-10.7 2.5-6.7 3.4-3.9 4-2.9 4.1-3.8 4-5.3 4-5.9 4.3-4.5 5.5-1.7 8 .6 5.7.8 5.4-1.5 5.5-4.3 5.5-4.8 5.2-1.6 4.1 3.8 2.4 8.8.2 10.7-1.6 9.4-3 7.2-3.6 3.7-3.9 1.5-3.9 1.6-3.7 2.9-3.4 4-3.3 4.8-3.3 4.9" fill="none" stroke="#ff0000" stroke-width="0.7" stroke-opacity="1" stroke-linejoin="round"/></g>
<g class="tk"><text x="129.95" y="91.20" font-size="26.00" textLength="13.59" lengthAdjust="spacingAndGlyphs">5</text><text x="130.06" y="186.60" font-size="26.00" textLength="13.58" lengthAdjust="spacingAndGlyphs">0</text><text x="121.67" y="283.00" font-size="26.00" textLength="22.04" lengthAdjust="spacingAndGlyphs">-5</text><text x="91.92" y="52.60" font-size="26.00" textLength="61.72" lengthAdjust="spacingAndGlyphs"><tspan font-size="1.18em" dy="0.12em">×</tspan><tspan dx="0.12em" dy="-0.12em">10</tspan><tspan font-size="0.8em" dy="-0.64em">-3</tspan></text><text x="139.24" y="321.40" font-size="26.00" textLength="13.34" lengthAdjust="spacingAndGlyphs">5</text><text x="223.36" y="365.70" font-size="26.00" textLength="13.54" lengthAdjust="spacingAndGlyphs">0</text><text x="298.50" y="409.70" font-size="26.00" textLength="21.80" lengthAdjust="spacingAndGlyphs">-5</text><text x="81.54" y="384.60" font-size="26.00" textLength="62.26" lengthAdjust="spacingAndGlyphs"><tspan font-size="1.18em" dy="0.12em">×</tspan><tspan dx="0.12em" dy="-0.12em">10</tspan><tspan font-size="0.8em" dy="-0.64em">-3</tspan></text><text x="363.80" y="414.40" font-size="26.00" textLength="21.53" lengthAdjust="spacingAndGlyphs">-5</text><text x="471.88" y="379.80" font-size="26.00" textLength="14.37" lengthAdjust="spacingAndGlyphs">0</text><text x="580.60" y="346.40" font-size="26.00" textLength="13.90" lengthAdjust="spacingAndGlyphs">5</text><text x="581.73" y="399.40" font-size="26.00" textLength="60.68" lengthAdjust="spacingAndGlyphs"><tspan font-size="1.18em" dy="0.12em">×</tspan><tspan dx="0.12em" dy="-0.12em">10</tspan><tspan font-size="0.8em" dy="-0.64em">-3</tspan></text><text x="733.33" y="103.40" font-size="26.00" textLength="15.09" lengthAdjust="spacingAndGlyphs">5</text><text x="733.55" y="195.90" font-size="26.00" textLength="14.20" lengthAdjust="spacingAndGlyphs">0</text><text x="724.17" y="290.80" font-size="26.00" textLength="24.13" lengthAdjust="spacingAndGlyphs">-5</text><text x="693.63" y="59.00" font-size="26.00" textLength="62.31" lengthAdjust="spacingAndGlyphs"><tspan font-size="1.18em" dy="0.12em">×</tspan><tspan dx="0.12em" dy="-0.12em">10</tspan><tspan font-size="0.8em" dy="-0.64em">-3</tspan></text><text x="747.08" y="335.70" font-size="26.00" textLength="13.52" lengthAdjust="spacingAndGlyphs">5</text><text x="829.93" y="378.00" font-size="26.00" textLength="14.52" lengthAdjust="spacingAndGlyphs">0</text><text x="903.49" y="419.50" font-size="26.00" textLength="21.02" lengthAdjust="spacingAndGlyphs">-5</text><text x="684.34" y="394.60" font-size="26.00" textLength="63.28" lengthAdjust="spacingAndGlyphs"><tspan font-size="1.18em" dy="0.12em">×</tspan><tspan dx="0.12em" dy="-0.12em">10</tspan><tspan font-size="0.8em" dy="-0.64em">-3</tspan></text><text x="980.54" y="423.10" font-size="26.00" textLength="21.55" lengthAdjust="spacingAndGlyphs">-5</text><text x="1086.24" y="391.10" font-size="26.00" textLength="13.54" lengthAdjust="spacingAndGlyphs">0</text><text x="1192.81" y="358.50" font-size="26.00" textLength="14.51" lengthAdjust="spacingAndGlyphs">5</text><text x="1199.24" y="412.20" font-size="26.00" textLength="61.75" lengthAdjust="spacingAndGlyphs"><tspan font-size="1.18em" dy="0.12em">×</tspan><tspan dx="0.12em" dy="-0.12em">10</tspan><tspan font-size="0.8em" dy="-0.64em">-3</tspan></text><text x="115.17" y="595.40" font-size="26.00" textLength="45.95" lengthAdjust="spacingAndGlyphs">0.02</text><text x="147.16" y="661.20" font-size="26.00" textLength="13.35" lengthAdjust="spacingAndGlyphs">0</text><text x="107.09" y="728.70" font-size="26.00" textLength="53.88" lengthAdjust="spacingAndGlyphs">-0.02</text><text x="107.13" y="792.70" font-size="26.00" textLength="52.80" lengthAdjust="spacingAndGlyphs">-0.04</text><text x="134.32" y="827.00" font-size="26.00" textLength="45.81" lengthAdjust="spacingAndGlyphs">0.02</text><text x="232.08" y="861.10" font-size="26.00" textLength="13.80" lengthAdjust="spacingAndGlyphs">0</text><text x="257.57" y="896.70" font-size="26.00" textLength="54.29" lengthAdjust="spacingAndGlyphs">-0.02</text><text x="415.54" y="903.80" font-size="26.00" textLength="55.76" lengthAdjust="spacingAndGlyphs">-0.02</text><text x="500.40" y="874.90" font-size="26.00" textLength="15.40" lengthAdjust="spacingAndGlyphs">0</text><text x="587.17" y="848.80" font-size="26.00" textLength="46.27" lengthAdjust="spacingAndGlyphs">0.02</text><text x="742.64" y="571.20" font-size="26.00" textLength="48.06" lengthAdjust="spacingAndGlyphs">0.04</text><text x="742.52" y="640.70" font-size="26.00" textLength="49.11" lengthAdjust="spacingAndGlyphs">0.02</text><text x="776.59" y="709.20" font-size="26.00" textLength="14.52" lengthAdjust="spacingAndGlyphs">0</text><text x="733.59" y="778.80" font-size="26.00" textLength="58.29" lengthAdjust="spacingAndGlyphs">-0.02</text><text x="773.58" y="836.90" font-size="26.00" textLength="48.98" lengthAdjust="spacingAndGlyphs">0.02</text><text x="876.40" y="875.50" font-size="26.00" textLength="15.04" lengthAdjust="spacingAndGlyphs">0</text><text x="903.62" y="913.90" font-size="26.00" textLength="56.38" lengthAdjust="spacingAndGlyphs">-0.02</text><text x="1021.60" y="917.60" font-size="26.00" textLength="56.86" lengthAdjust="spacingAndGlyphs">-0.02</text><text x="1112.07" y="888.30" font-size="26.00" textLength="16.11" lengthAdjust="spacingAndGlyphs">0</text><text x="1202.16" y="859.10" font-size="26.00" textLength="48.31" lengthAdjust="spacingAndGlyphs">0.02</text></g>
<g class="al"><text transform="translate(109.70,240.12) rotate(-90)" font-size="29.50" textLength="111.55" lengthAdjust="spacingAndGlyphs"><tspan font-style="italic">u</tspan>(<tspan font-style="italic">t</tspan> <tspan font-size="1.3em" dy="0.09em">+</tspan><tspan dy="-0.12em"> </tspan>2<tspan font-style="italic">τ</tspan>)</text><text x="166.87" y="410.25" font-size="29.50" textLength="99.26" lengthAdjust="spacingAndGlyphs"><tspan font-style="italic">u</tspan>(<tspan font-style="italic">t</tspan> <tspan font-size="1.3em" dy="0.09em">+</tspan><tspan dy="-0.12em"> </tspan><tspan font-style="italic">τ</tspan>)</text><text x="460.58" y="411.55" font-size="29.50" textLength="47.56" lengthAdjust="spacingAndGlyphs"><tspan font-style="italic">u</tspan>(<tspan font-style="italic">t</tspan>)</text><text transform="translate(711.88,249.11) rotate(-90)" font-size="29.50" textLength="114.70" lengthAdjust="spacingAndGlyphs"><tspan font-style="italic">u</tspan>(<tspan font-style="italic">t</tspan> <tspan font-size="1.3em" dy="0.09em">+</tspan><tspan dy="-0.12em"> </tspan>2<tspan font-style="italic">τ</tspan>)</text><text x="764.76" y="414.16" font-size="29.50" textLength="100.47" lengthAdjust="spacingAndGlyphs"><tspan font-style="italic">u</tspan>(<tspan font-style="italic">t</tspan> <tspan font-size="1.3em" dy="0.09em">+</tspan><tspan dy="-0.12em"> </tspan><tspan font-style="italic">τ</tspan>)</text><text x="1083.09" y="420.84" font-size="29.50" textLength="49.69" lengthAdjust="spacingAndGlyphs"><tspan font-style="italic">u</tspan>(<tspan font-style="italic">t</tspan>)</text><text transform="translate(96.35,737.64) rotate(-90)" font-size="29.50" textLength="114.34" lengthAdjust="spacingAndGlyphs"><tspan font-style="italic">u</tspan>(<tspan font-style="italic">t</tspan> <tspan font-size="1.3em" dy="0.09em">+</tspan><tspan dy="-0.12em"> </tspan>2<tspan font-style="italic">τ</tspan>)</text><text x="138.08" y="890.36" font-size="29.50" textLength="98.45" lengthAdjust="spacingAndGlyphs"><tspan font-style="italic">u</tspan>(<tspan font-style="italic">t</tspan> <tspan font-size="1.3em" dy="0.09em">+</tspan><tspan dy="-0.12em"> </tspan><tspan font-style="italic">τ</tspan>)</text><text x="499.78" y="905.64" font-size="29.50" textLength="49.80" lengthAdjust="spacingAndGlyphs"><tspan font-style="italic">u</tspan>(<tspan font-style="italic">t</tspan>)</text><text transform="translate(729.93,738.99) rotate(-90)" font-size="29.50" textLength="118.54" lengthAdjust="spacingAndGlyphs"><tspan font-style="italic">u</tspan>(<tspan font-style="italic">t</tspan> <tspan font-size="1.3em" dy="0.09em">+</tspan><tspan dy="-0.12em"> </tspan>2<tspan font-style="italic">τ</tspan>)</text><text x="776.93" y="893.43" font-size="29.50" textLength="102.67" lengthAdjust="spacingAndGlyphs"><tspan font-style="italic">u</tspan>(<tspan font-style="italic">t</tspan> <tspan font-size="1.3em" dy="0.09em">+</tspan><tspan dy="-0.12em"> </tspan><tspan font-style="italic">τ</tspan>)</text><text x="1126.65" y="910.03" font-size="29.50" textLength="50.67" lengthAdjust="spacingAndGlyphs"><tspan font-style="italic">u</tspan>(<tspan font-style="italic">t</tspan>)</text></g>
<g class="big"><text transform="translate(35.29,354.10) rotate(-90)" font-size="51.60" textLength="225.92" lengthAdjust="spacingAndGlyphs"><tspan font-style="italic">Re</tspan> = 3400</text><text transform="translate(34.72,798.44) rotate(-90)" font-size="51.18" textLength="223.24" lengthAdjust="spacingAndGlyphs"><tspan font-style="italic">Re</tspan> = 5000</text><text x="275.34" y="996.10" font-size="50.00" textLength="192.45" lengthAdjust="spacingAndGlyphs"><tspan font-style="italic">Ma</tspan> = 0.1</text><text x="924.34" y="995.30" font-size="50.00" textLength="191.97" lengthAdjust="spacingAndGlyphs"><tspan font-style="italic">Ma</tspan> = 0.3</text></g>
</svg>
</body></html>
